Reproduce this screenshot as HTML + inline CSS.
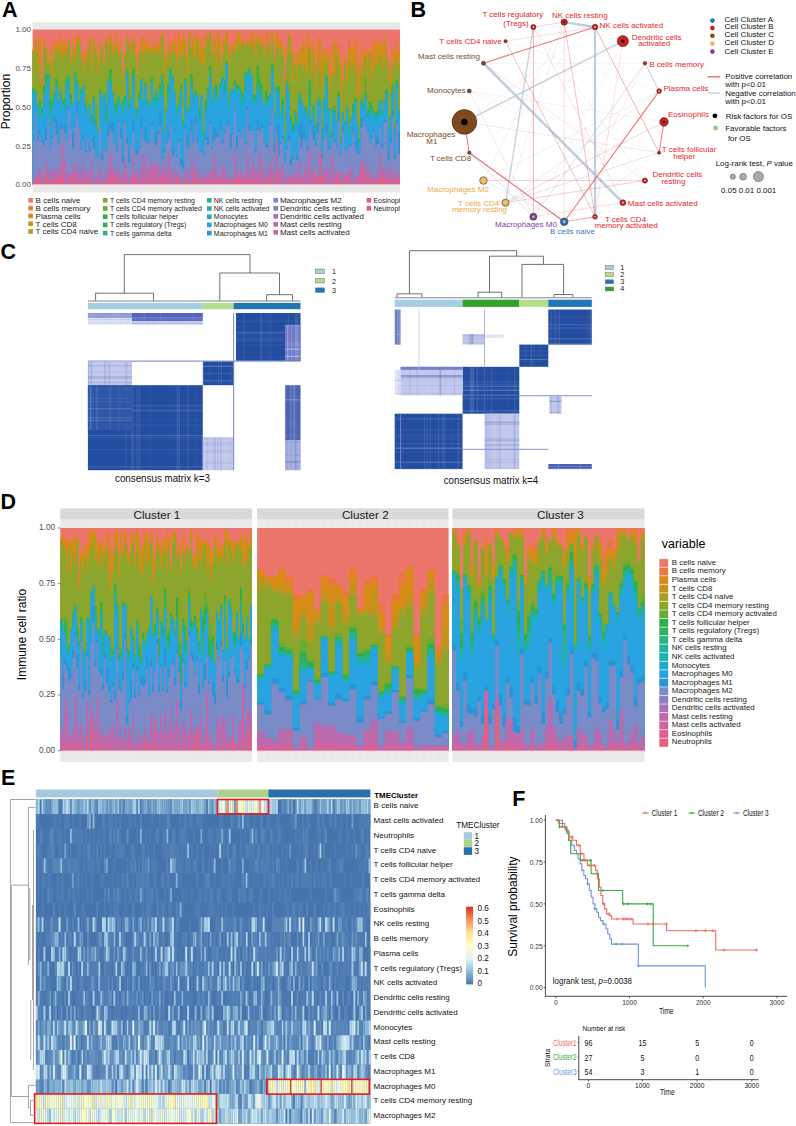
<!DOCTYPE html>
<html><head><meta charset="utf-8"><style>html,body{margin:0;padding:0;background:#fff;width:796px;height:1126px;overflow:hidden}svg{display:block}</style></head>
<body><svg width="796" height="1126" viewBox="0 0 796 1126" font-family='"Liberation Sans", sans-serif'>
<defs><clipPath id="clipA"><rect x="0" y="0" width="400" height="240"/></clipPath></defs>
<g clip-path="url(#clipA)"><rect x="32.6" y="22.3" width="367.4" height="7.2" fill="#EBEBEB"/>
<path d="M33.64 22.3v7.2M35.71 22.3v7.2M37.79 22.3v7.2M39.86 22.3v7.2M41.94 22.3v7.2M44.02 22.3v7.2M46.09 22.3v7.2M48.17 22.3v7.2M50.24 22.3v7.2M52.32 22.3v7.2M54.39 22.3v7.2M56.47 22.3v7.2M58.55 22.3v7.2M60.62 22.3v7.2M62.7 22.3v7.2M64.77 22.3v7.2M66.85 22.3v7.2M68.92 22.3v7.2M71 22.3v7.2M73.08 22.3v7.2M75.15 22.3v7.2M77.23 22.3v7.2M79.3 22.3v7.2M81.38 22.3v7.2M83.45 22.3v7.2M85.53 22.3v7.2M87.61 22.3v7.2M89.68 22.3v7.2M91.76 22.3v7.2M93.83 22.3v7.2M95.91 22.3v7.2M97.98 22.3v7.2M100.06 22.3v7.2M102.14 22.3v7.2M104.21 22.3v7.2M106.29 22.3v7.2M108.36 22.3v7.2M110.44 22.3v7.2M112.51 22.3v7.2M114.59 22.3v7.2M116.67 22.3v7.2M118.74 22.3v7.2M120.82 22.3v7.2M122.89 22.3v7.2M124.97 22.3v7.2M127.04 22.3v7.2M129.12 22.3v7.2M131.2 22.3v7.2M133.27 22.3v7.2M135.35 22.3v7.2M137.42 22.3v7.2M139.5 22.3v7.2M141.57 22.3v7.2M143.65 22.3v7.2M145.73 22.3v7.2M147.8 22.3v7.2M149.88 22.3v7.2M151.95 22.3v7.2M154.03 22.3v7.2M156.1 22.3v7.2M158.18 22.3v7.2M160.26 22.3v7.2M162.33 22.3v7.2M164.41 22.3v7.2M166.48 22.3v7.2M168.56 22.3v7.2M170.63 22.3v7.2M172.71 22.3v7.2M174.79 22.3v7.2M176.86 22.3v7.2M178.94 22.3v7.2M181.01 22.3v7.2M183.09 22.3v7.2M185.16 22.3v7.2M187.24 22.3v7.2M189.32 22.3v7.2M191.39 22.3v7.2M193.47 22.3v7.2M195.54 22.3v7.2M197.62 22.3v7.2M199.69 22.3v7.2M201.77 22.3v7.2M203.85 22.3v7.2M205.92 22.3v7.2M208 22.3v7.2M210.07 22.3v7.2M212.15 22.3v7.2M214.22 22.3v7.2M216.3 22.3v7.2M218.38 22.3v7.2M220.45 22.3v7.2M222.53 22.3v7.2M224.6 22.3v7.2M226.68 22.3v7.2M228.75 22.3v7.2M230.83 22.3v7.2M232.91 22.3v7.2M234.98 22.3v7.2M237.06 22.3v7.2M239.13 22.3v7.2M241.21 22.3v7.2M243.28 22.3v7.2M245.36 22.3v7.2M247.44 22.3v7.2M249.51 22.3v7.2M251.59 22.3v7.2M253.66 22.3v7.2M255.74 22.3v7.2M257.81 22.3v7.2M259.89 22.3v7.2M261.97 22.3v7.2M264.04 22.3v7.2M266.12 22.3v7.2M268.19 22.3v7.2M270.27 22.3v7.2M272.34 22.3v7.2M274.42 22.3v7.2M276.5 22.3v7.2M278.57 22.3v7.2M280.65 22.3v7.2M282.72 22.3v7.2M284.8 22.3v7.2M286.87 22.3v7.2M288.95 22.3v7.2M291.03 22.3v7.2M293.1 22.3v7.2M295.18 22.3v7.2M297.25 22.3v7.2M299.33 22.3v7.2M301.4 22.3v7.2M303.48 22.3v7.2M305.56 22.3v7.2M307.63 22.3v7.2M309.71 22.3v7.2M311.78 22.3v7.2M313.86 22.3v7.2M315.93 22.3v7.2M318.01 22.3v7.2M320.09 22.3v7.2M322.16 22.3v7.2M324.24 22.3v7.2M326.31 22.3v7.2M328.39 22.3v7.2M330.46 22.3v7.2M332.54 22.3v7.2M334.62 22.3v7.2M336.69 22.3v7.2M338.77 22.3v7.2M340.84 22.3v7.2M342.92 22.3v7.2M344.99 22.3v7.2M347.07 22.3v7.2M349.15 22.3v7.2M351.22 22.3v7.2M353.3 22.3v7.2M355.37 22.3v7.2M357.45 22.3v7.2M359.52 22.3v7.2M361.6 22.3v7.2M363.68 22.3v7.2M365.75 22.3v7.2M367.83 22.3v7.2M369.9 22.3v7.2M371.98 22.3v7.2M374.05 22.3v7.2M376.13 22.3v7.2M378.21 22.3v7.2M380.28 22.3v7.2M382.36 22.3v7.2M384.43 22.3v7.2M386.51 22.3v7.2M388.58 22.3v7.2M390.66 22.3v7.2M392.74 22.3v7.2M394.81 22.3v7.2M396.89 22.3v7.2M398.96 22.3v7.2" stroke="#E2E2E2" stroke-width="0.5"/>
<path d="M32.6 184.4L32.6 29.5H34.68L34.68 29.5H36.75L36.75 29.5H38.83L38.83 29.5H40.9L40.9 29.5H42.98L42.98 29.5H45.05L45.05 29.5H47.13L47.13 29.5H49.21L49.21 29.5H51.28L51.28 29.5H53.36L53.36 29.5H55.43L55.43 29.5H57.51L57.51 29.5H59.58L59.58 29.5H61.66L61.66 29.5H63.74L63.74 29.5H65.81L65.81 29.5H67.89L67.89 29.5H69.96L69.96 29.5H72.04L72.04 29.5H74.11L74.11 29.5H76.19L76.19 29.5H78.27L78.27 29.5H80.34L80.34 29.5H82.42L82.42 29.5H84.49L84.49 29.5H86.57L86.57 29.5H88.64L88.64 29.5H90.72L90.72 29.5H92.8L92.8 29.5H94.87L94.87 29.5H96.95L96.95 29.5H99.02L99.02 29.5H101.1L101.1 29.5H103.17L103.17 29.5H105.25L105.25 29.5H107.33L107.33 29.5H109.4L109.4 29.5H111.48L111.48 29.5H113.55L113.55 29.5H115.63L115.63 29.5H117.7L117.7 29.5H119.78L119.78 29.5H121.86L121.86 29.5H123.93L123.93 29.5H126.01L126.01 29.5H128.08L128.08 29.5H130.16L130.16 29.5H132.23L132.23 29.5H134.31L134.31 29.5H136.39L136.39 29.5H138.46L138.46 29.5H140.54L140.54 29.5H142.61L142.61 29.5H144.69L144.69 29.5H146.76L146.76 29.5H148.84L148.84 29.5H150.92L150.92 29.5H152.99L152.99 29.5H155.07L155.07 29.5H157.14L157.14 29.5H159.22L159.22 29.5H161.29L161.29 29.5H163.37L163.37 29.5H165.45L165.45 29.5H167.52L167.52 29.5H169.6L169.6 29.5H171.67L171.67 29.5H173.75L173.75 29.5H175.82L175.82 29.5H177.9L177.9 29.5H179.98L179.98 29.5H182.05L182.05 29.5H184.13L184.13 29.5H186.2L186.2 29.5H188.28L188.28 29.5H190.35L190.35 29.5H192.43L192.43 29.5H194.51L194.51 29.5H196.58L196.58 29.5H198.66L198.66 29.5H200.73L200.73 29.5H202.81L202.81 29.5H204.88L204.88 29.5H206.96L206.96 29.5H209.04L209.04 29.5H211.11L211.11 29.5H213.19L213.19 29.5H215.26L215.26 29.5H217.34L217.34 29.5H219.41L219.41 29.5H221.49L221.49 29.5H223.56L223.56 29.5H225.64L225.64 29.5H227.72L227.72 29.5H229.79L229.79 29.5H231.87L231.87 29.5H233.94L233.94 29.5H236.02L236.02 29.5H238.09L238.09 29.5H240.17L240.17 29.5H242.25L242.25 29.5H244.32L244.32 29.5H246.4L246.4 29.5H248.47L248.47 29.5H250.55L250.55 29.5H252.62L252.62 29.5H254.7L254.7 29.5H256.78L256.78 29.5H258.85L258.85 29.5H260.93L260.93 29.5H263L263 29.5H265.08L265.08 29.5H267.15L267.15 29.5H269.23L269.23 29.5H271.31L271.31 29.5H273.38L273.38 29.5H275.46L275.46 29.5H277.53L277.53 29.5H279.61L279.61 29.5H281.68L281.68 29.5H283.76L283.76 29.5H285.84L285.84 29.5H287.91L287.91 29.5H289.99L289.99 29.5H292.06L292.06 29.5H294.14L294.14 29.5H296.21L296.21 29.5H298.29L298.29 29.5H300.37L300.37 29.5H302.44L302.44 29.5H304.52L304.52 29.5H306.59L306.59 29.5H308.67L308.67 29.5H310.74L310.74 29.5H312.82L312.82 29.5H314.9L314.9 29.5H316.97L316.97 29.5H319.05L319.05 29.5H321.12L321.12 29.5H323.2L323.2 29.5H325.27L325.27 29.5H327.35L327.35 29.5H329.43L329.43 29.5H331.5L331.5 29.5H333.58L333.58 29.5H335.65L335.65 29.5H337.73L337.73 29.5H339.8L339.8 29.5H341.88L341.88 29.5H343.96L343.96 29.5H346.03L346.03 29.5H348.11L348.11 29.5H350.18L350.18 29.5H352.26L352.26 29.5H354.33L354.33 29.5H356.41L356.41 29.5H358.49L358.49 29.5H360.56L360.56 29.5H362.64L362.64 29.5H364.71L364.71 29.5H366.79L366.79 29.5H368.86L368.86 29.5H370.94L370.94 29.5H373.02L373.02 29.5H375.09L375.09 29.5H377.17L377.17 29.5H379.24L379.24 29.5H381.32L381.32 29.5H383.39L383.39 29.5H385.47L385.47 29.5H387.55L387.55 29.5H389.62L389.62 29.5H391.7L391.7 29.5H393.77L393.77 29.5H395.85L395.85 29.5H397.92L397.92 29.5H400L400 184.4Z" fill="#EC756C"/>
<path d="M32.6 184.4L32.6 48.82H34.68L34.68 37.45H36.75L36.75 47.53H38.83L38.83 38.97H40.9L40.9 78.05H42.98L42.98 39.46H45.05L45.05 47.01H47.13L47.13 59.13H49.21L49.21 49.52H51.28L51.28 61.29H53.36L53.36 43.36H55.43L55.43 40.9H57.51L57.51 42.12H59.58L59.58 36.18H61.66L61.66 45.21H63.74L63.74 41.47H65.81L65.81 46.73H67.89L67.89 37.35H69.96L69.96 56.26H72.04L72.04 38.82H74.11L74.11 44.63H76.19L76.19 34.64H78.27L78.27 37.24H80.34L80.34 51.66H82.42L82.42 64.44H84.49L84.49 50.69H86.57L86.57 49.6H88.64L88.64 37.19H90.72L90.72 49.83H92.8L92.8 38.18H94.87L94.87 46.71H96.95L96.95 55.44H99.02L99.02 42.13H101.1L101.1 44.94H103.17L103.17 60.07H105.25L105.25 37.21H107.33L107.33 44.15H109.4L109.4 35.33H111.48L111.48 44.68H113.55L113.55 43.28H115.63L115.63 34.96H117.7L117.7 52.54H119.78L119.78 43.09H121.86L121.86 71.72H123.93L123.93 51.89H126.01L126.01 34.97H128.08L128.08 39.91H130.16L130.16 43.63H132.23L132.23 35.65H134.31L134.31 42.93H136.39L136.39 70.25H138.46L138.46 50.52H140.54L140.54 37.44H142.61L142.61 37.37H144.69L144.69 44.22H146.76L146.76 35.83H148.84L148.84 46.55H150.92L150.92 46.52H152.99L152.99 41H155.07L155.07 40.62H157.14L157.14 42.93H159.22L159.22 37.03H161.29L161.29 32.82H163.37L163.37 53.41H165.45L165.45 50.52H167.52L167.52 41.25H169.6L169.6 51.94H171.67L171.67 42.25H173.75L173.75 34.87H175.82L175.82 44.64H177.9L177.9 32.1H179.98L179.98 39.83H182.05L182.05 34.59H184.13L184.13 40.58H186.2L186.2 54.26H188.28L188.28 32.74H190.35L190.35 47.72H192.43L192.43 39.57H194.51L194.51 33.23H196.58L196.58 35.5H198.66L198.66 42.88H200.73L200.73 39.54H202.81L202.81 47.89H204.88L204.88 33.92H206.96L206.96 36.06H209.04L209.04 31.26H211.11L211.11 52.59H213.19L213.19 32.96H215.26L215.26 39.74H217.34L217.34 32.66H219.41L219.41 59.42H221.49L221.49 41.23H223.56L223.56 37.61H225.64L225.64 31.44H227.72L227.72 44.75H229.79L229.79 51.59H231.87L231.87 42.61H233.94L233.94 38.69H236.02L236.02 33.68H238.09L238.09 32.36H240.17L240.17 39.4H242.25L242.25 39.45H244.32L244.32 44.91H246.4L246.4 40.15H248.47L248.47 41.45H250.55L250.55 32.44H252.62L252.62 33.61H254.7L254.7 41.66H256.78L256.78 34.43H258.85L258.85 38.38H260.93L260.93 35.16H263L263 44.67H265.08L265.08 33.54H267.15L267.15 32.54H269.23L269.23 47.77H271.31L271.31 32.07H273.38L273.38 56.59H275.46L275.46 31.92H277.53L277.53 36.54H279.61L279.61 38.43H281.68L281.68 46.09H283.76L283.76 75.44H285.84L285.84 48.16H287.91L287.91 33.57H289.99L289.99 36.85H292.06L292.06 51.99H294.14L294.14 63.92H296.21L296.21 51.66H298.29L298.29 49.72H300.37L300.37 47.59H302.44L302.44 42.47H304.52L304.52 47.01H306.59L306.59 36.11H308.67L308.67 41.97H310.74L310.74 51.14H312.82L312.82 43.61H314.9L314.9 65.79H316.97L316.97 37.39H319.05L319.05 38.07H321.12L321.12 55.4H323.2L323.2 50.11H325.27L325.27 48.21H327.35L327.35 51.43H329.43L329.43 68.87H331.5L331.5 44.16H333.58L333.58 40.73H335.65L335.65 46.77H337.73L337.73 42.83H339.8L339.8 60.26H341.88L341.88 79.14H343.96L343.96 53.9H346.03L346.03 63.43H348.11L348.11 41.75H350.18L350.18 49.63H352.26L352.26 47.24H354.33L354.33 38.13H356.41L356.41 55.68H358.49L358.49 71.7H360.56L360.56 46.51H362.64L362.64 49.58H364.71L364.71 49.62H366.79L366.79 52.38H368.86L368.86 49.23H370.94L370.94 49.58H373.02L373.02 38.6H375.09L375.09 43.83H377.17L377.17 40.14H379.24L379.24 43.88H381.32L381.32 43.15H383.39L383.39 38.71H385.47L385.47 46.07H387.55L387.55 60.17H389.62L389.62 74.78H391.7L391.7 48.25H393.77L393.77 52.23H395.85L395.85 40.19H397.92L397.92 51.69H400L400 184.4Z" fill="#E9773F"/>
<path d="M32.6 184.4L32.6 49.27H34.68L34.68 37.55H36.75L36.75 56.04H38.83L38.83 38.97H40.9L40.9 78.43H42.98L42.98 39.46H45.05L45.05 47.01H47.13L47.13 59.13H49.21L49.21 50.2H51.28L51.28 61.31H53.36L53.36 46.13H55.43L55.43 44.04H57.51L57.51 43.35H59.58L59.58 40.85H61.66L61.66 45.56H63.74L63.74 41.59H65.81L65.81 46.73H67.89L67.89 37.63H69.96L69.96 56.32H72.04L72.04 42.67H74.11L74.11 46.68H76.19L76.19 35.17H78.27L78.27 37.64H80.34L80.34 52.82H82.42L82.42 64.53H84.49L84.49 55.41H86.57L86.57 49.63H88.64L88.64 37.2H90.72L90.72 53.81H92.8L92.8 38.22H94.87L94.87 47.04H96.95L96.95 55.63H99.02L99.02 42.14H101.1L101.1 45.32H103.17L103.17 62.58H105.25L105.25 37.63H107.33L107.33 44.19H109.4L109.4 35.33H111.48L111.48 47.54H113.55L113.55 43.32H115.63L115.63 35.55H117.7L117.7 54.19H119.78L119.78 44.11H121.86L121.86 71.72H123.93L123.93 52.13H126.01L126.01 34.97H128.08L128.08 42.81H130.16L130.16 48.51H132.23L132.23 35.67H134.31L134.31 42.93H136.39L136.39 70.47H138.46L138.46 51.65H140.54L140.54 37.61H142.61L142.61 43.19H144.69L144.69 44.22H146.76L146.76 37.36H148.84L148.84 46.55H150.92L150.92 46.52H152.99L152.99 48.07H155.07L155.07 40.63H157.14L157.14 47.9H159.22L159.22 42.07H161.29L161.29 33.14H163.37L163.37 55.01H165.45L165.45 51.49H167.52L167.52 42.26H169.6L169.6 54.52H171.67L171.67 42.3H173.75L173.75 40.33H175.82L175.82 53.01H177.9L177.9 33.44H179.98L179.98 39.9H182.05L182.05 36.97H184.13L184.13 40.59H186.2L186.2 57.3H188.28L188.28 32.76H190.35L190.35 47.74H192.43L192.43 40.29H194.51L194.51 35.49H196.58L196.58 35.52H198.66L198.66 44.82H200.73L200.73 40.51H202.81L202.81 48.08H204.88L204.88 34.7H206.96L206.96 38.09H209.04L209.04 31.85H211.11L211.11 53.36H213.19L213.19 38.47H215.26L215.26 39.82H217.34L217.34 32.7H219.41L219.41 59.54H221.49L221.49 41.27H223.56L223.56 37.99H225.64L225.64 31.51H227.72L227.72 45.39H229.79L229.79 53.42H231.87L231.87 42.87H233.94L233.94 44.45H236.02L236.02 33.68H238.09L238.09 32.36H240.17L240.17 40.37H242.25L242.25 39.6H244.32L244.32 45.58H246.4L246.4 41.14H248.47L248.47 41.45H250.55L250.55 34.47H252.62L252.62 33.61H254.7L254.7 42.55H256.78L256.78 34.43H258.85L258.85 38.62H260.93L260.93 35.16H263L263 44.7H265.08L265.08 52.47H267.15L267.15 36.21H269.23L269.23 47.77H271.31L271.31 32.21H273.38L273.38 56.92H275.46L275.46 34.75H277.53L277.53 36.94H279.61L279.61 43.8H281.68L281.68 46.09H283.76L283.76 84.3H285.84L285.84 48.23H287.91L287.91 34.1H289.99L289.99 37.06H292.06L292.06 51.99H294.14L294.14 64.09H296.21L296.21 53.95H298.29L298.29 50.9H300.37L300.37 49.7H302.44L302.44 42.49H304.52L304.52 47.88H306.59L306.59 36.48H308.67L308.67 42H310.74L310.74 51.14H312.82L312.82 49.31H314.9L314.9 75.14H316.97L316.97 46.97H319.05L319.05 41.42H321.12L321.12 55.46H323.2L323.2 52.84H325.27L325.27 48.92H327.35L327.35 51.43H329.43L329.43 74.98H331.5L331.5 53.7H333.58L333.58 40.78H335.65L335.65 47.68H337.73L337.73 53.06H339.8L339.8 61.45H341.88L341.88 80.68H343.96L343.96 55.19H346.03L346.03 63.51H348.11L348.11 47.14H350.18L350.18 50.64H352.26L352.26 48.08H354.33L354.33 40.69H356.41L356.41 63.15H358.49L358.49 74.1H360.56L360.56 51.87H362.64L362.64 52.64H364.71L364.71 50.71H366.79L366.79 57.08H368.86L368.86 49.44H370.94L370.94 59.25H373.02L373.02 38.61H375.09L375.09 45.06H377.17L377.17 42.56H379.24L379.24 43.91H381.32L381.32 43.27H383.39L383.39 39.44H385.47L385.47 53.48H387.55L387.55 61.6H389.62L389.62 74.85H391.7L391.7 49.43H393.77L393.77 59.4H395.85L395.85 44.37H397.92L397.92 51.7H400L400 184.4Z" fill="#D98B17"/>
<path d="M32.6 184.4L32.6 49.86H34.68L34.68 40.14H36.75L36.75 60.97H38.83L38.83 41.72H40.9L40.9 83.74H42.98L42.98 42.66H45.05L45.05 48.56H47.13L47.13 61.17H49.21L49.21 50.76H51.28L51.28 71.5H53.36L53.36 46.14H55.43L55.43 48.45H57.51L57.51 54.52H59.58L59.58 44.88H61.66L61.66 54.15H63.74L63.74 49.41H65.81L65.81 47.5H67.89L67.89 39.38H69.96L69.96 57.24H72.04L72.04 44.18H74.11L74.11 52.89H76.19L76.19 37.71H78.27L78.27 38.68H80.34L80.34 53.43H82.42L82.42 65.97H84.49L84.49 59.07H86.57L86.57 51.49H88.64L88.64 38.5H90.72L90.72 69.68H92.8L92.8 38.46H94.87L94.87 47.91H96.95L96.95 56.18H99.02L99.02 43.37H101.1L101.1 47.58H103.17L103.17 62.88H105.25L105.25 38.35H107.33L107.33 46.72H109.4L109.4 35.69H111.48L111.48 56.62H113.55L113.55 49.82H115.63L115.63 38.48H117.7L117.7 55.92H119.78L119.78 46.08H121.86L121.86 73.45H123.93L123.93 53.26H126.01L126.01 35.14H128.08L128.08 45.18H130.16L130.16 51.36H132.23L132.23 38.95H134.31L134.31 55.89H136.39L136.39 70.59H138.46L138.46 53.36H140.54L140.54 38.7H142.61L142.61 53.14H144.69L144.69 48.1H146.76L146.76 49.47H148.84L148.84 46.66H150.92L150.92 47.72H152.99L152.99 52.44H155.07L155.07 44.98H157.14L157.14 49.62H159.22L159.22 42.51H161.29L161.29 33.45H163.37L163.37 55.16H165.45L165.45 59.34H167.52L167.52 44.58H169.6L169.6 55.5H171.67L171.67 42.61H173.75L173.75 50.44H175.82L175.82 54.16H177.9L177.9 47.51H179.98L179.98 49.12H182.05L182.05 38.85H184.13L184.13 41.11H186.2L186.2 64.05H188.28L188.28 34.79H190.35L190.35 47.82H192.43L192.43 40.98H194.51L194.51 59.61H196.58L196.58 38.25H198.66L198.66 49.51H200.73L200.73 61.89H202.81L202.81 58.38H204.88L204.88 43.37H206.96L206.96 38.2H209.04L209.04 32.07H211.11L211.11 53.57H213.19L213.19 41.49H215.26L215.26 50.26H217.34L217.34 36.68H219.41L219.41 60.51H221.49L221.49 51.91H223.56L223.56 41.01H225.64L225.64 33.41H227.72L227.72 50.15H229.79L229.79 54.32H231.87L231.87 45.08H233.94L233.94 50.13H236.02L236.02 40.71H238.09L238.09 35.03H240.17L240.17 44.65H242.25L242.25 39.88H244.32L244.32 47.49H246.4L246.4 42.89H248.47L248.47 42.82H250.55L250.55 35.24H252.62L252.62 37.79H254.7L254.7 54.09H256.78L256.78 36.61H258.85L258.85 44.48H260.93L260.93 38.68H263L263 45.62H265.08L265.08 52.58H267.15L267.15 36.38H269.23L269.23 50.84H271.31L271.31 32.26H273.38L273.38 59.44H275.46L275.46 41.74H277.53L277.53 43.48H279.61L279.61 46.75H281.68L281.68 47.63H283.76L283.76 97.51H285.84L285.84 52.74H287.91L287.91 35.41H289.99L289.99 53.58H292.06L292.06 52.32H294.14L294.14 65.12H296.21L296.21 55.56H298.29L298.29 54.54H300.37L300.37 62.73H302.44L302.44 45.32H304.52L304.52 64.33H306.59L306.59 52.07H308.67L308.67 44.69H310.74L310.74 68.04H312.82L312.82 52.43H314.9L314.9 77.52H316.97L316.97 55.5H319.05L319.05 43.16H321.12L321.12 83.03H323.2L323.2 58.61H325.27L325.27 57.02H327.35L327.35 53.97H329.43L329.43 85.18H331.5L331.5 71.91H333.58L333.58 43.64H335.65L335.65 53.58H337.73L337.73 61.05H339.8L339.8 67.93H341.88L341.88 81.21H343.96L343.96 59.69H346.03L346.03 76.67H348.11L348.11 50.11H350.18L350.18 63.83H352.26L352.26 55.69H354.33L354.33 46.89H356.41L356.41 64.68H358.49L358.49 87.64H360.56L360.56 65.63H362.64L362.64 56.68H364.71L364.71 55.15H366.79L366.79 67.83H368.86L368.86 53.36H370.94L370.94 67.57H373.02L373.02 56.12H375.09L375.09 55.77H377.17L377.17 47.05H379.24L379.24 54.55H381.32L381.32 54.48H383.39L383.39 41.77H385.47L385.47 53.79H387.55L387.55 62.78H389.62L389.62 78.06H391.7L391.7 61.34H393.77L393.77 60.03H395.85L395.85 51.67H397.92L397.92 60.05H400L400 184.4Z" fill="#C4921A"/>
<path d="M32.6 184.4L32.6 51.68H34.68L34.68 50.45H36.75L36.75 63.58H38.83L38.83 76.05H40.9L40.9 89.78H42.98L42.98 47.36H45.05L45.05 49.46H47.13L47.13 63.31H49.21L49.21 52.17H51.28L51.28 72.73H53.36L53.36 48.28H55.43L55.43 48.5H57.51L57.51 56.05H59.58L59.58 51.58H61.66L61.66 59.88H63.74L63.74 53.92H65.81L65.81 52.37H67.89L67.89 42.56H69.96L69.96 63.24H72.04L72.04 46.23H74.11L74.11 59.31H76.19L76.19 43.29H78.27L78.27 45.05H80.34L80.34 58.04H82.42L82.42 72.35H84.49L84.49 60.73H86.57L86.57 62.99H88.64L88.64 43.57H90.72L90.72 70.51H92.8L92.8 49.18H94.87L94.87 49.44H96.95L96.95 72.03H99.02L99.02 60.24H101.1L101.1 49.2H103.17L103.17 64.47H105.25L105.25 40.45H107.33L107.33 57.53H109.4L109.4 44.48H111.48L111.48 56.85H113.55L113.55 53.85H115.63L115.63 48.23H117.7L117.7 56.92H119.78L119.78 46.54H121.86L121.86 74.31H123.93L123.93 57.28H126.01L126.01 40.49H128.08L128.08 46.75H130.16L130.16 51.96H132.23L132.23 40.13H134.31L134.31 56.75H136.39L136.39 74.5H138.46L138.46 54.51H140.54L140.54 51.62H142.61L142.61 62.8H144.69L144.69 51.17H146.76L146.76 52.34H148.84L148.84 53.44H150.92L150.92 48.67H152.99L152.99 54.06H155.07L155.07 55.72H157.14L157.14 52.46H159.22L159.22 48.77H161.29L161.29 36.11H163.37L163.37 79H165.45L165.45 65.27H167.52L167.52 46.52H169.6L169.6 55.83H171.67L171.67 51.98H173.75L173.75 52.2H175.82L175.82 66.58H177.9L177.9 57.89H179.98L179.98 57.81H182.05L182.05 55.57H184.13L184.13 54.21H186.2L186.2 75.18H188.28L188.28 38.94H190.35L190.35 48.44H192.43L192.43 54.31H194.51L194.51 60.9H196.58L196.58 40.37H198.66L198.66 59.17H200.73L200.73 63.58H202.81L202.81 67.63H204.88L204.88 47.99H206.96L206.96 39H209.04L209.04 33.26H211.11L211.11 57.44H213.19L213.19 51.09H215.26L215.26 69.85H217.34L217.34 48.16H219.41L219.41 65.74H221.49L221.49 57.55H223.56L223.56 50.41H225.64L225.64 43.54H227.72L227.72 65.73H229.79L229.79 55.66H231.87L231.87 48.65H233.94L233.94 53.66H236.02L236.02 45.96H238.09L238.09 42.99H240.17L240.17 47.24H242.25L242.25 43.91H244.32L244.32 47.66H246.4L246.4 42.98H248.47L248.47 47.42H250.55L250.55 45.12H252.62L252.62 48H254.7L254.7 57.29H256.78L256.78 41.68H258.85L258.85 46.22H260.93L260.93 46.87H263L263 48.61H265.08L265.08 55.6H267.15L267.15 40.64H269.23L269.23 55.65H271.31L271.31 42.53H273.38L273.38 60.94H275.46L275.46 45.31H277.53L277.53 51.12H279.61L279.61 47.42H281.68L281.68 54.85H283.76L283.76 101.31H285.84L285.84 58.37H287.91L287.91 37.03H289.99L289.99 54.35H292.06L292.06 80.82H294.14L294.14 65.94H296.21L296.21 62.85H298.29L298.29 62.96H300.37L300.37 65.25H302.44L302.44 65.27H304.52L304.52 70.06H306.59L306.59 77.57H308.67L308.67 48.04H310.74L310.74 73.61H312.82L312.82 58.26H314.9L314.9 88.33H316.97L316.97 66.68H319.05L319.05 70.7H321.12L321.12 86.05H323.2L323.2 62.31H325.27L325.27 59.68H327.35L327.35 72.42H329.43L329.43 91.53H331.5L331.5 74.64H333.58L333.58 76.56H335.65L335.65 54.94H337.73L337.73 66.58H339.8L339.8 97.85H341.88L341.88 84.53H343.96L343.96 62.67H346.03L346.03 81.89H348.11L348.11 62.83H350.18L350.18 69.43H352.26L352.26 66.56H354.33L354.33 72.14H356.41L356.41 96.74H358.49L358.49 95.85H360.56L360.56 73.56H362.64L362.64 68.52H364.71L364.71 57.3H366.79L366.79 93.63H368.86L368.86 53.6H370.94L370.94 78.7H373.02L373.02 69.98H375.09L375.09 64.18H377.17L377.17 60.09H379.24L379.24 56.23H381.32L381.32 69.64H383.39L383.39 66.35H385.47L385.47 58.18H387.55L387.55 79.6H389.62L389.62 93.84H391.7L391.7 64.37H393.77L393.77 68.83H395.85L395.85 60.92H397.92L397.92 69.75H400L400 184.4Z" fill="#AA9E25"/>
<path d="M32.6 184.4L32.6 51.68H34.68L34.68 50.45H36.75L36.75 63.6H38.83L38.83 76.05H40.9L40.9 89.78H42.98L42.98 47.36H45.05L45.05 56.57H47.13L47.13 63.31H49.21L49.21 64.24H51.28L51.28 72.88H53.36L53.36 58.22H55.43L55.43 50.82H57.51L57.51 56.05H59.58L59.58 51.58H61.66L61.66 61.47H63.74L63.74 53.92H65.81L65.81 52.4H67.89L67.89 42.56H69.96L69.96 64.07H72.04L72.04 57.78H74.11L74.11 59.33H76.19L76.19 43.46H78.27L78.27 45.97H80.34L80.34 58.04H82.42L82.42 72.43H84.49L84.49 61.07H86.57L86.57 62.99H88.64L88.64 43.59H90.72L90.72 70.51H92.8L92.8 58.66H94.87L94.87 49.89H96.95L96.95 74.9H99.02L99.02 60.24H101.1L101.1 49.49H103.17L103.17 64.5H105.25L105.25 40.45H107.33L107.33 57.88H109.4L109.4 44.48H111.48L111.48 56.85H113.55L113.55 53.92H115.63L115.63 48.24H117.7L117.7 56.92H119.78L119.78 53.26H121.86L121.86 74.74H123.93L123.93 57.28H126.01L126.01 40.49H128.08L128.08 47.35H130.16L130.16 52.61H132.23L132.23 40.13H134.31L134.31 56.76H136.39L136.39 74.5H138.46L138.46 54.51H140.54L140.54 51.95H142.61L142.61 62.8H144.69L144.69 51.17H146.76L146.76 52.38H148.84L148.84 53.44H150.92L150.92 48.67H152.99L152.99 54.07H155.07L155.07 55.72H157.14L157.14 52.46H159.22L159.22 53.99H161.29L161.29 36.11H163.37L163.37 79.03H165.45L165.45 65.27H167.52L167.52 54.21H169.6L169.6 55.83H171.67L171.67 51.98H173.75L173.75 52.2H175.82L175.82 67.12H177.9L177.9 57.93H179.98L179.98 58.53H182.05L182.05 55.62H184.13L184.13 54.29H186.2L186.2 75.18H188.28L188.28 40.23H190.35L190.35 49.68H192.43L192.43 54.36H194.51L194.51 61.05H196.58L196.58 40.45H198.66L198.66 59.17H200.73L200.73 63.6H202.81L202.81 68.41H204.88L204.88 48.04H206.96L206.96 39H209.04L209.04 33.26H211.11L211.11 57.45H213.19L213.19 51.09H215.26L215.26 73.4H217.34L217.34 50.32H219.41L219.41 65.74H221.49L221.49 57.63H223.56L223.56 51.29H225.64L225.64 43.54H227.72L227.72 65.73H229.79L229.79 55.66H231.87L231.87 48.65H233.94L233.94 53.67H236.02L236.02 49.99H238.09L238.09 42.99H240.17L240.17 47.24H242.25L242.25 43.98H244.32L244.32 47.67H246.4L246.4 43.08H248.47L248.47 47.47H250.55L250.55 45.32H252.62L252.62 48H254.7L254.7 57.3H256.78L256.78 41.68H258.85L258.85 46.22H260.93L260.93 46.87H263L263 55.52H265.08L265.08 56.6H267.15L267.15 42.53H269.23L269.23 55.65H271.31L271.31 43.09H273.38L273.38 60.94H275.46L275.46 47.57H277.53L277.53 52.8H279.61L279.61 49.34H281.68L281.68 54.88H283.76L283.76 104.96H285.84L285.84 58.37H287.91L287.91 37.1H289.99L289.99 54.5H292.06L292.06 82.94H294.14L294.14 65.95H296.21L296.21 80.57H298.29L298.29 62.96H300.37L300.37 65.25H302.44L302.44 67.33H304.52L304.52 70.37H306.59L306.59 77.57H308.67L308.67 48.04H310.74L310.74 75.65H312.82L312.82 58.26H314.9L314.9 88.79H316.97L316.97 66.68H319.05L319.05 71.23H321.12L321.12 89H323.2L323.2 62.33H325.27L325.27 61.42H327.35L327.35 87.83H329.43L329.43 91.53H331.5L331.5 74.94H333.58L333.58 76.58H335.65L335.65 55.37H337.73L337.73 66.62H339.8L339.8 97.85H341.88L341.88 85.32H343.96L343.96 62.67H346.03L346.03 81.92H348.11L348.11 62.83H350.18L350.18 69.95H352.26L352.26 66.8H354.33L354.33 72.14H356.41L356.41 96.74H358.49L358.49 95.85H360.56L360.56 73.56H362.64L362.64 68.61H364.71L364.71 57.31H366.79L366.79 93.64H368.86L368.86 53.6H370.94L370.94 78.78H373.02L373.02 69.98H375.09L375.09 64.18H377.17L377.17 64.34H379.24L379.24 56.25H381.32L381.32 69.78H383.39L383.39 66.35H385.47L385.47 59.47H387.55L387.55 79.86H389.62L389.62 94.07H391.7L391.7 64.37H393.77L393.77 68.83H395.85L395.85 61.96H397.92L397.92 69.75H400L400 184.4Z" fill="#8CA52C"/>
<path d="M32.6 184.4L32.6 86.27H34.68L34.68 90.07H36.75L36.75 104.74H38.83L38.83 101.38H40.9L40.9 106.73H42.98L42.98 85.74H45.05L45.05 69.94H47.13L47.13 74.02H49.21L49.21 98.19H51.28L51.28 100.75H53.36L53.36 92.67H55.43L55.43 76.44H57.51L57.51 101.01H59.58L59.58 84.94H61.66L61.66 101.25H63.74L63.74 98.52H65.81L65.81 77.75H67.89L67.89 74.86H69.96L69.96 93.38H72.04L72.04 103.23H74.11L74.11 72.63H76.19L76.19 81.26H78.27L78.27 100.56H80.34L80.34 89.37H82.42L82.42 85.63H84.49L84.49 101.12H86.57L86.57 109.71H88.64L88.64 104.84H90.72L90.72 114.52H92.8L92.8 95.17H94.87L94.87 100.69H96.95L96.95 129.44H99.02L99.02 89.61H101.1L101.1 96.8H103.17L103.17 93.58H105.25L105.25 102.9H107.33L107.33 76.79H109.4L109.4 69.06H111.48L111.48 91.63H113.55L113.55 104.35H115.63L115.63 99.28H117.7L117.7 96.46H119.78L119.78 103.85H121.86L121.86 100.52H123.93L123.93 95.81H126.01L126.01 68.74H128.08L128.08 86.4H130.16L130.16 97.49H132.23L132.23 65.58H134.31L134.31 108.19H136.39L136.39 108.73H138.46L138.46 93.1H140.54L140.54 79.11H142.61L142.61 98.42H144.69L144.69 82.8H146.76L146.76 100.37H148.84L148.84 102.18H150.92L150.92 75.66H152.99L152.99 97.23H155.07L155.07 89.36H157.14L157.14 96.16H159.22L159.22 83.41H161.29L161.29 74.73H163.37L163.37 130.11H165.45L165.45 109.32H167.52L167.52 83.04H169.6L169.6 67.67H171.67L171.67 75.95H173.75L173.75 88.49H175.82L175.82 103.78H177.9L177.9 92.82H179.98L179.98 84.53H182.05L182.05 120.38H184.13L184.13 78.07H186.2L186.2 108.69H188.28L188.28 97.65H190.35L190.35 74.04H192.43L192.43 93.6H194.51L194.51 90.36H196.58L196.58 93.67H198.66L198.66 106.46H200.73L200.73 94.91H202.81L202.81 131.69H204.88L204.88 100.42H206.96L206.96 87.56H209.04L209.04 65.78H211.11L211.11 99.07H213.19L213.19 86.37H215.26L215.26 84.82H217.34L217.34 96.53H219.41L219.41 83.35H221.49L221.49 76.89H223.56L223.56 79.8H225.64L225.64 61.31H227.72L227.72 97.16H229.79L229.79 88.44H231.87L231.87 90.07H233.94L233.94 80.61H236.02L236.02 83.47H238.09L238.09 85.57H240.17L240.17 90.17H242.25L242.25 93.94H244.32L244.32 72.14H246.4L246.4 71.08H248.47L248.47 68.81H250.55L250.55 73.94H252.62L252.62 95.04H254.7L254.7 94.66H256.78L256.78 65.88H258.85L258.85 76.72H260.93L260.93 83.32H263L263 100.08H265.08L265.08 90.82H267.15L267.15 96.48H269.23L269.23 92.71H271.31L271.31 63.72H273.38L273.38 112.83H275.46L275.46 86.33H277.53L277.53 85.69H279.61L279.61 109.17H281.68L281.68 95.85H283.76L283.76 136.49H285.84L285.84 80.46H287.91L287.91 84.64H289.99L289.99 115.48H292.06L292.06 123.8H294.14L294.14 110.85H296.21L296.21 121.4H298.29L298.29 93.57H300.37L300.37 99.56H302.44L302.44 106.26H304.52L304.52 106.79H306.59L306.59 113.57H308.67L308.67 80.61H310.74L310.74 115.53H312.82L312.82 105.38H314.9L314.9 124.61H316.97L316.97 95.45H319.05L319.05 100.04H321.12L321.12 127.26H323.2L323.2 97.83H325.27L325.27 76.33H327.35L327.35 107.85H329.43L329.43 131.51H331.5L331.5 108.67H333.58L333.58 106.17H335.65L335.65 118.86H337.73L337.73 91.58H339.8L339.8 134.13H341.88L341.88 110.64H343.96L343.96 121.2H346.03L346.03 105.58H348.11L348.11 125.64H350.18L350.18 116.36H352.26L352.26 103.92H354.33L354.33 97.81H356.41L356.41 122.24H358.49L358.49 138.82H360.56L360.56 98.56H362.64L362.64 102.32H364.71L364.71 75.96H366.79L366.79 106.63H368.86L368.86 102.42H370.94L370.94 104.97H373.02L373.02 109.9H375.09L375.09 111.93H377.17L377.17 101.03H379.24L379.24 100.34H381.32L381.32 110.48H383.39L383.39 99.24H385.47L385.47 88.97H387.55L387.55 126.45H389.62L389.62 115.48H391.7L391.7 85.29H393.77L393.77 118.01H395.85L395.85 79.62H397.92L397.92 109.52H400L400 184.4Z" fill="#66AC35"/>
<path d="M32.6 184.4L32.6 89.02H34.68L34.68 91.38H36.75L36.75 104.75H38.83L38.83 101.55H40.9L40.9 108.39H42.98L42.98 85.84H45.05L45.05 74.48H47.13L47.13 74.02H49.21L49.21 98.23H51.28L51.28 101.37H53.36L53.36 93.94H55.43L55.43 79.85H57.51L57.51 101.17H59.58L59.58 91.37H61.66L61.66 101.3H63.74L63.74 98.52H65.81L65.81 78.66H67.89L67.89 77.15H69.96L69.96 93.41H72.04L72.04 103.47H74.11L74.11 72.77H76.19L76.19 82H78.27L78.27 101.14H80.34L80.34 89.37H82.42L82.42 85.73H84.49L84.49 101.13H86.57L86.57 110.47H88.64L88.64 104.99H90.72L90.72 114.55H92.8L92.8 96.83H94.87L94.87 119.35H96.95L96.95 129.47H99.02L99.02 89.71H101.1L101.1 99.47H103.17L103.17 93.58H105.25L105.25 104.14H107.33L107.33 80.14H109.4L109.4 69.06H111.48L111.48 91.71H113.55L113.55 104.37H115.63L115.63 101.99H117.7L117.7 96.46H119.78L119.78 103.85H121.86L121.86 100.55H123.93L123.93 96.15H126.01L126.01 71.39H128.08L128.08 105.74H130.16L130.16 97.58H132.23L132.23 70.86H134.31L134.31 108.19H136.39L136.39 108.85H138.46L138.46 93.1H140.54L140.54 79.11H142.61L142.61 99.22H144.69L144.69 83.39H146.76L146.76 100.38H148.84L148.84 102.61H150.92L150.92 77.56H152.99L152.99 97.24H155.07L155.07 91.68H157.14L157.14 98.6H159.22L159.22 83.59H161.29L161.29 74.76H163.37L163.37 131.17H165.45L165.45 109.77H167.52L167.52 83.04H169.6L169.6 68.84H171.67L171.67 76.45H173.75L173.75 93.68H175.82L175.82 108.33H177.9L177.9 102.9H179.98L179.98 85.13H182.05L182.05 121.11H184.13L184.13 78.2H186.2L186.2 109.47H188.28L188.28 107.71H190.35L190.35 74.08H192.43L192.43 96.17H194.51L194.51 90.76H196.58L196.58 94.87H198.66L198.66 109.21H200.73L200.73 94.91H202.81L202.81 132.46H204.88L204.88 101H206.96L206.96 87.56H209.04L209.04 65.93H211.11L211.11 99.52H213.19L213.19 86.37H215.26L215.26 84.82H217.34L217.34 97.45H219.41L219.41 83.35H221.49L221.49 76.96H223.56L223.56 80.22H225.64L225.64 62.4H227.72L227.72 105.26H229.79L229.79 89.62H231.87L231.87 90.09H233.94L233.94 80.81H236.02L236.02 85.33H238.09L238.09 87.02H240.17L240.17 90.42H242.25L242.25 93.94H244.32L244.32 72.58H246.4L246.4 71.16H248.47L248.47 69.1H250.55L250.55 76.17H252.62L252.62 95.17H254.7L254.7 94.67H256.78L256.78 65.89H258.85L258.85 80.8H260.93L260.93 85.84H263L263 103.99H265.08L265.08 91.76H267.15L267.15 96.53H269.23L269.23 93.67H271.31L271.31 63.72H273.38L273.38 114.11H275.46L275.46 86.33H277.53L277.53 86.51H279.61L279.61 114.97H281.68L281.68 98.68H283.76L283.76 136.8H285.84L285.84 82.05H287.91L287.91 92.93H289.99L289.99 117.8H292.06L292.06 124.05H294.14L294.14 111.05H296.21L296.21 121.41H298.29L298.29 93.57H300.37L300.37 99.56H302.44L302.44 106.8H304.52L304.52 107.75H306.59L306.59 114.7H308.67L308.67 81.03H310.74L310.74 120.28H312.82L312.82 105.43H314.9L314.9 124.85H316.97L316.97 98.41H319.05L319.05 100.4H321.12L321.12 127.74H323.2L323.2 98.07H325.27L325.27 76.38H327.35L327.35 107.97H329.43L329.43 137.13H331.5L331.5 109.19H333.58L333.58 110.07H335.65L335.65 121.86H337.73L337.73 92.64H339.8L339.8 138.12H341.88L341.88 112.2H343.96L343.96 121.21H346.03L346.03 106.74H348.11L348.11 126.86H350.18L350.18 118.39H352.26L352.26 104.12H354.33L354.33 98.16H356.41L356.41 123.95H358.49L358.49 139.5H360.56L360.56 100.89H362.64L362.64 103.23H364.71L364.71 92.97H366.79L366.79 111.31H368.86L368.86 102.46H370.94L370.94 105.66H373.02L373.02 113.05H375.09L375.09 112.01H377.17L377.17 110.86H379.24L379.24 100.64H381.32L381.32 111.24H383.39L383.39 100.09H385.47L385.47 89.49H387.55L387.55 128.26H389.62L389.62 115.68H391.7L391.7 85.58H393.77L393.77 128.07H395.85L395.85 79.84H397.92L397.92 110.64H400L400 184.4Z" fill="#2BB04A"/>
<path d="M32.6 184.4L32.6 89.99H34.68L34.68 91.94H36.75L36.75 106.96H38.83L38.83 103.28H40.9L40.9 113.13H42.98L42.98 92.3H45.05L45.05 82.38H47.13L47.13 74.06H49.21L49.21 109.37H51.28L51.28 101.51H53.36L53.36 93.96H55.43L55.43 81.91H57.51L57.51 101.59H59.58L59.58 92.58H61.66L61.66 103.96H63.74L63.74 107.69H65.81L65.81 78.66H67.89L67.89 77.51H69.96L69.96 98.35H72.04L72.04 103.51H74.11L74.11 72.9H76.19L76.19 82.99H78.27L78.27 101.4H80.34L80.34 91.45H82.42L82.42 86.06H84.49L84.49 101.16H86.57L86.57 112.99H88.64L88.64 105.08H90.72L90.72 118.84H92.8L92.8 97.99H94.87L94.87 124.71H96.95L96.95 129.48H99.02L99.02 92.11H101.1L101.1 99.51H103.17L103.17 93.59H105.25L105.25 104.17H107.33L107.33 80.14H109.4L109.4 79.01H111.48L111.48 92.46H113.55L113.55 107.96H115.63L115.63 102.25H117.7L117.7 96.49H119.78L119.78 104.2H121.86L121.86 100.7H123.93L123.93 96.27H126.01L126.01 72.02H128.08L128.08 106.7H130.16L130.16 98.07H132.23L132.23 70.86H134.31L134.31 108.53H136.39L136.39 112.38H138.46L138.46 93.91H140.54L140.54 79.13H142.61L142.61 100.1H144.69L144.69 83.97H146.76L146.76 100.39H148.84L148.84 102.99H150.92L150.92 79.38H152.99L152.99 100.65H155.07L155.07 91.68H157.14L157.14 98.61H159.22L159.22 88.13H161.29L161.29 74.84H163.37L163.37 131.22H165.45L165.45 109.83H167.52L167.52 84.64H169.6L169.6 68.9H171.67L171.67 77.06H173.75L173.75 93.71H175.82L175.82 108.96H177.9L177.9 103.72H179.98L179.98 87.61H182.05L182.05 123.11H184.13L184.13 79.97H186.2L186.2 109.7H188.28L188.28 108.87H190.35L190.35 76.17H192.43L192.43 96.52H194.51L194.51 93.02H196.58L196.58 94.94H198.66L198.66 117.64H200.73L200.73 94.95H202.81L202.81 134.69H204.88L204.88 103H206.96L206.96 90.34H209.04L209.04 66.57H211.11L211.11 99.57H213.19L213.19 86.53H215.26L215.26 96.26H217.34L217.34 98.1H219.41L219.41 84.88H221.49L221.49 78.43H223.56L223.56 91.23H225.64L225.64 62.68H227.72L227.72 105.51H229.79L229.79 89.62H231.87L231.87 90.46H233.94L233.94 81.12H236.02L236.02 88.17H238.09L238.09 88.34H240.17L240.17 90.99H242.25L242.25 94.29H244.32L244.32 75.13H246.4L246.4 72.05H248.47L248.47 69.23H250.55L250.55 76.34H252.62L252.62 95.23H254.7L254.7 96.29H256.78L256.78 80.94H258.85L258.85 89.49H260.93L260.93 86.52H263L263 104H265.08L265.08 99.58H267.15L267.15 97.79H269.23L269.23 94.69H271.31L271.31 68.17H273.38L273.38 114.41H275.46L275.46 86.33H277.53L277.53 91.54H279.61L279.61 115.41H281.68L281.68 104.23H283.76L283.76 136.97H285.84L285.84 82.24H287.91L287.91 93.09H289.99L289.99 119.97H292.06L292.06 131.26H294.14L294.14 111.85H296.21L296.21 121.89H298.29L298.29 93.68H300.37L300.37 100.22H302.44L302.44 106.8H304.52L304.52 108.38H306.59L306.59 114.7H308.67L308.67 81.26H310.74L310.74 121.09H312.82L312.82 105.68H314.9L314.9 125.7H316.97L316.97 98.77H319.05L319.05 100.54H321.12L321.12 128.17H323.2L323.2 98.08H325.27L325.27 76.39H327.35L327.35 108.07H329.43L329.43 137.44H331.5L331.5 109.5H333.58L333.58 112.04H335.65L335.65 121.92H337.73L337.73 96.95H339.8L339.8 139.31H341.88L341.88 112.63H343.96L343.96 123.26H346.03L346.03 106.74H348.11L348.11 126.92H350.18L350.18 119.04H352.26L352.26 113.33H354.33L354.33 99.68H356.41L356.41 123.96H358.49L358.49 141.69H360.56L360.56 101.27H362.64L362.64 103.31H364.71L364.71 93.23H366.79L366.79 117.1H368.86L368.86 108.97H370.94L370.94 106.47H373.02L373.02 113.05H375.09L375.09 116.1H377.17L377.17 111.84H379.24L379.24 100.65H381.32L381.32 113.81H383.39L383.39 100.09H385.47L385.47 89.69H387.55L387.55 128.94H389.62L389.62 115.71H391.7L391.7 85.58H393.77L393.77 128.74H395.85L395.85 81.31H397.92L397.92 110.94H400L400 184.4Z" fill="#2EB163"/>
<path d="M32.6 184.4L32.6 89.99H34.68L34.68 92.38H36.75L36.75 106.97H38.83L38.83 104.08H40.9L40.9 113.14H42.98L42.98 92.48H45.05L45.05 82.44H47.13L47.13 74.13H49.21L49.21 111.12H51.28L51.28 105.27H53.36L53.36 95.8H55.43L55.43 81.92H57.51L57.51 101.59H59.58L59.58 92.72H61.66L61.66 103.97H63.74L63.74 107.69H65.81L65.81 79.01H67.89L67.89 79.11H69.96L69.96 104.17H72.04L72.04 103.77H74.11L74.11 74.6H76.19L76.19 83.03H78.27L78.27 104.26H80.34L80.34 91.89H82.42L82.42 86.35H84.49L84.49 101.7H86.57L86.57 112.99H88.64L88.64 105.25H90.72L90.72 122.04H92.8L92.8 98.2H94.87L94.87 124.71H96.95L96.95 130.65H99.02L99.02 92.59H101.1L101.1 99.51H103.17L103.17 93.73H105.25L105.25 120.96H107.33L107.33 80.59H109.4L109.4 79.02H111.48L111.48 92.5H113.55L113.55 108.16H115.63L115.63 112.45H117.7L117.7 96.53H119.78L119.78 104.2H121.86L121.86 100.7H123.93L123.93 106.34H126.01L126.01 72.36H128.08L128.08 107.15H130.16L130.16 98.11H132.23L132.23 75.88H134.31L134.31 109.41H136.39L136.39 117.04H138.46L138.46 99.68H140.54L140.54 80.33H142.61L142.61 100.11H144.69L144.69 84.88H146.76L146.76 102.17H148.84L148.84 105.35H150.92L150.92 79.39H152.99L152.99 100.74H155.07L155.07 91.69H157.14L157.14 98.61H159.22L159.22 88.16H161.29L161.29 74.85H163.37L163.37 132.05H165.45L165.45 111.03H167.52L167.52 87.12H169.6L169.6 68.9H171.67L171.67 77.06H173.75L173.75 93.75H175.82L175.82 110.44H177.9L177.9 103.72H179.98L179.98 87.77H182.05L182.05 124.32H184.13L184.13 79.97H186.2L186.2 110.05H188.28L188.28 109.79H190.35L190.35 86.16H192.43L192.43 99.43H194.51L194.51 93.07H196.58L196.58 95.41H198.66L198.66 119.59H200.73L200.73 94.97H202.81L202.81 135.22H204.88L204.88 110.27H206.96L206.96 90.37H209.04L209.04 74.03H211.11L211.11 101.66H213.19L213.19 86.54H215.26L215.26 96.27H217.34L217.34 102.33H219.41L219.41 85.49H221.49L221.49 78.62H223.56L223.56 91.39H225.64L225.64 63.4H227.72L227.72 106.7H229.79L229.79 89.64H231.87L231.87 92.38H233.94L233.94 85.11H236.02L236.02 91.62H238.09L238.09 88.34H240.17L240.17 95.38H242.25L242.25 101.64H244.32L244.32 75.22H246.4L246.4 72.18H248.47L248.47 70.03H250.55L250.55 76.85H252.62L252.62 102.04H254.7L254.7 100.01H256.78L256.78 85.76H258.85L258.85 89.53H260.93L260.93 89.84H263L263 104H265.08L265.08 99.64H267.15L267.15 100.01H269.23L269.23 94.69H271.31L271.31 68.17H273.38L273.38 114.51H275.46L275.46 86.33H277.53L277.53 92.19H279.61L279.61 115.43H281.68L281.68 106.9H283.76L283.76 136.97H285.84L285.84 82.56H287.91L287.91 93.4H289.99L289.99 120.39H292.06L292.06 132.17H294.14L294.14 111.85H296.21L296.21 121.89H298.29L298.29 94.18H300.37L300.37 100.3H302.44L302.44 107.76H304.52L304.52 112.61H306.59L306.59 114.83H308.67L308.67 97.92H310.74L310.74 121.33H312.82L312.82 106.76H314.9L314.9 125.71H316.97L316.97 98.8H319.05L319.05 103.4H321.12L321.12 134.16H323.2L323.2 99.02H325.27L325.27 76.99H327.35L327.35 108.45H329.43L329.43 137.44H331.5L331.5 109.5H333.58L333.58 112.16H335.65L335.65 121.94H337.73L337.73 96.97H339.8L339.8 143.61H341.88L341.88 112.63H343.96L343.96 123.26H346.03L346.03 107.02H348.11L348.11 128.44H350.18L350.18 119.35H352.26L352.26 113.37H354.33L354.33 99.68H356.41L356.41 124.3H358.49L358.49 141.69H360.56L360.56 103.12H362.64L362.64 107.44H364.71L364.71 96.73H366.79L366.79 117.23H368.86L368.86 111.29H370.94L370.94 107.47H373.02L373.02 113.09H375.09L375.09 116.1H377.17L377.17 115.39H379.24L379.24 100.7H381.32L381.32 113.81H383.39L383.39 102.57H385.47L385.47 92.81H387.55L387.55 128.96H389.62L389.62 117.5H391.7L391.7 85.92H393.77L393.77 128.74H395.85L395.85 82.51H397.92L397.92 111.08H400L400 184.4Z" fill="#2DB286"/>
<path d="M32.6 184.4L32.6 89.99H34.68L34.68 92.38H36.75L36.75 106.97H38.83L38.83 104.08H40.9L40.9 117.32H42.98L42.98 95.2H45.05L45.05 82.44H47.13L47.13 74.13H49.21L49.21 119.88H51.28L51.28 105.27H53.36L53.36 95.8H55.43L55.43 85.95H57.51L57.51 101.59H59.58L59.58 92.74H61.66L61.66 103.98H63.74L63.74 107.7H65.81L65.81 79.01H67.89L67.89 79.11H69.96L69.96 104.2H72.04L72.04 103.77H74.11L74.11 74.6H76.19L76.19 83.03H78.27L78.27 104.92H80.34L80.34 92.54H82.42L82.42 86.35H84.49L84.49 107.93H86.57L86.57 112.99H88.64L88.64 105.3H90.72L90.72 122.96H92.8L92.8 98.2H94.87L94.87 124.71H96.95L96.95 130.65H99.02L99.02 92.59H101.1L101.1 101.73H103.17L103.17 93.73H105.25L105.25 121.63H107.33L107.33 80.59H109.4L109.4 79.02H111.48L111.48 92.66H113.55L113.55 108.16H115.63L115.63 113.92H117.7L117.7 96.79H119.78L119.78 105.02H121.86L121.86 100.7H123.93L123.93 106.34H126.01L126.01 72.36H128.08L128.08 107.41H130.16L130.16 98.11H132.23L132.23 75.88H134.31L134.31 109.42H136.39L136.39 117.04H138.46L138.46 99.72H140.54L140.54 80.33H142.61L142.61 100.11H144.69L144.69 84.88H146.76L146.76 103.91H148.84L148.84 105.35H150.92L150.92 79.39H152.99L152.99 100.76H155.07L155.07 91.69H157.14L157.14 99.58H159.22L159.22 88.17H161.29L161.29 95.31H163.37L163.37 132.05H165.45L165.45 111.15H167.52L167.52 95.51H169.6L169.6 68.9H171.67L171.67 77.06H173.75L173.75 93.75H175.82L175.82 112.94H177.9L177.9 105H179.98L179.98 88.24H182.05L182.05 124.32H184.13L184.13 79.99H186.2L186.2 110.05H188.28L188.28 109.79H190.35L190.35 86.16H192.43L192.43 99.46H194.51L194.51 93.07H196.58L196.58 95.41H198.66L198.66 119.59H200.73L200.73 94.97H202.81L202.81 135.24H204.88L204.88 110.27H206.96L206.96 90.37H209.04L209.04 75H211.11L211.11 101.66H213.19L213.19 86.54H215.26L215.26 96.27H217.34L217.34 102.33H219.41L219.41 85.49H221.49L221.49 78.62H223.56L223.56 91.41H225.64L225.64 63.4H227.72L227.72 106.71H229.79L229.79 90.76H231.87L231.87 92.39H233.94L233.94 85.11H236.02L236.02 91.62H238.09L238.09 88.35H240.17L240.17 95.38H242.25L242.25 101.64H244.32L244.32 75.22H246.4L246.4 72.18H248.47L248.47 70.2H250.55L250.55 76.85H252.62L252.62 102.86H254.7L254.7 100.03H256.78L256.78 87.16H258.85L258.85 94.4H260.93L260.93 91.24H263L263 104H265.08L265.08 99.64H267.15L267.15 100.11H269.23L269.23 94.69H271.31L271.31 68.92H273.38L273.38 114.73H275.46L275.46 89.54H277.53L277.53 92.89H279.61L279.61 115.43H281.68L281.68 106.95H283.76L283.76 141.5H285.84L285.84 82.56H287.91L287.91 93.4H289.99L289.99 120.4H292.06L292.06 132.73H294.14L294.14 111.97H296.21L296.21 121.89H298.29L298.29 94.18H300.37L300.37 100.92H302.44L302.44 107.76H304.52L304.52 112.7H306.59L306.59 114.83H308.67L308.67 102.92H310.74L310.74 121.37H312.82L312.82 106.76H314.9L314.9 129.9H316.97L316.97 98.8H319.05L319.05 103.4H321.12L321.12 134.28H323.2L323.2 99.02H325.27L325.27 77H327.35L327.35 108.45H329.43L329.43 140.28H331.5L331.5 109.63H333.58L333.58 112.16H335.65L335.65 121.95H337.73L337.73 96.97H339.8L339.8 143.61H341.88L341.88 112.63H343.96L343.96 123.26H346.03L346.03 107.02H348.11L348.11 135.8H350.18L350.18 119.44H352.26L352.26 113.37H354.33L354.33 99.69H356.41L356.41 124.3H358.49L358.49 141.95H360.56L360.56 103.16H362.64L362.64 107.44H364.71L364.71 96.73H366.79L366.79 117.23H368.86L368.86 111.29H370.94L370.94 110.62H373.02L373.02 113.09H375.09L375.09 116.1H377.17L377.17 115.39H379.24L379.24 100.7H381.32L381.32 113.81H383.39L383.39 102.57H385.47L385.47 92.81H387.55L387.55 128.96H389.62L389.62 117.5H391.7L391.7 93.14H393.77L393.77 128.74H395.85L395.85 82.92H397.92L397.92 111.08H400L400 184.4Z" fill="#22B2A0"/>
<path d="M32.6 184.4L32.6 90.47H34.68L34.68 94.61H36.75L36.75 107.46H38.83L38.83 116.38H40.9L40.9 117.97H42.98L42.98 95.2H45.05L45.05 91.35H47.13L47.13 75.06H49.21L49.21 119.88H51.28L51.28 109.93H53.36L53.36 95.84H55.43L55.43 85.95H57.51L57.51 101.69H59.58L59.58 94.65H61.66L61.66 104.1H63.74L63.74 107.86H65.81L65.81 81.03H67.89L67.89 84.54H69.96L69.96 104.2H72.04L72.04 103.81H74.11L74.11 84.14H76.19L76.19 83.06H78.27L78.27 104.95H80.34L80.34 93.14H82.42L82.42 87.53H84.49L84.49 107.95H86.57L86.57 113.99H88.64L88.64 106.74H90.72L90.72 123.4H92.8L92.8 100.12H94.87L94.87 124.91H96.95L96.95 130.89H99.02L99.02 94.4H101.1L101.1 101.73H103.17L103.17 93.75H105.25L105.25 123.68H107.33L107.33 80.62H109.4L109.4 85.18H111.48L111.48 93.54H113.55L113.55 108.81H115.63L115.63 114.29H117.7L117.7 104.65H119.78L119.78 105.02H121.86L121.86 115.14H123.93L123.93 107.15H126.01L126.01 72.76H128.08L128.08 110.19H130.16L130.16 101.26H132.23L132.23 76.5H134.31L134.31 109.67H136.39L136.39 121.06H138.46L138.46 100.91H140.54L140.54 80.37H142.61L142.61 101.03H144.69L144.69 84.92H146.76L146.76 104.99H148.84L148.84 105.43H150.92L150.92 81.89H152.99L152.99 103.38H155.07L155.07 91.76H157.14L157.14 101.75H159.22L159.22 88.17H161.29L161.29 95.37H163.37L163.37 132.07H165.45L165.45 111.54H167.52L167.52 100.28H169.6L169.6 73.57H171.67L171.67 79.21H173.75L173.75 93.83H175.82L175.82 114.98H177.9L177.9 105.9H179.98L179.98 91.64H182.05L182.05 124.58H184.13L184.13 80.67H186.2L186.2 110.08H188.28L188.28 110.12H190.35L190.35 86.17H192.43L192.43 99.57H194.51L194.51 93.73H196.58L196.58 95.88H198.66L198.66 119.59H200.73L200.73 94.97H202.81L202.81 136.24H204.88L204.88 111.23H206.96L206.96 90.46H209.04L209.04 75.04H211.11L211.11 102.37H213.19L213.19 87.04H215.26L215.26 96.27H217.34L217.34 102.33H219.41L219.41 85.5H221.49L221.49 78.63H223.56L223.56 92.33H225.64L225.64 63.61H227.72L227.72 106.71H229.79L229.79 92.3H231.87L231.87 92.62H233.94L233.94 85.61H236.02L236.02 91.63H238.09L238.09 88.51H240.17L240.17 95.54H242.25L242.25 101.72H244.32L244.32 91.84H246.4L246.4 72.19H248.47L248.47 70.91H250.55L250.55 76.86H252.62L252.62 106.06H254.7L254.7 100.03H256.78L256.78 87.16H258.85L258.85 97.61H260.93L260.93 96.87H263L263 105.25H265.08L265.08 105.31H267.15L267.15 100.11H269.23L269.23 94.76H271.31L271.31 69.14H273.38L273.38 114.78H275.46L275.46 89.54H277.53L277.53 92.9H279.61L279.61 120H281.68L281.68 107.04H283.76L283.76 142.05H285.84L285.84 87.48H287.91L287.91 99.78H289.99L289.99 121.3H292.06L292.06 132.73H294.14L294.14 125.1H296.21L296.21 122.01H298.29L298.29 98.9H300.37L300.37 100.93H302.44L302.44 107.81H304.52L304.52 112.7H306.59L306.59 118.5H308.67L308.67 103.31H310.74L310.74 122.39H312.82L312.82 114.14H314.9L314.9 132.4H316.97L316.97 99.17H319.05L319.05 104.57H321.12L321.12 134.38H323.2L323.2 99.03H325.27L325.27 82.07H327.35L327.35 108.69H329.43L329.43 140.28H331.5L331.5 111.27H333.58L333.58 113.69H335.65L335.65 123.33H337.73L337.73 97.31H339.8L339.8 144H341.88L341.88 112.65H343.96L343.96 123.26H346.03L346.03 107.02H348.11L348.11 136.82H350.18L350.18 119.45H352.26L352.26 113.96H354.33L354.33 101.92H356.41L356.41 127.76H358.49L358.49 141.97H360.56L360.56 103.94H362.64L362.64 107.54H364.71L364.71 97.57H366.79L366.79 117.55H368.86L368.86 111.64H370.94L370.94 116.84H373.02L373.02 114.06H375.09L375.09 117.33H377.17L377.17 115.39H379.24L379.24 100.7H381.32L381.32 113.82H383.39L383.39 103.45H385.47L385.47 92.81H387.55L387.55 131.14H389.62L389.62 117.51H391.7L391.7 93.49H393.77L393.77 132.18H395.85L395.85 82.96H397.92L397.92 111.61H400L400 184.4Z" fill="#1DB1B2"/>
<path d="M32.6 184.4L32.6 92.88H34.68L34.68 94.96H36.75L36.75 107.47H38.83L38.83 116.46H40.9L40.9 117.97H42.98L42.98 96.06H45.05L45.05 91.58H47.13L47.13 75.07H49.21L49.21 125.45H51.28L51.28 109.93H53.36L53.36 103.56H55.43L55.43 86.43H57.51L57.51 101.8H59.58L59.58 94.72H61.66L61.66 104.1H63.74L63.74 107.86H65.81L65.81 81.57H67.89L67.89 92.1H69.96L69.96 104.53H72.04L72.04 103.87H74.11L74.11 84.14H76.19L76.19 85.61H78.27L78.27 105H80.34L80.34 96.12H82.42L82.42 87.61H84.49L84.49 107.95H86.57L86.57 114H88.64L88.64 106.74H90.72L90.72 123.4H92.8L92.8 100.45H94.87L94.87 125.16H96.95L96.95 130.89H99.02L99.02 94.66H101.1L101.1 101.77H103.17L103.17 93.76H105.25L105.25 123.69H107.33L107.33 83.04H109.4L109.4 85.18H111.48L111.48 93.58H113.55L113.55 108.82H115.63L115.63 114.29H117.7L117.7 104.65H119.78L119.78 105.02H121.86L121.86 115.24H123.93L123.93 107.23H126.01L126.01 72.8H128.08L128.08 111.63H130.16L130.16 101.26H132.23L132.23 76.5H134.31L134.31 109.68H136.39L136.39 121.1H138.46L138.46 102.49H140.54L140.54 80.42H142.61L142.61 103.1H144.69L144.69 85.51H146.76L146.76 105.06H148.84L148.84 105.43H150.92L150.92 81.89H152.99L152.99 103.78H155.07L155.07 91.76H157.14L157.14 102.09H159.22L159.22 93.08H161.29L161.29 96.78H163.37L163.37 132.07H165.45L165.45 111.6H167.52L167.52 100.68H169.6L169.6 73.6H171.67L171.67 80.89H173.75L173.75 93.83H175.82L175.82 114.98H177.9L177.9 105.95H179.98L179.98 92.37H182.05L182.05 124.69H184.13L184.13 80.67H186.2L186.2 110.65H188.28L188.28 110.16H190.35L190.35 87.03H192.43L192.43 99.57H194.51L194.51 93.73H196.58L196.58 95.93H198.66L198.66 119.59H200.73L200.73 95.45H202.81L202.81 136.24H204.88L204.88 111.23H206.96L206.96 93.68H209.04L209.04 75.04H211.11L211.11 103.36H213.19L213.19 88.44H215.26L215.26 96.27H217.34L217.34 102.33H219.41L219.41 89.32H221.49L221.49 78.73H223.56L223.56 92.33H225.64L225.64 65.15H227.72L227.72 106.71H229.79L229.79 92.71H231.87L231.87 92.62H233.94L233.94 85.77H236.02L236.02 91.85H238.09L238.09 88.82H240.17L240.17 100.6H242.25L242.25 105.17H244.32L244.32 91.85H246.4L246.4 72.19H248.47L248.47 78.93H250.55L250.55 76.86H252.62L252.62 106.11H254.7L254.7 100.03H256.78L256.78 87.16H258.85L258.85 97.62H260.93L260.93 96.87H263L263 105.26H265.08L265.08 105.51H267.15L267.15 104.09H269.23L269.23 94.85H271.31L271.31 72.36H273.38L273.38 115.45H275.46L275.46 91.46H277.53L277.53 93.08H279.61L279.61 120H281.68L281.68 107.69H283.76L283.76 142.05H285.84L285.84 87.48H287.91L287.91 99.78H289.99L289.99 121.73H292.06L292.06 132.73H294.14L294.14 125.16H296.21L296.21 122.03H298.29L298.29 101.65H300.37L300.37 101.21H302.44L302.44 107.81H304.52L304.52 113.12H306.59L306.59 118.96H308.67L308.67 104.21H310.74L310.74 122.39H312.82L312.82 114.96H314.9L314.9 132.61H316.97L316.97 99.18H319.05L319.05 104.57H321.12L321.12 136.05H323.2L323.2 109.06H325.27L325.27 83.9H327.35L327.35 109.06H329.43L329.43 141.25H331.5L331.5 111.27H333.58L333.58 114.82H335.65L335.65 123.45H337.73L337.73 97.31H339.8L339.8 144.71H341.88L341.88 112.65H343.96L343.96 123.34H346.03L346.03 110.87H348.11L348.11 136.82H350.18L350.18 120.23H352.26L352.26 113.96H354.33L354.33 101.95H356.41L356.41 127.76H358.49L358.49 146.68H360.56L360.56 103.94H362.64L362.64 107.56H364.71L364.71 98.49H366.79L366.79 117.55H368.86L368.86 111.64H370.94L370.94 116.84H373.02L373.02 114.06H375.09L375.09 117.33H377.17L377.17 115.39H379.24L379.24 100.98H381.32L381.32 118.28H383.39L383.39 104.02H385.47L385.47 92.83H387.55L387.55 131.17H389.62L389.62 117.53H391.7L391.7 93.49H393.77L393.77 137.94H395.85L395.85 84.5H397.92L397.92 111.63H400L400 184.4Z" fill="#1EABCB"/>
<path d="M32.6 184.4L32.6 93.01H34.68L34.68 95.82H36.75L36.75 107.61H38.83L38.83 116.47H40.9L40.9 117.97H42.98L42.98 105.2H45.05L45.05 93.19H47.13L47.13 77.73H49.21L49.21 126.09H51.28L51.28 109.95H53.36L53.36 103.56H55.43L55.43 86.43H57.51L57.51 101.81H59.58L59.58 94.83H61.66L61.66 105.98H63.74L63.74 108.59H65.81L65.81 85.01H67.89L67.89 92.11H69.96L69.96 104.98H72.04L72.04 103.88H74.11L74.11 94.96H76.19L76.19 85.61H78.27L78.27 105.01H80.34L80.34 96.12H82.42L82.42 88.34H84.49L84.49 108.17H86.57L86.57 114.43H88.64L88.64 106.76H90.72L90.72 123.78H92.8L92.8 102.77H94.87L94.87 125.27H96.95L96.95 136.34H99.02L99.02 94.67H101.1L101.1 101.77H103.17L103.17 93.93H105.25L105.25 124.91H107.33L107.33 83.28H109.4L109.4 88.47H111.48L111.48 94.67H113.55L113.55 114.16H115.63L115.63 116.94H117.7L117.7 104.78H119.78L119.78 105.64H121.86L121.86 115.24H123.93L123.93 107.23H126.01L126.01 72.91H128.08L128.08 111.63H130.16L130.16 103.74H132.23L132.23 76.82H134.31L134.31 109.68H136.39L136.39 121.83H138.46L138.46 102.52H140.54L140.54 80.42H142.61L142.61 104.11H144.69L144.69 86.28H146.76L146.76 109.09H148.84L148.84 105.53H150.92L150.92 82.45H152.99L152.99 111.93H155.07L155.07 107.28H157.14L157.14 104.21H159.22L159.22 96.34H161.29L161.29 96.85H163.37L163.37 132.13H165.45L165.45 113.44H167.52L167.52 100.81H169.6L169.6 80.96H171.67L171.67 81.52H173.75L173.75 95.44H175.82L175.82 114.99H177.9L177.9 108.88H179.98L179.98 92.38H182.05L182.05 128.23H184.13L184.13 80.77H186.2L186.2 113.54H188.28L188.28 110.54H190.35L190.35 87.03H192.43L192.43 100.48H194.51L194.51 93.92H196.58L196.58 97.78H198.66L198.66 120.07H200.73L200.73 96.54H202.81L202.81 143.97H204.88L204.88 111.32H206.96L206.96 100.12H209.04L209.04 75.94H211.11L211.11 103.36H213.19L213.19 88.47H215.26L215.26 96.29H217.34L217.34 102.6H219.41L219.41 89.35H221.49L221.49 79.07H223.56L223.56 93.54H225.64L225.64 65.29H227.72L227.72 107.24H229.79L229.79 92.8H231.87L231.87 93.05H233.94L233.94 87.45H236.02L236.02 93.04H238.09L238.09 88.82H240.17L240.17 115.94H242.25L242.25 105.22H244.32L244.32 91.85H246.4L246.4 72.91H248.47L248.47 78.93H250.55L250.55 77.97H252.62L252.62 106.13H254.7L254.7 100.56H256.78L256.78 87.76H258.85L258.85 97.96H260.93L260.93 97.23H263L263 105.33H265.08L265.08 107.22H267.15L267.15 104.13H269.23L269.23 94.93H271.31L271.31 72.37H273.38L273.38 119.62H275.46L275.46 91.63H277.53L277.53 99.7H279.61L279.61 120H281.68L281.68 109.38H283.76L283.76 142.65H285.84L285.84 87.53H287.91L287.91 99.85H289.99L289.99 129.39H292.06L292.06 132.76H294.14L294.14 127.73H296.21L296.21 124.78H298.29L298.29 101.75H300.37L300.37 101.35H302.44L302.44 118.25H304.52L304.52 113.12H306.59L306.59 119.17H308.67L308.67 105.47H310.74L310.74 122.39H312.82L312.82 115.12H314.9L314.9 132.7H316.97L316.97 99.18H319.05L319.05 106.1H321.12L321.12 144.17H323.2L323.2 109.07H325.27L325.27 86.47H327.35L327.35 118.51H329.43L329.43 141.25H331.5L331.5 111.27H333.58L333.58 115.78H335.65L335.65 123.45H337.73L337.73 97.51H339.8L339.8 145.07H341.88L341.88 118.51H343.96L343.96 123.34H346.03L346.03 110.88H348.11L348.11 136.82H350.18L350.18 120.23H352.26L352.26 114.11H354.33L354.33 102.65H356.41L356.41 129.05H358.49L358.49 149.37H360.56L360.56 106.38H362.64L362.64 107.72H364.71L364.71 98.49H366.79L366.79 118.47H368.86L368.86 111.64H370.94L370.94 116.91H373.02L373.02 114.08H375.09L375.09 117.33H377.17L377.17 120.41H379.24L379.24 101.15H381.32L381.32 118.42H383.39L383.39 104.02H385.47L385.47 93.61H387.55L387.55 132.21H389.62L389.62 117.53H391.7L391.7 93.81H393.77L393.77 137.94H395.85L395.85 85.52H397.92L397.92 119.19H400L400 184.4Z" fill="#2AA4E0"/>
<path d="M32.6 184.4L32.6 140.21H34.68L34.68 114.54H36.75L36.75 135.67H38.83L38.83 129.13H40.9L40.9 139.86H42.98L42.98 141.15H45.05L45.05 126.97H47.13L47.13 117.68H49.21L49.21 147.89H51.28L51.28 135.79H53.36L53.36 116.86H55.43L55.43 118.93H57.51L57.51 144.73H59.58L59.58 123.25H61.66L61.66 125.91H63.74L63.74 125.69H65.81L65.81 139.04H67.89L67.89 107.28H69.96L69.96 130.08H72.04L72.04 133.99H74.11L74.11 124.53H76.19L76.19 101.25H78.27L78.27 127.22H80.34L80.34 147.75H82.42L82.42 134.76H84.49L84.49 149.89H86.57L86.57 134.67H88.64L88.64 144.89H90.72L90.72 139.4H92.8L92.8 136.1H94.87L94.87 156.26H96.95L96.95 157.42H99.02L99.02 126.48H101.1L101.1 152.89H103.17L103.17 146.47H105.25L105.25 152.24H107.33L107.33 123.8H109.4L109.4 122.74H111.48L111.48 121.68H113.55L113.55 142.59H115.63L115.63 148.98H117.7L117.7 120.47H119.78L119.78 128.86H121.86L121.86 155.13H123.93L123.93 120.68H126.01L126.01 137.42H128.08L128.08 150.61H130.16L130.16 144.7H132.23L132.23 120.6H134.31L134.31 153.28H136.39L136.39 149.68H138.46L138.46 145.87H140.54L140.54 115.66H142.61L142.61 139.66H144.69L144.69 129.11H146.76L146.76 142.08H148.84L148.84 141.11H150.92L150.92 121.7H152.99L152.99 140.87H155.07L155.07 132.65H157.14L157.14 131.06H159.22L159.22 112.85H161.29L161.29 157.9H163.37L163.37 147.36H165.45L165.45 142.71H167.52L167.52 130.67H169.6L169.6 122.12H171.67L171.67 147.28H173.75L173.75 150.79H175.82L175.82 155.02H177.9L177.9 138.81H179.98L179.98 158.18H182.05L182.05 160.52H184.13L184.13 125.64H186.2L186.2 135.38H188.28L188.28 146.97H190.35L190.35 117.8H192.43L192.43 138.87H194.51L194.51 116.01H196.58L196.58 137.41H198.66L198.66 149.51H200.73L200.73 149.77H202.81L202.81 156.3H204.88L204.88 137.02H206.96L206.96 136.74H209.04L209.04 120.67H211.11L211.11 146.37H213.19L213.19 126.71H215.26L215.26 132.99H217.34L217.34 132.56H219.41L219.41 121.39H221.49L221.49 140.78H223.56L223.56 130.18H225.64L225.64 123.4H227.72L227.72 118.39H229.79L229.79 132.69H231.87L231.87 132.86H233.94L233.94 107.69H236.02L236.02 136.77H238.09L238.09 127.83H240.17L240.17 135.49H242.25L242.25 125.96H244.32L244.32 142.05H246.4L246.4 105.92H248.47L248.47 124.57H250.55L250.55 130.75H252.62L252.62 129.63H254.7L254.7 149.5H256.78L256.78 120.04H258.85L258.85 127.26H260.93L260.93 125.28H263L263 138.18H265.08L265.08 143.84H267.15L267.15 145.09H269.23L269.23 123.45H271.31L271.31 109.09H273.38L273.38 144.14H275.46L275.46 126.73H277.53L277.53 124.79H279.61L279.61 143.35H281.68L281.68 135.88H283.76L283.76 158.72H285.84L285.84 147.86H287.91L287.91 135.14H289.99L289.99 158.23H292.06L292.06 156.07H294.14L294.14 153.28H296.21L296.21 157.27H298.29L298.29 124.96H300.37L300.37 121.88H302.44L302.44 130.52H304.52L304.52 141.2H306.59L306.59 146.48H308.67L308.67 120.38H310.74L310.74 134.02H312.82L312.82 125H314.9L314.9 142.75H316.97L316.97 121.73H319.05L319.05 115.84H321.12L321.12 154.61H323.2L323.2 136.6H325.27L325.27 124.3H327.35L327.35 145.64H329.43L329.43 146.24H331.5L331.5 132.29H333.58L333.58 139.58H335.65L335.65 143.31H337.73L337.73 111.5H339.8L339.8 155H341.88L341.88 126.82H343.96L343.96 148.42H346.03L346.03 151.5H348.11L348.11 145.85H350.18L350.18 145.25H352.26L352.26 126.9H354.33L354.33 142.12H356.41L356.41 139.48H358.49L358.49 153.78H360.56L360.56 118.16H362.64L362.64 118.81H364.71L364.71 124.99H366.79L366.79 130.59H368.86L368.86 143.52H370.94L370.94 135.13H373.02L373.02 129.78H375.09L375.09 135.88H377.17L377.17 139.14H379.24L379.24 125.66H381.32L381.32 143.38H383.39L383.39 119.98H385.47L385.47 120.59H387.55L387.55 150.07H389.62L389.62 135.01H391.7L391.7 109.64H393.77L393.77 153.61H395.85L395.85 120.06H397.92L397.92 132.48H400L400 184.4Z" fill="#2D93D6"/>
<path d="M32.6 184.4L32.6 141.34H34.68L34.68 114.56H36.75L36.75 141.32H38.83L38.83 134.54H40.9L40.9 142.21H42.98L42.98 146.4H45.05L45.05 140.68H47.13L47.13 119.02H49.21L49.21 149.28H51.28L51.28 138.37H53.36L53.36 122.16H55.43L55.43 135.04H57.51L57.51 145.32H59.58L59.58 129.61H61.66L61.66 127.65H63.74L63.74 132.84H65.81L65.81 139.22H67.89L67.89 109.63H69.96L69.96 130.28H72.04L72.04 148.69H74.11L74.11 126.91H76.19L76.19 113.17H78.27L78.27 127.85H80.34L80.34 150.28H82.42L82.42 139.59H84.49L84.49 152.61H86.57L86.57 137.05H88.64L88.64 150.95H90.72L90.72 140.72H92.8L92.8 149.17H94.87L94.87 156.78H96.95L96.95 158.41H99.02L99.02 126.95H101.1L101.1 159.83H103.17L103.17 147.96H105.25L105.25 152.31H107.33L107.33 136.47H109.4L109.4 129.14H111.48L111.48 132.94H113.55L113.55 144.01H115.63L115.63 150.64H117.7L117.7 121.8H119.78L119.78 138.6H121.86L121.86 162.24H123.93L123.93 122.01H126.01L126.01 143.75H128.08L128.08 162.55H130.16L130.16 144.98H132.23L132.23 132.02H134.31L134.31 154.09H136.39L136.39 154.71H138.46L138.46 148.16H140.54L140.54 129.07H142.61L142.61 140.18H144.69L144.69 141.4H146.76L146.76 143.8H148.84L148.84 141.88H150.92L150.92 125.8H152.99L152.99 142.23H155.07L155.07 145.3H157.14L157.14 134.27H159.22L159.22 126.28H161.29L161.29 159.02H163.37L163.37 152.75H165.45L165.45 143.91H167.52L167.52 138.66H169.6L169.6 123.67H171.67L171.67 156.38H173.75L173.75 151.24H175.82L175.82 157.22H177.9L177.9 141.21H179.98L179.98 166.23H182.05L182.05 168.44H184.13L184.13 129.31H186.2L186.2 147.09H188.28L188.28 148.56H190.35L190.35 131.24H192.43L192.43 142.53H194.51L194.51 124.34H196.58L196.58 141.83H198.66L198.66 149.64H200.73L200.73 152.4H202.81L202.81 156.6H204.88L204.88 139.99H206.96L206.96 145.84H209.04L209.04 123.48H211.11L211.11 147.83H213.19L213.19 140.85H215.26L215.26 137.33H217.34L217.34 136.56H219.41L219.41 130.02H221.49L221.49 143.87H223.56L223.56 133.2H225.64L225.64 125.78H227.72L227.72 124.12H229.79L229.79 147.66H231.87L231.87 133.65H233.94L233.94 108.91H236.02L236.02 147.88H238.09L238.09 132.28H240.17L240.17 136.68H242.25L242.25 127.23H244.32L244.32 144.44H246.4L246.4 109.64H248.47L248.47 131.06H250.55L250.55 131.11H252.62L252.62 130.25H254.7L254.7 152.68H256.78L256.78 129.65H258.85L258.85 131.53H260.93L260.93 127.95H263L263 140.12H265.08L265.08 147.35H267.15L267.15 147H269.23L269.23 124.95H271.31L271.31 109.75H273.38L273.38 153.32H275.46L275.46 130.96H277.53L277.53 156.03H279.61L279.61 144.12H281.68L281.68 137.75H283.76L283.76 161.45H285.84L285.84 149.34H287.91L287.91 140.55H289.99L289.99 165.83H292.06L292.06 159.87H294.14L294.14 153.3H296.21L296.21 160.09H298.29L298.29 136.76H300.37L300.37 147.1H302.44L302.44 138.35H304.52L304.52 141.61H306.59L306.59 150.83H308.67L308.67 125.08H310.74L310.74 134.34H312.82L312.82 140.36H314.9L314.9 146.47H316.97L316.97 133.62H319.05L319.05 116.29H321.12L321.12 158.27H323.2L323.2 137.74H325.27L325.27 133.3H327.35L327.35 149.94H329.43L329.43 148.32H331.5L331.5 137.69H333.58L333.58 142.26H335.65L335.65 147.35H337.73L337.73 121.31H339.8L339.8 155.04H341.88L341.88 132.62H343.96L343.96 149.62H346.03L346.03 152.85H348.11L348.11 146.19H350.18L350.18 145.74H352.26L352.26 131.2H354.33L354.33 147.27H356.41L356.41 153.78H358.49L358.49 154.13H360.56L360.56 128.07H362.64L362.64 121.18H364.71L364.71 126.64H366.79L366.79 131.02H368.86L368.86 143.57H370.94L370.94 138.09H373.02L373.02 131.7H375.09L375.09 145.95H377.17L377.17 143.9H379.24L379.24 127.63H381.32L381.32 147.7H383.39L383.39 122.72H385.47L385.47 121.48H387.55L387.55 160.06H389.62L389.62 142.98H391.7L391.7 117.52H393.77L393.77 158.9H395.85L395.85 122.83H397.92L397.92 153.7H400L400 184.4Z" fill="#7A8BC8"/>
<path d="M32.6 184.4L32.6 182.1H34.68L34.68 174.61H36.75L36.75 174.98H38.83L38.83 168.73H40.9L40.9 177.9H42.98L42.98 173.87H45.05L45.05 160.38H47.13L47.13 169.53H49.21L49.21 171.59H51.28L51.28 171.27H53.36L53.36 169.38H55.43L55.43 173.53H57.51L57.51 171.21H59.58L59.58 162.71H61.66L61.66 142.14H63.74L63.74 159.96H65.81L65.81 172.91H67.89L67.89 172.74H69.96L69.96 174.56H72.04L72.04 162.87H74.11L74.11 164.68H76.19L76.19 172.3H78.27L78.27 160.8H80.34L80.34 167.56H82.42L82.42 156.84H84.49L84.49 174.87H86.57L86.57 171.51H88.64L88.64 172.47H90.72L90.72 163.79H92.8L92.8 183.58H94.87L94.87 175.2H96.95L96.95 171.61H99.02L99.02 165.66H101.1L101.1 180.91H103.17L103.17 179.86H105.25L105.25 173.39H107.33L107.33 169.83H109.4L109.4 151.95H111.48L111.48 167.15H113.55L113.55 171.49H115.63L115.63 169.27H117.7L117.7 163.49H119.78L119.78 177.35H121.86L121.86 172.02H123.93L123.93 159.71H126.01L126.01 172.48H128.08L128.08 179.93H130.16L130.16 174.54H132.23L132.23 154.32H134.31L134.31 174.25H136.39L136.39 172.63H138.46L138.46 178.25H140.54L140.54 154.74H142.61L142.61 168.91H144.69L144.69 156.69H146.76L146.76 169.56H148.84L148.84 170.29H150.92L150.92 161.36H152.99L152.99 163.18H155.07L155.07 164.96H157.14L157.14 164.31H159.22L159.22 169.38H161.29L161.29 168.52H163.37L163.37 167.65H165.45L165.45 176.04H167.52L167.52 149.75H169.6L169.6 169.47H171.67L171.67 177.33H173.75L173.75 171.12H175.82L175.82 172.5H177.9L177.9 175.96H179.98L179.98 181.41H182.05L182.05 180.05H184.13L184.13 173.35H186.2L186.2 168.49H188.28L188.28 181.1H190.35L190.35 164.48H192.43L192.43 157.9H194.51L194.51 169.53H196.58L196.58 178.99H198.66L198.66 171.51H200.73L200.73 176.57H202.81L202.81 177.03H204.88L204.88 173.95H206.96L206.96 175.07H209.04L209.04 172.08H211.11L211.11 167.86H213.19L213.19 153.58H215.26L215.26 171.07H217.34L217.34 178.31H219.41L219.41 175.76H221.49L221.49 165.36H223.56L223.56 167.46H225.64L225.64 179.47H227.72L227.72 174.5H229.79L229.79 180.58H231.87L231.87 176.8H233.94L233.94 154.3H236.02L236.02 171.09H238.09L238.09 172.69H240.17L240.17 170.41H242.25L242.25 175.01H244.32L244.32 179.74H246.4L246.4 156.8H248.47L248.47 177.61H250.55L250.55 168.42H252.62L252.62 163.39H254.7L254.7 170.72H256.78L256.78 171.84H258.85L258.85 152.75H260.93L260.93 160.05H263L263 172.91H265.08L265.08 180.69H267.15L267.15 168.34H269.23L269.23 164.13H271.31L271.31 158.77H273.38L273.38 181.52H275.46L275.46 141H277.53L277.53 171.28H279.61L279.61 168.92H281.68L281.68 163.53H283.76L283.76 180.41H285.84L285.84 175.87H287.91L287.91 174.19H289.99L289.99 176.12H292.06L292.06 176.24H294.14L294.14 172.25H296.21L296.21 173.23H298.29L298.29 162.4H300.37L300.37 176.16H302.44L302.44 175.32H304.52L304.52 162.39H306.59L306.59 170.69H308.67L308.67 148.77H310.74L310.74 177.78H312.82L312.82 170.17H314.9L314.9 177.05H316.97L316.97 176.25H319.05L319.05 148.7H321.12L321.12 177.28H323.2L323.2 171.11H325.27L325.27 169.02H327.35L327.35 167.76H329.43L329.43 176.68H331.5L331.5 156.47H333.58L333.58 176.77H335.65L335.65 168.91H337.73L337.73 172.03H339.8L339.8 181.51H341.88L341.88 170.89H343.96L343.96 171.91H346.03L346.03 175.47H348.11L348.11 171.32H350.18L350.18 165.8H352.26L352.26 179.69H354.33L354.33 175.63H356.41L356.41 176.89H358.49L358.49 170H360.56L360.56 160.54H362.64L362.64 170.68H364.71L364.71 159.15H366.79L366.79 164.74H368.86L368.86 175.89H370.94L370.94 171.92H373.02L373.02 178.35H375.09L375.09 175.51H377.17L377.17 170.91H379.24L379.24 154.61H381.32L381.32 166.32H383.39L383.39 171.78H385.47L385.47 168.66H387.55L387.55 178.57H389.62L389.62 167.08H391.7L391.7 169.55H393.77L393.77 172.93H395.85L395.85 170.07H397.92L397.92 175.92H400L400 184.4Z" fill="#8E7DC0"/>
<path d="M32.6 184.4L32.6 182.28H34.68L34.68 174.68H36.75L36.75 174.98H38.83L38.83 168.73H40.9L40.9 177.91H42.98L42.98 174.25H45.05L45.05 161.58H47.13L47.13 169.53H49.21L49.21 179.17H51.28L51.28 171.27H53.36L53.36 169.38H55.43L55.43 173.54H57.51L57.51 171.21H59.58L59.58 162.71H61.66L61.66 143.68H63.74L63.74 160.55H65.81L65.81 173.01H67.89L67.89 172.95H69.96L69.96 174.57H72.04L72.04 163.16H74.11L74.11 164.73H76.19L76.19 172.31H78.27L78.27 171.99H80.34L80.34 178.58H82.42L82.42 167.93H84.49L84.49 174.87H86.57L86.57 171.7H88.64L88.64 172.47H90.72L90.72 163.96H92.8L92.8 183.58H94.87L94.87 175.21H96.95L96.95 173.02H99.02L99.02 165.74H101.1L101.1 180.95H103.17L103.17 179.99H105.25L105.25 173.39H107.33L107.33 170.08H109.4L109.4 153.07H111.48L111.48 167.15H113.55L113.55 172.35H115.63L115.63 169.3H117.7L117.7 172.75H119.78L119.78 177.46H121.86L121.86 172.02H123.93L123.93 159.71H126.01L126.01 172.5H128.08L128.08 179.93H130.16L130.16 174.96H132.23L132.23 154.33H134.31L134.31 174.94H136.39L136.39 173.38H138.46L138.46 178.37H140.54L140.54 154.74H142.61L142.61 168.91H144.69L144.69 156.69H146.76L146.76 169.56H148.84L148.84 170.51H150.92L150.92 161.36H152.99L152.99 163.55H155.07L155.07 164.97H157.14L157.14 164.35H159.22L159.22 170.43H161.29L161.29 171.79H163.37L163.37 167.65H165.45L165.45 178.19H167.52L167.52 154.22H169.6L169.6 169.47H171.67L171.67 177.33H173.75L173.75 171.35H175.82L175.82 172.5H177.9L177.9 175.99H179.98L179.98 181.49H182.05L182.05 180.05H184.13L184.13 173.35H186.2L186.2 172.28H188.28L188.28 181.1H190.35L190.35 164.49H192.43L192.43 159.98H194.51L194.51 169.53H196.58L196.58 179.13H198.66L198.66 171.53H200.73L200.73 177.23H202.81L202.81 177.2H204.88L204.88 173.95H206.96L206.96 175.07H209.04L209.04 172.13H211.11L211.11 168.62H213.19L213.19 153.6H215.26L215.26 172.08H217.34L217.34 179.91H219.41L219.41 175.77H221.49L221.49 165.36H223.56L223.56 167.46H225.64L225.64 179.78H227.72L227.72 174.52H229.79L229.79 180.6H231.87L231.87 176.8H233.94L233.94 154.3H236.02L236.02 171.09H238.09L238.09 172.82H240.17L240.17 171.59H242.25L242.25 175.01H244.32L244.32 179.74H246.4L246.4 156.83H248.47L248.47 177.61H250.55L250.55 168.42H252.62L252.62 163.39H254.7L254.7 170.72H256.78L256.78 171.91H258.85L258.85 152.75H260.93L260.93 160.86H263L263 173.1H265.08L265.08 180.74H267.15L267.15 174.5H269.23L269.23 164.13H271.31L271.31 168.6H273.38L273.38 181.52H275.46L275.46 141H277.53L277.53 171.91H279.61L279.61 168.92H281.68L281.68 164.89H283.76L283.76 180.41H285.84L285.84 175.87H287.91L287.91 174.43H289.99L289.99 176.59H292.06L292.06 176.24H294.14L294.14 172.25H296.21L296.21 173.23H298.29L298.29 162.78H300.37L300.37 176.59H302.44L302.44 175.32H304.52L304.52 162.44H306.59L306.59 170.75H308.67L308.67 148.77H310.74L310.74 177.78H312.82L312.82 170.17H314.9L314.9 177.06H316.97L316.97 176.25H319.05L319.05 150.45H321.12L321.12 177.29H323.2L323.2 172.92H325.27L325.27 169.02H327.35L327.35 167.79H329.43L329.43 176.99H331.5L331.5 156.47H333.58L333.58 176.77H335.65L335.65 168.91H337.73L337.73 172.03H339.8L339.8 181.51H341.88L341.88 170.89H343.96L343.96 173.15H346.03L346.03 176.45H348.11L348.11 171.32H350.18L350.18 165.8H352.26L352.26 180.11H354.33L354.33 175.63H356.41L356.41 176.89H358.49L358.49 173.74H360.56L360.56 160.76H362.64L362.64 170.7H364.71L364.71 170.31H366.79L366.79 166.55H368.86L368.86 175.99H370.94L370.94 171.92H373.02L373.02 178.35H375.09L375.09 176.72H377.17L377.17 170.91H379.24L379.24 154.64H381.32L381.32 166.33H383.39L383.39 172.15H385.47L385.47 168.66H387.55L387.55 178.88H389.62L389.62 167.12H391.7L391.7 169.55H393.77L393.77 172.93H395.85L395.85 170.08H397.92L397.92 175.92H400L400 184.4Z" fill="#A673B8"/>
<path d="M32.6 184.4L32.6 182.28H34.68L34.68 174.68H36.75L36.75 175H38.83L38.83 168.73H40.9L40.9 177.91H42.98L42.98 181.22H45.05L45.05 161.58H47.13L47.13 169.53H49.21L49.21 179.17H51.28L51.28 171.27H53.36L53.36 169.38H55.43L55.43 173.54H57.51L57.51 174.04H59.58L59.58 162.75H61.66L61.66 143.74H63.74L63.74 160.56H65.81L65.81 173.01H67.89L67.89 173.12H69.96L69.96 174.57H72.04L72.04 163.18H74.11L74.11 164.73H76.19L76.19 172.52H78.27L78.27 174.21H80.34L80.34 178.58H82.42L82.42 167.93H84.49L84.49 174.91H86.57L86.57 171.7H88.64L88.64 172.51H90.72L90.72 163.96H92.8L92.8 183.58H94.87L94.87 175.24H96.95L96.95 176.28H99.02L99.02 168.28H101.1L101.1 180.95H103.17L103.17 179.99H105.25L105.25 173.39H107.33L107.33 170.08H109.4L109.4 153.07H111.48L111.48 167.31H113.55L113.55 172.38H115.63L115.63 169.3H117.7L117.7 172.81H119.78L119.78 178.32H121.86L121.86 179.18H123.93L123.93 161.86H126.01L126.01 172.59H128.08L128.08 179.96H130.16L130.16 174.96H132.23L132.23 169.44H134.31L134.31 174.99H136.39L136.39 173.75H138.46L138.46 178.62H140.54L140.54 163.94H142.61L142.61 168.91H144.69L144.69 156.69H146.76L146.76 169.56H148.84L148.84 172.15H150.92L150.92 161.36H152.99L152.99 163.73H155.07L155.07 164.97H157.14L157.14 164.35H159.22L159.22 170.47H161.29L161.29 171.79H163.37L163.37 167.67H165.45L165.45 178.19H167.52L167.52 154.22H169.6L169.6 169.47H171.67L171.67 179.23H173.75L173.75 171.38H175.82L175.82 173.24H177.9L177.9 175.99H179.98L179.98 181.61H182.05L182.05 180.08H184.13L184.13 173.53H186.2L186.2 172.28H188.28L188.28 181.1H190.35L190.35 169.87H192.43L192.43 165.22H194.51L194.51 169.57H196.58L196.58 179.13H198.66L198.66 171.53H200.73L200.73 177.57H202.81L202.81 177.34H204.88L204.88 173.95H206.96L206.96 175.07H209.04L209.04 172.23H211.11L211.11 168.66H213.19L213.19 153.6H215.26L215.26 172.08H217.34L217.34 179.98H219.41L219.41 177.03H221.49L221.49 165.36H223.56L223.56 171.22H225.64L225.64 179.91H227.72L227.72 174.54H229.79L229.79 180.6H231.87L231.87 176.85H233.94L233.94 154.69H236.02L236.02 172.69H238.09L238.09 173.01H240.17L240.17 172.79H242.25L242.25 175.04H244.32L244.32 179.74H246.4L246.4 156.85H248.47L248.47 177.61H250.55L250.55 168.43H252.62L252.62 163.39H254.7L254.7 170.72H256.78L256.78 171.99H258.85L258.85 152.75H260.93L260.93 162.81H263L263 175.4H265.08L265.08 180.77H267.15L267.15 174.53H269.23L269.23 164.13H271.31L271.31 168.61H273.38L273.38 181.52H275.46L275.46 141H277.53L277.53 171.94H279.61L279.61 169.04H281.68L281.68 170.69H283.76L283.76 182.22H285.84L285.84 175.89H287.91L287.91 174.43H289.99L289.99 176.61H292.06L292.06 177.09H294.14L294.14 172.46H296.21L296.21 174.62H298.29L298.29 163.25H300.37L300.37 178.22H302.44L302.44 175.4H304.52L304.52 168.58H306.59L306.59 170.75H308.67L308.67 148.77H310.74L310.74 177.78H312.82L312.82 170.17H314.9L314.9 177.06H316.97L316.97 176.25H319.05L319.05 150.45H321.12L321.12 177.29H323.2L323.2 173.02H325.27L325.27 169.05H327.35L327.35 168.32H329.43L329.43 177.39H331.5L331.5 157.09H333.58L333.58 176.78H335.65L335.65 169.88H337.73L337.73 172.03H339.8L339.8 181.51H341.88L341.88 172.68H343.96L343.96 173.15H346.03L346.03 176.45H348.11L348.11 171.32H350.18L350.18 165.8H352.26L352.26 180.11H354.33L354.33 175.64H356.41L356.41 176.89H358.49L358.49 175.03H360.56L360.56 160.76H362.64L362.64 170.8H364.71L364.71 170.32H366.79L366.79 166.55H368.86L368.86 175.99H370.94L370.94 174.97H373.02L373.02 178.45H375.09L375.09 180.54H377.17L377.17 170.91H379.24L379.24 154.64H381.32L381.32 167.78H383.39L383.39 172.17H385.47L385.47 168.66H387.55L387.55 178.88H389.62L389.62 167.12H391.7L391.7 175.37H393.77L393.77 172.93H395.85L395.85 170.08H397.92L397.92 175.92H400L400 184.4Z" fill="#BB6AAC"/>
<path d="M32.6 184.4L32.6 183.75H34.68L34.68 179.04H36.75L36.75 176.45H38.83L38.83 173.95H40.9L40.9 184.28H42.98L42.98 184.36H45.05L45.05 173.46H47.13L47.13 184.1H49.21L49.21 180.92H51.28L51.28 180.01H53.36L53.36 176.99H55.43L55.43 184.23H57.51L57.51 177.11H59.58L59.58 181.09H61.66L61.66 173.69H63.74L63.74 184.02H65.81L65.81 184.18H67.89L67.89 184.04H69.96L69.96 183.9H72.04L72.04 174.3H74.11L74.11 178.88H76.19L76.19 184.18H78.27L78.27 182.16H80.34L80.34 181.46H82.42L82.42 183.12H84.49L84.49 179.2H86.57L86.57 180.48H88.64L88.64 180.9H90.72L90.72 183.45H92.8L92.8 184.15H94.87L94.87 184.36H96.95L96.95 184.4H99.02L99.02 183.01H101.1L101.1 183.35H103.17L103.17 181.3H105.25L105.25 183.83H107.33L107.33 178.51H109.4L109.4 179.86H111.48L111.48 177.94H113.55L113.55 181.13H115.63L115.63 175.78H117.7L117.7 183.3H119.78L119.78 183.73H121.86L121.86 179.4H123.93L123.93 173.76H126.01L126.01 184.03H128.08L128.08 184.12H130.16L130.16 184.17H132.23L132.23 175.2H134.31L134.31 183.27H136.39L136.39 184.11H138.46L138.46 180.86H140.54L140.54 178.07H142.61L142.61 184.18H144.69L144.69 181.48H146.76L146.76 180.14H148.84L148.84 182.83H150.92L150.92 167.79H152.99L152.99 182.58H155.07L155.07 184.11H157.14L157.14 184.29H159.22L159.22 174.89H161.29L161.29 174.73H163.37L163.37 177.6H165.45L165.45 179H167.52L167.52 170.15H169.6L169.6 184.25H171.67L171.67 184.07H173.75L173.75 184.3H175.82L175.82 175.75H177.9L177.9 183.36H179.98L179.98 184.06H182.05L182.05 182.26H184.13L184.13 178.99H186.2L186.2 183.9H188.28L188.28 184.4H190.35L190.35 183.93H192.43L192.43 179.5H194.51L194.51 172.27H196.58L196.58 183.86H198.66L198.66 183.27H200.73L200.73 184.18H202.81L202.81 181.51H204.88L204.88 181.18H206.96L206.96 177.44H209.04L209.04 181.66H211.11L211.11 179.9H213.19L213.19 180.54H215.26L215.26 181.46H217.34L217.34 180H219.41L219.41 177.9H221.49L221.49 176.53H223.56L223.56 183.53H225.64L225.64 180.83H227.72L227.72 178.4H229.79L229.79 184.17H231.87L231.87 182.38H233.94L233.94 178.76H236.02L236.02 180.28H238.09L238.09 177.37H240.17L240.17 178.22H242.25L242.25 181.89H244.32L244.32 181.16H246.4L246.4 170.11H248.47L248.47 179.75H250.55L250.55 172.89H252.62L252.62 182.81H254.7L254.7 178H256.78L256.78 182.83H258.85L258.85 176.88H260.93L260.93 183.68H263L263 177.29H265.08L265.08 184.17H267.15L267.15 177.48H269.23L269.23 170.92H271.31L271.31 183.83H273.38L273.38 184.09H275.46L275.46 172.33H277.53L277.53 178.85H279.61L279.61 183.59H281.68L281.68 183.78H283.76L283.76 184.15H285.84L285.84 184.3H287.91L287.91 180.32H289.99L289.99 181.5H292.06L292.06 181.42H294.14L294.14 183.45H296.21L296.21 183.02H298.29L298.29 174.87H300.37L300.37 183.31H302.44L302.44 179.12H304.52L304.52 184.35H306.59L306.59 182.14H308.67L308.67 183.05H310.74L310.74 182.62H312.82L312.82 171.67H314.9L314.9 183.69H316.97L316.97 178.06H319.05L319.05 154.87H321.12L321.12 177.63H323.2L323.2 184.21H325.27L325.27 183.18H327.35L327.35 183.14H329.43L329.43 182.49H331.5L331.5 182.39H333.58L333.58 184.36H335.65L335.65 171.66H337.73L337.73 177.57H339.8L339.8 182.84H341.88L341.88 184.21H343.96L343.96 176.9H346.03L346.03 183.72H348.11L348.11 183.35H350.18L350.18 182.99H352.26L352.26 184.09H354.33L354.33 183.17H356.41L356.41 183.81H358.49L358.49 182.63H360.56L360.56 161.71H362.64L362.64 183.28H364.71L364.71 183.95H366.79L366.79 173.34H368.86L368.86 184.18H370.94L370.94 180.93H373.02L373.02 183.99H375.09L375.09 181.28H377.17L377.17 179.53H379.24L379.24 179.17H381.32L381.32 175.87H383.39L383.39 177.04H385.47L385.47 178.56H387.55L387.55 180.82H389.62L389.62 181.72H391.7L391.7 178.36H393.77L393.77 184.35H395.85L395.85 182.06H397.92L397.92 178.34H400L400 184.4Z" fill="#CF62A0"/>
<path d="M32.6 184.4L32.6 183.97H34.68L34.68 179.21H36.75L36.75 183.28H38.83L38.83 182.61H40.9L40.9 184.37H42.98L42.98 184.4H45.05L45.05 173.71H47.13L47.13 184.4H49.21L49.21 180.92H51.28L51.28 182.15H53.36L53.36 180.15H55.43L55.43 184.26H57.51L57.51 179.2H59.58L59.58 181.64H61.66L61.66 174.93H63.74L63.74 184.4H65.81L65.81 184.18H67.89L67.89 184.36H69.96L69.96 184.39H72.04L72.04 176.28H74.11L74.11 180.73H76.19L76.19 184.19H78.27L78.27 182.61H80.34L80.34 182.75H82.42L82.42 184.25H84.49L84.49 183.04H86.57L86.57 184.4H88.64L88.64 182.46H90.72L90.72 183.94H92.8L92.8 184.38H94.87L94.87 184.4H96.95L96.95 184.4H99.02L99.02 183.25H101.1L101.1 183.42H103.17L103.17 182.71H105.25L105.25 183.85H107.33L107.33 178.57H109.4L109.4 184.39H111.48L111.48 178.76H113.55L113.55 181.83H115.63L115.63 176.13H117.7L117.7 183.41H119.78L119.78 184.37H121.86L121.86 184.26H123.93L123.93 184.4H126.01L126.01 184.4H128.08L128.08 184.31H130.16L130.16 184.17H132.23L132.23 175.2H134.31L134.31 183.75H136.39L136.39 184.2H138.46L138.46 181.57H140.54L140.54 184.26H142.61L142.61 184.37H144.69L144.69 184.32H146.76L146.76 180.53H148.84L148.84 184.14H150.92L150.92 167.93H152.99L152.99 182.91H155.07L155.07 184.36H157.14L157.14 184.3H159.22L159.22 183.97H161.29L161.29 182.97H163.37L163.37 184.35H165.45L165.45 179.11H167.52L167.52 184.04H169.6L169.6 184.37H171.67L171.67 184.4H173.75L173.75 184.4H175.82L175.82 176.58H177.9L177.9 184.4H179.98L179.98 184.08H182.05L182.05 184.19H184.13L184.13 179.38H186.2L186.2 184.33H188.28L188.28 184.4H190.35L190.35 183.99H192.43L192.43 182.89H194.51L194.51 176.13H196.58L196.58 183.86H198.66L198.66 183.3H200.73L200.73 184.37H202.81L202.81 182.63H204.88L204.88 181.23H206.96L206.96 184.01H209.04L209.04 183.69H211.11L211.11 183.75H213.19L213.19 181.2H215.26L215.26 184.37H217.34L217.34 180H219.41L219.41 184.1H221.49L221.49 184.4H223.56L223.56 184.39H225.64L225.64 184.19H227.72L227.72 179.22H229.79L229.79 184.2H231.87L231.87 182.51H233.94L233.94 178.85H236.02L236.02 182.84H238.09L238.09 178.74H240.17L240.17 178.28H242.25L242.25 184.33H244.32L244.32 181.88H246.4L246.4 178.96H248.47L248.47 179.78H250.55L250.55 184.4H252.62L252.62 182.81H254.7L254.7 183.53H256.78L256.78 183.35H258.85L258.85 184.4H260.93L260.93 183.77H263L263 179.18H265.08L265.08 184.19H267.15L267.15 182.27H269.23L269.23 178.6H271.31L271.31 183.83H273.38L273.38 184.27H275.46L275.46 172.77H277.53L277.53 183.64H279.61L279.61 184.33H281.68L281.68 184.4H283.76L283.76 184.15H285.84L285.84 184.35H287.91L287.91 184.4H289.99L289.99 184.32H292.06L292.06 181.84H294.14L294.14 183.96H296.21L296.21 184.33H298.29L298.29 179.56H300.37L300.37 183.49H302.44L302.44 184.4H304.52L304.52 184.37H306.59L306.59 184.29H308.67L308.67 183.05H310.74L310.74 182.93H312.82L312.82 172.02H314.9L314.9 184.28H316.97L316.97 184.4H319.05L319.05 155.59H321.12L321.12 177.69H323.2L323.2 184.28H325.27L325.27 183.83H327.35L327.35 184.1H329.43L329.43 184.4H331.5L331.5 183.36H333.58L333.58 184.36H335.65L335.65 179.67H337.73L337.73 178.83H339.8L339.8 182.84H341.88L341.88 184.4H343.96L343.96 177.96H346.03L346.03 183.91H348.11L348.11 183.35H350.18L350.18 184.4H352.26L352.26 184.09H354.33L354.33 184.17H356.41L356.41 183.88H358.49L358.49 183.7H360.56L360.56 165.34H362.64L362.64 184.31H364.71L364.71 184.3H366.79L366.79 176.11H368.86L368.86 184.4H370.94L370.94 182.16H373.02L373.02 184.04H375.09L375.09 181.54H377.17L377.17 179.53H379.24L379.24 179.37H381.32L381.32 176.84H383.39L383.39 179.17H385.47L385.47 184.2H387.55L387.55 182.46H389.62L389.62 184.4H391.7L391.7 178.86H393.77L393.77 184.35H395.85L395.85 184.35H397.92L397.92 178.42H400L400 184.4Z" fill="#DE5D93"/>
<path d="M32.6 184.4L32.6 183.97H34.68L34.68 179.21H36.75L36.75 183.68H38.83L38.83 182.61H40.9L40.9 184.37H42.98L42.98 184.4H45.05L45.05 173.71H47.13L47.13 184.4H49.21L49.21 180.92H51.28L51.28 182.16H53.36L53.36 182.39H55.43L55.43 184.26H57.51L57.51 179.2H59.58L59.58 182.46H61.66L61.66 175.11H63.74L63.74 184.4H65.81L65.81 184.18H67.89L67.89 184.37H69.96L69.96 184.39H72.04L72.04 176.28H74.11L74.11 180.73H76.19L76.19 184.19H78.27L78.27 182.7H80.34L80.34 183.42H82.42L82.42 184.26H84.49L84.49 183.07H86.57L86.57 184.4H88.64L88.64 182.46H90.72L90.72 183.94H92.8L92.8 184.38H94.87L94.87 184.4H96.95L96.95 184.4H99.02L99.02 183.25H101.1L101.1 183.57H103.17L103.17 182.83H105.25L105.25 183.85H107.33L107.33 178.6H109.4L109.4 184.39H111.48L111.48 178.76H113.55L113.55 182.74H115.63L115.63 184.31H117.7L117.7 183.43H119.78L119.78 184.37H121.86L121.86 184.26H123.93L123.93 184.4H126.01L126.01 184.4H128.08L128.08 184.32H130.16L130.16 184.17H132.23L132.23 175.3H134.31L134.31 184.14H136.39L136.39 184.2H138.46L138.46 181.57H140.54L140.54 184.26H142.61L142.61 184.37H144.69L144.69 184.32H146.76L146.76 180.53H148.84L148.84 184.15H150.92L150.92 184.34H152.99L152.99 182.91H155.07L155.07 184.36H157.14L157.14 184.3H159.22L159.22 183.97H161.29L161.29 182.97H163.37L163.37 184.35H165.45L165.45 179.11H167.52L167.52 184.04H169.6L169.6 184.37H171.67L171.67 184.4H173.75L173.75 184.4H175.82L175.82 176.81H177.9L177.9 184.4H179.98L179.98 184.15H182.05L182.05 184.21H184.13L184.13 179.38H186.2L186.2 184.33H188.28L188.28 184.4H190.35L190.35 183.99H192.43L192.43 182.91H194.51L194.51 176.13H196.58L196.58 183.86H198.66L198.66 183.3H200.73L200.73 184.37H202.81L202.81 182.74H204.88L204.88 182.44H206.96L206.96 184.01H209.04L209.04 183.69H211.11L211.11 183.75H213.19L213.19 181.2H215.26L215.26 184.37H217.34L217.34 180.01H219.41L219.41 184.1H221.49L221.49 184.4H223.56L223.56 184.39H225.64L225.64 184.19H227.72L227.72 179.22H229.79L229.79 184.21H231.87L231.87 184.33H233.94L233.94 179.02H236.02L236.02 182.84H238.09L238.09 178.74H240.17L240.17 178.28H242.25L242.25 184.33H244.32L244.32 184.12H246.4L246.4 178.96H248.47L248.47 182.02H250.55L250.55 184.4H252.62L252.62 182.81H254.7L254.7 183.53H256.78L256.78 183.35H258.85L258.85 184.4H260.93L260.93 183.77H263L263 179.61H265.08L265.08 184.19H267.15L267.15 182.27H269.23L269.23 178.6H271.31L271.31 184.14H273.38L273.38 184.39H275.46L275.46 172.77H277.53L277.53 183.67H279.61L279.61 184.33H281.68L281.68 184.4H283.76L283.76 184.16H285.84L285.84 184.35H287.91L287.91 184.4H289.99L289.99 184.32H292.06L292.06 181.88H294.14L294.14 183.98H296.21L296.21 184.33H298.29L298.29 179.56H300.37L300.37 183.5H302.44L302.44 184.4H304.52L304.52 184.37H306.59L306.59 184.29H308.67L308.67 183.05H310.74L310.74 183.1H312.82L312.82 172.05H314.9L314.9 184.4H316.97L316.97 184.4H319.05L319.05 155.59H321.12L321.12 177.69H323.2L323.2 184.31H325.27L325.27 183.83H327.35L327.35 184.1H329.43L329.43 184.4H331.5L331.5 183.36H333.58L333.58 184.36H335.65L335.65 179.67H337.73L337.73 178.85H339.8L339.8 182.84H341.88L341.88 184.4H343.96L343.96 179.15H346.03L346.03 183.91H348.11L348.11 184.06H350.18L350.18 184.4H352.26L352.26 184.4H354.33L354.33 184.17H356.41L356.41 183.88H358.49L358.49 184.31H360.56L360.56 168.39H362.64L362.64 184.31H364.71L364.71 184.3H366.79L366.79 176.11H368.86L368.86 184.4H370.94L370.94 182.17H373.02L373.02 184.04H375.09L375.09 181.9H377.17L377.17 179.55H379.24L379.24 179.37H381.32L381.32 184.39H383.39L383.39 179.17H385.47L385.47 184.2H387.55L387.55 182.46H389.62L389.62 184.4H391.7L391.7 178.86H393.77L393.77 184.35H395.85L395.85 184.35H397.92L397.92 178.42H400L400 184.4Z" fill="#E75F7F"/>
<rect x="32.6" y="184.4" width="367.4" height="8" fill="#EBEBEB"/>
<path d="M33.64 184.4v8M35.71 184.4v8M37.79 184.4v8M39.86 184.4v8M41.94 184.4v8M44.02 184.4v8M46.09 184.4v8M48.17 184.4v8M50.24 184.4v8M52.32 184.4v8M54.39 184.4v8M56.47 184.4v8M58.55 184.4v8M60.62 184.4v8M62.7 184.4v8M64.77 184.4v8M66.85 184.4v8M68.92 184.4v8M71 184.4v8M73.08 184.4v8M75.15 184.4v8M77.23 184.4v8M79.3 184.4v8M81.38 184.4v8M83.45 184.4v8M85.53 184.4v8M87.61 184.4v8M89.68 184.4v8M91.76 184.4v8M93.83 184.4v8M95.91 184.4v8M97.98 184.4v8M100.06 184.4v8M102.14 184.4v8M104.21 184.4v8M106.29 184.4v8M108.36 184.4v8M110.44 184.4v8M112.51 184.4v8M114.59 184.4v8M116.67 184.4v8M118.74 184.4v8M120.82 184.4v8M122.89 184.4v8M124.97 184.4v8M127.04 184.4v8M129.12 184.4v8M131.2 184.4v8M133.27 184.4v8M135.35 184.4v8M137.42 184.4v8M139.5 184.4v8M141.57 184.4v8M143.65 184.4v8M145.73 184.4v8M147.8 184.4v8M149.88 184.4v8M151.95 184.4v8M154.03 184.4v8M156.1 184.4v8M158.18 184.4v8M160.26 184.4v8M162.33 184.4v8M164.41 184.4v8M166.48 184.4v8M168.56 184.4v8M170.63 184.4v8M172.71 184.4v8M174.79 184.4v8M176.86 184.4v8M178.94 184.4v8M181.01 184.4v8M183.09 184.4v8M185.16 184.4v8M187.24 184.4v8M189.32 184.4v8M191.39 184.4v8M193.47 184.4v8M195.54 184.4v8M197.62 184.4v8M199.69 184.4v8M201.77 184.4v8M203.85 184.4v8M205.92 184.4v8M208 184.4v8M210.07 184.4v8M212.15 184.4v8M214.22 184.4v8M216.3 184.4v8M218.38 184.4v8M220.45 184.4v8M222.53 184.4v8M224.6 184.4v8M226.68 184.4v8M228.75 184.4v8M230.83 184.4v8M232.91 184.4v8M234.98 184.4v8M237.06 184.4v8M239.13 184.4v8M241.21 184.4v8M243.28 184.4v8M245.36 184.4v8M247.44 184.4v8M249.51 184.4v8M251.59 184.4v8M253.66 184.4v8M255.74 184.4v8M257.81 184.4v8M259.89 184.4v8M261.97 184.4v8M264.04 184.4v8M266.12 184.4v8M268.19 184.4v8M270.27 184.4v8M272.34 184.4v8M274.42 184.4v8M276.5 184.4v8M278.57 184.4v8M280.65 184.4v8M282.72 184.4v8M284.8 184.4v8M286.87 184.4v8M288.95 184.4v8M291.03 184.4v8M293.1 184.4v8M295.18 184.4v8M297.25 184.4v8M299.33 184.4v8M301.4 184.4v8M303.48 184.4v8M305.56 184.4v8M307.63 184.4v8M309.71 184.4v8M311.78 184.4v8M313.86 184.4v8M315.93 184.4v8M318.01 184.4v8M320.09 184.4v8M322.16 184.4v8M324.24 184.4v8M326.31 184.4v8M328.39 184.4v8M330.46 184.4v8M332.54 184.4v8M334.62 184.4v8M336.69 184.4v8M338.77 184.4v8M340.84 184.4v8M342.92 184.4v8M344.99 184.4v8M347.07 184.4v8M349.15 184.4v8M351.22 184.4v8M353.3 184.4v8M355.37 184.4v8M357.45 184.4v8M359.52 184.4v8M361.6 184.4v8M363.68 184.4v8M365.75 184.4v8M367.83 184.4v8M369.9 184.4v8M371.98 184.4v8M374.05 184.4v8M376.13 184.4v8M378.21 184.4v8M380.28 184.4v8M382.36 184.4v8M384.43 184.4v8M386.51 184.4v8M388.58 184.4v8M390.66 184.4v8M392.74 184.4v8M394.81 184.4v8M396.89 184.4v8M398.96 184.4v8" stroke="#E2E2E2" stroke-width="0.5"/>
<text x="2" y="17.3" font-size="21.5" font-weight="bold">A</text>
<text x="31" y="32.4" font-size="8" text-anchor="end" fill="#4D4D4D">1.00</text>
<text x="31" y="71.12" font-size="8" text-anchor="end" fill="#4D4D4D">0.75</text>
<text x="31" y="109.85" font-size="8" text-anchor="end" fill="#4D4D4D">0.50</text>
<text x="31" y="148.58" font-size="8" text-anchor="end" fill="#4D4D4D">0.25</text>
<text x="31" y="187.3" font-size="8" text-anchor="end" fill="#4D4D4D">0.00</text>
<text transform="translate(9.9 101.6) rotate(-90)" font-size="12" text-anchor="middle">Proportion</text>
<rect x="28.3" y="198" width="4.6" height="4.6" fill="#EC756C"/>
<text x="35.6" y="203.18" font-size="8" fill="#222">B cells naive</text>
<rect x="28.3" y="205.8" width="4.6" height="4.6" fill="#E9773F"/>
<text x="35.6" y="210.98" font-size="8" fill="#222">B cells memory</text>
<rect x="28.3" y="213.6" width="4.6" height="4.6" fill="#D98B17"/>
<text x="35.6" y="218.78" font-size="8" fill="#222">Plasma cells</text>
<rect x="28.3" y="221.4" width="4.6" height="4.6" fill="#C4921A"/>
<text x="35.6" y="226.58" font-size="8" fill="#222">T cells CD8</text>
<rect x="28.3" y="229.2" width="4.6" height="4.6" fill="#AA9E25"/>
<text x="35.6" y="234.38" font-size="8" fill="#222">T cells CD4 naive</text>
<rect x="102.9" y="198" width="4.6" height="4.6" fill="#8CA52C"/>
<text x="110" y="202.78" font-size="6.9" fill="#222">T cells CD4 memory resting</text>
<rect x="102.9" y="206.2" width="4.6" height="4.6" fill="#66AC35"/>
<text x="110" y="210.98" font-size="6.9" fill="#222">T cells CD4 memory activated</text>
<rect x="102.9" y="214.4" width="4.6" height="4.6" fill="#2BB04A"/>
<text x="110" y="219.18" font-size="6.9" fill="#222">T cells follicular helper</text>
<rect x="102.9" y="222.6" width="4.6" height="4.6" fill="#2EB163"/>
<text x="110" y="227.38" font-size="6.9" fill="#222">T cells regulatory (Tregs)</text>
<rect x="102.9" y="230.8" width="4.6" height="4.6" fill="#2DB286"/>
<text x="110" y="235.58" font-size="6.9" fill="#222">T cells gamma delta</text>
<rect x="207" y="198" width="4.6" height="4.6" fill="#22B2A0"/>
<text x="213.8" y="202.82" font-size="7" fill="#222">NK cells resting</text>
<rect x="207" y="206.2" width="4.6" height="4.6" fill="#1DB1B2"/>
<text x="213.8" y="211.02" font-size="7" fill="#222">NK cells activated</text>
<rect x="207" y="214.4" width="4.6" height="4.6" fill="#1EABCB"/>
<text x="213.8" y="219.22" font-size="7" fill="#222">Monocytes</text>
<rect x="207" y="222.6" width="4.6" height="4.6" fill="#2AA4E0"/>
<text x="213.8" y="227.42" font-size="7" fill="#222">Macrophages M0</text>
<rect x="207" y="230.8" width="4.6" height="4.6" fill="#2D93D6"/>
<text x="213.8" y="235.62" font-size="7" fill="#222">Macrophages M1</text>
<rect x="273.4" y="198" width="4.6" height="4.6" fill="#7A8BC8"/>
<text x="279.9" y="203.18" font-size="8" fill="#222">Macrophages M2</text>
<rect x="273.4" y="206" width="4.6" height="4.6" fill="#8E7DC0"/>
<text x="279.9" y="211.18" font-size="8" fill="#222">Dendritic cells resting</text>
<rect x="273.4" y="214" width="4.6" height="4.6" fill="#A673B8"/>
<text x="279.9" y="219.18" font-size="8" fill="#222">Dendritic cells activated</text>
<rect x="273.4" y="222" width="4.6" height="4.6" fill="#BB6AAC"/>
<text x="279.9" y="227.18" font-size="8" fill="#222">Mast cells resting</text>
<rect x="273.4" y="230" width="4.6" height="4.6" fill="#CF62A0"/>
<text x="279.9" y="235.18" font-size="8" fill="#222">Mast cells activated</text>
<rect x="366.6" y="198" width="4.6" height="4.6" fill="#DE5D93"/>
<text x="373.4" y="202.82" font-size="7" fill="#222">Eosinophils</text>
<rect x="366.6" y="206" width="4.6" height="4.6" fill="#E75F7F"/>
<text x="373.4" y="210.82" font-size="7" fill="#222">Neutrophils</text></g><text x="410.6" y="17.2" font-size="21.5" font-weight="bold">B</text>
<line x1="483.46" y1="63.24" x2="622.86" y2="202.64" stroke="#B4C4DA" stroke-width="2.6" stroke-opacity="0.85"/>
<line x1="564.2" y1="22.1" x2="595.04" y2="26.98" stroke="#B4C4DA" stroke-width="2.4" stroke-opacity="0.85"/>
<line x1="595.04" y1="26.98" x2="595.04" y2="216.82" stroke="#B4C4DA" stroke-width="2.2" stroke-opacity="0.85"/>
<line x1="464.4" y1="121.9" x2="622.86" y2="41.16" stroke="#B4C4DA" stroke-width="1.6" stroke-opacity="0.75"/>
<line x1="533.36" y1="26.98" x2="505.54" y2="202.64" stroke="#B4C4DA" stroke-width="1.4" stroke-opacity="0.75"/>
<line x1="644.94" y1="63.24" x2="659.12" y2="91.06" stroke="#B4C4DA" stroke-width="1.2" stroke-opacity="0.7"/>
<line x1="644.94" y1="63.24" x2="533.36" y2="216.82" stroke="#B4C4DA" stroke-width="0.9" stroke-opacity="0.55"/>
<line x1="469.28" y1="152.74" x2="533.36" y2="216.82" stroke="#B4C4DA" stroke-width="0.9" stroke-opacity="0.55"/>
<line x1="469.28" y1="152.74" x2="564.2" y2="221.7" stroke="#B4C4DA" stroke-width="0.8" stroke-opacity="0.5"/>
<line x1="483.46" y1="180.56" x2="564.2" y2="221.7" stroke="#B4C4DA" stroke-width="0.6" stroke-opacity="0.4"/>
<line x1="505.54" y1="202.64" x2="659.12" y2="91.06" stroke="#B4C4DA" stroke-width="0.7" stroke-opacity="0.45"/>
<line x1="505.54" y1="202.64" x2="659.12" y2="152.74" stroke="#B4C4DA" stroke-width="0.8" stroke-opacity="0.5"/>
<line x1="469.28" y1="91.06" x2="533.36" y2="216.82" stroke="#B4C4DA" stroke-width="0.7" stroke-opacity="0.4"/>
<line x1="505.54" y1="41.16" x2="595.04" y2="216.82" stroke="#B4C4DA" stroke-width="0.6" stroke-opacity="0.35"/>
<line x1="533.36" y1="26.98" x2="644.94" y2="180.56" stroke="#B4C4DA" stroke-width="0.6" stroke-opacity="0.35"/>
<line x1="564.2" y1="22.1" x2="483.46" y2="180.56" stroke="#B4C4DA" stroke-width="0.6" stroke-opacity="0.35"/>
<line x1="595.04" y1="26.98" x2="464.4" y2="121.9" stroke="#B4C4DA" stroke-width="0.6" stroke-opacity="0.3"/>
<line x1="659.12" y1="91.06" x2="483.46" y2="180.56" stroke="#B4C4DA" stroke-width="0.6" stroke-opacity="0.35"/>
<line x1="664" y1="121.9" x2="505.54" y2="202.64" stroke="#B4C4DA" stroke-width="0.6" stroke-opacity="0.35"/>
<line x1="659.12" y1="152.74" x2="564.2" y2="221.7" stroke="#B4C4DA" stroke-width="0.6" stroke-opacity="0.3"/>
<line x1="505.54" y1="41.16" x2="659.12" y2="91.06" stroke="#B4C4DA" stroke-width="0.5" stroke-opacity="0.3"/>
<line x1="483.46" y1="63.24" x2="644.94" y2="63.24" stroke="#B4C4DA" stroke-width="0.5" stroke-opacity="0.3"/>
<line x1="622.86" y1="41.16" x2="469.28" y2="152.74" stroke="#B4C4DA" stroke-width="0.5" stroke-opacity="0.25"/>
<line x1="644.94" y1="180.56" x2="469.28" y2="91.06" stroke="#B4C4DA" stroke-width="0.5" stroke-opacity="0.25"/>
<line x1="564.2" y1="22.1" x2="505.54" y2="202.64" stroke="#B4C4DA" stroke-width="0.6" stroke-opacity="0.35"/>
<line x1="469.28" y1="91.06" x2="659.12" y2="152.74" stroke="#B4C4DA" stroke-width="0.5" stroke-opacity="0.25"/>
<line x1="533.36" y1="216.82" x2="622.86" y2="41.16" stroke="#B4C4DA" stroke-width="0.5" stroke-opacity="0.3"/>
<line x1="533.36" y1="26.98" x2="595.04" y2="26.98" stroke="#B4C4DA" stroke-width="0.6" stroke-opacity="0.35"/>
<line x1="483.46" y1="63.24" x2="595.04" y2="26.98" stroke="#EA5A5E" stroke-width="1.1" stroke-opacity="0.85"/>
<line x1="469.28" y1="152.74" x2="564.2" y2="221.7" stroke="#EA5A5E" stroke-width="1.2" stroke-opacity="0.85"/>
<line x1="564.2" y1="221.7" x2="659.12" y2="91.06" stroke="#EA5A5E" stroke-width="1.1" stroke-opacity="0.85"/>
<line x1="464.4" y1="121.9" x2="469.28" y2="152.74" stroke="#EA5A5E" stroke-width="1" stroke-opacity="0.85"/>
<line x1="664" y1="121.9" x2="659.12" y2="152.74" stroke="#EA5A5E" stroke-width="1" stroke-opacity="0.85"/>
<line x1="533.36" y1="26.98" x2="533.36" y2="216.82" stroke="#EA5A5E" stroke-width="0.8" stroke-opacity="0.6"/>
<line x1="564.2" y1="22.1" x2="595.04" y2="216.82" stroke="#EA5A5E" stroke-width="0.7" stroke-opacity="0.55"/>
<line x1="595.04" y1="26.98" x2="659.12" y2="152.74" stroke="#EA5A5E" stroke-width="0.8" stroke-opacity="0.6"/>
<line x1="564.2" y1="221.7" x2="595.04" y2="216.82" stroke="#EA5A5E" stroke-width="0.8" stroke-opacity="0.7"/>
<line x1="505.54" y1="202.64" x2="644.94" y2="180.56" stroke="#EA5A5E" stroke-width="0.6" stroke-opacity="0.5"/>
<line x1="483.46" y1="180.56" x2="644.94" y2="180.56" stroke="#EA5A5E" stroke-width="0.6" stroke-opacity="0.45"/>
<line x1="505.54" y1="41.16" x2="595.04" y2="216.82" stroke="#EA5A5E" stroke-width="0.6" stroke-opacity="0.5"/>
<line x1="564.2" y1="22.1" x2="564.2" y2="221.7" stroke="#EA5A5E" stroke-width="0.5" stroke-opacity="0.4"/>
<line x1="533.36" y1="26.98" x2="564.2" y2="22.1" stroke="#EA5A5E" stroke-width="0.6" stroke-opacity="0.45"/>
<line x1="505.54" y1="41.16" x2="595.04" y2="26.98" stroke="#EA5A5E" stroke-width="0.5" stroke-opacity="0.4"/>
<line x1="622.86" y1="41.16" x2="595.04" y2="216.82" stroke="#EA5A5E" stroke-width="0.5" stroke-opacity="0.35"/>
<line x1="533.36" y1="216.82" x2="622.86" y2="202.64" stroke="#EA5A5E" stroke-width="0.5" stroke-opacity="0.4"/>
<line x1="505.54" y1="202.64" x2="664" y2="121.9" stroke="#EA5A5E" stroke-width="0.5" stroke-opacity="0.35"/>
<line x1="464.4" y1="121.9" x2="659.12" y2="152.74" stroke="#EA5A5E" stroke-width="0.5" stroke-opacity="0.3"/>
<line x1="483.46" y1="63.24" x2="644.94" y2="180.56" stroke="#EA5A5E" stroke-width="0.5" stroke-opacity="0.3"/>
<line x1="533.36" y1="26.98" x2="622.86" y2="202.64" stroke="#EA5A5E" stroke-width="0.5" stroke-opacity="0.35"/>
<line x1="644.94" y1="63.24" x2="564.2" y2="221.7" stroke="#EA5A5E" stroke-width="0.4" stroke-opacity="0.3"/>
<line x1="469.28" y1="91.06" x2="664" y2="121.9" stroke="#EA5A5E" stroke-width="0.4" stroke-opacity="0.25"/>
<circle cx="564.2" cy="22.1" r="3.2" fill="#D7191C" stroke="#222" stroke-width="0.5"/>
<circle cx="564.2" cy="22.1" r="0.9" fill="#000"/>
<circle cx="595.04" cy="26.98" r="2.8" fill="#D7191C" stroke="#222" stroke-width="0.5"/>
<circle cx="595.04" cy="26.98" r="1.06" fill="#C8D890" fill-opacity="0.85"/>
<circle cx="622.86" cy="41.16" r="5.6" fill="#D7191C" stroke="#222" stroke-width="0.5"/>
<circle cx="622.86" cy="41.16" r="1.57" fill="#000"/>
<circle cx="622.86" cy="41.16" r="2.8" fill="none" stroke="#A0522D" stroke-opacity="0.6" stroke-width="0.6"/>
<circle cx="644.94" cy="63.24" r="1.8" fill="#D7191C" stroke="#222" stroke-width="0.5"/>
<circle cx="659.12" cy="91.06" r="2.4" fill="#D7191C" stroke="#222" stroke-width="0.5"/>
<circle cx="659.12" cy="91.06" r="0.91" fill="#C8D890" fill-opacity="0.85"/>
<circle cx="664" cy="121.9" r="4.3" fill="#D7191C" stroke="#222" stroke-width="0.5"/>
<circle cx="664" cy="121.9" r="1.2" fill="#000"/>
<circle cx="664" cy="121.9" r="2.15" fill="none" stroke="#A0522D" stroke-opacity="0.6" stroke-width="0.6"/>
<circle cx="659.12" cy="152.74" r="1.6" fill="#D7191C" stroke="#222" stroke-width="0.5"/>
<circle cx="644.94" cy="180.56" r="2.6" fill="#D7191C" stroke="#222" stroke-width="0.5"/>
<circle cx="644.94" cy="180.56" r="0.99" fill="#C8D890" fill-opacity="0.85"/>
<circle cx="622.86" cy="202.64" r="2.9" fill="#D7191C" stroke="#222" stroke-width="0.5"/>
<circle cx="622.86" cy="202.64" r="1.1" fill="#C8D890" fill-opacity="0.85"/>
<circle cx="595.04" cy="216.82" r="2.4" fill="#D7191C" stroke="#222" stroke-width="0.5"/>
<circle cx="595.04" cy="216.82" r="0.91" fill="#C8D890" fill-opacity="0.85"/>
<circle cx="564.2" cy="221.7" r="3.8" fill="#2C6DB5" stroke="#222" stroke-width="0.5"/>
<circle cx="564.2" cy="221.7" r="1.44" fill="#C8D890" fill-opacity="0.85"/>
<circle cx="533.36" cy="216.82" r="3.5" fill="#7B3F9E" stroke="#222" stroke-width="0.5"/>
<circle cx="533.36" cy="216.82" r="1.33" fill="#C8D890" fill-opacity="0.85"/>
<circle cx="505.54" cy="202.64" r="3.6" fill="#F0B35A" stroke="#222" stroke-width="0.5"/>
<circle cx="505.54" cy="202.64" r="1.37" fill="#C8D890" fill-opacity="0.85"/>
<circle cx="483.46" cy="180.56" r="3.8" fill="#F0B35A" stroke="#222" stroke-width="0.5"/>
<circle cx="483.46" cy="180.56" r="1.44" fill="#C8D890" fill-opacity="0.85"/>
<circle cx="469.28" cy="152.74" r="1.7" fill="#7F4A1B" stroke="#222" stroke-width="0.5"/>
<circle cx="464.4" cy="121.9" r="12.4" fill="#7F4A1B" stroke="#222" stroke-width="0.5"/>
<circle cx="464.4" cy="121.9" r="3.2" fill="#000"/>
<circle cx="469.28" cy="91.06" r="2" fill="#7F4A1B" stroke="#222" stroke-width="0.5"/>
<circle cx="483.46" cy="63.24" r="2" fill="#7F4A1B" stroke="#222" stroke-width="0.5"/>
<circle cx="505.54" cy="41.16" r="1.6" fill="#D7191C" stroke="#222" stroke-width="0.5"/>
<circle cx="533.36" cy="26.98" r="2.6" fill="#D7191C" stroke="#222" stroke-width="0.5"/>
<circle cx="533.36" cy="26.98" r="0.99" fill="#C8D890" fill-opacity="0.85"/>
<text x="579.8" y="17.6" font-size="8" text-anchor="middle" fill="#E8262B">NK cells resting</text>
<text x="599.6" y="27.9" font-size="8" fill="#E8262B">NK cells activated</text>
<text x="656.6" y="40.3" font-size="8" text-anchor="middle" fill="#E8262B">Dendritic cells</text>
<text x="654.2" y="46.3" font-size="8" text-anchor="middle" fill="#E8262B">activated</text>
<text x="649.3" y="67.3" font-size="8" fill="#E8262B">B cells memory</text>
<text x="663.4" y="91.1" font-size="8" fill="#E8262B">Plasma cells</text>
<text x="668" y="116.9" font-size="8" fill="#E8262B">Eosinophils</text>
<text x="661.8" y="152.3" font-size="8" fill="#E8262B">T cells follicular</text>
<text x="673.2" y="158.5" font-size="8" fill="#E8262B">helper</text>
<text x="677.4" y="176.7" font-size="8" text-anchor="middle" fill="#E8262B">Dendritic cells</text>
<text x="673.4" y="183.5" font-size="8" text-anchor="middle" fill="#E8262B">resting</text>
<text x="627.8" y="205.5" font-size="8" fill="#E8262B">Mast cells activated</text>
<text x="625.5" y="221.5" font-size="8" text-anchor="middle" fill="#E8262B">T cells CD4</text>
<text x="626.1" y="227.7" font-size="8" text-anchor="middle" fill="#E8262B">memory activated</text>
<text x="572.5" y="233.6" font-size="8" text-anchor="middle" fill="#3A77C0">B cells naive</text>
<text x="526" y="226.5" font-size="8" text-anchor="middle" fill="#8440A8">Macrophages M0</text>
<text x="478.7" y="206" font-size="8" text-anchor="middle" fill="#EDA94A">T cells CD4</text>
<text x="479.5" y="212" font-size="8" text-anchor="middle" fill="#EDA94A">memory resting</text>
<text x="458" y="192.1" font-size="8" text-anchor="middle" fill="#EDA94A">Macrophages M2</text>
<text x="450.5" y="161.2" font-size="8" text-anchor="middle" fill="#7B4A22">T cells CD8</text>
<text x="430.9" y="137.3" font-size="8" text-anchor="middle" fill="#7B4A22">Macrophages</text>
<text x="431.9" y="144.4" font-size="8" text-anchor="middle" fill="#7B4A22">M1</text>
<text x="465.8" y="93.4" font-size="8" text-anchor="end" fill="#7B4A22">Monocytes</text>
<text x="479.9" y="59.2" font-size="8" text-anchor="end" fill="#7B4A22">Mast cells resting</text>
<text x="501.8" y="43.6" font-size="8" text-anchor="end" fill="#E8262B">T cells CD4 naive</text>
<text x="512.8" y="17" font-size="8" text-anchor="middle" fill="#E8262B">T cells regulatory</text>
<text x="516" y="26.1" font-size="8" text-anchor="middle" fill="#E8262B">(Tregs)</text>
<circle cx="712.4" cy="20.6" r="2.3" fill="#2C6DB5"/>
<text x="724.6" y="21.9" font-size="8" fill="#111">Cell Cluster A</text>
<circle cx="712.4" cy="28.1" r="2.3" fill="#D7191C"/>
<text x="724.6" y="29.2" font-size="8" fill="#111">Cell Cluster B</text>
<circle cx="712.4" cy="35.8" r="2.3" fill="#7F4A1B"/>
<text x="724.6" y="37" font-size="8" fill="#111">Cell Cluster C</text>
<circle cx="712.4" cy="43.5" r="2.3" fill="#F0B35A"/>
<text x="724.6" y="44.9" font-size="8" fill="#111">Cell Cluster D</text>
<circle cx="712.4" cy="51.6" r="2.3" fill="#7B3F9E"/>
<text x="724.6" y="53.9" font-size="8" fill="#111">Cell Cluster E</text>
<line x1="707.5" y1="76.8" x2="720" y2="76.8" stroke="#EE6F72" stroke-width="1.4"/>
<text x="725.2" y="78.8" font-size="7.95" fill="#111">Positive correlation</text>
<text x="725.2" y="86.9" font-size="7.95" fill="#111">with p&lt;0.01</text>
<line x1="707.5" y1="93" x2="720" y2="93" stroke="#C5D2E4" stroke-width="1.4"/>
<text x="725.2" y="95.9" font-size="7.95" fill="#111">Negative correlation</text>
<text x="725.2" y="104" font-size="7.95" fill="#111">with p&lt;0.01</text>
<circle cx="714.9" cy="115.8" r="2.4" fill="#000"/>
<text x="725.7" y="118.5" font-size="7.95" fill="#111">Risk factors for OS</text>
<circle cx="715.5" cy="128.0" r="2.4" fill="#8FCB7E"/>
<text x="725.2" y="131.3" font-size="7.95" fill="#111">Favorable factors</text>
<text x="727.9" y="140.8" font-size="7.95" fill="#111">for OS</text>
<text x="715.7" y="166" font-size="7.95" fill="#111">Log-rank test, <tspan font-style="italic">P</tspan> value</text>
<circle cx="732.8" cy="176.7" r="2.6" fill="#A9A9A9" stroke="#555" stroke-width="0.5"/>
<circle cx="743.1" cy="176.7" r="3.4" fill="#A9A9A9" stroke="#555" stroke-width="0.5"/>
<circle cx="758.4" cy="176.7" r="5.1" fill="#A9A9A9" stroke="#555" stroke-width="0.5"/>
<text x="721.1" y="193.2" font-size="7.95" fill="#111">0.05 0.01 0.001</text><text x="0.4" y="259" font-size="21.5" font-weight="bold">C</text>
<path d="M124.3 293.2L124.3 254.6M124.3 254.6L250 254.6M250 254.6L250 273M95.6 300.8L95.6 293.2M95.6 293.2L153.5 293.2M153.5 293.2L153.5 300.8M219.8 300.8L219.8 273M219.8 273L279.5 273M279.5 273L279.5 294.7M266.6 300.8L266.6 294.7M266.6 294.7L292.5 294.7M292.5 294.7L292.5 300.8" stroke="#333" stroke-width="0.7" fill="none"/>
<path d="M87.9 301H300.5" stroke="#777" stroke-width="0.9"/>
<rect x="87.9" y="302.9" width="114.9" height="6.3" fill="#A6CEE3"/>
<rect x="202.8" y="302.9" width="30.8" height="6.3" fill="#B2DF8A"/>
<rect x="233.6" y="302.9" width="66.9" height="6.3" fill="#1F78B4"/>
<rect x="87.9" y="313" width="44.1" height="5" fill="#8E97D8"/>
<path d="M91.68 313V318" stroke="#fff" stroke-opacity="0.09" stroke-width="1.04"/>
<path d="M113.57 313V318" stroke="#fff" stroke-opacity="0.06" stroke-width="0.75"/>
<path d="M109.03 313V318" stroke="#fff" stroke-opacity="0.07" stroke-width="0.99"/>
<path d="M92.91 313V318" stroke="#fff" stroke-opacity="0.11" stroke-width="0.81"/>
<path d="M87.9 315.15H132" stroke="#fff" stroke-opacity="0.14" stroke-width="0.99"/>
<path d="M87.9 317.78H132" stroke="#fff" stroke-opacity="0.09" stroke-width="0.92"/>
<path d="M87.9 316.48H132" stroke="#fff" stroke-opacity="0.09" stroke-width="0.4"/>
<path d="M87.9 317.87H132" stroke="#fff" stroke-opacity="0.09" stroke-width="0.65"/>
<rect x="87.9" y="318" width="44.1" height="6.6" fill="#E2E5F6"/>
<path d="M127.22 318V324.6" stroke="#234DA0" stroke-opacity="0.08" stroke-width="0.78"/>
<path d="M122 318V324.6" stroke="#234DA0" stroke-opacity="0.03" stroke-width="0.97"/>
<path d="M104.4 318V324.6" stroke="#234DA0" stroke-opacity="0.04" stroke-width="0.93"/>
<path d="M128.98 318V324.6" stroke="#234DA0" stroke-opacity="0.05" stroke-width="0.9"/>
<path d="M87.9 319.97H132" stroke="#234DA0" stroke-opacity="0.1" stroke-width="0.98"/>
<path d="M87.9 319.44H132" stroke="#234DA0" stroke-opacity="0.1" stroke-width="0.93"/>
<path d="M87.9 322.51H132" stroke="#234DA0" stroke-opacity="0.1" stroke-width="0.74"/>
<path d="M87.9 323.01H132" stroke="#234DA0" stroke-opacity="0.11" stroke-width="0.48"/>
<rect x="132" y="313" width="70.8" height="8" fill="#5562C2"/>
<path d="M192.16 313V321" stroke="#fff" stroke-opacity="0.11" stroke-width="0.78"/>
<path d="M142.36 313V321" stroke="#fff" stroke-opacity="0.15" stroke-width="0.63"/>
<path d="M193.68 313V321" stroke="#fff" stroke-opacity="0.09" stroke-width="0.85"/>
<path d="M160.3 313V321" stroke="#fff" stroke-opacity="0.14" stroke-width="0.56"/>
<path d="M144.76 313V321" stroke="#fff" stroke-opacity="0.16" stroke-width="1"/>
<path d="M132 317.54H202.8" stroke="#fff" stroke-opacity="0.19" stroke-width="0.56"/>
<path d="M132 319.81H202.8" stroke="#fff" stroke-opacity="0.08" stroke-width="1.17"/>
<path d="M132 317.99H202.8" stroke="#fff" stroke-opacity="0.14" stroke-width="1.18"/>
<path d="M132 319.3H202.8" stroke="#fff" stroke-opacity="0.17" stroke-width="0.44"/>
<path d="M132 315.95H202.8" stroke="#fff" stroke-opacity="0.06" stroke-width="0.55"/>
<rect x="132" y="321" width="70.8" height="3.6" fill="#C9CDEE"/>
<path d="M147.14 321V324.6" stroke="#234DA0" stroke-opacity="0.11" stroke-width="0.5"/>
<path d="M153.01 321V324.6" stroke="#234DA0" stroke-opacity="0.07" stroke-width="1.08"/>
<path d="M200.34 321V324.6" stroke="#234DA0" stroke-opacity="0.09" stroke-width="0.57"/>
<path d="M132 322.96H202.8" stroke="#234DA0" stroke-opacity="0.09" stroke-width="0.44"/>
<path d="M132 323.45H202.8" stroke="#234DA0" stroke-opacity="0.06" stroke-width="0.87"/>
<path d="M132 323.41H202.8" stroke="#234DA0" stroke-opacity="0.09" stroke-width="0.82"/>
<rect x="236" y="313" width="64.5" height="47.8" fill="#234DA0"/>
<path d="M271.78 313V360.8" stroke="#fff" stroke-opacity="0.07" stroke-width="0.8"/>
<path d="M244.09 313V360.8" stroke="#fff" stroke-opacity="0.12" stroke-width="0.83"/>
<path d="M285.93 313V360.8" stroke="#fff" stroke-opacity="0.1" stroke-width="0.42"/>
<path d="M270.04 313V360.8" stroke="#fff" stroke-opacity="0.07" stroke-width="0.99"/>
<path d="M261.07 313V360.8" stroke="#fff" stroke-opacity="0.1" stroke-width="1.13"/>
<path d="M261.35 313V360.8" stroke="#fff" stroke-opacity="0.1" stroke-width="0.68"/>
<path d="M267.01 313V360.8" stroke="#fff" stroke-opacity="0.05" stroke-width="0.84"/>
<path d="M295.43 313V360.8" stroke="#fff" stroke-opacity="0.13" stroke-width="1"/>
<path d="M297.09 313V360.8" stroke="#fff" stroke-opacity="0.17" stroke-width="1"/>
<path d="M288.45 313V360.8" stroke="#fff" stroke-opacity="0.17" stroke-width="0.6"/>
<path d="M236 336.04H300.5" stroke="#fff" stroke-opacity="0.09" stroke-width="0.61"/>
<path d="M236 340.32H300.5" stroke="#fff" stroke-opacity="0.09" stroke-width="0.89"/>
<path d="M236 340.84H300.5" stroke="#fff" stroke-opacity="0.06" stroke-width="0.75"/>
<path d="M236 331.64H300.5" stroke="#fff" stroke-opacity="0.15" stroke-width="0.47"/>
<path d="M236 321.08H300.5" stroke="#fff" stroke-opacity="0.12" stroke-width="0.72"/>
<path d="M236 344.8H300.5" stroke="#fff" stroke-opacity="0.09" stroke-width="0.56"/>
<path d="M236 357.54H300.5" stroke="#fff" stroke-opacity="0.08" stroke-width="0.52"/>
<path d="M236 326.38H300.5" stroke="#fff" stroke-opacity="0.09" stroke-width="0.58"/>
<path d="M236 338.64H300.5" stroke="#fff" stroke-opacity="0.19" stroke-width="0.5"/>
<path d="M236 332.84H300.5" stroke="#fff" stroke-opacity="0.15" stroke-width="1.11"/>
<rect x="285" y="325" width="15.5" height="35.8" fill="#6E79CA"/>
<path d="M300.5 325V360.8" stroke="#fff" stroke-opacity="0.14" stroke-width="0.83"/>
<path d="M298.66 325V360.8" stroke="#fff" stroke-opacity="0.11" stroke-width="0.87"/>
<path d="M287.7 325V360.8" stroke="#fff" stroke-opacity="0.29" stroke-width="1.15"/>
<path d="M293.34 325V360.8" stroke="#fff" stroke-opacity="0.1" stroke-width="0.45"/>
<path d="M291.44 325V360.8" stroke="#fff" stroke-opacity="0.31" stroke-width="0.59"/>
<path d="M295.37 325V360.8" stroke="#fff" stroke-opacity="0.2" stroke-width="0.61"/>
<path d="M295.91 325V360.8" stroke="#fff" stroke-opacity="0.18" stroke-width="0.7"/>
<path d="M296.86 325V360.8" stroke="#fff" stroke-opacity="0.22" stroke-width="1.03"/>
<path d="M285 343.48H300.5" stroke="#fff" stroke-opacity="0.14" stroke-width="0.75"/>
<path d="M285 356.24H300.5" stroke="#fff" stroke-opacity="0.24" stroke-width="1.17"/>
<path d="M285 325.04H300.5" stroke="#fff" stroke-opacity="0.19" stroke-width="1.02"/>
<path d="M285 349.56H300.5" stroke="#fff" stroke-opacity="0.24" stroke-width="0.93"/>
<path d="M285 356.38H300.5" stroke="#fff" stroke-opacity="0.27" stroke-width="0.84"/>
<path d="M285 345.14H300.5" stroke="#fff" stroke-opacity="0.27" stroke-width="0.66"/>
<path d="M285 348.97H300.5" stroke="#fff" stroke-opacity="0.25" stroke-width="1.03"/>
<path d="M285 342.19H300.5" stroke="#fff" stroke-opacity="0.11" stroke-width="0.83"/>
<rect x="87.9" y="360.6" width="212.6" height="1" fill="#7280C6"/>
<rect x="87.9" y="361.6" width="44.1" height="23.6" fill="#C3C8EC"/>
<path d="M125.72 361.6V385.2" stroke="#234DA0" stroke-opacity="0.18" stroke-width="0.91"/>
<path d="M105.14 361.6V385.2" stroke="#234DA0" stroke-opacity="0.12" stroke-width="0.98"/>
<path d="M91.33 361.6V385.2" stroke="#234DA0" stroke-opacity="0.22" stroke-width="1.1"/>
<path d="M130.34 361.6V385.2" stroke="#234DA0" stroke-opacity="0.08" stroke-width="0.49"/>
<path d="M127.33 361.6V385.2" stroke="#234DA0" stroke-opacity="0.13" stroke-width="0.62"/>
<path d="M104.76 361.6V385.2" stroke="#234DA0" stroke-opacity="0.18" stroke-width="0.53"/>
<path d="M109.38 361.6V385.2" stroke="#234DA0" stroke-opacity="0.18" stroke-width="0.98"/>
<path d="M88.44 361.6V385.2" stroke="#234DA0" stroke-opacity="0.21" stroke-width="0.75"/>
<path d="M87.9 371.88H132" stroke="#234DA0" stroke-opacity="0.16" stroke-width="0.62"/>
<path d="M87.9 382.53H132" stroke="#234DA0" stroke-opacity="0.09" stroke-width="0.83"/>
<path d="M87.9 365.57H132" stroke="#234DA0" stroke-opacity="0.17" stroke-width="1.12"/>
<path d="M87.9 382.43H132" stroke="#234DA0" stroke-opacity="0.08" stroke-width="0.9"/>
<path d="M87.9 382.66H132" stroke="#234DA0" stroke-opacity="0.09" stroke-width="0.73"/>
<path d="M87.9 378.43H132" stroke="#234DA0" stroke-opacity="0.2" stroke-width="0.76"/>
<path d="M87.9 376.67H132" stroke="#234DA0" stroke-opacity="0.18" stroke-width="0.68"/>
<path d="M87.9 376.99H132" stroke="#234DA0" stroke-opacity="0.17" stroke-width="0.96"/>
<rect x="202.8" y="361.6" width="30.8" height="23.6" fill="#234DA0"/>
<path d="M218.56 361.6V385.2" stroke="#fff" stroke-opacity="0.11" stroke-width="0.75"/>
<path d="M231.21 361.6V385.2" stroke="#fff" stroke-opacity="0.08" stroke-width="0.52"/>
<path d="M203.17 361.6V385.2" stroke="#fff" stroke-opacity="0.19" stroke-width="1.19"/>
<path d="M210.08 361.6V385.2" stroke="#fff" stroke-opacity="0.1" stroke-width="0.56"/>
<path d="M221.29 361.6V385.2" stroke="#fff" stroke-opacity="0.13" stroke-width="1.06"/>
<path d="M202.8 366.55H233.6" stroke="#fff" stroke-opacity="0.2" stroke-width="0.77"/>
<path d="M202.8 380.67H233.6" stroke="#fff" stroke-opacity="0.19" stroke-width="1.13"/>
<path d="M202.8 373.37H233.6" stroke="#fff" stroke-opacity="0.15" stroke-width="0.85"/>
<path d="M202.8 366.09H233.6" stroke="#fff" stroke-opacity="0.14" stroke-width="1.14"/>
<path d="M202.8 383.05H233.6" stroke="#fff" stroke-opacity="0.05" stroke-width="0.93"/>
<rect x="87.9" y="385.2" width="114.9" height="85" fill="#234DA0"/>
<path d="M125.45 385.2V470.2" stroke="#fff" stroke-opacity="0.07" stroke-width="0.51"/>
<path d="M179.24 385.2V470.2" stroke="#fff" stroke-opacity="0.21" stroke-width="0.82"/>
<path d="M131.97 385.2V470.2" stroke="#fff" stroke-opacity="0.14" stroke-width="1.06"/>
<path d="M173.7 385.2V470.2" stroke="#fff" stroke-opacity="0.06" stroke-width="0.57"/>
<path d="M187.6 385.2V470.2" stroke="#fff" stroke-opacity="0.13" stroke-width="0.93"/>
<path d="M177.24 385.2V470.2" stroke="#fff" stroke-opacity="0.16" stroke-width="0.99"/>
<path d="M150.59 385.2V470.2" stroke="#fff" stroke-opacity="0.09" stroke-width="0.55"/>
<path d="M202.06 385.2V470.2" stroke="#fff" stroke-opacity="0.05" stroke-width="0.95"/>
<path d="M189.09 385.2V470.2" stroke="#fff" stroke-opacity="0.09" stroke-width="0.44"/>
<path d="M133.77 385.2V470.2" stroke="#fff" stroke-opacity="0.11" stroke-width="0.77"/>
<path d="M137.01 385.2V470.2" stroke="#fff" stroke-opacity="0.21" stroke-width="0.5"/>
<path d="M196.37 385.2V470.2" stroke="#fff" stroke-opacity="0.06" stroke-width="1.15"/>
<path d="M126.16 385.2V470.2" stroke="#fff" stroke-opacity="0.17" stroke-width="0.4"/>
<path d="M139.29 385.2V470.2" stroke="#fff" stroke-opacity="0.17" stroke-width="0.9"/>
<path d="M87.9 453.74H202.8" stroke="#fff" stroke-opacity="0.08" stroke-width="0.72"/>
<path d="M87.9 437.36H202.8" stroke="#fff" stroke-opacity="0.05" stroke-width="1.07"/>
<path d="M87.9 420.58H202.8" stroke="#fff" stroke-opacity="0.09" stroke-width="0.58"/>
<path d="M87.9 440.53H202.8" stroke="#fff" stroke-opacity="0.06" stroke-width="0.6"/>
<path d="M87.9 411.03H202.8" stroke="#fff" stroke-opacity="0.09" stroke-width="0.98"/>
<path d="M87.9 435.56H202.8" stroke="#fff" stroke-opacity="0.2" stroke-width="0.96"/>
<path d="M87.9 410.23H202.8" stroke="#fff" stroke-opacity="0.11" stroke-width="0.5"/>
<path d="M87.9 405.82H202.8" stroke="#fff" stroke-opacity="0.15" stroke-width="0.98"/>
<path d="M87.9 410.35H202.8" stroke="#fff" stroke-opacity="0.11" stroke-width="1.04"/>
<path d="M87.9 466.67H202.8" stroke="#fff" stroke-opacity="0.06" stroke-width="0.46"/>
<path d="M87.9 449.73H202.8" stroke="#fff" stroke-opacity="0.13" stroke-width="0.74"/>
<path d="M87.9 439.05H202.8" stroke="#fff" stroke-opacity="0.18" stroke-width="0.46"/>
<path d="M87.9 466.95H202.8" stroke="#fff" stroke-opacity="0.21" stroke-width="0.73"/>
<path d="M87.9 425.11H202.8" stroke="#fff" stroke-opacity="0.1" stroke-width="0.87"/>
<rect x="87.9" y="385.2" width="44.1" height="44.8" fill="#2F57A8"/>
<path d="M96.95 385.2V430" stroke="#fff" stroke-opacity="0.14" stroke-width="1.12"/>
<path d="M110.22 385.2V430" stroke="#fff" stroke-opacity="0.19" stroke-width="0.54"/>
<path d="M126.86 385.2V430" stroke="#fff" stroke-opacity="0.07" stroke-width="0.57"/>
<path d="M119.66 385.2V430" stroke="#fff" stroke-opacity="0.1" stroke-width="0.5"/>
<path d="M91.73 385.2V430" stroke="#fff" stroke-opacity="0.18" stroke-width="0.42"/>
<path d="M90.38 385.2V430" stroke="#fff" stroke-opacity="0.21" stroke-width="1.03"/>
<path d="M87.9 401.8H132" stroke="#fff" stroke-opacity="0.08" stroke-width="1.09"/>
<path d="M87.9 420.49H132" stroke="#fff" stroke-opacity="0.16" stroke-width="0.82"/>
<path d="M87.9 408.73H132" stroke="#fff" stroke-opacity="0.22" stroke-width="0.82"/>
<path d="M87.9 388.96H132" stroke="#fff" stroke-opacity="0.06" stroke-width="0.88"/>
<path d="M87.9 418.02H132" stroke="#fff" stroke-opacity="0.16" stroke-width="0.99"/>
<path d="M87.9 398.38H132" stroke="#fff" stroke-opacity="0.11" stroke-width="0.61"/>
<rect x="202.8" y="437.2" width="30.8" height="33" fill="#C3C8EC"/>
<path d="M214.28 437.2V470.2" stroke="#234DA0" stroke-opacity="0.1" stroke-width="1.07"/>
<path d="M207.35 437.2V470.2" stroke="#234DA0" stroke-opacity="0.09" stroke-width="0.97"/>
<path d="M215.06 437.2V470.2" stroke="#234DA0" stroke-opacity="0.12" stroke-width="1.18"/>
<path d="M230.33 437.2V470.2" stroke="#234DA0" stroke-opacity="0.09" stroke-width="0.52"/>
<path d="M217.96 437.2V470.2" stroke="#234DA0" stroke-opacity="0.16" stroke-width="0.68"/>
<path d="M221.02 437.2V470.2" stroke="#234DA0" stroke-opacity="0.19" stroke-width="1.05"/>
<path d="M202.8 445.19H233.6" stroke="#234DA0" stroke-opacity="0.18" stroke-width="0.45"/>
<path d="M202.8 439.34H233.6" stroke="#234DA0" stroke-opacity="0.06" stroke-width="0.49"/>
<path d="M202.8 463H233.6" stroke="#234DA0" stroke-opacity="0.12" stroke-width="0.79"/>
<path d="M202.8 452.08H233.6" stroke="#234DA0" stroke-opacity="0.09" stroke-width="0.44"/>
<path d="M202.8 443.2H233.6" stroke="#234DA0" stroke-opacity="0.22" stroke-width="0.67"/>
<path d="M202.8 451.08H233.6" stroke="#234DA0" stroke-opacity="0.1" stroke-width="0.99"/>
<rect x="285.1" y="385.2" width="15.4" height="54.8" fill="#4C62B4"/>
<path d="M295.92 385.2V440" stroke="#fff" stroke-opacity="0.12" stroke-width="0.81"/>
<path d="M291.2 385.2V440" stroke="#fff" stroke-opacity="0.15" stroke-width="0.87"/>
<path d="M293.99 385.2V440" stroke="#fff" stroke-opacity="0.2" stroke-width="1.16"/>
<path d="M285.89 385.2V440" stroke="#fff" stroke-opacity="0.11" stroke-width="0.43"/>
<path d="M290.87 385.2V440" stroke="#fff" stroke-opacity="0.19" stroke-width="0.94"/>
<path d="M293.84 385.2V440" stroke="#fff" stroke-opacity="0.06" stroke-width="1.05"/>
<path d="M294.53 385.2V440" stroke="#fff" stroke-opacity="0.1" stroke-width="1.03"/>
<path d="M285.7 385.2V440" stroke="#fff" stroke-opacity="0.08" stroke-width="1.03"/>
<path d="M285.1 387.72H300.5" stroke="#fff" stroke-opacity="0.07" stroke-width="0.8"/>
<path d="M285.1 424.11H300.5" stroke="#fff" stroke-opacity="0.15" stroke-width="0.43"/>
<path d="M285.1 400.26H300.5" stroke="#fff" stroke-opacity="0.17" stroke-width="0.68"/>
<path d="M285.1 395.84H300.5" stroke="#fff" stroke-opacity="0.05" stroke-width="0.61"/>
<path d="M285.1 436.21H300.5" stroke="#fff" stroke-opacity="0.06" stroke-width="0.84"/>
<path d="M285.1 435.05H300.5" stroke="#fff" stroke-opacity="0.17" stroke-width="0.62"/>
<path d="M285.1 420.74H300.5" stroke="#fff" stroke-opacity="0.07" stroke-width="0.8"/>
<path d="M285.1 399.62H300.5" stroke="#fff" stroke-opacity="0.2" stroke-width="1.09"/>
<rect x="285.1" y="440" width="15.4" height="30.2" fill="#A9B0E2"/>
<path d="M296.83 440V470.2" stroke="#234DA0" stroke-opacity="0.14" stroke-width="1.04"/>
<path d="M300.19 440V470.2" stroke="#234DA0" stroke-opacity="0.14" stroke-width="0.82"/>
<path d="M287.6 440V470.2" stroke="#234DA0" stroke-opacity="0.08" stroke-width="0.98"/>
<path d="M286.03 440V470.2" stroke="#234DA0" stroke-opacity="0.2" stroke-width="0.49"/>
<path d="M295.4 440V470.2" stroke="#234DA0" stroke-opacity="0.24" stroke-width="1.15"/>
<path d="M291.1 440V470.2" stroke="#234DA0" stroke-opacity="0.15" stroke-width="0.72"/>
<path d="M285.1 461.32H300.5" stroke="#234DA0" stroke-opacity="0.25" stroke-width="0.49"/>
<path d="M285.1 449.81H300.5" stroke="#234DA0" stroke-opacity="0.06" stroke-width="0.59"/>
<path d="M285.1 462.16H300.5" stroke="#234DA0" stroke-opacity="0.28" stroke-width="1.18"/>
<path d="M285.1 442.06H300.5" stroke="#234DA0" stroke-opacity="0.15" stroke-width="1.1"/>
<path d="M285.1 455.24H300.5" stroke="#234DA0" stroke-opacity="0.14" stroke-width="1.03"/>
<path d="M285.1 466.1H300.5" stroke="#234DA0" stroke-opacity="0.09" stroke-width="0.81"/>
<rect x="233.2" y="313" width="1" height="157.2" fill="#7280C6"/>
<rect x="315.5" y="269" width="9.0" height="4.5" fill="#A6CEE3" stroke="#6E6E6E" stroke-width="0.5"/>
<text x="331.9" y="274.2" font-size="7.2" fill="#222">1</text>
<rect x="315.5" y="278.45" width="9.0" height="4.5" fill="#B2DF8A" stroke="#6E6E6E" stroke-width="0.5"/>
<text x="331.9" y="283.65" font-size="7.2" fill="#222">2</text>
<rect x="315.5" y="287.9" width="9.0" height="4.5" fill="#1F78B4" stroke="#6E6E6E" stroke-width="0.5"/>
<text x="331.9" y="293.1" font-size="7.2" fill="#222">3</text>
<text x="115" y="482.4" font-size="10.8" fill="#111" textLength="94.9" lengthAdjust="spacingAndGlyphs">consensus matrix k=3</text>
<path d="M409.4 293.8L409.4 250.7M409.4 250.7L516.6 250.7M516.6 250.7L516.6 256.2M397 297.5L397 293.8M397 293.8L421.8 293.8M421.8 293.8L421.8 297.5M489.5 292.2L489.5 256.2M489.5 256.2L543.4 256.2M543.4 256.2L543.4 264.4M478 297.5L478 292.2M478 292.2L501.6 292.2M501.6 292.2L501.6 297.5M522 297.5L522 264.4M522 264.4L563.6 264.4M563.6 264.4L563.6 294.5M554 297.5L554 294.5M554 294.5L572.8 294.5M572.8 294.5L572.8 297.5" stroke="#333" stroke-width="0.7" fill="none"/>
<path d="M394.7 297.8H591.8" stroke="#777" stroke-width="0.9"/>
<rect x="394.7" y="299.7" width="67.9" height="7.2" fill="#A6CEE3"/>
<rect x="462.6" y="299.7" width="56.7" height="7.2" fill="#33A02C"/>
<rect x="519.3" y="299.7" width="29" height="7.2" fill="#B2DF8A"/>
<rect x="548.3" y="299.7" width="43.5" height="7.2" fill="#1F78B4"/>
<rect x="548.3" y="309.5" width="43.5" height="35.1" fill="#234DA0"/>
<path d="M554.7 309.5V344.6" stroke="#fff" stroke-opacity="0.08" stroke-width="0.82"/>
<path d="M559.3 309.5V344.6" stroke="#fff" stroke-opacity="0.19" stroke-width="0.69"/>
<path d="M556.19 309.5V344.6" stroke="#fff" stroke-opacity="0.16" stroke-width="0.61"/>
<path d="M551.19 309.5V344.6" stroke="#fff" stroke-opacity="0.22" stroke-width="0.55"/>
<path d="M554.01 309.5V344.6" stroke="#fff" stroke-opacity="0.13" stroke-width="0.4"/>
<path d="M582.64 309.5V344.6" stroke="#fff" stroke-opacity="0.06" stroke-width="0.43"/>
<path d="M590.32 309.5V344.6" stroke="#fff" stroke-opacity="0.14" stroke-width="1.14"/>
<path d="M587.32 309.5V344.6" stroke="#fff" stroke-opacity="0.17" stroke-width="0.42"/>
<path d="M548.3 332.1H591.8" stroke="#fff" stroke-opacity="0.06" stroke-width="0.41"/>
<path d="M548.3 339.14H591.8" stroke="#fff" stroke-opacity="0.1" stroke-width="1"/>
<path d="M548.3 328.1H591.8" stroke="#fff" stroke-opacity="0.18" stroke-width="0.91"/>
<path d="M548.3 343.64H591.8" stroke="#fff" stroke-opacity="0.13" stroke-width="1.08"/>
<path d="M548.3 338.35H591.8" stroke="#fff" stroke-opacity="0.15" stroke-width="0.81"/>
<path d="M548.3 324.6H591.8" stroke="#fff" stroke-opacity="0.16" stroke-width="0.56"/>
<path d="M548.3 324.92H591.8" stroke="#fff" stroke-opacity="0.16" stroke-width="0.65"/>
<path d="M548.3 317.11H591.8" stroke="#fff" stroke-opacity="0.07" stroke-width="1.04"/>
<rect x="394.7" y="309.5" width="5.9" height="35.1" fill="#7280C6"/>
<path d="M399.87 309.5V344.6" stroke="#fff" stroke-opacity="0.19" stroke-width="0.97"/>
<path d="M398.27 309.5V344.6" stroke="#fff" stroke-opacity="0.06" stroke-width="1.1"/>
<path d="M397.49 309.5V344.6" stroke="#fff" stroke-opacity="0.17" stroke-width="0.5"/>
<path d="M399.1 309.5V344.6" stroke="#fff" stroke-opacity="0.07" stroke-width="1.17"/>
<path d="M394.7 334.44H400.6" stroke="#fff" stroke-opacity="0.14" stroke-width="0.92"/>
<path d="M394.7 317.57H400.6" stroke="#fff" stroke-opacity="0.13" stroke-width="0.47"/>
<path d="M394.7 319.31H400.6" stroke="#fff" stroke-opacity="0.1" stroke-width="0.53"/>
<path d="M394.7 324.11H400.6" stroke="#fff" stroke-opacity="0.06" stroke-width="0.42"/>
<rect x="462.6" y="334" width="21.9" height="10.6" fill="#C3C8EC"/>
<path d="M469.89 334V344.6" stroke="#234DA0" stroke-opacity="0.3" stroke-width="0.98"/>
<path d="M471.97 334V344.6" stroke="#234DA0" stroke-opacity="0.14" stroke-width="0.5"/>
<path d="M471.72 334V344.6" stroke="#234DA0" stroke-opacity="0.23" stroke-width="1.06"/>
<path d="M472.73 334V344.6" stroke="#234DA0" stroke-opacity="0.27" stroke-width="1.05"/>
<path d="M462.6 343.01H484.5" stroke="#234DA0" stroke-opacity="0.17" stroke-width="0.77"/>
<path d="M462.6 335.7H484.5" stroke="#234DA0" stroke-opacity="0.22" stroke-width="0.43"/>
<path d="M462.6 338.98H484.5" stroke="#234DA0" stroke-opacity="0.13" stroke-width="0.78"/>
<path d="M462.6 335.92H484.5" stroke="#234DA0" stroke-opacity="0.1" stroke-width="0.74"/>
<rect x="484.5" y="334.5" width="19" height="3.5" fill="#E2E5F6"/>
<rect x="519.3" y="344.6" width="29" height="22.2" fill="#234DA0"/>
<path d="M531.72 344.6V366.8" stroke="#fff" stroke-opacity="0.14" stroke-width="0.5"/>
<path d="M533.75 344.6V366.8" stroke="#fff" stroke-opacity="0.1" stroke-width="0.47"/>
<path d="M531.2 344.6V366.8" stroke="#fff" stroke-opacity="0.16" stroke-width="0.64"/>
<path d="M539.99 344.6V366.8" stroke="#fff" stroke-opacity="0.18" stroke-width="0.41"/>
<path d="M525.55 344.6V366.8" stroke="#fff" stroke-opacity="0.1" stroke-width="0.87"/>
<path d="M519.3 355.41H548.3" stroke="#fff" stroke-opacity="0.15" stroke-width="0.46"/>
<path d="M519.3 350.97H548.3" stroke="#fff" stroke-opacity="0.08" stroke-width="1"/>
<path d="M519.3 359.77H548.3" stroke="#fff" stroke-opacity="0.1" stroke-width="1.1"/>
<path d="M519.3 347.61H548.3" stroke="#fff" stroke-opacity="0.05" stroke-width="0.7"/>
<path d="M519.3 359.44H548.3" stroke="#fff" stroke-opacity="0.21" stroke-width="0.81"/>
<rect x="462.6" y="366.8" width="56.7" height="46.9" fill="#234DA0"/>
<path d="M470.34 366.8V413.7" stroke="#fff" stroke-opacity="0.15" stroke-width="0.41"/>
<path d="M508.98 366.8V413.7" stroke="#fff" stroke-opacity="0.1" stroke-width="0.48"/>
<path d="M471.06 366.8V413.7" stroke="#fff" stroke-opacity="0.19" stroke-width="1.13"/>
<path d="M473.06 366.8V413.7" stroke="#fff" stroke-opacity="0.22" stroke-width="1.09"/>
<path d="M481.28 366.8V413.7" stroke="#fff" stroke-opacity="0.06" stroke-width="0.52"/>
<path d="M487.35 366.8V413.7" stroke="#fff" stroke-opacity="0.08" stroke-width="0.55"/>
<path d="M478.06 366.8V413.7" stroke="#fff" stroke-opacity="0.2" stroke-width="0.43"/>
<path d="M514.9 366.8V413.7" stroke="#fff" stroke-opacity="0.13" stroke-width="0.99"/>
<path d="M491.63 366.8V413.7" stroke="#fff" stroke-opacity="0.21" stroke-width="0.55"/>
<path d="M477.08 366.8V413.7" stroke="#fff" stroke-opacity="0.14" stroke-width="0.81"/>
<path d="M462.6 382.33H519.3" stroke="#fff" stroke-opacity="0.1" stroke-width="0.47"/>
<path d="M462.6 390.35H519.3" stroke="#fff" stroke-opacity="0.19" stroke-width="1.09"/>
<path d="M462.6 386.25H519.3" stroke="#fff" stroke-opacity="0.22" stroke-width="1.17"/>
<path d="M462.6 381.78H519.3" stroke="#fff" stroke-opacity="0.07" stroke-width="1.07"/>
<path d="M462.6 410.92H519.3" stroke="#fff" stroke-opacity="0.16" stroke-width="1.17"/>
<path d="M462.6 389.2H519.3" stroke="#fff" stroke-opacity="0.14" stroke-width="0.46"/>
<path d="M462.6 384.15H519.3" stroke="#fff" stroke-opacity="0.21" stroke-width="0.48"/>
<path d="M462.6 373.25H519.3" stroke="#fff" stroke-opacity="0.06" stroke-width="0.8"/>
<path d="M462.6 395.1H519.3" stroke="#fff" stroke-opacity="0.14" stroke-width="1.1"/>
<path d="M462.6 398.72H519.3" stroke="#fff" stroke-opacity="0.16" stroke-width="0.88"/>
<rect x="483.8" y="366.8" width="1.2" height="46.9" fill="#4D5BBB"/>
<rect x="462.6" y="395" width="56.7" height="1" fill="#5563BE"/>
<rect x="400.6" y="366.8" width="62" height="28.5" fill="#C3C8EC"/>
<path d="M431.97 366.8V395.3" stroke="#234DA0" stroke-opacity="0.07" stroke-width="0.48"/>
<path d="M440.53 366.8V395.3" stroke="#234DA0" stroke-opacity="0.1" stroke-width="0.73"/>
<path d="M440.74 366.8V395.3" stroke="#234DA0" stroke-opacity="0.2" stroke-width="0.6"/>
<path d="M417.17 366.8V395.3" stroke="#234DA0" stroke-opacity="0.09" stroke-width="0.93"/>
<path d="M445.22 366.8V395.3" stroke="#234DA0" stroke-opacity="0.08" stroke-width="0.62"/>
<path d="M409.82 366.8V395.3" stroke="#234DA0" stroke-opacity="0.2" stroke-width="0.64"/>
<path d="M454.53 366.8V395.3" stroke="#234DA0" stroke-opacity="0.12" stroke-width="0.92"/>
<path d="M440.03 366.8V395.3" stroke="#234DA0" stroke-opacity="0.29" stroke-width="0.98"/>
<path d="M400.6 393.39H462.6" stroke="#234DA0" stroke-opacity="0.2" stroke-width="0.4"/>
<path d="M400.6 376.1H462.6" stroke="#234DA0" stroke-opacity="0.24" stroke-width="0.67"/>
<path d="M400.6 385.55H462.6" stroke="#234DA0" stroke-opacity="0.08" stroke-width="0.92"/>
<path d="M400.6 377.78H462.6" stroke="#234DA0" stroke-opacity="0.29" stroke-width="0.46"/>
<path d="M400.6 377.08H462.6" stroke="#234DA0" stroke-opacity="0.24" stroke-width="0.71"/>
<path d="M400.6 379.98H462.6" stroke="#234DA0" stroke-opacity="0.13" stroke-width="0.48"/>
<path d="M400.6 375.92H462.6" stroke="#234DA0" stroke-opacity="0.27" stroke-width="1.01"/>
<path d="M400.6 375.63H462.6" stroke="#234DA0" stroke-opacity="0.22" stroke-width="1.04"/>
<rect x="400.6" y="366.8" width="62" height="3" fill="#7280C6"/>
<rect x="394.7" y="370" width="5.9" height="25.3" fill="#E2E5F6"/>
<path d="M399.4 370V395.3" stroke="#234DA0" stroke-opacity="0.06" stroke-width="0.53"/>
<path d="M400.34 370V395.3" stroke="#234DA0" stroke-opacity="0.09" stroke-width="1.02"/>
<path d="M398.42 370V395.3" stroke="#234DA0" stroke-opacity="0.18" stroke-width="0.46"/>
<path d="M394.7 393.63H400.6" stroke="#234DA0" stroke-opacity="0.18" stroke-width="0.59"/>
<path d="M394.7 387.99H400.6" stroke="#234DA0" stroke-opacity="0.05" stroke-width="1.09"/>
<path d="M394.7 380.49H400.6" stroke="#234DA0" stroke-opacity="0.16" stroke-width="1.04"/>
<rect x="519.3" y="395.3" width="72.5" height="0.9" fill="#7280C6"/>
<rect x="549.6" y="396.2" width="11.9" height="17.5" fill="#C3C8EC"/>
<path d="M549.92 396.2V413.7" stroke="#234DA0" stroke-opacity="0.28" stroke-width="0.48"/>
<path d="M551.44 396.2V413.7" stroke="#234DA0" stroke-opacity="0.19" stroke-width="0.6"/>
<path d="M557.31 396.2V413.7" stroke="#234DA0" stroke-opacity="0.14" stroke-width="0.9"/>
<path d="M558.66 396.2V413.7" stroke="#234DA0" stroke-opacity="0.29" stroke-width="0.72"/>
<path d="M549.6 401.21H561.5" stroke="#234DA0" stroke-opacity="0.22" stroke-width="0.92"/>
<path d="M549.6 412.35H561.5" stroke="#234DA0" stroke-opacity="0.22" stroke-width="0.75"/>
<path d="M549.6 401.41H561.5" stroke="#234DA0" stroke-opacity="0.25" stroke-width="0.91"/>
<path d="M549.6 397.45H561.5" stroke="#234DA0" stroke-opacity="0.16" stroke-width="0.53"/>
<rect x="394.7" y="413.7" width="67.9" height="55.4" fill="#234DA0"/>
<path d="M428.34 413.7V469.1" stroke="#fff" stroke-opacity="0.11" stroke-width="0.53"/>
<path d="M430.68 413.7V469.1" stroke="#fff" stroke-opacity="0.16" stroke-width="0.67"/>
<path d="M451.37 413.7V469.1" stroke="#fff" stroke-opacity="0.07" stroke-width="0.45"/>
<path d="M442.73 413.7V469.1" stroke="#fff" stroke-opacity="0.15" stroke-width="1"/>
<path d="M458.17 413.7V469.1" stroke="#fff" stroke-opacity="0.14" stroke-width="1.05"/>
<path d="M438.69 413.7V469.1" stroke="#fff" stroke-opacity="0.14" stroke-width="0.8"/>
<path d="M462.05 413.7V469.1" stroke="#fff" stroke-opacity="0.11" stroke-width="0.74"/>
<path d="M426.92 413.7V469.1" stroke="#fff" stroke-opacity="0.16" stroke-width="0.45"/>
<path d="M438.95 413.7V469.1" stroke="#fff" stroke-opacity="0.06" stroke-width="0.7"/>
<path d="M424.74 413.7V469.1" stroke="#fff" stroke-opacity="0.15" stroke-width="0.86"/>
<path d="M435.68 413.7V469.1" stroke="#fff" stroke-opacity="0.05" stroke-width="0.66"/>
<path d="M444.82 413.7V469.1" stroke="#fff" stroke-opacity="0.12" stroke-width="1.06"/>
<path d="M394.7 443.81H462.6" stroke="#fff" stroke-opacity="0.15" stroke-width="0.94"/>
<path d="M394.7 468.15H462.6" stroke="#fff" stroke-opacity="0.05" stroke-width="0.49"/>
<path d="M394.7 418.62H462.6" stroke="#fff" stroke-opacity="0.09" stroke-width="0.42"/>
<path d="M394.7 468.42H462.6" stroke="#fff" stroke-opacity="0.08" stroke-width="0.78"/>
<path d="M394.7 462.56H462.6" stroke="#fff" stroke-opacity="0.13" stroke-width="0.6"/>
<path d="M394.7 429.88H462.6" stroke="#fff" stroke-opacity="0.12" stroke-width="0.65"/>
<path d="M394.7 439.78H462.6" stroke="#fff" stroke-opacity="0.12" stroke-width="0.47"/>
<path d="M394.7 462.13H462.6" stroke="#fff" stroke-opacity="0.21" stroke-width="0.85"/>
<path d="M394.7 418.93H462.6" stroke="#fff" stroke-opacity="0.2" stroke-width="0.69"/>
<path d="M394.7 434.84H462.6" stroke="#fff" stroke-opacity="0.09" stroke-width="1.14"/>
<path d="M394.7 452.04H462.6" stroke="#fff" stroke-opacity="0.1" stroke-width="0.7"/>
<path d="M394.7 437.12H462.6" stroke="#fff" stroke-opacity="0.11" stroke-width="0.94"/>
<rect x="394.7" y="447.6" width="67.9" height="1.2" fill="#6C78C8"/>
<rect x="400" y="413.7" width="1.2" height="55.4" fill="#6C78C8"/>
<rect x="484.5" y="413.7" width="34.8" height="55.4" fill="#C3C8EC"/>
<path d="M517.54 413.7V469.1" stroke="#234DA0" stroke-opacity="0.06" stroke-width="1.08"/>
<path d="M514.05 413.7V469.1" stroke="#234DA0" stroke-opacity="0.12" stroke-width="1.18"/>
<path d="M514.99 413.7V469.1" stroke="#234DA0" stroke-opacity="0.27" stroke-width="0.49"/>
<path d="M500.07 413.7V469.1" stroke="#234DA0" stroke-opacity="0.28" stroke-width="0.84"/>
<path d="M486.55 413.7V469.1" stroke="#234DA0" stroke-opacity="0.28" stroke-width="0.73"/>
<path d="M492.17 413.7V469.1" stroke="#234DA0" stroke-opacity="0.15" stroke-width="0.48"/>
<path d="M497.07 413.7V469.1" stroke="#234DA0" stroke-opacity="0.05" stroke-width="1.2"/>
<path d="M489.26 413.7V469.1" stroke="#234DA0" stroke-opacity="0.15" stroke-width="0.64"/>
<path d="M484.5 439.16H519.3" stroke="#234DA0" stroke-opacity="0.15" stroke-width="1.11"/>
<path d="M484.5 424.07H519.3" stroke="#234DA0" stroke-opacity="0.35" stroke-width="0.71"/>
<path d="M484.5 468.15H519.3" stroke="#234DA0" stroke-opacity="0.15" stroke-width="0.46"/>
<path d="M484.5 459.87H519.3" stroke="#234DA0" stroke-opacity="0.1" stroke-width="0.99"/>
<path d="M484.5 462.48H519.3" stroke="#234DA0" stroke-opacity="0.12" stroke-width="0.65"/>
<path d="M484.5 444.95H519.3" stroke="#234DA0" stroke-opacity="0.31" stroke-width="1.08"/>
<path d="M484.5 440.65H519.3" stroke="#234DA0" stroke-opacity="0.22" stroke-width="1.04"/>
<path d="M484.5 422.29H519.3" stroke="#234DA0" stroke-opacity="0.33" stroke-width="1.09"/>
<rect x="462.6" y="448.8" width="85.7" height="1" fill="#8892D4"/>
<rect x="548.3" y="464" width="43.5" height="5.1" fill="#4F63B6"/>
<path d="M558.47 464V469.1" stroke="#fff" stroke-opacity="0.16" stroke-width="0.99"/>
<path d="M576.47 464V469.1" stroke="#fff" stroke-opacity="0.06" stroke-width="0.45"/>
<path d="M558 464V469.1" stroke="#fff" stroke-opacity="0.07" stroke-width="0.79"/>
<path d="M580.38 464V469.1" stroke="#fff" stroke-opacity="0.15" stroke-width="1.12"/>
<path d="M548.3 466.5H591.8" stroke="#fff" stroke-opacity="0.13" stroke-width="0.5"/>
<path d="M548.3 468.86H591.8" stroke="#fff" stroke-opacity="0.16" stroke-width="1.18"/>
<path d="M548.3 468.77H591.8" stroke="#fff" stroke-opacity="0.06" stroke-width="0.88"/>
<path d="M548.3 466.49H591.8" stroke="#fff" stroke-opacity="0.18" stroke-width="0.44"/>
<rect x="418.6" y="309.5" width="0.8" height="60" fill="#C6CBEE"/>
<rect x="484.2" y="309.5" width="0.8" height="57" fill="#9BA3DC"/>
<rect x="605.2" y="265.5" width="8.4" height="3.9" fill="#A6CEE3" stroke="#6E6E6E" stroke-width="0.5"/>
<text x="620.2" y="269.9" font-size="7.4" fill="#222">1</text>
<rect x="605.2" y="272.67" width="8.4" height="3.9" fill="#B2DF8A" stroke="#6E6E6E" stroke-width="0.5"/>
<text x="620.2" y="277.07" font-size="7.4" fill="#222">2</text>
<rect x="605.2" y="279.84" width="8.4" height="3.9" fill="#1F78B4" stroke="#6E6E6E" stroke-width="0.5"/>
<text x="620.2" y="284.24" font-size="7.4" fill="#222">3</text>
<rect x="605.2" y="287.01" width="8.4" height="3.9" fill="#33A02C" stroke="#6E6E6E" stroke-width="0.5"/>
<text x="620.2" y="291.41" font-size="7.4" fill="#222">4</text>
<text x="443.7" y="484.3" font-size="10.8" fill="#111" textLength="94.5" lengthAdjust="spacingAndGlyphs">consensus matrix k=4</text><text x="0.5" y="509.2" font-size="21.5" font-weight="bold">D</text>
<rect x="60.3" y="508.4" width="191.7" height="11.2" fill="#D9D9D9"/>
<rect x="60.3" y="519.6" width="191.7" height="8.4" fill="#EBEBEB"/>
<path d="M61.3 519.6v8.4M63.3 519.6v8.4M65.29 519.6v8.4M67.29 519.6v8.4M69.29 519.6v8.4M71.28 519.6v8.4M73.28 519.6v8.4M75.28 519.6v8.4M77.27 519.6v8.4M79.27 519.6v8.4M81.27 519.6v8.4M83.26 519.6v8.4M85.26 519.6v8.4M87.26 519.6v8.4M89.25 519.6v8.4M91.25 519.6v8.4M93.25 519.6v8.4M95.25 519.6v8.4M97.24 519.6v8.4M99.24 519.6v8.4M101.24 519.6v8.4M103.23 519.6v8.4M105.23 519.6v8.4M107.23 519.6v8.4M109.22 519.6v8.4M111.22 519.6v8.4M113.22 519.6v8.4M115.21 519.6v8.4M117.21 519.6v8.4M119.21 519.6v8.4M121.2 519.6v8.4M123.2 519.6v8.4M125.2 519.6v8.4M127.2 519.6v8.4M129.19 519.6v8.4M131.19 519.6v8.4M133.19 519.6v8.4M135.18 519.6v8.4M137.18 519.6v8.4M139.18 519.6v8.4M141.17 519.6v8.4M143.17 519.6v8.4M145.17 519.6v8.4M147.16 519.6v8.4M149.16 519.6v8.4M151.16 519.6v8.4M153.15 519.6v8.4M155.15 519.6v8.4M157.15 519.6v8.4M159.15 519.6v8.4M161.14 519.6v8.4M163.14 519.6v8.4M165.14 519.6v8.4M167.13 519.6v8.4M169.13 519.6v8.4M171.13 519.6v8.4M173.12 519.6v8.4M175.12 519.6v8.4M177.12 519.6v8.4M179.11 519.6v8.4M181.11 519.6v8.4M183.11 519.6v8.4M185.1 519.6v8.4M187.1 519.6v8.4M189.1 519.6v8.4M191.1 519.6v8.4M193.09 519.6v8.4M195.09 519.6v8.4M197.09 519.6v8.4M199.08 519.6v8.4M201.08 519.6v8.4M203.08 519.6v8.4M205.07 519.6v8.4M207.07 519.6v8.4M209.07 519.6v8.4M211.06 519.6v8.4M213.06 519.6v8.4M215.06 519.6v8.4M217.05 519.6v8.4M219.05 519.6v8.4M221.05 519.6v8.4M223.05 519.6v8.4M225.04 519.6v8.4M227.04 519.6v8.4M229.04 519.6v8.4M231.03 519.6v8.4M233.03 519.6v8.4M235.03 519.6v8.4M237.02 519.6v8.4M239.02 519.6v8.4M241.02 519.6v8.4M243.01 519.6v8.4M245.01 519.6v8.4M247.01 519.6v8.4M249 519.6v8.4M251 519.6v8.4" stroke="#E2E2E2" stroke-width="0.5"/>
<path d="M60.3 750.7L60.3 528H62.3L62.3 528H64.29L64.29 528H66.29L66.29 528H68.29L68.29 528H70.28L70.28 528H72.28L72.28 528H74.28L74.28 528H76.27L76.27 528H78.27L78.27 528H80.27L80.27 528H82.27L82.27 528H84.26L84.26 528H86.26L86.26 528H88.26L88.26 528H90.25L90.25 528H92.25L92.25 528H94.25L94.25 528H96.24L96.24 528H98.24L98.24 528H100.24L100.24 528H102.23L102.23 528H104.23L104.23 528H106.23L106.23 528H108.22L108.22 528H110.22L110.22 528H112.22L112.22 528H114.22L114.22 528H116.21L116.21 528H118.21L118.21 528H120.21L120.21 528H122.2L122.2 528H124.2L124.2 528H126.2L126.2 528H128.19L128.19 528H130.19L130.19 528H132.19L132.19 528H134.18L134.18 528H136.18L136.18 528H138.18L138.18 528H140.18L140.18 528H142.17L142.17 528H144.17L144.17 528H146.17L146.17 528H148.16L148.16 528H150.16L150.16 528H152.16L152.16 528H154.15L154.15 528H156.15L156.15 528H158.15L158.15 528H160.14L160.14 528H162.14L162.14 528H164.14L164.14 528H166.13L166.13 528H168.13L168.13 528H170.13L170.13 528H172.12L172.12 528H174.12L174.12 528H176.12L176.12 528H178.12L178.12 528H180.11L180.11 528H182.11L182.11 528H184.11L184.11 528H186.1L186.1 528H188.1L188.1 528H190.1L190.1 528H192.09L192.09 528H194.09L194.09 528H196.09L196.09 528H198.08L198.08 528H200.08L200.08 528H202.08L202.08 528H204.07L204.07 528H206.07L206.07 528H208.07L208.07 528H210.07L210.07 528H212.06L212.06 528H214.06L214.06 528H216.06L216.06 528H218.05L218.05 528H220.05L220.05 528H222.05L222.05 528H224.04L224.04 528H226.04L226.04 528H228.04L228.04 528H230.03L230.03 528H232.03L232.03 528H234.03L234.03 528H236.02L236.02 528H238.02L238.02 528H240.02L240.02 528H242.02L242.02 528H244.01L244.01 528H246.01L246.01 528H248.01L248.01 528H250L250 528H252L252 750.7Z" fill="#EC756C"/>
<path d="M60.3 750.7L60.3 538.22H62.3L62.3 533.27H64.29L64.29 540.07H66.29L66.29 538.77H68.29L68.29 539.46H70.28L70.28 542.48H72.28L72.28 538.4H74.28L74.28 534.67H76.27L76.27 537.77H78.27L78.27 570.31H80.27L80.27 549.63H82.27L82.27 553.31H84.26L84.26 543.9H86.26L86.26 548.87H88.26L88.26 530.29H90.25L90.25 532.75H92.25L92.25 529.17H94.25L94.25 534.5H96.24L96.24 541.03H98.24L98.24 543.05H100.24L100.24 541.31H102.23L102.23 546.8H104.23L104.23 546.48H106.23L106.23 530.8H108.22L108.22 533.23H110.22L110.22 545.92H112.22L112.22 552.68H114.22L114.22 531.68H116.21L116.21 530.1H118.21L118.21 550.71H120.21L120.21 532.3H122.2L122.2 549.48H124.2L124.2 530.81H126.2L126.2 545.22H128.19L128.19 553.01H130.19L130.19 535.27H132.19L132.19 531.7H134.18L134.18 556.09H136.18L136.18 530.42H138.18L138.18 536.61H140.18L140.18 549.99H142.17L142.17 544.8H144.17L144.17 531.44H146.17L146.17 534.32H148.16L148.16 542.99H150.16L150.16 530.57H152.16L152.16 544.81H154.15L154.15 558.7H156.15L156.15 535.56H158.15L158.15 543.54H160.14L160.14 547.62H162.14L162.14 538.97H164.14L164.14 535.66H166.13L166.13 530.91H168.13L168.13 535.91H170.13L170.13 562.78H172.12L172.12 530.93H174.12L174.12 531.78H176.12L176.12 549.49H178.12L178.12 542.57H180.11L180.11 564.31H182.11L182.11 535.81H184.11L184.11 548.88H186.1L186.1 544.73H188.1L188.1 550.71H190.1L190.1 530.1H192.09L192.09 557.83H194.09L194.09 556.31H196.09L196.09 531.84H198.08L198.08 537.35H200.08L200.08 543.35H202.08L202.08 539.18H204.07L204.07 540.6H206.07L206.07 540.37H208.07L208.07 544.37H210.07L210.07 547.49H212.06L212.06 552.32H214.06L214.06 536.29H216.06L216.06 537.66H218.05L218.05 547.4H220.05L220.05 542.79H222.05L222.05 545H224.04L224.04 528.9H226.04L226.04 532.61H228.04L228.04 540.01H230.03L230.03 538.17H232.03L232.03 539.22H234.03L234.03 542.33H236.02L236.02 540.81H238.02L238.02 542.42H240.02L240.02 533.61H242.02L242.02 541.32H244.01L244.01 534.95H246.01L246.01 538.82H248.01L248.01 544.81H250L250 530.44H252L252 750.7Z" fill="#E9773F"/>
<path d="M60.3 750.7L60.3 540.64H62.3L62.3 534.02H64.29L64.29 540.25H66.29L66.29 547.54H68.29L68.29 539.49H70.28L70.28 542.49H72.28L72.28 538.41H74.28L74.28 537.05H76.27L76.27 537.84H78.27L78.27 582.02H80.27L80.27 549.8H82.27L82.27 555.21H84.26L84.26 543.91H86.26L86.26 548.9H88.26L88.26 530.32H90.25L90.25 532.82H92.25L92.25 529.22H94.25L94.25 534.5H96.24L96.24 541.03H98.24L98.24 543.92H100.24L100.24 541.31H102.23L102.23 548.58H104.23L104.23 546.84H106.23L106.23 536.35H108.22L108.22 560.95H110.22L110.22 550.58H112.22L112.22 552.8H114.22L114.22 532.95H116.21L116.21 530.38H118.21L118.21 554.58H120.21L120.21 532.35H122.2L122.2 549.48H124.2L124.2 530.81H126.2L126.2 550.17H128.19L128.19 555.68H130.19L130.19 536.62H132.19L132.19 531.74H134.18L134.18 557.11H136.18L136.18 530.7H138.18L138.18 536.63H140.18L140.18 552.31H142.17L142.17 545.18H144.17L144.17 532.94H146.17L146.17 535.08H148.16L148.16 543.9H150.16L150.16 534.38H152.16L152.16 546.61H154.15L154.15 558.7H156.15L156.15 535.6H158.15L158.15 545.33H160.14L160.14 550.9H162.14L162.14 540.76H164.14L164.14 539.36H166.13L166.13 540.07H168.13L168.13 537.42H170.13L170.13 563.3H172.12L172.12 530.95H174.12L174.12 531.78H176.12L176.12 553.62H178.12L178.12 542.62H180.11L180.11 564.32H182.11L182.11 535.82H184.11L184.11 548.9H186.1L186.1 544.73H188.1L188.1 552.3H190.1L190.1 530.11H192.09L192.09 558.12H194.09L194.09 556.32H196.09L196.09 532.03H198.08L198.08 537.97H200.08L200.08 543.89H202.08L202.08 539.44H204.07L204.07 540.6H206.07L206.07 540.48H208.07L208.07 545.32H210.07L210.07 547.5H212.06L212.06 552.8H214.06L214.06 536.97H216.06L216.06 537.66H218.05L218.05 548.07H220.05L220.05 548.89H222.05L222.05 545.01H224.04L224.04 528.93H226.04L226.04 534.08H228.04L228.04 540.01H230.03L230.03 538.21H232.03L232.03 541.19H234.03L234.03 542.76H236.02L236.02 540.88H238.02L238.02 542.42H240.02L240.02 533.66H242.02L242.02 541.36H244.01L244.01 534.95H246.01L246.01 538.92H248.01L248.01 544.85H250L250 530.6H252L252 750.7Z" fill="#D98B17"/>
<path d="M60.3 750.7L60.3 542.64H62.3L62.3 536.64H64.29L64.29 541.32H66.29L66.29 551.16H68.29L68.29 546.02H70.28L70.28 564.4H72.28L72.28 543.4H74.28L74.28 556.3H76.27L76.27 538.29H78.27L78.27 584.59H80.27L80.27 556.65H82.27L82.27 563.87H84.26L84.26 557.23H86.26L86.26 555.68H88.26L88.26 545.39H90.25L90.25 542.66H92.25L92.25 529.27H94.25L94.25 541.42H96.24L96.24 551.78H98.24L98.24 544.49H100.24L100.24 546.85H102.23L102.23 554.31H104.23L104.23 548.89H106.23L106.23 540.65H108.22L108.22 570.13H110.22L110.22 567.78H112.22L112.22 571.86H114.22L114.22 539.99H116.21L116.21 532.99H118.21L118.21 562.37H120.21L120.21 538.02H122.2L122.2 552.17H124.2L124.2 539.04H126.2L126.2 552.74H128.19L128.19 556.79H130.19L130.19 545.01H132.19L132.19 532.13H134.18L134.18 560.8H136.18L136.18 530.73H138.18L138.18 547.33H140.18L140.18 557.52H142.17L142.17 547.05H144.17L144.17 537.98H146.17L146.17 543.33H148.16L148.16 551.94H150.16L150.16 540.04H152.16L152.16 577.91H154.15L154.15 565.6H156.15L156.15 536.13H158.15L158.15 548.32H160.14L160.14 562.55H162.14L162.14 550.35H164.14L164.14 546.96H166.13L166.13 546.79H168.13L168.13 542.97H170.13L170.13 566.91H172.12L172.12 534.84H174.12L174.12 534.28H176.12L176.12 556.36H178.12L178.12 547.66H180.11L180.11 567.53H182.11L182.11 551.02H184.11L184.11 551.15H186.1L186.1 546.52H188.1L188.1 553.25H190.1L190.1 533.15H192.09L192.09 558.24H194.09L194.09 560.8H196.09L196.09 546.84H198.08L198.08 547.61H200.08L200.08 544.33H202.08L202.08 549.14H204.07L204.07 542.55H206.07L206.07 559.57H208.07L208.07 546.34H210.07L210.07 569.94H212.06L212.06 563.31H214.06L214.06 543.69H216.06L216.06 555.77H218.05L218.05 557.4H220.05L220.05 553.9H222.05L222.05 551.61H224.04L224.04 529H226.04L226.04 546.93H228.04L228.04 542.25H230.03L230.03 542.96H232.03L232.03 559.55H234.03L234.03 543.02H236.02L236.02 542.51H238.02L238.02 545.41H240.02L240.02 536.7H242.02L242.02 558.63H244.01L244.01 555.69H246.01L246.01 540.72H248.01L248.01 545.47H250L250 537.57H252L252 750.7Z" fill="#C4921A"/>
<path d="M60.3 750.7L60.3 551.21H62.3L62.3 542.92H64.29L64.29 550.9H66.29L66.29 570.8H68.29L68.29 547.95H70.28L70.28 572.97H72.28L72.28 555.11H74.28L74.28 563.43H76.27L76.27 541.06H78.27L78.27 589.25H80.27L80.27 561.4H82.27L82.27 573.93H84.26L84.26 558.41H86.26L86.26 568.2H88.26L88.26 559.53H90.25L90.25 548.89H92.25L92.25 539.32H94.25L94.25 559.36H96.24L96.24 562.13H98.24L98.24 563.26H100.24L100.24 556.55H102.23L102.23 568.62H104.23L104.23 554.3H106.23L106.23 546.96H108.22L108.22 585.09H110.22L110.22 580.33H112.22L112.22 572.57H114.22L114.22 549.6H116.21L116.21 546.5H118.21L118.21 579.04H120.21L120.21 555.92H122.2L122.2 553.11H124.2L124.2 542.48H126.2L126.2 561.48H128.19L128.19 566.61H130.19L130.19 547.91H132.19L132.19 542.74H134.18L134.18 564.57H136.18L136.18 547.44H138.18L138.18 569.01H140.18L140.18 577.71H142.17L142.17 573.2H144.17L144.17 543.34H146.17L146.17 559.93H148.16L148.16 563.6H150.16L150.16 542.33H152.16L152.16 587.32H154.15L154.15 570.37H156.15L156.15 546.37H158.15L158.15 554.45H160.14L160.14 565.73H162.14L162.14 551.39H164.14L164.14 547.94H166.13L166.13 571.01H168.13L168.13 552.91H170.13L170.13 571.28H172.12L172.12 542.32H174.12L174.12 538.33H176.12L176.12 559.1H178.12L178.12 554.46H180.11L180.11 573.97H182.11L182.11 552.33H184.11L184.11 559.95H186.1L186.1 550.44H188.1L188.1 555.13H190.1L190.1 537.62H192.09L192.09 567.11H194.09L194.09 567.03H196.09L196.09 569.56H198.08L198.08 559.64H200.08L200.08 563.05H202.08L202.08 551.88H204.07L204.07 545.36H206.07L206.07 570.23H208.07L208.07 561.97H210.07L210.07 582.43H212.06L212.06 565.05H214.06L214.06 546.47H216.06L216.06 557.72H218.05L218.05 563.23H220.05L220.05 556.87H222.05L222.05 559.09H224.04L224.04 543H226.04L226.04 565.8H228.04L228.04 545.96H230.03L230.03 551.04H232.03L232.03 562.75H234.03L234.03 555.01H236.02L236.02 543.69H238.02L238.02 547.44H240.02L240.02 548.93H242.02L242.02 565.12H244.01L244.01 566.05H246.01L246.01 562.7H248.01L248.01 547.2H250L250 548.08H252L252 750.7Z" fill="#AA9E25"/>
<path d="M60.3 750.7L60.3 552.26H62.3L62.3 542.93H64.29L64.29 550.95H66.29L66.29 572.06H68.29L68.29 547.95H70.28L70.28 572.97H72.28L72.28 555.11H74.28L74.28 563.45H76.27L76.27 541.99H78.27L78.27 589.25H80.27L80.27 561.5H82.27L82.27 573.95H84.26L84.26 558.41H86.26L86.26 569.08H88.26L88.26 559.53H90.25L90.25 548.89H92.25L92.25 539.52H94.25L94.25 559.43H96.24L96.24 562.13H98.24L98.24 565.78H100.24L100.24 556.56H102.23L102.23 568.66H104.23L104.23 554.3H106.23L106.23 547.34H108.22L108.22 585.99H110.22L110.22 592.33H112.22L112.22 572.57H114.22L114.22 549.62H116.21L116.21 550.38H118.21L118.21 579.92H120.21L120.21 555.94H122.2L122.2 553.12H124.2L124.2 542.49H126.2L126.2 561.72H128.19L128.19 566.61H130.19L130.19 554.41H132.19L132.19 543.59H134.18L134.18 566.4H136.18L136.18 551.92H138.18L138.18 569.02H140.18L140.18 577.72H142.17L142.17 573.25H144.17L144.17 564.89H146.17L146.17 559.94H148.16L148.16 563.6H150.16L150.16 542.36H152.16L152.16 587.38H154.15L154.15 570.37H156.15L156.15 547.06H158.15L158.15 554.45H160.14L160.14 565.73H162.14L162.14 555.15H164.14L164.14 549.06H166.13L166.13 571.01H168.13L168.13 554.71H170.13L170.13 571.28H172.12L172.12 542.32H174.12L174.12 538.33H176.12L176.12 559.1H178.12L178.12 554.6H180.11L180.11 574.02H182.11L182.11 552.33H184.11L184.11 563.72H186.1L186.1 550.49H188.1L188.1 555.15H190.1L190.1 549.33H192.09L192.09 567.11H194.09L194.09 567.03H196.09L196.09 569.62H198.08L198.08 559.64H200.08L200.08 563.5H202.08L202.08 552.05H204.07L204.07 545.41H206.07L206.07 570.36H208.07L208.07 564.65H210.07L210.07 582.43H212.06L212.06 565.14H214.06L214.06 546.48H216.06L216.06 557.86H218.05L218.05 563.23H220.05L220.05 556.87H222.05L222.05 559.14H224.04L224.04 543H226.04L226.04 565.8H228.04L228.04 546H230.03L230.03 551.04H232.03L232.03 562.75H234.03L234.03 555.06H236.02L236.02 543.69H238.02L238.02 547.45H240.02L240.02 548.93H242.02L242.02 565.12H244.01L244.01 567.68H246.01L246.01 562.7H248.01L248.01 547.2H250L250 548.08H252L252 750.7Z" fill="#8CA52C"/>
<path d="M60.3 750.7L60.3 618.84H62.3L62.3 626.46H64.29L64.29 616.61H66.29L66.29 622.53H68.29L68.29 643.03H70.28L70.28 627.17H72.28L72.28 607.51H74.28L74.28 602.86H76.27L76.27 619.64H78.27L78.27 642.36H80.27L80.27 616.98H82.27L82.27 648.38H84.26L84.26 641.18H86.26L86.26 615.33H88.26L88.26 618.15H90.25L90.25 590.24H92.25L92.25 585.45H94.25L94.25 606.42H96.24L96.24 627.16H98.24L98.24 628.11H100.24L100.24 601.8H102.23L102.23 634.77H104.23L104.23 630.37H106.23L106.23 635.44H108.22L108.22 635.97H110.22L110.22 646.03H112.22L112.22 643.9H114.22L114.22 583.64H116.21L116.21 603.17H118.21L118.21 643.18H120.21L120.21 648.51H122.2L122.2 598.4H124.2L124.2 603.35H126.2L126.2 647.18H128.19L128.19 651.25H130.19L130.19 625.85H132.19L132.19 635.88H134.18L134.18 656.06H136.18L136.18 619.71H138.18L138.18 642.35H140.18L140.18 650.41H142.17L142.17 632.85H144.17L144.17 643.53H146.17L146.17 633.47H148.16L148.16 626.17H150.16L150.16 596.68H152.16L152.16 632.84H154.15L154.15 622.68H156.15L156.15 602.88H158.15L158.15 638.43H160.14L160.14 621.06H162.14L162.14 614.11H164.14L164.14 587.03H166.13L166.13 633.91H168.13L168.13 630.21H170.13L170.13 613.55H172.12L172.12 619.28H174.12L174.12 627.69H176.12L176.12 597.18H178.12L178.12 641.59H180.11L180.11 643.2H182.11L182.11 618.65H184.11L184.11 624.94H186.1L186.1 638.97H188.1L188.1 587.67H190.1L190.1 617.65H192.09L192.09 622.48H194.09L194.09 615.2H196.09L196.09 628.31H198.08L198.08 641.73H200.08L200.08 609.42H202.08L202.08 611.18H204.07L204.07 592.36H206.07L206.07 601.6H208.07L208.07 636.01H210.07L210.07 625.06H212.06L212.06 635.23H214.06L214.06 661.05H216.06L216.06 611.26H218.05L218.05 620.59H220.05L220.05 603.78H222.05L222.05 649.46H224.04L224.04 594.7H226.04L226.04 647.78H228.04L228.04 598.29H230.03L230.03 599.36H232.03L232.03 630.33H234.03L234.03 630.52H236.02L236.02 611.08H238.02L238.02 637.57H240.02L240.02 587.46H242.02L242.02 617.87H244.01L244.01 636.95H246.01L246.01 616.34H248.01L248.01 636.71H250L250 605.74H252L252 750.7Z" fill="#66AC35"/>
<path d="M60.3 750.7L60.3 618.99H62.3L62.3 628.31H64.29L64.29 620.5H66.29L66.29 648.81H68.29L68.29 645.82H70.28L70.28 627.66H72.28L72.28 613.78H74.28L74.28 606.15H76.27L76.27 627.76H78.27L78.27 642.36H80.27L80.27 617.27H82.27L82.27 648.72H84.26L84.26 652.28H86.26L86.26 617.65H88.26L88.26 618.15H90.25L90.25 592.24H92.25L92.25 585.64H94.25L94.25 606.47H96.24L96.24 629.22H98.24L98.24 631.72H100.24L100.24 601.84H102.23L102.23 634.93H104.23L104.23 630.39H106.23L106.23 635.44H108.22L108.22 636.04H110.22L110.22 657H112.22L112.22 651.51H114.22L114.22 584.25H116.21L116.21 603.34H118.21L118.21 653.71H120.21L120.21 651.65H122.2L122.2 603H124.2L124.2 603.4H126.2L126.2 648.29H128.19L128.19 651.63H130.19L130.19 627.12H132.19L132.19 638.52H134.18L134.18 656.06H136.18L136.18 621.14H138.18L138.18 645.96H140.18L140.18 659.44H142.17L142.17 633H144.17L144.17 643.92H146.17L146.17 633.7H148.16L148.16 626.63H150.16L150.16 596.68H152.16L152.16 633.18H154.15L154.15 623.78H156.15L156.15 608.67H158.15L158.15 638.71H160.14L160.14 621.11H162.14L162.14 628.28H164.14L164.14 588.56H166.13L166.13 636.2H168.13L168.13 631.53H170.13L170.13 613.55H172.12L172.12 619.45H174.12L174.12 631.32H176.12L176.12 597.19H178.12L178.12 643.98H180.11L180.11 654.58H182.11L182.11 618.65H184.11L184.11 624.94H186.1L186.1 639.94H188.1L188.1 591.66H190.1L190.1 620.82H192.09L192.09 622.48H194.09L194.09 615.67H196.09L196.09 628.36H198.08L198.08 642.27H200.08L200.08 609.46H202.08L202.08 618.65H204.07L204.07 607.35H206.07L206.07 606.4H208.07L208.07 641.22H210.07L210.07 639.49H212.06L212.06 636.07H214.06L214.06 661.73H216.06L216.06 611.45H218.05L218.05 621.53H220.05L220.05 603.8H222.05L222.05 649.46H224.04L224.04 596.39H226.04L226.04 648.73H228.04L228.04 600.37H230.03L230.03 606.75H232.03L232.03 632.31H234.03L234.03 632.65H236.02L236.02 611.08H238.02L238.02 637.59H240.02L240.02 587.99H242.02L242.02 624.71H244.01L244.01 637.66H246.01L246.01 617.38H248.01L248.01 640.83H250L250 605.87H252L252 750.7Z" fill="#2BB04A"/>
<path d="M60.3 750.7L60.3 620.51H62.3L62.3 628.4H64.29L64.29 623.08H66.29L66.29 649.8H68.29L68.29 646.04H70.28L70.28 629.55H72.28L72.28 614.72H74.28L74.28 606.16H76.27L76.27 633.21H78.27L78.27 644.52H80.27L80.27 618.76H82.27L82.27 648.75H84.26L84.26 652.29H86.26L86.26 617.99H88.26L88.26 618.4H90.25L90.25 592.32H92.25L92.25 585.85H94.25L94.25 607.6H96.24L96.24 629.34H98.24L98.24 633.22H100.24L100.24 609.1H102.23L102.23 634.97H104.23L104.23 631.02H106.23L106.23 635.47H108.22L108.22 636.58H110.22L110.22 657.09H112.22L112.22 654.31H114.22L114.22 590.46H116.21L116.21 604.15H118.21L118.21 659.87H120.21L120.21 652.77H122.2L122.2 605H124.2L124.2 603.46H126.2L126.2 649.75H128.19L128.19 654.57H130.19L130.19 627.47H132.19L132.19 640.78H134.18L134.18 656.06H136.18L136.18 621.67H138.18L138.18 655.58H140.18L140.18 661.08H142.17L142.17 635.84H144.17L144.17 643.92H146.17L146.17 633.78H148.16L148.16 626.85H150.16L150.16 596.84H152.16L152.16 633.86H154.15L154.15 634.95H156.15L156.15 609.24H158.15L158.15 652.94H160.14L160.14 621.12H162.14L162.14 636.79H164.14L164.14 596.78H166.13L166.13 639H168.13L168.13 642.43H170.13L170.13 616.3H172.12L172.12 619.45H174.12L174.12 633.63H176.12L176.12 614.56H178.12L178.12 645.42H180.11L180.11 683.44H182.11L182.11 620.75H184.11L184.11 625.33H186.1L186.1 640.85H188.1L188.1 598.72H190.1L190.1 626.87H192.09L192.09 622.5H194.09L194.09 618.88H196.09L196.09 631.48H198.08L198.08 643.39H200.08L200.08 609.5H202.08L202.08 632.38H204.07L204.07 624.8H206.07L206.07 606.5H208.07L208.07 656H210.07L210.07 641.79H212.06L212.06 636.78H214.06L214.06 662.91H216.06L216.06 611.89H218.05L218.05 622.58H220.05L220.05 606.06H222.05L222.05 649.54H224.04L224.04 599.12H226.04L226.04 649.24H228.04L228.04 600.52H230.03L230.03 607.85H232.03L232.03 632.37H234.03L234.03 644.95H236.02L236.02 611.27H238.02L238.02 637.59H240.02L240.02 600.81H242.02L242.02 632.01H244.01L244.01 637.69H246.01L246.01 617.41H248.01L248.01 640.97H250L250 605.89H252L252 750.7Z" fill="#2EB163"/>
<path d="M60.3 750.7L60.3 621.94H62.3L62.3 628.45H64.29L64.29 636.5H66.29L66.29 649.8H68.29L68.29 646.04H70.28L70.28 629.62H72.28L72.28 614.75H74.28L74.28 606.23H76.27L76.27 633.23H78.27L78.27 644.52H80.27L80.27 620.22H82.27L82.27 652.86H84.26L84.26 653.92H86.26L86.26 618.07H88.26L88.26 629.51H90.25L90.25 595.05H92.25L92.25 586.33H94.25L94.25 615.99H96.24L96.24 629.35H98.24L98.24 633.22H100.24L100.24 611.66H102.23L102.23 652.8H104.23L104.23 631.02H106.23L106.23 635.47H108.22L108.22 637.99H110.22L110.22 657.18H112.22L112.22 654.31H114.22L114.22 590.62H116.21L116.21 604.78H118.21L118.21 659.94H120.21L120.21 652.77H122.2L122.2 607.17H124.2L124.2 604.57H126.2L126.2 650.45H128.19L128.19 654.61H130.19L130.19 627.74H132.19L132.19 641.67H134.18L134.18 656.11H136.18L136.18 621.73H138.18L138.18 658.02H140.18L140.18 661.08H142.17L142.17 639.25H144.17L144.17 643.95H146.17L146.17 634.77H148.16L148.16 628.03H150.16L150.16 597.33H152.16L152.16 633.86H154.15L154.15 634.96H156.15L156.15 611.11H158.15L158.15 654.48H160.14L160.14 623.78H162.14L162.14 636.85H164.14L164.14 606.79H166.13L166.13 639.3H168.13L168.13 642.99H170.13L170.13 616.75H172.12L172.12 620.01H174.12L174.12 633.64H176.12L176.12 616.82H178.12L178.12 657.46H180.11L180.11 683.44H182.11L182.11 627.07H184.11L184.11 651.86H186.1L186.1 640.87H188.1L188.1 598.72H190.1L190.1 626.91H192.09L192.09 627.14H194.09L194.09 622.63H196.09L196.09 631.99H198.08L198.08 651.49H200.08L200.08 609.66H202.08L202.08 636.58H204.07L204.07 625.12H206.07L206.07 611.98H208.07L208.07 656.06H210.07L210.07 658.69H212.06L212.06 643.17H214.06L214.06 663.25H216.06L216.06 612.01H218.05L218.05 622.63H220.05L220.05 606.27H222.05L222.05 649.85H224.04L224.04 599.27H226.04L226.04 650.68H228.04L228.04 600.57H230.03L230.03 608.39H232.03L232.03 632.37H234.03L234.03 645.05H236.02L236.02 611.32H238.02L238.02 638.63H240.02L240.02 605.42H242.02L242.02 632.12H244.01L244.01 637.96H246.01L246.01 617.41H248.01L248.01 640.97H250L250 605.95H252L252 750.7Z" fill="#2DB286"/>
<path d="M60.3 750.7L60.3 621.94H62.3L62.3 628.45H64.29L64.29 636.96H66.29L66.29 652.68H68.29L68.29 653.41H70.28L70.28 629.62H72.28L72.28 615.08H74.28L74.28 606.23H76.27L76.27 633.23H78.27L78.27 644.52H80.27L80.27 622.65H82.27L82.27 652.86H84.26L84.26 653.92H86.26L86.26 618.07H88.26L88.26 629.52H90.25L90.25 595.05H92.25L92.25 586.35H94.25L94.25 615.99H96.24L96.24 629.35H98.24L98.24 633.24H100.24L100.24 611.66H102.23L102.23 654.7H104.23L104.23 631.02H106.23L106.23 635.47H108.22L108.22 637.99H110.22L110.22 657.24H112.22L112.22 654.31H114.22L114.22 590.63H116.21L116.21 604.9H118.21L118.21 659.99H120.21L120.21 654.57H122.2L122.2 607.82H124.2L124.2 604.57H126.2L126.2 650.88H128.19L128.19 654.62H130.19L130.19 627.74H132.19L132.19 641.67H134.18L134.18 656.11H136.18L136.18 621.73H138.18L138.18 658.02H140.18L140.18 661.08H142.17L142.17 639.25H144.17L144.17 643.95H146.17L146.17 634.77H148.16L148.16 628.03H150.16L150.16 597.33H152.16L152.16 634.23H154.15L154.15 634.96H156.15L156.15 611.18H158.15L158.15 655.2H160.14L160.14 623.78H162.14L162.14 637.23H164.14L164.14 607.47H166.13L166.13 644.24H168.13L168.13 649.12H170.13L170.13 616.79H172.12L172.12 620.01H174.12L174.12 633.94H176.12L176.12 616.82H178.12L178.12 657.46H180.11L180.11 683.86H182.11L182.11 627.07H184.11L184.11 651.86H186.1L186.1 641.01H188.1L188.1 599.07H190.1L190.1 626.91H192.09L192.09 628.45H194.09L194.09 622.63H196.09L196.09 632.32H198.08L198.08 651.49H200.08L200.08 610.01H202.08L202.08 657.05H204.07L204.07 628.06H206.07L206.07 611.98H208.07L208.07 656.06H210.07L210.07 658.82H212.06L212.06 643.19H214.06L214.06 663.25H216.06L216.06 612.01H218.05L218.05 622.63H220.05L220.05 606.27H222.05L222.05 649.85H224.04L224.04 618.26H226.04L226.04 650.68H228.04L228.04 600.57H230.03L230.03 608.41H232.03L232.03 632.37H234.03L234.03 645.05H236.02L236.02 611.32H238.02L238.02 638.64H240.02L240.02 605.42H242.02L242.02 632.4H244.01L244.01 637.96H246.01L246.01 617.41H248.01L248.01 640.97H250L250 605.95H252L252 750.7Z" fill="#22B2A0"/>
<path d="M60.3 750.7L60.3 621.94H62.3L62.3 628.49H64.29L64.29 636.98H66.29L66.29 652.68H68.29L68.29 653.41H70.28L70.28 632.58H72.28L72.28 615.58H74.28L74.28 606.23H76.27L76.27 634.87H78.27L78.27 649.84H80.27L80.27 622.76H82.27L82.27 653.07H84.26L84.26 662.63H86.26L86.26 618.08H88.26L88.26 629.52H90.25L90.25 596.02H92.25L92.25 586.35H94.25L94.25 631H96.24L96.24 629.38H98.24L98.24 639.07H100.24L100.24 611.66H102.23L102.23 654.72H104.23L104.23 631.77H106.23L106.23 635.62H108.22L108.22 638.21H110.22L110.22 662.2H112.22L112.22 654.95H114.22L114.22 605.43H116.21L116.21 606.82H118.21L118.21 660.17H120.21L120.21 659.18H122.2L122.2 608.58H124.2L124.2 604.82H126.2L126.2 650.89H128.19L128.19 657.33H130.19L130.19 628.29H132.19L132.19 642.24H134.18L134.18 665.93H136.18L136.18 628.98H138.18L138.18 659.2H140.18L140.18 664H142.17L142.17 639.25H144.17L144.17 647.09H146.17L146.17 640.99H148.16L148.16 630.57H150.16L150.16 598.11H152.16L152.16 634.45H154.15L154.15 637.47H156.15L156.15 613.72H158.15L158.15 655.2H160.14L160.14 624.22H162.14L162.14 637.46H164.14L164.14 608.34H166.13L166.13 644.24H168.13L168.13 650.8H170.13L170.13 619.39H172.12L172.12 620.75H174.12L174.12 634.98H176.12L176.12 623.45H178.12L178.12 658.43H180.11L180.11 683.89H182.11L182.11 627.53H184.11L184.11 652.58H186.1L186.1 649.08H188.1L188.1 600.93H190.1L190.1 626.91H192.09L192.09 629.51H194.09L194.09 622.76H196.09L196.09 638.19H198.08L198.08 651.52H200.08L200.08 612.59H202.08L202.08 657.88H204.07L204.07 628.8H206.07L206.07 613.56H208.07L208.07 656.06H210.07L210.07 658.83H212.06L212.06 646.2H214.06L214.06 663.97H216.06L216.06 612.01H218.05L218.05 623.31H220.05L220.05 606.3H222.05L222.05 649.89H224.04L224.04 618.9H226.04L226.04 650.87H228.04L228.04 600.64H230.03L230.03 609.7H232.03L232.03 640.12H234.03L234.03 645.05H236.02L236.02 617.04H238.02L238.02 639H240.02L240.02 614.05H242.02L242.02 634.4H244.01L244.01 638.15H246.01L246.01 621.66H248.01L248.01 640.99H250L250 606H252L252 750.7Z" fill="#1DB1B2"/>
<path d="M60.3 750.7L60.3 621.96H62.3L62.3 628.49H64.29L64.29 637.2H66.29L66.29 652.7H68.29L68.29 653.41H70.28L70.28 632.58H72.28L72.28 615.58H74.28L74.28 606.23H76.27L76.27 641.26H78.27L78.27 649.85H80.27L80.27 622.78H82.27L82.27 653.09H84.26L84.26 662.63H86.26L86.26 618.08H88.26L88.26 632.38H90.25L90.25 596.08H92.25L92.25 586.96H94.25L94.25 631.01H96.24L96.24 629.38H98.24L98.24 639.07H100.24L100.24 611.66H102.23L102.23 654.72H104.23L104.23 631.77H106.23L106.23 637.2H108.22L108.22 638.26H110.22L110.22 662.22H112.22L112.22 655.14H114.22L114.22 613.19H116.21L116.21 607.09H118.21L118.21 660.17H120.21L120.21 659.18H122.2L122.2 608.58H124.2L124.2 605.05H126.2L126.2 650.89H128.19L128.19 659.47H130.19L130.19 628.29H132.19L132.19 642.24H134.18L134.18 665.93H136.18L136.18 629.32H138.18L138.18 659.2H140.18L140.18 664.15H142.17L142.17 640.05H144.17L144.17 647.09H146.17L146.17 640.99H148.16L148.16 630.77H150.16L150.16 598.12H152.16L152.16 634.45H154.15L154.15 637.47H156.15L156.15 613.72H158.15L158.15 655.2H160.14L160.14 624.22H162.14L162.14 637.46H164.14L164.14 609.08H166.13L166.13 646.54H168.13L168.13 652.31H170.13L170.13 619.39H172.12L172.12 620.75H174.12L174.12 634.99H176.12L176.12 623.45H178.12L178.12 658.43H180.11L180.11 683.89H182.11L182.11 628.58H184.11L184.11 653.05H186.1L186.1 652.18H188.1L188.1 601.19H190.1L190.1 629.35H192.09L192.09 629.69H194.09L194.09 623.95H196.09L196.09 638.19H198.08L198.08 652.21H200.08L200.08 612.65H202.08L202.08 658.51H204.07L204.07 629.15H206.07L206.07 613.56H208.07L208.07 656.13H210.07L210.07 658.83H212.06L212.06 646.32H214.06L214.06 664.35H216.06L216.06 612.01H218.05L218.05 626.43H220.05L220.05 606.74H222.05L222.05 649.89H224.04L224.04 618.9H226.04L226.04 650.96H228.04L228.04 600.75H230.03L230.03 609.82H232.03L232.03 640.34H234.03L234.03 645.4H236.02L236.02 617.08H238.02L238.02 639H240.02L240.02 614.47H242.02L242.02 635.01H244.01L244.01 639.84H246.01L246.01 622.02H248.01L248.01 641.08H250L250 606.28H252L252 750.7Z" fill="#1EABCB"/>
<path d="M60.3 750.7L60.3 629.4H62.3L62.3 629.65H64.29L64.29 637.88H66.29L66.29 654.04H68.29L68.29 654.67H70.28L70.28 632.58H72.28L72.28 619.65H74.28L74.28 611.08H76.27L76.27 641.83H78.27L78.27 651.23H80.27L80.27 622.78H82.27L82.27 654.7H84.26L84.26 667.07H86.26L86.26 621.69H88.26L88.26 635.66H90.25L90.25 599.5H92.25L92.25 587.1H94.25L94.25 631.19H96.24L96.24 629.38H98.24L98.24 641.57H100.24L100.24 633.77H102.23L102.23 659.71H104.23L104.23 635.76H106.23L106.23 637.27H108.22L108.22 638.3H110.22L110.22 662.78H112.22L112.22 655.14H114.22L114.22 615.59H116.21L116.21 607.96H118.21L118.21 660.51H120.21L120.21 659.19H122.2L122.2 608.6H124.2L124.2 605.06H126.2L126.2 666.62H128.19L128.19 661.03H130.19L130.19 628.34H132.19L132.19 642.27H134.18L134.18 669.44H136.18L136.18 629.35H138.18L138.18 668.9H140.18L140.18 664.15H142.17L142.17 640.85H144.17L144.17 652.96H146.17L146.17 641H148.16L148.16 631.78H150.16L150.16 599.18H152.16L152.16 641.58H154.15L154.15 637.53H156.15L156.15 615.96H158.15L158.15 662.32H160.14L160.14 625.73H162.14L162.14 643.42H164.14L164.14 609.08H166.13L166.13 650.18H168.13L168.13 652.53H170.13L170.13 629.95H172.12L172.12 620.75H174.12L174.12 636.52H176.12L176.12 624.84H178.12L178.12 658.47H180.11L180.11 683.9H182.11L182.11 632.88H184.11L184.11 653.06H186.1L186.1 653.29H188.1L188.1 605.03H190.1L190.1 630.7H192.09L192.09 629.71H194.09L194.09 628.6H196.09L196.09 638.94H198.08L198.08 652.33H200.08L200.08 612.7H202.08L202.08 658.51H204.07L204.07 631.84H206.07L206.07 614.2H208.07L208.07 656.13H210.07L210.07 658.83H212.06L212.06 655.25H214.06L214.06 665.45H216.06L216.06 612.01H218.05L218.05 629.47H220.05L220.05 608.37H222.05L222.05 650.64H224.04L224.04 621.76H226.04L226.04 650.99H228.04L228.04 613.24H230.03L230.03 609.83H232.03L232.03 640.57H234.03L234.03 645.72H236.02L236.02 617.08H238.02L238.02 648.3H240.02L240.02 614.77H242.02L242.02 635.08H244.01L244.01 644.6H246.01L246.01 622.35H248.01L248.01 641.51H250L250 610.86H252L252 750.7Z" fill="#2AA4E0"/>
<path d="M60.3 750.7L60.3 657.94H62.3L62.3 674.41H64.29L64.29 660.43H66.29L66.29 664.22H68.29L68.29 667.5H70.28L70.28 674.99H72.28L72.28 649.57H74.28L74.28 634.33H76.27L76.27 654.32H78.27L78.27 685.25H80.27L80.27 639.53H82.27L82.27 695.36H84.26L84.26 681.47H86.26L86.26 651.24H88.26L88.26 689.41H90.25L90.25 640.31H92.25L92.25 606.66H94.25L94.25 662.14H96.24L96.24 640.11H98.24L98.24 672.33H100.24L100.24 668.17H102.23L102.23 684.7H104.23L104.23 651.87H106.23L106.23 666.89H108.22L108.22 686.21H110.22L110.22 700.09H112.22L112.22 682.63H114.22L114.22 692.31H116.21L116.21 644.73H118.21L118.21 678.89H120.21L120.21 688.39H122.2L122.2 672.11H124.2L124.2 635.36H126.2L126.2 715.12H128.19L128.19 700.87H130.19L130.19 680.65H132.19L132.19 661.94H134.18L134.18 690H136.18L136.18 665.1H138.18L138.18 693.27H140.18L140.18 677.23H142.17L142.17 677.29H144.17L144.17 678.54H146.17L146.17 654.82H148.16L148.16 696.52H150.16L150.16 658.6H152.16L152.16 685.06H154.15L154.15 671.16H156.15L156.15 639.31H158.15L158.15 683.7H160.14L160.14 664.95H162.14L162.14 687.07H164.14L164.14 647.06H166.13L166.13 688.83H168.13L168.13 670.08H170.13L170.13 664.03H172.12L172.12 658.79H174.12L174.12 676.99H176.12L176.12 649.17H178.12L178.12 667.23H180.11L180.11 700.33H182.11L182.11 658.77H184.11L184.11 680.54H186.1L186.1 686.07H188.1L188.1 630.35H190.1L190.1 653.36H192.09L192.09 655.18H194.09L194.09 672.5H196.09L196.09 655.74H198.08L198.08 684.53H200.08L200.08 660.11H202.08L202.08 683.96H204.07L204.07 664.85H206.07L206.07 653.86H208.07L208.07 681.57H210.07L210.07 676.25H212.06L212.06 682.34H214.06L214.06 693.45H216.06L216.06 643.36H218.05L218.05 656.57H220.05L220.05 641.62H222.05L222.05 675.46H224.04L224.04 660.25H226.04L226.04 680.73H228.04L228.04 672.12H230.03L230.03 656.21H232.03L232.03 655.13H234.03L234.03 670.11H236.02L236.02 675.43H238.02L238.02 680.24H240.02L240.02 632.44H242.02L242.02 650.93H244.01L244.01 685.67H246.01L246.01 662.3H248.01L248.01 658.05H250L250 638.65H252L252 750.7Z" fill="#2D93D6"/>
<path d="M60.3 750.7L60.3 659.08H62.3L62.3 689.39H64.29L64.29 664.53H66.29L66.29 671.01H68.29L68.29 680.92H70.28L70.28 676.84H72.28L72.28 658.37H74.28L74.28 636.25H76.27L76.27 668.56H78.27L78.27 690.3H80.27L80.27 641.05H82.27L82.27 698.56H84.26L84.26 690.38H86.26L86.26 656.68H88.26L88.26 694.46H90.25L90.25 641.4H92.25L92.25 622.55H94.25L94.25 666.27H96.24L96.24 642.82H98.24L98.24 672.47H100.24L100.24 675.27H102.23L102.23 689.13H104.23L104.23 658.17H106.23L106.23 682.96H108.22L108.22 691.6H110.22L110.22 703.04H112.22L112.22 686.83H114.22L114.22 699.2H116.21L116.21 648.9H118.21L118.21 689.22H120.21L120.21 691.37H122.2L122.2 680.93H124.2L124.2 638.92H126.2L126.2 723.53H128.19L128.19 702.8H130.19L130.19 698.79H132.19L132.19 669.5H134.18L134.18 697.68H136.18L136.18 670.72H138.18L138.18 696.26H140.18L140.18 683.73H142.17L142.17 686.76H144.17L144.17 684.44H146.17L146.17 668.47H148.16L148.16 696.62H150.16L150.16 666.75H152.16L152.16 692.32H154.15L154.15 671.19H156.15L156.15 643.65H158.15L158.15 692.36H160.14L160.14 666.76H162.14L162.14 691.05H164.14L164.14 665.36H166.13L166.13 692.85H168.13L168.13 677.41H170.13L170.13 664.3H172.12L172.12 664.17H174.12L174.12 685.37H176.12L176.12 653.49H178.12L178.12 671.68H180.11L180.11 710.38H182.11L182.11 662.81H184.11L184.11 687.4H186.1L186.1 686.37H188.1L188.1 635.92H190.1L190.1 656.66H192.09L192.09 661.78H194.09L194.09 674.11H196.09L196.09 661.88H198.08L198.08 694.49H200.08L200.08 661.24H202.08L202.08 687.22H204.07L204.07 679.49H206.07L206.07 655.32H208.07L208.07 683.9H210.07L210.07 677.49H212.06L212.06 695.47H214.06L214.06 703.92H216.06L216.06 649.74H218.05L218.05 657.53H220.05L220.05 646.41H222.05L222.05 681.96H224.04L224.04 660.29H226.04L226.04 697.17H228.04L228.04 677.86H230.03L230.03 657.78H232.03L232.03 655.46H234.03L234.03 672.58H236.02L236.02 682.73H238.02L238.02 682.26H240.02L240.02 646.95H242.02L242.02 652.56H244.01L244.01 687.68H246.01L246.01 669.84H248.01L248.01 659.22H250L250 644.88H252L252 750.7Z" fill="#7A8BC8"/>
<path d="M60.3 750.7L60.3 729.21H62.3L62.3 729.69H64.29L64.29 700.23H66.29L66.29 709.94H68.29L68.29 736.46H70.28L70.28 738.78H72.28L72.28 728.94H74.28L74.28 696.72H76.27L76.27 723.26H78.27L78.27 736.77H80.27L80.27 724.23H82.27L82.27 735.06H84.26L84.26 743.71H86.26L86.26 700.91H88.26L88.26 746.28H90.25L90.25 708.32H92.25L92.25 716.88H94.25L94.25 730.82H96.24L96.24 697.25H98.24L98.24 731.93H100.24L100.24 724.65H102.23L102.23 737.57H104.23L104.23 736.71H106.23L106.23 733.92H108.22L108.22 726.59H110.22L110.22 732.52H112.22L112.22 724.67H114.22L114.22 739.12H116.21L116.21 701.37H118.21L118.21 735.96H120.21L120.21 726.93H122.2L122.2 738.33H124.2L124.2 728.51H126.2L126.2 739.73H128.19L128.19 726.26H130.19L130.19 737.68H132.19L132.19 714.48H134.18L134.18 743.72H136.18L136.18 741.8H138.18L138.18 732.49H140.18L140.18 736.18H142.17L142.17 736.92H144.17L144.17 727.13H146.17L146.17 739.21H148.16L148.16 740.69H150.16L150.16 712.61H152.16L152.16 729.79H154.15L154.15 715.15H156.15L156.15 729.77H158.15L158.15 730.32H160.14L160.14 715.26H162.14L162.14 730.92H164.14L164.14 710.41H166.13L166.13 732.79H168.13L168.13 725.29H170.13L170.13 702.18H172.12L172.12 732.64H174.12L174.12 722.07H176.12L176.12 699.59H178.12L178.12 726.86H180.11L180.11 743.66H182.11L182.11 720.76H184.11L184.11 724.14H186.1L186.1 736.71H188.1L188.1 731.28H190.1L190.1 708.82H192.09L192.09 730.57H194.09L194.09 727.34H196.09L196.09 724.39H198.08L198.08 726.04H200.08L200.08 716.34H202.08L202.08 741.44H204.07L204.07 727.37H206.07L206.07 692.47H208.07L208.07 739.41H210.07L210.07 734.51H212.06L212.06 744.39H214.06L214.06 745.35H216.06L216.06 717.2H218.05L218.05 726.61H220.05L220.05 723.58H222.05L222.05 714.05H224.04L224.04 716.67H226.04L226.04 738.87H228.04L228.04 734.98H230.03L230.03 740.15H232.03L232.03 713.56H234.03L234.03 742.1H236.02L236.02 742.47H238.02L238.02 724.81H240.02L240.02 719.46H242.02L242.02 684.58H244.01L244.01 736.24H246.01L246.01 709.76H248.01L248.01 701.02H250L250 713.75H252L252 750.7Z" fill="#8E7DC0"/>
<path d="M60.3 750.7L60.3 729.21H62.3L62.3 735.63H64.29L64.29 700.72H66.29L66.29 709.99H68.29L68.29 736.46H70.28L70.28 738.78H72.28L72.28 728.97H74.28L74.28 697.3H76.27L76.27 724.05H78.27L78.27 736.81H80.27L80.27 724.37H82.27L82.27 735.06H84.26L84.26 744.26H86.26L86.26 703.89H88.26L88.26 746.28H90.25L90.25 708.44H92.25L92.25 716.88H94.25L94.25 730.82H96.24L96.24 697.54H98.24L98.24 734.65H100.24L100.24 724.88H102.23L102.23 739.61H104.23L104.23 736.76H106.23L106.23 733.93H108.22L108.22 726.92H110.22L110.22 732.52H112.22L112.22 724.72H114.22L114.22 739.12H116.21L116.21 702.04H118.21L118.21 737.94H120.21L120.21 743.8H122.2L122.2 738.34H124.2L124.2 728.51H126.2L126.2 742.7H128.19L128.19 726.26H130.19L130.19 737.71H132.19L132.19 714.73H134.18L134.18 743.74H136.18L136.18 741.8H138.18L138.18 732.49H140.18L140.18 736.45H142.17L142.17 742.57H144.17L144.17 727.4H146.17L146.17 740.9H148.16L148.16 742.12H150.16L150.16 714.16H152.16L152.16 729.82H154.15L154.15 715.62H156.15L156.15 731.77H158.15L158.15 738.99H160.14L160.14 716.53H162.14L162.14 730.92H164.14L164.14 712.29H166.13L166.13 732.8H168.13L168.13 727.13H170.13L170.13 708.66H172.12L172.12 732.68H174.12L174.12 727.73H176.12L176.12 700.27H178.12L178.12 726.88H180.11L180.11 744.08H182.11L182.11 720.76H184.11L184.11 726.92H186.1L186.1 736.73H188.1L188.1 731.28H190.1L190.1 709.16H192.09L192.09 730.57H194.09L194.09 732.16H196.09L196.09 724.39H198.08L198.08 726.42H200.08L200.08 716.36H202.08L202.08 741.44H204.07L204.07 734.29H206.07L206.07 692.52H208.07L208.07 740.84H210.07L210.07 734.51H212.06L212.06 744.39H214.06L214.06 745.98H216.06L216.06 717.27H218.05L218.05 727.48H220.05L220.05 723.58H222.05L222.05 714.05H224.04L224.04 717.44H226.04L226.04 738.87H228.04L228.04 736.79H230.03L230.03 740.15H232.03L232.03 715.01H234.03L234.03 742.23H236.02L236.02 742.59H238.02L238.02 724.86H240.02L240.02 719.46H242.02L242.02 684.96H244.01L244.01 736.24H246.01L246.01 709.78H248.01L248.01 712.44H250L250 713.75H252L252 750.7Z" fill="#A673B8"/>
<path d="M60.3 750.7L60.3 729.21H62.3L62.3 735.63H64.29L64.29 700.73H66.29L66.29 711.95H68.29L68.29 736.9H70.28L70.28 742.17H72.28L72.28 730.17H74.28L74.28 697.32H76.27L76.27 724.09H78.27L78.27 736.82H80.27L80.27 724.41H82.27L82.27 735.53H84.26L84.26 744.36H86.26L86.26 704.91H88.26L88.26 746.33H90.25L90.25 708.44H92.25L92.25 717.09H94.25L94.25 731H96.24L96.24 697.54H98.24L98.24 734.65H100.24L100.24 724.96H102.23L102.23 739.61H104.23L104.23 736.76H106.23L106.23 733.93H108.22L108.22 734.49H110.22L110.22 732.52H112.22L112.22 725.41H114.22L114.22 740.39H116.21L116.21 702.05H118.21L118.21 737.94H120.21L120.21 744.29H122.2L122.2 738.34H124.2L124.2 728.53H126.2L126.2 742.7H128.19L128.19 727.46H130.19L130.19 738.21H132.19L132.19 737.21H134.18L134.18 747.23H136.18L136.18 743.56H138.18L138.18 733.03H140.18L140.18 738.43H142.17L142.17 742.65H144.17L144.17 727.84H146.17L146.17 740.9H148.16L148.16 742.12H150.16L150.16 714.21H152.16L152.16 733.37H154.15L154.15 716.18H156.15L156.15 731.83H158.15L158.15 740.8H160.14L160.14 716.54H162.14L162.14 730.92H164.14L164.14 712.37H166.13L166.13 734.69H168.13L168.13 727.13H170.13L170.13 719.25H172.12L172.12 732.68H174.12L174.12 728.6H176.12L176.12 700.34H178.12L178.12 726.89H180.11L180.11 744.08H182.11L182.11 723.42H184.11L184.11 726.92H186.1L186.1 737.39H188.1L188.1 731.29H190.1L190.1 709.17H192.09L192.09 733H194.09L194.09 733.9H196.09L196.09 724.41H198.08L198.08 726.44H200.08L200.08 717.7H202.08L202.08 741.53H204.07L204.07 734.29H206.07L206.07 695.84H208.07L208.07 740.84H210.07L210.07 734.51H212.06L212.06 744.84H214.06L214.06 746.05H216.06L216.06 717.27H218.05L218.05 727.92H220.05L220.05 725.28H222.05L222.05 714.05H224.04L224.04 720.48H226.04L226.04 742.24H228.04L228.04 736.79H230.03L230.03 740.15H232.03L232.03 715.11H234.03L234.03 742.23H236.02L236.02 742.59H238.02L238.02 724.86H240.02L240.02 719.51H242.02L242.02 684.98H244.01L244.01 738.33H246.01L246.01 716.34H248.01L248.01 713.48H250L250 713.76H252L252 750.7Z" fill="#BB6AAC"/>
<path d="M60.3 750.7L60.3 742.57H62.3L62.3 745.42H64.29L64.29 745.24H66.29L66.29 744.33H68.29L68.29 740.05H70.28L70.28 746.05H72.28L72.28 736.54H74.28L74.28 741.63H76.27L76.27 746.8H78.27L78.27 746.79H80.27L80.27 747.45H82.27L82.27 750.14H84.26L84.26 749.39H86.26L86.26 732.61H88.26L88.26 749.95H90.25L90.25 716.58H92.25L92.25 726.66H94.25L94.25 750.25H96.24L96.24 734.24H98.24L98.24 745.63H100.24L100.24 734.09H102.23L102.23 750.52H104.23L104.23 750.25H106.23L106.23 748.23H108.22L108.22 740.89H110.22L110.22 744.97H112.22L112.22 750.35H114.22L114.22 747.35H116.21L116.21 740.32H118.21L118.21 740.93H120.21L120.21 749.98H122.2L122.2 746.15H124.2L124.2 750.38H126.2L126.2 748.21H128.19L128.19 741.79H130.19L130.19 750.55H132.19L132.19 747.78H134.18L134.18 750.06H136.18L136.18 747.1H138.18L138.18 742.64H140.18L140.18 745.42H142.17L142.17 748.91H144.17L144.17 733.85H146.17L146.17 747.52H148.16L148.16 749.1H150.16L150.16 743.69H152.16L152.16 750.53H154.15L154.15 720.26H156.15L156.15 746.56H158.15L158.15 749.01H160.14L160.14 745.78H162.14L162.14 748.15H164.14L164.14 744.38H166.13L166.13 748.28H168.13L168.13 746.95H170.13L170.13 748.5H172.12L172.12 745.58H174.12L174.12 750.52H176.12L176.12 749.23H178.12L178.12 749.4H180.11L180.11 748.86H182.11L182.11 740.49H184.11L184.11 749.67H186.1L186.1 750.3H188.1L188.1 737.64H190.1L190.1 747.58H192.09L192.09 747.79H194.09L194.09 747.33H196.09L196.09 731.19H198.08L198.08 749.68H200.08L200.08 744.48H202.08L202.08 748.89H204.07L204.07 746.34H206.07L206.07 715.48H208.07L208.07 750.19H210.07L210.07 737.6H212.06L212.06 750.65H214.06L214.06 750.45H216.06L216.06 747.5H218.05L218.05 748.07H220.05L220.05 745.24H222.05L222.05 748.34H224.04L224.04 749.97H226.04L226.04 750.39H228.04L228.04 745.29H230.03L230.03 746.71H232.03L232.03 735.2H234.03L234.03 749H236.02L236.02 748.66H238.02L238.02 738.29H240.02L240.02 748.26H242.02L242.02 692.94H244.01L244.01 750.06H246.01L246.01 747.6H248.01L248.01 729.94H250L250 736.65H252L252 750.7Z" fill="#CF62A0"/>
<path d="M60.3 750.7L60.3 750.12H62.3L62.3 746.15H64.29L64.29 747.78H66.29L66.29 750.7H68.29L68.29 743.35H70.28L70.28 750.28H72.28L72.28 750.7H74.28L74.28 741.72H76.27L76.27 747.6H78.27L78.27 750.6H80.27L80.27 748.13H82.27L82.27 750.7H84.26L84.26 750.69H86.26L86.26 736.28H88.26L88.26 749.96H90.25L90.25 721.27H92.25L92.25 750.7H94.25L94.25 750.57H96.24L96.24 750.7H98.24L98.24 745.79H100.24L100.24 746.25H102.23L102.23 750.69H104.23L104.23 750.69H106.23L106.23 748.34H108.22L108.22 750.38H110.22L110.22 749.77H112.22L112.22 750.37H114.22L114.22 749.88H116.21L116.21 750.7H118.21L118.21 750.15H120.21L120.21 750.04H122.2L122.2 750.66H124.2L124.2 750.38H126.2L126.2 748.21H128.19L128.19 750.37H130.19L130.19 750.55H132.19L132.19 749.42H134.18L134.18 750.7H136.18L136.18 748.83H138.18L138.18 750.7H140.18L140.18 750.35H142.17L142.17 749.04H144.17L144.17 741.44H146.17L146.17 747.6H148.16L148.16 750.7H150.16L150.16 744.36H152.16L152.16 750.68H154.15L154.15 750.66H156.15L156.15 746.81H158.15L158.15 749.1H160.14L160.14 750.43H162.14L162.14 750.26H164.14L164.14 750.67H166.13L166.13 748.34H168.13L168.13 748.4H170.13L170.13 749.94H172.12L172.12 745.89H174.12L174.12 750.53H176.12L176.12 749.41H178.12L178.12 749.47H180.11L180.11 750.65H182.11L182.11 749.69H184.11L184.11 749.7H186.1L186.1 750.35H188.1L188.1 749.69H190.1L190.1 749.9H192.09L192.09 748.21H194.09L194.09 747.34H196.09L196.09 732.5H198.08L198.08 750.7H200.08L200.08 749.59H202.08L202.08 749.34H204.07L204.07 750.48H206.07L206.07 745.9H208.07L208.07 750.63H210.07L210.07 746.72H212.06L212.06 750.7H214.06L214.06 750.5H216.06L216.06 750.41H218.05L218.05 750.02H220.05L220.05 748.65H222.05L222.05 748.48H224.04L224.04 750.67H226.04L226.04 750.6H228.04L228.04 745.63H230.03L230.03 748.48H232.03L232.03 735.28H234.03L234.03 749.01H236.02L236.02 750.44H238.02L238.02 750.12H240.02L240.02 748.99H242.02L242.02 736.63H244.01L244.01 750.07H246.01L246.01 750.7H248.01L248.01 729.94H250L250 749.39H252L252 750.7Z" fill="#DE5D93"/>
<path d="M60.3 750.7L60.3 750.17H62.3L62.3 746.15H64.29L64.29 749.56H66.29L66.29 750.7H68.29L68.29 743.39H70.28L70.28 750.58H72.28L72.28 750.7H74.28L74.28 750.25H76.27L76.27 747.6H78.27L78.27 750.6H80.27L80.27 748.25H82.27L82.27 750.7H84.26L84.26 750.69H86.26L86.26 736.28H88.26L88.26 749.96H90.25L90.25 721.27H92.25L92.25 750.7H94.25L94.25 750.57H96.24L96.24 750.7H98.24L98.24 745.79H100.24L100.24 746.25H102.23L102.23 750.69H104.23L104.23 750.69H106.23L106.23 748.34H108.22L108.22 750.38H110.22L110.22 750.57H112.22L112.22 750.46H114.22L114.22 749.89H116.21L116.21 750.7H118.21L118.21 750.69H120.21L120.21 750.04H122.2L122.2 750.66H124.2L124.2 750.53H126.2L126.2 749.52H128.19L128.19 750.37H130.19L130.19 750.55H132.19L132.19 749.42H134.18L134.18 750.7H136.18L136.18 748.83H138.18L138.18 750.7H140.18L140.18 750.41H142.17L142.17 749.04H144.17L144.17 741.67H146.17L146.17 747.6H148.16L148.16 750.7H150.16L150.16 744.36H152.16L152.16 750.68H154.15L154.15 750.66H156.15L156.15 746.82H158.15L158.15 749.1H160.14L160.14 750.44H162.14L162.14 750.26H164.14L164.14 750.7H166.13L166.13 749.53H168.13L168.13 750.49H170.13L170.13 749.94H172.12L172.12 745.89H174.12L174.12 750.56H176.12L176.12 749.87H178.12L178.12 749.47H180.11L180.11 750.65H182.11L182.11 749.71H184.11L184.11 749.7H186.1L186.1 750.35H188.1L188.1 749.69H190.1L190.1 749.9H192.09L192.09 748.21H194.09L194.09 748.21H196.09L196.09 733.54H198.08L198.08 750.7H200.08L200.08 749.63H202.08L202.08 749.37H204.07L204.07 750.7H206.07L206.07 745.9H208.07L208.07 750.63H210.07L210.07 746.72H212.06L212.06 750.7H214.06L214.06 750.5H216.06L216.06 750.43H218.05L218.05 750.02H220.05L220.05 748.65H222.05L222.05 748.48H224.04L224.04 750.67H226.04L226.04 750.6H228.04L228.04 745.63H230.03L230.03 750.66H232.03L232.03 735.36H234.03L234.03 749.01H236.02L236.02 750.48H238.02L238.02 750.12H240.02L240.02 749H242.02L242.02 750.7H244.01L244.01 750.08H246.01L246.01 750.7H248.01L248.01 729.94H250L250 749.39H252L252 750.7Z" fill="#E75F7F"/>
<rect x="60.3" y="750.7" width="191.7" height="11.3" fill="#EBEBEB"/>
<path d="M61.3 750.7v11.3M63.3 750.7v11.3M65.29 750.7v11.3M67.29 750.7v11.3M69.29 750.7v11.3M71.28 750.7v11.3M73.28 750.7v11.3M75.28 750.7v11.3M77.27 750.7v11.3M79.27 750.7v11.3M81.27 750.7v11.3M83.26 750.7v11.3M85.26 750.7v11.3M87.26 750.7v11.3M89.25 750.7v11.3M91.25 750.7v11.3M93.25 750.7v11.3M95.25 750.7v11.3M97.24 750.7v11.3M99.24 750.7v11.3M101.24 750.7v11.3M103.23 750.7v11.3M105.23 750.7v11.3M107.23 750.7v11.3M109.22 750.7v11.3M111.22 750.7v11.3M113.22 750.7v11.3M115.21 750.7v11.3M117.21 750.7v11.3M119.21 750.7v11.3M121.2 750.7v11.3M123.2 750.7v11.3M125.2 750.7v11.3M127.2 750.7v11.3M129.19 750.7v11.3M131.19 750.7v11.3M133.19 750.7v11.3M135.18 750.7v11.3M137.18 750.7v11.3M139.18 750.7v11.3M141.17 750.7v11.3M143.17 750.7v11.3M145.17 750.7v11.3M147.16 750.7v11.3M149.16 750.7v11.3M151.16 750.7v11.3M153.15 750.7v11.3M155.15 750.7v11.3M157.15 750.7v11.3M159.15 750.7v11.3M161.14 750.7v11.3M163.14 750.7v11.3M165.14 750.7v11.3M167.13 750.7v11.3M169.13 750.7v11.3M171.13 750.7v11.3M173.12 750.7v11.3M175.12 750.7v11.3M177.12 750.7v11.3M179.11 750.7v11.3M181.11 750.7v11.3M183.11 750.7v11.3M185.1 750.7v11.3M187.1 750.7v11.3M189.1 750.7v11.3M191.1 750.7v11.3M193.09 750.7v11.3M195.09 750.7v11.3M197.09 750.7v11.3M199.08 750.7v11.3M201.08 750.7v11.3M203.08 750.7v11.3M205.07 750.7v11.3M207.07 750.7v11.3M209.07 750.7v11.3M211.06 750.7v11.3M213.06 750.7v11.3M215.06 750.7v11.3M217.05 750.7v11.3M219.05 750.7v11.3M221.05 750.7v11.3M223.05 750.7v11.3M225.04 750.7v11.3M227.04 750.7v11.3M229.04 750.7v11.3M231.03 750.7v11.3M233.03 750.7v11.3M235.03 750.7v11.3M237.02 750.7v11.3M239.02 750.7v11.3M241.02 750.7v11.3M243.01 750.7v11.3M245.01 750.7v11.3M247.01 750.7v11.3M249 750.7v11.3M251 750.7v11.3" stroke="#E2E2E2" stroke-width="0.5"/>
<text x="156.9" y="518.9" font-size="11.7" text-anchor="middle" fill="#1A1A1A">Cluster 1</text>
<rect x="257.1" y="508.4" width="191.5" height="11.2" fill="#D9D9D9"/>
<rect x="257.1" y="519.6" width="191.5" height="8.4" fill="#EBEBEB"/>
<path d="M260.65 519.6v8.4M267.74 519.6v8.4M274.83 519.6v8.4M281.92 519.6v8.4M289.02 519.6v8.4M296.11 519.6v8.4M303.2 519.6v8.4M310.29 519.6v8.4M317.39 519.6v8.4M324.48 519.6v8.4M331.57 519.6v8.4M338.66 519.6v8.4M345.76 519.6v8.4M352.85 519.6v8.4M359.94 519.6v8.4M367.04 519.6v8.4M374.13 519.6v8.4M381.22 519.6v8.4M388.31 519.6v8.4M395.41 519.6v8.4M402.5 519.6v8.4M409.59 519.6v8.4M416.68 519.6v8.4M423.78 519.6v8.4M430.87 519.6v8.4M437.96 519.6v8.4M445.05 519.6v8.4" stroke="#E2E2E2" stroke-width="0.5"/>
<path d="M257.1 750.7L257.1 528H264.19L264.19 528H271.29L271.29 528H278.38L278.38 528H285.47L285.47 528H292.56L292.56 528H299.66L299.66 528H306.75L306.75 528H313.84L313.84 528H320.93L320.93 528H328.03L328.03 528H335.12L335.12 528H342.21L342.21 528H349.3L349.3 528H356.4L356.4 528H363.49L363.49 528H370.58L370.58 528H377.67L377.67 528H384.77L384.77 528H391.86L391.86 528H398.95L398.95 528H406.04L406.04 528H413.14L413.14 528H420.23L420.23 528H427.32L427.32 528H434.41L434.41 528H441.51L441.51 528H448.6L448.6 750.7Z" fill="#EC756C"/>
<path d="M257.1 750.7L257.1 569.42H264.19L264.19 576.1H271.29L271.29 575.66H278.38L278.38 568.98H285.47L285.47 575.66H292.56L292.56 593.47H299.66L299.66 595.48H306.75L306.75 589.24H313.84L313.84 609.73H320.93L320.93 574.99H328.03L328.03 577.66H335.12L335.12 584.12H342.21L342.21 591.25H349.3L349.3 566.75H356.4L356.4 607.73H363.49L363.49 578.55H370.58L370.58 574.99H377.67L377.67 603.5H384.77L384.77 633.11H391.86L391.86 594.36H398.95L398.95 571.87H406.04L406.04 565.86H413.14L413.14 635.12H420.23L420.23 588.13H427.32L427.32 568.98H434.41L434.41 647.37H441.51L441.51 594.36H448.6L448.6 750.7Z" fill="#E9773F"/>
<path d="M257.1 750.7L257.1 570.13H264.19L264.19 577.15H271.29L271.29 576.22H278.38L278.38 569.95H285.47L285.47 582.72H292.56L292.56 598.93H299.66L299.66 596.27H306.75L306.75 592.57H313.84L313.84 610.47H320.93L320.93 576.45H328.03L328.03 584.71H335.12L335.12 586.14H342.21L342.21 597.61H349.3L349.3 571.77H356.4L356.4 610.1H363.49L363.49 585.72H370.58L370.58 581.61H377.67L377.67 611.72H384.77L384.77 636.16H391.86L391.86 600.28H398.95L398.95 585.68H406.04L406.04 568.13H413.14L413.14 637.41H420.23L420.23 590.76H427.32L427.32 570.85H434.41L434.41 650.4H441.51L441.51 603.68H448.6L448.6 750.7Z" fill="#D98B17"/>
<path d="M257.1 750.7L257.1 576.08H264.19L264.19 580.5H271.29L271.29 586.37H278.38L278.38 583.7H285.47L285.47 590.33H292.56L292.56 628.23H299.66L299.66 608.8H306.75L306.75 623.04H313.84L313.84 616.24H320.93L320.93 590.17H328.03L328.03 601.32H335.12L335.12 594.76H342.21L342.21 615.49H349.3L349.3 582.51H356.4L356.4 611.06H363.49L363.49 605.77H370.58L370.58 587.69H377.67L377.67 627.31H384.77L384.77 650.49H391.86L391.86 612.89H398.95L398.95 606.98H406.04L406.04 594.13H413.14L413.14 663.01H420.23L420.23 604.6H427.32L427.32 579.82H434.41L434.41 657.58H441.51L441.51 628.73H448.6L448.6 750.7Z" fill="#C4921A"/>
<path d="M257.1 750.7L257.1 583.23H264.19L264.19 582.12H271.29L271.29 589.24H278.38L278.38 590.36H285.47L285.47 592.36H292.56L292.56 633.11H299.66L299.66 615.74H306.75L306.75 640.24H313.84L313.84 618.86H320.93L320.93 599.49H328.03L328.03 627.1H335.12L335.12 601.49H342.21L342.21 620.87H349.3L349.3 593.25H356.4L356.4 612.85H363.49L363.49 612.63H370.58L370.58 612.63H377.67L377.67 630H384.77L384.77 661.62H391.86L391.86 625.99H398.95L398.95 608.62H406.04L406.04 603.5H413.14L413.14 665.85H420.23L420.23 608.62H427.32L427.32 589.24H434.41L434.41 661.62H441.51L441.51 646.48H448.6L448.6 750.7Z" fill="#AA9E25"/>
<path d="M257.1 750.7L257.1 590.41H264.19L264.19 588.62H271.29L271.29 591.58H278.38L278.38 594.56H285.47L285.47 596.74H292.56L292.56 637.6H299.66L299.66 617.79H306.75L306.75 641.79H313.84L313.84 623.44H320.93L320.93 602.43H328.03L328.03 630.61H335.12L335.12 604.02H342.21L342.21 625.11H349.3L349.3 595.87H356.4L356.4 616.02H363.49L363.49 615.57H370.58L370.58 615.17H377.67L377.67 634.74H384.77L384.77 663.26H391.86L391.86 629.18H398.95L398.95 615.64H406.04L406.04 606.84H413.14L413.14 667.65H420.23L420.23 615H427.32L427.32 593.16H434.41L434.41 665.13H441.51L441.51 651.13H448.6L448.6 750.7Z" fill="#8CA52C"/>
<path d="M257.1 750.7L257.1 672.98H264.19L264.19 663.4H271.29L271.29 618.42H278.38L278.38 642.91H285.47L285.47 647.14H292.56L292.56 689.23H299.66L299.66 641.35H306.75L306.75 659.62H313.84L313.84 676.1H320.93L320.93 636.23H328.03L328.03 670.97H335.12L335.12 633.11H342.21L342.21 673.87H349.3L349.3 625.99H356.4L356.4 652.49H363.49L363.49 649.37H370.58L370.58 644.47H377.67L377.67 689.23H384.77L384.77 682.11H391.86L391.86 665.85H398.95L398.95 696.36H406.04L406.04 645.36H413.14L413.14 688.34H420.23L420.23 688.34H427.32L427.32 638.24H434.41L434.41 705.49H441.51L441.51 704.6H448.6L448.6 750.7Z" fill="#66AC35"/>
<path d="M257.1 750.7L257.1 674.15H264.19L264.19 664.31H271.29L271.29 619.51H278.38L278.38 647.03H285.47L285.47 650.19H292.56L292.56 691.74H299.66L299.66 652.5H306.75L306.75 662.23H313.84L313.84 680.27H320.93L320.93 636.48H328.03L328.03 671.58H335.12L335.12 636.93H342.21L342.21 675.04H349.3L349.3 628.37H356.4L356.4 653.27H363.49L363.49 651.41H370.58L370.58 644.97H377.67L377.67 692.08H384.77L384.77 684.07H391.86L391.86 666.36H398.95L398.95 697.67H406.04L406.04 647.7H413.14L413.14 689.82H420.23L420.23 690.6H427.32L427.32 644.3H434.41L434.41 707.33H441.51L441.51 708.59H448.6L448.6 750.7Z" fill="#2BB04A"/>
<path d="M257.1 750.7L257.1 676.13H264.19L264.19 665.52H271.29L271.29 622.18H278.38L278.38 650.69H285.47L285.47 651.83H292.56L292.56 692.49H299.66L299.66 656.31H306.75L306.75 667.12H313.84L313.84 682.12H320.93L320.93 636.76H328.03L328.03 672.85H335.12L335.12 638.12H342.21L342.21 676.26H349.3L349.3 630.9H356.4L356.4 655.74H363.49L363.49 653.3H370.58L370.58 645.71H377.67L377.67 693.14H384.77L384.77 687.31H391.86L391.86 666.96H398.95L398.95 699.34H406.04L406.04 650.2H413.14L413.14 692.3H420.23L420.23 692.07H427.32L427.32 647.67H434.41L434.41 709.13H441.51L441.51 711.26H448.6L448.6 750.7Z" fill="#2EB163"/>
<path d="M257.1 750.7L257.1 676.58H264.19L264.19 665.64H271.29L271.29 625.39H278.38L278.38 651.83H285.47L285.47 653.25H292.56L292.56 693.73H299.66L299.66 663.62H306.75L306.75 667.65H313.84L313.84 682.5H320.93L320.93 636.95H328.03L328.03 673.41H335.12L335.12 639.03H342.21L342.21 679.24H349.3L349.3 634.77H356.4L356.4 656.59H363.49L363.49 656.53H370.58L370.58 646.64H377.67L377.67 694.47H384.77L384.77 689.56H391.86L391.86 667.59H398.95L398.95 699.72H406.04L406.04 650.64H413.14L413.14 695.98H420.23L420.23 693.5H427.32L427.32 648.21H434.41L434.41 711.31H441.51L441.51 714.31H448.6L448.6 750.7Z" fill="#2DB286"/>
<path d="M257.1 750.7L257.1 676.72H264.19L264.19 666.06H271.29L271.29 625.72H278.38L278.38 652.13H285.47L285.47 653.74H292.56L292.56 694.12H299.66L299.66 667.29H306.75L306.75 667.66H313.84L313.84 683.19H320.93L320.93 637.07H328.03L328.03 673.85H335.12L335.12 640.54H342.21L342.21 680.04H349.3L349.3 635.12H356.4L356.4 657.76H363.49L363.49 659.03H370.58L370.58 646.95H377.67L377.67 694.54H384.77L384.77 689.61H391.86L391.86 668.23H398.95L398.95 699.85H406.04L406.04 651.43H413.14L413.14 698.13H420.23L420.23 694.05H427.32L427.32 649.74H434.41L434.41 711.59H441.51L441.51 714.44H448.6L448.6 750.7Z" fill="#22B2A0"/>
<path d="M257.1 750.7L257.1 678.1H264.19L264.19 666.07H271.29L271.29 625.99H278.38L278.38 652.49H285.47L285.47 654.94H292.56L292.56 695.03H299.66L299.66 667.86H306.75L306.75 667.86H313.84L313.84 683.89H320.93L320.93 637.12H328.03L328.03 673.87H335.12L335.12 641.35H342.21L342.21 680.1H349.3L349.3 636.23H356.4L356.4 659.62H363.49L363.49 660.73H370.58L370.58 647.14H377.67L377.67 695.47H384.77L384.77 690.13H391.86L391.86 668.3H398.95L398.95 702.6H406.04L406.04 651.6H413.14L413.14 698.37H420.23L420.23 694.36H427.32L427.32 653.38H434.41L434.41 711.73H441.51L441.51 714.62H448.6L448.6 750.7Z" fill="#1DB1B2"/>
<path d="M257.1 750.7L257.1 679.16H264.19L264.19 668.02H271.29L271.29 628.31H278.38L278.38 654.08H285.47L285.47 656.77H292.56L292.56 696.47H299.66L299.66 669.33H306.75L306.75 668.39H313.84L313.84 684.51H320.93L320.93 638.72H328.03L328.03 675.13H335.12L335.12 643.68H342.21L342.21 680.96H349.3L349.3 638.35H356.4L356.4 662.15H363.49L363.49 662.28H370.58L370.58 648.67H377.67L377.67 696.41H384.77L384.77 691.07H391.86L391.86 669.26H398.95L398.95 703.41H406.04L406.04 652.66H413.14L413.14 699.27H420.23L420.23 695.05H427.32L427.32 655.43H434.41L434.41 712.75H441.51L441.51 715.36H448.6L448.6 750.7Z" fill="#1EABCB"/>
<path d="M257.1 750.7L257.1 680.75H264.19L264.19 670.95H271.29L271.29 631.8H278.38L278.38 656.48H285.47L285.47 659.5H292.56L292.56 698.63H299.66L299.66 671.53H306.75L306.75 669.19H313.84L313.84 685.45H320.93L320.93 641.11H328.03L328.03 677.03H335.12L335.12 647.17H342.21L342.21 682.24H349.3L349.3 641.53H356.4L356.4 665.94H363.49L363.49 664.6H370.58L370.58 650.95H377.67L377.67 697.81H384.77L384.77 692.49H391.86L391.86 670.71H398.95L398.95 704.62H406.04L406.04 654.25H413.14L413.14 700.61H420.23L420.23 696.09H427.32L427.32 658.5H434.41L434.41 714.29H441.51L441.51 716.47H448.6L448.6 750.7Z" fill="#2AA4E0"/>
<path d="M257.1 750.7L257.1 701.95H264.19L264.19 709.97H271.29L271.29 678.3H278.38L278.38 688.37H285.47L285.47 696.03H292.56L292.56 727.49H299.66L299.66 700.93H306.75L306.75 679.88H313.84L313.84 697.92H320.93L320.93 673H328.03L328.03 702.33H335.12L335.12 693.67H342.21L342.21 699.35H349.3L349.3 683.93H356.4L356.4 716.54H363.49L363.49 695.6H370.58L370.58 681.42H377.67L377.67 716.52H384.77L384.77 711.37H391.86L391.86 689.95H398.95L398.95 720.84H406.04L406.04 675.45H413.14L413.14 718.61H420.23L420.23 709.99H427.32L427.32 699.48H434.41L434.41 734.78H441.51L441.51 731.26H448.6L448.6 750.7Z" fill="#2D93D6"/>
<path d="M257.1 750.7L257.1 704.6H264.19L264.19 714.85H271.29L271.29 684.11H278.38L278.38 692.35H285.47L285.47 700.59H292.56L292.56 731.1H299.66L299.66 704.6H306.75L306.75 681.22H313.84L313.84 699.48H320.93L320.93 676.99H328.03L328.03 705.49H335.12L335.12 699.48H342.21L342.21 701.48H349.3L349.3 689.23H356.4L356.4 722.86H363.49L363.49 699.48H370.58L370.58 685.23H377.67L377.67 718.85H384.77L384.77 713.73H391.86L391.86 692.35H398.95L398.95 722.86H406.04L406.04 678.1H413.14L413.14 720.86H420.23L420.23 711.73H427.32L427.32 704.6H434.41L434.41 737.34H441.51L441.51 733.11H448.6L448.6 750.7Z" fill="#7A8BC8"/>
<path d="M257.1 750.7L257.1 729.99H264.19L264.19 737.12H271.29L271.29 739.34H278.38L278.38 729.1H285.47L285.47 727.98H292.56L292.56 747.36H299.66L299.66 736.22H306.75L306.75 748.47H313.84L313.84 721.97H320.93L320.93 725.09H328.03L328.03 723.98H335.12L335.12 731.1H342.21L342.21 733.11H349.3L349.3 735.11H356.4L356.4 745.36H363.49L363.49 729.1H370.58L370.58 718.85H377.67L377.67 746.47H384.77L384.77 729.99H391.86L391.86 731.1H398.95L398.95 741.35H406.04L406.04 727.09H413.14L413.14 747.36H420.23L420.23 744.46H427.32L427.32 745.36H434.41L434.41 745.36H441.51L441.51 745.36H448.6L448.6 750.7Z" fill="#8E7DC0"/>
<path d="M257.1 750.7L257.1 731.02H264.19L264.19 737.79H271.29L271.29 739.91H278.38L278.38 730.18H285.47L285.47 729.12H292.56L292.56 747.53H299.66L299.66 736.95H306.75L306.75 748.58H313.84L313.84 723.41H320.93L320.93 726.37H328.03L328.03 725.31H335.12L335.12 732.08H342.21L342.21 733.99H349.3L349.3 735.89H356.4L356.4 745.62H363.49L363.49 730.18H370.58L370.58 720.45H377.67L377.67 746.68H384.77L384.77 731.02H391.86L391.86 732.08H398.95L398.95 741.81H406.04L406.04 728.27H413.14L413.14 747.53H420.23L420.23 744.78H427.32L427.32 745.62H434.41L434.41 745.62H441.51L441.51 745.62H448.6L448.6 750.7Z" fill="#A673B8"/>
<path d="M257.1 750.7L257.1 732.06H264.19L264.19 738.47H271.29L271.29 740.48H278.38L278.38 731.26H285.47L285.47 730.26H292.56L292.56 747.69H299.66L299.66 737.67H306.75L306.75 748.7H313.84L313.84 724.84H320.93L320.93 727.65H328.03L328.03 726.65H335.12L335.12 733.06H342.21L342.21 734.87H349.3L349.3 736.67H356.4L356.4 745.89H363.49L363.49 731.26H370.58L370.58 722.04H377.67L377.67 746.89H384.77L384.77 732.06H391.86L391.86 733.06H398.95L398.95 742.28H406.04L406.04 729.45H413.14L413.14 747.69H420.23L420.23 745.09H427.32L427.32 745.89H434.41L434.41 745.89H441.51L441.51 745.89H448.6L448.6 750.7Z" fill="#BB6AAC"/>
<path d="M257.1 750.7L257.1 744.49H264.19L264.19 746.62H271.29L271.29 747.29H278.38L278.38 744.22H285.47L285.47 743.89H292.56L292.56 749.7H299.66L299.66 746.36H306.75L306.75 750.03H313.84L313.84 742.08H320.93L320.93 743.02H328.03L328.03 742.68H335.12L335.12 744.82H342.21L342.21 745.42H349.3L349.3 746.02H356.4L356.4 749.1H363.49L363.49 744.22H370.58L370.58 741.15H377.67L377.67 749.43H384.77L384.77 744.49H391.86L391.86 744.82H398.95L398.95 747.89H406.04L406.04 743.62H413.14L413.14 749.7H420.23L420.23 748.83H427.32L427.32 749.1H434.41L434.41 749.1H441.51L441.51 749.1H448.6L448.6 750.7Z" fill="#CF62A0"/>
<path d="M257.1 750.7L257.1 748.63H264.19L264.19 749.34H271.29L271.29 749.56H278.38L278.38 748.54H285.47L285.47 748.43H292.56L292.56 750.37H299.66L299.66 749.25H306.75L306.75 750.48H313.84L313.84 747.83H320.93L320.93 748.14H328.03L328.03 748.03H335.12L335.12 748.74H342.21L342.21 748.94H349.3L349.3 749.14H356.4L356.4 750.17H363.49L363.49 748.54H370.58L370.58 747.52H377.67L377.67 750.28H384.77L384.77 748.63H391.86L391.86 748.74H398.95L398.95 749.76H406.04L406.04 748.34H413.14L413.14 750.37H420.23L420.23 750.08H427.32L427.32 750.17H434.41L434.41 750.17H441.51L441.51 750.17H448.6L448.6 750.7Z" fill="#DE5D93"/>
<path d="M257.1 750.7L257.1 749.25H264.19L264.19 749.75H271.29L271.29 749.9H278.38L278.38 749.19H285.47L285.47 749.11H292.56L292.56 750.47H299.66L299.66 749.69H306.75L306.75 750.54H313.84L313.84 748.69H320.93L320.93 748.91H328.03L328.03 748.83H335.12L335.12 749.33H342.21L342.21 749.47H349.3L349.3 749.61H356.4L356.4 750.33H363.49L363.49 749.19H370.58L370.58 748.47H377.67L377.67 750.4H384.77L384.77 749.25H391.86L391.86 749.33H398.95L398.95 750.05H406.04L406.04 749.05H413.14L413.14 750.47H420.23L420.23 750.26H427.32L427.32 750.33H434.41L434.41 750.33H441.51L441.51 750.33H448.6L448.6 750.7Z" fill="#E75F7F"/>
<rect x="257.1" y="750.7" width="191.5" height="11.3" fill="#EBEBEB"/>
<path d="M260.65 750.7v11.3M267.74 750.7v11.3M274.83 750.7v11.3M281.92 750.7v11.3M289.02 750.7v11.3M296.11 750.7v11.3M303.2 750.7v11.3M310.29 750.7v11.3M317.39 750.7v11.3M324.48 750.7v11.3M331.57 750.7v11.3M338.66 750.7v11.3M345.76 750.7v11.3M352.85 750.7v11.3M359.94 750.7v11.3M367.04 750.7v11.3M374.13 750.7v11.3M381.22 750.7v11.3M388.31 750.7v11.3M395.41 750.7v11.3M402.5 750.7v11.3M409.59 750.7v11.3M416.68 750.7v11.3M423.78 750.7v11.3M430.87 750.7v11.3M437.96 750.7v11.3M445.05 750.7v11.3" stroke="#E2E2E2" stroke-width="0.5"/>
<text x="365.3" y="518.9" font-size="11.7" text-anchor="middle" fill="#1A1A1A">Cluster 2</text>
<rect x="452.5" y="508.4" width="192" height="11.2" fill="#D9D9D9"/>
<rect x="452.5" y="519.6" width="192" height="8.4" fill="#EBEBEB"/>
<path d="M454.28 519.6v8.4M457.83 519.6v8.4M461.39 519.6v8.4M464.94 519.6v8.4M468.5 519.6v8.4M472.06 519.6v8.4M475.61 519.6v8.4M479.17 519.6v8.4M482.72 519.6v8.4M486.28 519.6v8.4M489.83 519.6v8.4M493.39 519.6v8.4M496.94 519.6v8.4M500.5 519.6v8.4M504.06 519.6v8.4M507.61 519.6v8.4M511.17 519.6v8.4M514.72 519.6v8.4M518.28 519.6v8.4M521.83 519.6v8.4M525.39 519.6v8.4M528.94 519.6v8.4M532.5 519.6v8.4M536.06 519.6v8.4M539.61 519.6v8.4M543.17 519.6v8.4M546.72 519.6v8.4M550.28 519.6v8.4M553.83 519.6v8.4M557.39 519.6v8.4M560.94 519.6v8.4M564.5 519.6v8.4M568.06 519.6v8.4M571.61 519.6v8.4M575.17 519.6v8.4M578.72 519.6v8.4M582.28 519.6v8.4M585.83 519.6v8.4M589.39 519.6v8.4M592.94 519.6v8.4M596.5 519.6v8.4M600.06 519.6v8.4M603.61 519.6v8.4M607.17 519.6v8.4M610.72 519.6v8.4M614.28 519.6v8.4M617.83 519.6v8.4M621.39 519.6v8.4M624.94 519.6v8.4M628.5 519.6v8.4M632.06 519.6v8.4M635.61 519.6v8.4M639.17 519.6v8.4M642.72 519.6v8.4" stroke="#E2E2E2" stroke-width="0.5"/>
<path d="M452.5 750.7L452.5 528H456.06L456.06 528H459.61L459.61 528H463.17L463.17 528H466.72L466.72 528H470.28L470.28 528H473.83L473.83 528H477.39L477.39 528H480.94L480.94 528H484.5L484.5 528H488.06L488.06 528H491.61L491.61 528H495.17L495.17 528H498.72L498.72 528H502.28L502.28 528H505.83L505.83 528H509.39L509.39 528H512.94L512.94 528H516.5L516.5 528H520.06L520.06 528H523.61L523.61 528H527.17L527.17 528H530.72L530.72 528H534.28L534.28 528H537.83L537.83 528H541.39L541.39 528H544.94L544.94 528H548.5L548.5 528H552.06L552.06 528H555.61L555.61 528H559.17L559.17 528H562.72L562.72 528H566.28L566.28 528H569.83L569.83 528H573.39L573.39 528H576.94L576.94 528H580.5L580.5 528H584.06L584.06 528H587.61L587.61 528H591.17L591.17 528H594.72L594.72 528H598.28L598.28 528H601.83L601.83 528H605.39L605.39 528H608.94L608.94 528H612.5L612.5 528H616.06L616.06 528H619.61L619.61 528H623.17L623.17 528H626.72L626.72 528H630.28L630.28 528H633.83L633.83 528H637.39L637.39 528H640.94L640.94 528H644.5L644.5 750.7Z" fill="#EC756C"/>
<path d="M452.5 750.7L452.5 528H456.06L456.06 539.13H459.61L459.61 588.13H463.17L463.17 531.56H466.72L466.72 528H470.28L470.28 563.63H473.83L473.83 540.25H477.39L477.39 578.11H480.94L480.94 545.37H484.5L484.5 537.13H488.06L488.06 544.48H491.61L491.61 559.62H495.17L495.17 528H498.72L498.72 537.13H502.28L502.28 540.25H505.83L505.83 545.37H509.39L509.39 532.01H512.94L512.94 528H516.5L516.5 528H520.06L520.06 528H523.61L523.61 574.99H527.17L527.17 545.37H530.72L530.72 545.37H534.28L534.28 543.37H537.83L537.83 540.25H541.39L541.39 528H544.94L544.94 537.13H548.5L548.5 540.25H552.06L552.06 528H555.61L555.61 538.24H559.17L559.17 545.37H562.72L562.72 550.49H566.28L566.28 528H569.83L569.83 528H573.39L573.39 528H576.94L576.94 528H580.5L580.5 544.48H584.06L584.06 536.24H587.61L587.61 576.1H591.17L591.17 544.48H594.72L594.72 536.24H598.28L598.28 536.24H601.83L601.83 551.61H605.39L605.39 545.37H608.94L608.94 538.24H612.5L612.5 549.6H616.06L616.06 528H619.61L619.61 528H623.17L623.17 528H626.72L626.72 539.13H630.28L630.28 528H633.83L633.83 528H637.39L637.39 560.74H640.94L640.94 528H644.5L644.5 750.7Z" fill="#E9773F"/>
<path d="M452.5 750.7L452.5 529.6H456.06L456.06 541.02H459.61L459.61 588.13H463.17L463.17 536.14H466.72L466.72 528.76H470.28L470.28 570.04H473.83L473.83 540.25H477.39L477.39 582.09H480.94L480.94 545.84H484.5L484.5 549.44H488.06L488.06 544.48H491.61L491.61 565.54H495.17L495.17 530.1H498.72L498.72 537.13H502.28L502.28 543.85H505.83L505.83 551.67H509.39L509.39 532.01H512.94L512.94 533.39H516.5L516.5 530.35H520.06L520.06 531.8H523.61L523.61 577.42H527.17L527.17 546.96H530.72L530.72 551.13H534.28L534.28 553.37H537.83L537.83 540.25H541.39L541.39 528.94H544.94L544.94 545.07H548.5L548.5 540.25H552.06L552.06 528.86H555.61L555.61 539.16H559.17L559.17 545.37H562.72L562.72 552.32H566.28L566.28 531.84H569.83L569.83 534.29H573.39L573.39 532.36H576.94L576.94 529.58H580.5L580.5 545.92H584.06L584.06 536.24H587.61L587.61 578.49H591.17L591.17 546.53H594.72L594.72 536.24H598.28L598.28 543.27H601.83L601.83 567.6H605.39L605.39 553.01H608.94L608.94 547.82H612.5L612.5 551.15H616.06L616.06 532.23H619.61L619.61 530.49H623.17L623.17 530.31H626.72L626.72 539.13H630.28L630.28 531.85H633.83L633.83 530.85H637.39L637.39 560.74H640.94L640.94 532.4H644.5L644.5 750.7Z" fill="#D98B17"/>
<path d="M452.5 750.7L452.5 530.96H456.06L456.06 544.06H459.61L459.61 588.13H463.17L463.17 542.76H466.72L466.72 530.69H470.28L470.28 575.06H473.83L473.83 540.25H477.39L477.39 587.03H480.94L480.94 546.45H484.5L484.5 572.3H488.06L488.06 544.48H491.61L491.61 577.95H495.17L495.17 533.76H498.72L498.72 537.13H502.28L502.28 545.21H505.83L505.83 557.88H509.39L509.39 532.01H512.94L512.94 536.43H516.5L516.5 531.22H520.06L520.06 535.36H523.61L523.61 582.47H527.17L527.17 553.46H530.72L530.72 558.54H534.28L534.28 560.66H537.83L537.83 540.25H541.39L541.39 531.92H544.94L544.94 549.81H548.5L548.5 540.25H552.06L552.06 534.1H555.61L555.61 543.33H559.17L559.17 545.37H562.72L562.72 559.98H566.28L566.28 545.88H569.83L569.83 538.53H573.39L573.39 565.84H576.94L576.94 531.24H580.5L580.5 547.98H584.06L584.06 536.24H587.61L587.61 588.44H591.17L591.17 548.78H594.72L594.72 536.24H598.28L598.28 550.13H601.83L601.83 579.63H605.39L605.39 559.77H608.94L608.94 555.01H612.5L612.5 558.42H616.06L616.06 545.88H619.61L619.61 532.95H623.17L623.17 532.1H626.72L626.72 539.13H630.28L630.28 533.96H633.83L633.83 541.27H637.39L637.39 560.74H640.94L640.94 534.1H644.5L644.5 750.7Z" fill="#C4921A"/>
<path d="M452.5 750.7L452.5 534.68H456.06L456.06 545.37H459.61L459.61 588.13H463.17L463.17 544.48H466.72L466.72 531.56H470.28L470.28 576.1H473.83L473.83 540.25H477.39L477.39 588.13H480.94L480.94 546.93H484.5L484.5 574.1H488.06L488.06 544.48H491.61L491.61 578.11H495.17L495.17 534.24H498.72L498.72 537.13H502.28L502.28 547.37H505.83L505.83 559.62H509.39L509.39 532.01H512.94L512.94 537.13H516.5L516.5 534.24H520.06L520.06 536.91H523.61L523.61 583.23H527.17L527.17 557.62H530.72L530.72 560.74H534.28L534.28 563.85H537.83L537.83 540.25H541.39L541.39 534.24H544.94L544.94 552.5H548.5L548.5 540.25H552.06L552.06 535.13H555.61L555.61 545.37H559.17L559.17 545.37H562.72L562.72 563.85H566.28L566.28 550.49H569.83L569.83 544.48H573.39L573.39 569.87H576.94L576.94 534.24H580.5L580.5 549.6H584.06L584.06 536.24H587.61L587.61 590.36H591.17L591.17 550.49H594.72L594.72 536.24H598.28L598.28 555.61H601.83L601.83 584.34H605.39L605.39 572.99H608.94L608.94 556.73H612.5L612.5 565.86H616.06L616.06 549.6H619.61L619.61 534.24H623.17L623.17 534.24H626.72L626.72 539.13H630.28L630.28 535.13H633.83L633.83 544.48H637.39L637.39 560.74H640.94L640.94 535.13H644.5L644.5 750.7Z" fill="#AA9E25"/>
<path d="M452.5 750.7L452.5 536.86H456.06L456.06 547.03H459.61L459.61 590.04H463.17L463.17 546.26H466.72L466.72 534.78H470.28L470.28 579.35H473.83L473.83 543.74H477.39L477.39 589.79H480.94L480.94 549.54H484.5L484.5 576.78H488.06L488.06 546.68H491.61L491.61 581.41H495.17L495.17 536.8H498.72L498.72 538.79H502.28L502.28 549.22H505.83L505.83 561.71H509.39L509.39 534.04H512.94L512.94 538.12H516.5L516.5 538.27H520.06L520.06 539.19H523.61L523.61 586.22H527.17L527.17 560.87H530.72L530.72 563.18H534.28L534.28 566.54H537.83L537.83 542.52H541.39L541.39 536.44H544.94L544.94 554.46H548.5L548.5 541.79H552.06L552.06 538.68H555.61L555.61 547.09H559.17L559.17 547.15H562.72L562.72 567.34H566.28L566.28 552.34H569.83L569.83 544.48H573.39L573.39 574.3H576.94L576.94 536.87H580.5L580.5 552.42H584.06L584.06 538.99H587.61L587.61 592.81H591.17L591.17 552.46H594.72L594.72 537.96H598.28L598.28 559.05H601.83L601.83 586.61H605.39L605.39 576.06H608.94L608.94 558.81H612.5L612.5 568.18H616.06L616.06 553.34H619.61L619.61 536.99H623.17L623.17 535.95H626.72L626.72 540.43H630.28L630.28 537.04H633.83L633.83 546.62H637.39L637.39 563.56H640.94L640.94 538.57H644.5L644.5 750.7Z" fill="#8CA52C"/>
<path d="M452.5 750.7L452.5 570.98H456.06L456.06 572.99H459.61L459.61 619.98H463.17L463.17 574.1H466.72L466.72 585.23H470.28L470.28 630.22H473.83L473.83 598.37H477.39L477.39 615.74H480.94L480.94 590.36H484.5L484.5 618.86H488.06L488.06 581.23H491.61L491.61 633.11H495.17L495.17 576.99H498.72L498.72 564.75H502.28L502.28 578.11H505.83L505.83 594.36H509.39L509.39 565.86H512.94L512.94 553.61H516.5L516.5 601.49H520.06L520.06 574.99H523.61L523.61 633.11H527.17L527.17 611.74H530.72L530.72 601.49H534.28L534.28 608.62H537.83L537.83 578.11H541.39L541.39 570.98H544.94L544.94 585.23H548.5L548.5 565.86H552.06L552.06 594.36H555.61L555.61 574.1H559.17L559.17 574.99H562.72L562.72 621.98H566.28L566.28 581.23H569.83L569.83 544.48H573.39L573.39 643.8H576.94L576.94 578.11H580.5L580.5 596.59H584.06L584.06 582.12H587.61L587.61 631.33H591.17L591.17 583.23H594.72L594.72 564.97H598.28L598.28 612.85H601.83L601.83 622.2H605.39L605.39 624.21H608.94L608.94 591.47H612.5L612.5 604.61H616.06L616.06 611.96H619.61L619.61 580.11H623.17L623.17 562.74H626.72L626.72 560.74H630.28L630.28 566.97H633.83L633.83 580.11H637.39L637.39 607.73H640.94L640.94 592.58H644.5L644.5 750.7Z" fill="#66AC35"/>
<path d="M452.5 750.7L452.5 571.5H456.06L456.06 575.26H459.61L459.61 633.26H463.17L463.17 574.81H466.72L466.72 585.59H470.28L470.28 635.39H473.83L473.83 601.29H477.39L477.39 618.7H480.94L480.94 595.39H484.5L484.5 618.9H488.06L488.06 586.49H491.61L491.61 635.21H495.17L495.17 576.99H498.72L498.72 565.46H502.28L502.28 579.58H505.83L505.83 600.01H509.39L509.39 566.9H512.94L512.94 554.97H516.5L516.5 611.08H520.06L520.06 575.13H523.61L523.61 634.02H527.17L527.17 617.26H530.72L530.72 605.76H534.28L534.28 609.9H537.83L537.83 580.75H541.39L541.39 571.32H544.94L544.94 585.28H548.5L548.5 567.9H552.06L552.06 594.85H555.61L555.61 576.86H559.17L559.17 576.26H562.72L562.72 625.26H566.28L566.28 584.49H569.83L569.83 552.52H573.39L573.39 644.35H576.94L576.94 578.47H580.5L580.5 597.54H584.06L584.06 583.9H587.61L587.61 637.66H591.17L591.17 583.97H594.72L594.72 565.4H598.28L598.28 614.03H601.83L601.83 632.21H605.39L605.39 624.21H608.94L608.94 591.76H612.5L612.5 605.01H616.06L616.06 612.87H619.61L619.61 583.4H623.17L623.17 566.28H626.72L626.72 565.18H630.28L630.28 569.53H633.83L633.83 582.17H637.39L637.39 608.97H640.94L640.94 601.85H644.5L644.5 750.7Z" fill="#2BB04A"/>
<path d="M452.5 750.7L452.5 571.82H456.06L456.06 579.07H459.61L459.61 644.92H463.17L463.17 575.2H466.72L466.72 586.18H470.28L470.28 638.95H473.83L473.83 606.81H477.39L477.39 624.51H480.94L480.94 597.2H484.5L484.5 618.97H488.06L488.06 587.19H491.61L491.61 635.82H495.17L495.17 576.99H498.72L498.72 566.64H502.28L502.28 583.25H505.83L505.83 601.68H509.39L509.39 568.61H512.94L512.94 556.63H516.5L516.5 624.96H520.06L520.06 576.39H523.61L523.61 640.48H527.17L527.17 625.33H530.72L530.72 609.1H534.28L534.28 612.69H537.83L537.83 581.23H541.39L541.39 572.3H544.94L544.94 585.37H548.5L548.5 569.68H552.06L552.06 598.34H555.61L555.61 578.45H559.17L559.17 576.87H562.72L562.72 629.62H566.28L566.28 586.42H569.83L569.83 559.17H573.39L573.39 644.94H576.94L576.94 579.18H580.5L580.5 599.07H584.06L584.06 586.01H587.61L587.61 639.3H591.17L591.17 584.77H594.72L594.72 566.15H598.28L598.28 614.65H601.83L601.83 634.84H605.39L605.39 624.21H608.94L608.94 591.94H612.5L612.5 605.37H616.06L616.06 613.75H619.61L619.61 586.35H623.17L623.17 569.69H626.72L626.72 568.2H630.28L630.28 573.5H633.83L633.83 586.44H637.39L637.39 610.97H640.94L640.94 603.75H644.5L644.5 750.7Z" fill="#2EB163"/>
<path d="M452.5 750.7L452.5 571.84H456.06L456.06 581.67H459.61L459.61 648.35H463.17L463.17 575.52H466.72L466.72 587.21H470.28L470.28 645.37H473.83L473.83 608.38H477.39L477.39 624.96H480.94L480.94 600.48H484.5L484.5 619.14H488.06L488.06 589.09H491.61L491.61 636.17H495.17L495.17 576.99H498.72L498.72 566.86H502.28L502.28 583.84H505.83L505.83 602.38H509.39L509.39 569.11H512.94L512.94 560.2H516.5L516.5 634.11H520.06L520.06 577.29H523.61L523.61 641.36H527.17L527.17 632.61H530.72L530.72 610.78H534.28L534.28 614.38H537.83L537.83 581.38H541.39L541.39 573.08H544.94L544.94 585.59H548.5L548.5 572.4H552.06L552.06 599.18H555.61L555.61 579.77H559.17L559.17 577.9H562.72L562.72 631.21H566.28L566.28 586.76H569.83L569.83 561.2H573.39L573.39 645.47H576.94L576.94 579.32H580.5L580.5 599.87H584.06L584.06 587.07H587.61L587.61 643.2H591.17L591.17 587.48H594.72L594.72 567.34H598.28L598.28 615.94H601.83L601.83 638.87H605.39L605.39 624.21H608.94L608.94 592.3H612.5L612.5 605.66H616.06L616.06 614.67H619.61L619.61 587.98H623.17L623.17 571.92H626.72L626.72 568.47H630.28L630.28 575.03H633.83L633.83 591.53H637.39L637.39 612.44H640.94L640.94 607.06H644.5L644.5 750.7Z" fill="#2DB286"/>
<path d="M452.5 750.7L452.5 572.09H456.06L456.06 583.9H459.61L459.61 652.64H463.17L463.17 575.58H466.72L466.72 587.85H470.28L470.28 650.31H473.83L473.83 610.9H477.39L477.39 625.83H480.94L480.94 602.48H484.5L484.5 619.25H488.06L488.06 590.72H491.61L491.61 636.37H495.17L495.17 576.99H498.72L498.72 567.96H502.28L502.28 584.9H505.83L505.83 603.18H509.39L509.39 569.47H512.94L512.94 560.31H516.5L516.5 640.55H520.06L520.06 578.97H523.61L523.61 645.66H527.17L527.17 634.49H530.72L530.72 611.35H534.28L534.28 615.91H537.83L537.83 581.75H541.39L541.39 573.43H544.94L544.94 585.82H548.5L548.5 577.29H552.06L552.06 600.82H555.61L555.61 580.9H559.17L559.17 578.31H562.72L562.72 653.18H566.28L566.28 588.89H569.83L569.83 563.61H573.39L573.39 645.81H576.94L576.94 579.51H580.5L580.5 600.53H584.06L584.06 589.02H587.61L587.61 644.98H591.17L591.17 589.93H594.72L594.72 567.58H598.28L598.28 618.47H601.83L601.83 640.21H605.39L605.39 624.21H608.94L608.94 592.45H612.5L612.5 605.85H616.06L616.06 615.37H619.61L619.61 589.25H623.17L623.17 573.78H626.72L626.72 569.14H630.28L630.28 577.75H633.83L633.83 593.85H637.39L637.39 614.09H640.94L640.94 608.18H644.5L644.5 750.7Z" fill="#22B2A0"/>
<path d="M452.5 750.7L452.5 572.54H456.06L456.06 584.12H459.61L459.61 655.38H463.17L463.17 575.88H466.72L466.72 589.24H470.28L470.28 651.15H473.83L473.83 615.74H477.39L477.39 629.11H480.94L480.94 603.72H484.5L484.5 619.31H488.06L488.06 594.36H491.61L491.61 637.12H495.17L495.17 576.99H498.72L498.72 568.98H502.28L502.28 585.9H505.83L505.83 608.62H509.39L509.39 569.87H512.94L512.94 563.63H516.5L516.5 650.26H520.06L520.06 581.23H523.61L523.61 648.26H527.17L527.17 644.03H530.72L530.72 612.63H534.28L534.28 617.08H537.83L537.83 584.12H541.39L541.39 574.1H544.94L544.94 585.9H548.5L548.5 584.12H552.06L552.06 602.6H555.61L555.61 581.23H559.17L559.17 580.11H562.72L562.72 661.62H566.28L566.28 590.36H569.83L569.83 563.85H573.39L573.39 646.03H576.94L576.94 580.11H580.5L580.5 601.49H584.06L584.06 590.36H587.61L587.61 646.03H591.17L591.17 590.36H594.72L594.72 567.86H598.28L598.28 619.08H601.83L601.83 641.58H605.39L605.39 624.21H608.94L608.94 592.58H612.5L612.5 605.95H616.06L616.06 615.97H619.61L619.61 591.47H623.17L623.17 576.1H626.72L626.72 569.87H630.28L630.28 583.68H633.83L633.83 596.59H637.39L637.39 617.08H640.94L640.94 610.84H644.5L644.5 750.7Z" fill="#1DB1B2"/>
<path d="M452.5 750.7L452.5 574.87H456.06L456.06 587.33H459.61L459.61 657.53H463.17L463.17 579.03H466.72L466.72 592.97H470.28L470.28 653.02H473.83L473.83 618.77H477.39L477.39 631.27H480.94L480.94 607.32H484.5L484.5 621.46H488.06L488.06 598.25H491.61L491.61 639.29H495.17L495.17 579.07H498.72L498.72 573.07H502.28L502.28 590.13H505.83L505.83 610.84H509.39L509.39 573.69H512.94L512.94 568.68H516.5L516.5 652.74H520.06L520.06 583.42H523.61L523.61 649.94H527.17L527.17 645.86H530.72L530.72 614.74H534.28L534.28 619.67H537.83L537.83 586.81H541.39L541.39 578.6H544.94L544.94 588.69H548.5L548.5 585.89H552.06L552.06 605.35H555.61L555.61 585.13H559.17L559.17 584.43H562.72L562.72 663.18H566.28L566.28 593.5H569.83L569.83 566.57H573.39L573.39 649.11H576.94L576.94 583.44H580.5L580.5 604.33H584.06L584.06 592.64H587.61L587.61 648.18H591.17L591.17 592.39H594.72L594.72 570.64H598.28L598.28 621.62H601.83L601.83 643.71H605.39L605.39 626.77H608.94L608.94 594.8H612.5L612.5 607.74H616.06L616.06 619.35H619.61L619.61 594.06H623.17L623.17 578.02H626.72L626.72 572.71H630.28L630.28 586.35H633.83L633.83 599.89H637.39L637.39 619.08H640.94L640.94 612.98H644.5L644.5 750.7Z" fill="#1EABCB"/>
<path d="M452.5 750.7L452.5 577.98H456.06L456.06 591.6H459.61L459.61 660.39H463.17L463.17 583.22H466.72L466.72 597.94H470.28L470.28 655.52H473.83L473.83 622.81H477.39L477.39 634.16H480.94L480.94 612.12H484.5L484.5 624.33H488.06L488.06 603.42H491.61L491.61 642.19H495.17L495.17 581.83H498.72L498.72 578.52H502.28L502.28 595.77H505.83L505.83 613.81H509.39L509.39 578.78H512.94L512.94 575.42H516.5L516.5 656.05H520.06L520.06 586.34H523.61L523.61 652.19H527.17L527.17 648.31H530.72L530.72 617.55H534.28L534.28 623.11H537.83L537.83 590.39H541.39L541.39 584.59H544.94L544.94 592.4H548.5L548.5 588.25H552.06L552.06 609.01H555.61L555.61 590.34H559.17L559.17 590.18H562.72L562.72 665.25H566.28L566.28 597.68H569.83L569.83 570.18H573.39L573.39 653.22H576.94L576.94 587.88H580.5L580.5 608.12H584.06L584.06 595.69H587.61L587.61 651.05H591.17L591.17 595.11H594.72L594.72 574.35H598.28L598.28 624.99H601.83L601.83 646.55H605.39L605.39 630.18H608.94L608.94 597.76H612.5L612.5 610.12H616.06L616.06 623.87H619.61L619.61 597.52H623.17L623.17 580.58H626.72L626.72 576.49H630.28L630.28 589.91H633.83L633.83 604.28H637.39L637.39 621.76H640.94L640.94 615.82H644.5L644.5 750.7Z" fill="#2AA4E0"/>
<path d="M452.5 750.7L452.5 644.04H456.06L456.06 682.46H459.61L459.61 721.15H463.17L463.17 672.38H466.72L466.72 703.57H470.28L470.28 708.52H473.83L473.83 708.56H477.39L477.39 695.49H480.94L480.94 714.15H484.5L484.5 685.28H488.06L488.06 713.4H491.61L491.61 703.71H495.17L495.17 640.51H498.72L498.72 694.37H502.28L502.28 715.59H505.83L505.83 676.84H509.39L509.39 687.06H512.94L512.94 718.52H516.5L516.5 726.27H520.06L520.06 648.43H523.61L523.61 699.89H527.17L527.17 700.37H530.72L530.72 677.37H534.28L534.28 696.37H537.83L537.83 666.48H541.39L541.39 711.99H544.94L544.94 671.34H548.5L548.5 638.41H552.06L552.06 686.81H555.61L555.61 701.08H559.17L559.17 712.47H562.72L562.72 709.36H566.28L566.28 686.65H569.83L569.83 647.04H573.39L573.39 740.48H576.94L576.94 682.14H580.5L580.5 688.57H584.06L584.06 660.43H587.61L587.61 712H591.17L591.17 652.85H594.72L594.72 653.1H598.28L598.28 696.74H601.83L601.83 706.93H605.39L605.39 702.68H608.94L608.94 660.6H612.5L612.5 660.85H616.06L616.06 719.84H619.61L619.61 670.96H623.17L623.17 634.9H626.72L626.72 656.94H630.28L630.28 665.63H633.83L633.83 697.6H637.39L637.39 678.55H640.94L640.94 676.2H644.5L644.5 750.7Z" fill="#2D93D6"/>
<path d="M452.5 750.7L452.5 650.26H456.06L456.06 691.02H459.61L459.61 726.87H463.17L463.17 680.77H466.72L466.72 713.51H470.28L470.28 713.51H473.83L473.83 716.63H477.39L477.39 701.26H480.94L480.94 723.75H484.5L484.5 691.02H488.06L488.06 723.75H491.61L491.61 709.5H495.17L495.17 646.03H498.72L498.72 705.27H502.28L502.28 726.87H505.83L505.83 682.78H509.39L509.39 697.25H512.94L512.94 731.99H516.5L516.5 732.88H520.06L520.06 654.27H523.61L523.61 704.38H527.17L527.17 705.27H530.72L530.72 683H534.28L534.28 703.26H537.83L537.83 673.65H541.39L541.39 723.98H544.94L544.94 678.77H548.5L548.5 643.14H552.06L552.06 694.13H555.61L555.61 711.5H559.17L559.17 723.98H562.72L562.72 713.51H566.28L566.28 695.02H569.83L569.83 654.27H573.39L573.39 748.7H576.94L576.94 691.02H580.5L580.5 696.14H584.06L584.06 666.52H587.61L587.61 717.74H591.17L591.17 658.28H594.72L594.72 660.51H598.28L598.28 703.49H601.83L601.83 712.62H605.39L605.39 709.5H608.94L608.94 666.52H612.5L612.5 665.63H616.06L616.06 728.88H619.61L619.61 677.88H623.17L623.17 640.02H626.72L626.72 664.52H630.28L630.28 672.76H633.83L633.83 706.38H637.39L637.39 683.89H640.94L640.94 681.89H644.5L644.5 750.7Z" fill="#7A8BC8"/>
<path d="M452.5 750.7L452.5 734H456.06L456.06 729.77H459.61L459.61 741.79H463.17L463.17 745.13H466.72L466.72 732.22H470.28L470.28 729.77H473.83L473.83 740.68H477.39L477.39 746.25H480.94L480.94 734H484.5L484.5 691.02H488.06L488.06 748.03H491.61L491.61 746.25H495.17L495.17 698.14H498.72L498.72 739.57H502.28L502.28 739.57H505.83L505.83 717.52H509.39L509.39 717.52H512.94L512.94 731.99H516.5L516.5 732.88H520.06L520.06 726.87H523.61L523.61 744.02H527.17L527.17 746.25H530.72L530.72 727.76H534.28L534.28 747.36H537.83L537.83 744.02H541.39L541.39 741.79H544.94L544.94 724.64H548.5L548.5 697.25H552.06L552.06 725.76H555.61L555.61 737.34H559.17L559.17 741.79H562.72L562.72 736.45H566.28L566.28 735.11H569.83L569.83 734H573.39L573.39 748.7H576.94L576.94 726.87H580.5L580.5 731.99H584.06L584.06 735.11H587.61L587.61 745.13H591.17L591.17 744.02H594.72L594.72 726.87H598.28L598.28 731.99H601.83L601.83 744.02H605.39L605.39 747.36H608.94L608.94 719.74H612.5L612.5 731.1H616.06L616.06 741.79H619.61L619.61 707.5H623.17L623.17 742.24H626.72L626.72 742.24H630.28L630.28 731.99H633.83L633.83 723.75H637.39L637.39 742.91H640.94L640.94 735.11H644.5L644.5 750.7Z" fill="#8E7DC0"/>
<path d="M452.5 750.7L452.5 734.83H456.06L456.06 730.81H459.61L459.61 742.24H463.17L463.17 745.41H466.72L466.72 733.14H470.28L470.28 730.81H473.83L473.83 741.18H477.39L477.39 746.47H480.94L480.94 734.83H484.5L484.5 691.02H488.06L488.06 748.16H491.61L491.61 746.47H495.17L495.17 698.14H498.72L498.72 740.12H502.28L502.28 740.12H505.83L505.83 719.18H509.39L509.39 719.18H512.94L512.94 732.93H516.5L516.5 733.77H520.06L520.06 728.06H523.61L523.61 744.35H527.17L527.17 746.47H530.72L530.72 728.91H534.28L534.28 747.53H537.83L537.83 744.35H541.39L541.39 742.24H544.94L544.94 725.95H548.5L548.5 699.92H552.06L552.06 727H555.61L555.61 738.01H559.17L559.17 742.24H562.72L562.72 737.16H566.28L566.28 735.89H569.83L569.83 734.83H573.39L573.39 748.8H576.94L576.94 728.06H580.5L580.5 732.93H584.06L584.06 735.89H587.61L587.61 745.41H591.17L591.17 744.35H594.72L594.72 728.06H598.28L598.28 732.93H601.83L601.83 744.35H605.39L605.39 747.53H608.94L608.94 721.29H612.5L612.5 732.08H616.06L616.06 742.24H619.61L619.61 709.66H623.17L623.17 742.66H626.72L626.72 742.66H630.28L630.28 732.93H633.83L633.83 725.1H637.39L637.39 743.3H640.94L640.94 735.89H644.5L644.5 750.7Z" fill="#A673B8"/>
<path d="M452.5 750.7L452.5 735.67H456.06L456.06 731.86H459.61L459.61 742.68H463.17L463.17 745.69H466.72L466.72 734.06H470.28L470.28 731.86H473.83L473.83 741.68H477.39L477.39 746.69H480.94L480.94 735.67H484.5L484.5 691.02H488.06L488.06 748.29H491.61L491.61 746.69H495.17L495.17 698.14H498.72L498.72 740.68H502.28L502.28 740.68H505.83L505.83 720.84H509.39L509.39 720.84H512.94L512.94 733.86H516.5L516.5 734.67H520.06L520.06 729.25H523.61L523.61 744.69H527.17L527.17 746.69H530.72L530.72 730.06H534.28L534.28 747.69H537.83L537.83 744.69H541.39L541.39 742.68H544.94L544.94 727.25H548.5L548.5 702.6H552.06L552.06 728.25H555.61L555.61 738.67H559.17L559.17 742.68H562.72L562.72 737.87H566.28L566.28 736.67H569.83L569.83 735.67H573.39L573.39 748.9H576.94L576.94 729.25H580.5L580.5 733.86H584.06L584.06 736.67H587.61L587.61 745.69H591.17L591.17 744.69H594.72L594.72 729.25H598.28L598.28 733.86H601.83L601.83 744.69H605.39L605.39 747.69H608.94L608.94 722.84H612.5L612.5 733.06H616.06L616.06 742.68H619.61L619.61 711.82H623.17L623.17 743.08H626.72L626.72 743.08H630.28L630.28 733.86H633.83L633.83 726.45H637.39L637.39 743.68H640.94L640.94 736.67H644.5L644.5 750.7Z" fill="#BB6AAC"/>
<path d="M452.5 750.7L452.5 745.69H456.06L456.06 744.42H459.61L459.61 748.03H463.17L463.17 749.03H466.72L466.72 745.15H470.28L470.28 744.42H473.83L473.83 747.69H477.39L477.39 749.36H480.94L480.94 745.69H484.5L484.5 691.02H488.06L488.06 749.9H491.61L491.61 749.36H495.17L495.17 698.14H498.72L498.72 747.36H502.28L502.28 747.36H505.83L505.83 740.75H509.39L509.39 740.75H512.94L512.94 745.09H516.5L516.5 745.36H520.06L520.06 743.55H523.61L523.61 748.7H527.17L527.17 749.36H530.72L530.72 743.82H534.28L534.28 749.7H537.83L537.83 748.7H541.39L541.39 748.03H544.94L544.94 742.88H548.5L548.5 734.67H552.06L552.06 743.22H555.61L555.61 746.69H559.17L559.17 748.03H562.72L562.72 746.42H566.28L566.28 746.02H569.83L569.83 745.69H573.39L573.39 750.1H576.94L576.94 743.55H580.5L580.5 745.09H584.06L584.06 746.02H587.61L587.61 749.03H591.17L591.17 748.7H594.72L594.72 743.55H598.28L598.28 745.09H601.83L601.83 748.7H605.39L605.39 749.7H608.94L608.94 741.41H612.5L612.5 744.82H616.06L616.06 748.03H619.61L619.61 737.74H623.17L623.17 748.16H626.72L626.72 748.16H630.28L630.28 745.09H633.83L633.83 742.62H637.39L637.39 748.36H640.94L640.94 746.02H644.5L644.5 750.7Z" fill="#CF62A0"/>
<path d="M452.5 750.7L452.5 749.03H456.06L456.06 748.61H459.61L459.61 749.81H463.17L463.17 750.14H466.72L466.72 748.85H470.28L470.28 748.61H473.83L473.83 749.7H477.39L477.39 750.25H480.94L480.94 749.03H484.5L484.5 708.92H488.06L488.06 750.43H491.61L491.61 750.25H495.17L495.17 713.91H498.72L498.72 749.59H502.28L502.28 749.59H505.83L505.83 747.38H509.39L509.39 747.38H512.94L512.94 748.83H516.5L516.5 748.92H520.06L520.06 748.32H523.61L523.61 750.03H527.17L527.17 750.25H530.72L530.72 748.41H534.28L534.28 750.37H537.83L537.83 750.03H541.39L541.39 749.81H544.94L544.94 748.09H548.5L548.5 745.36H552.06L552.06 748.21H555.61L555.61 749.36H559.17L559.17 749.81H562.72L562.72 749.27H566.28L566.28 749.14H569.83L569.83 749.03H573.39L573.39 750.5H576.94L576.94 748.32H580.5L580.5 748.83H584.06L584.06 749.14H587.61L587.61 750.14H591.17L591.17 750.03H594.72L594.72 748.32H598.28L598.28 748.83H601.83L601.83 750.03H605.39L605.39 750.37H608.94L608.94 747.6H612.5L612.5 748.74H616.06L616.06 749.81H619.61L619.61 746.38H623.17L623.17 749.85H626.72L626.72 749.85H630.28L630.28 748.83H633.83L633.83 748.01H637.39L637.39 749.92H640.94L640.94 749.14H644.5L644.5 750.7Z" fill="#DE5D93"/>
<path d="M452.5 750.7L452.5 749.53H456.06L456.06 749.23H459.61L459.61 750.08H463.17L463.17 750.31H466.72L466.72 749.41H470.28L470.28 749.23H473.83L473.83 750H477.39L477.39 750.39H480.94L480.94 749.53H484.5L484.5 708.92H488.06L488.06 750.51H491.61L491.61 750.39H495.17L495.17 713.91H498.72L498.72 749.92H502.28L502.28 749.92H505.83L505.83 748.38H509.39L509.39 748.38H512.94L512.94 749.39H516.5L516.5 749.45H520.06L520.06 749.03H523.61L523.61 750.23H527.17L527.17 750.39H530.72L530.72 749.09H534.28L534.28 750.47H537.83L537.83 750.23H541.39L541.39 750.08H544.94L544.94 748.88H548.5L548.5 746.96H552.06L552.06 748.95H555.61L555.61 749.76H559.17L559.17 750.08H562.72L562.72 749.7H566.28L566.28 749.61H569.83L569.83 749.53H573.39L573.39 750.56H576.94L576.94 749.03H580.5L580.5 749.39H584.06L584.06 749.61H587.61L587.61 750.31H591.17L591.17 750.23H594.72L594.72 749.03H598.28L598.28 749.39H601.83L601.83 750.23H605.39L605.39 750.47H608.94L608.94 748.53H612.5L612.5 749.33H616.06L616.06 750.08H619.61L619.61 747.68H623.17L623.17 750.11H626.72L626.72 750.11H630.28L630.28 749.39H633.83L633.83 748.81H637.39L637.39 750.15H640.94L640.94 749.61H644.5L644.5 750.7Z" fill="#E75F7F"/>
<rect x="452.5" y="750.7" width="192" height="11.3" fill="#EBEBEB"/>
<path d="M454.28 750.7v11.3M457.83 750.7v11.3M461.39 750.7v11.3M464.94 750.7v11.3M468.5 750.7v11.3M472.06 750.7v11.3M475.61 750.7v11.3M479.17 750.7v11.3M482.72 750.7v11.3M486.28 750.7v11.3M489.83 750.7v11.3M493.39 750.7v11.3M496.94 750.7v11.3M500.5 750.7v11.3M504.06 750.7v11.3M507.61 750.7v11.3M511.17 750.7v11.3M514.72 750.7v11.3M518.28 750.7v11.3M521.83 750.7v11.3M525.39 750.7v11.3M528.94 750.7v11.3M532.5 750.7v11.3M536.06 750.7v11.3M539.61 750.7v11.3M543.17 750.7v11.3M546.72 750.7v11.3M550.28 750.7v11.3M553.83 750.7v11.3M557.39 750.7v11.3M560.94 750.7v11.3M564.5 750.7v11.3M568.06 750.7v11.3M571.61 750.7v11.3M575.17 750.7v11.3M578.72 750.7v11.3M582.28 750.7v11.3M585.83 750.7v11.3M589.39 750.7v11.3M592.94 750.7v11.3M596.5 750.7v11.3M600.06 750.7v11.3M603.61 750.7v11.3M607.17 750.7v11.3M610.72 750.7v11.3M614.28 750.7v11.3M617.83 750.7v11.3M621.39 750.7v11.3M624.94 750.7v11.3M628.5 750.7v11.3M632.06 750.7v11.3M635.61 750.7v11.3M639.17 750.7v11.3M642.72 750.7v11.3" stroke="#E2E2E2" stroke-width="0.5"/>
<text x="560.4" y="518.9" font-size="11.7" text-anchor="middle" fill="#1A1A1A">Cluster 3</text>
<text x="55" y="530.2" font-size="8.2" text-anchor="end" fill="#4D4D4D">1.00</text>
<line x1="57.8" y1="528" x2="60.3" y2="528" stroke="#333" stroke-width="0.6"/>
<text x="55" y="585.88" font-size="8.2" text-anchor="end" fill="#4D4D4D">0.75</text>
<line x1="57.8" y1="583.67" x2="60.3" y2="583.67" stroke="#333" stroke-width="0.6"/>
<text x="55" y="641.55" font-size="8.2" text-anchor="end" fill="#4D4D4D">0.50</text>
<line x1="57.8" y1="639.35" x2="60.3" y2="639.35" stroke="#333" stroke-width="0.6"/>
<text x="55" y="697.23" font-size="8.2" text-anchor="end" fill="#4D4D4D">0.25</text>
<line x1="57.8" y1="695.03" x2="60.3" y2="695.03" stroke="#333" stroke-width="0.6"/>
<text x="55" y="752.9" font-size="8.2" text-anchor="end" fill="#4D4D4D">0.00</text>
<line x1="57.8" y1="750.7" x2="60.3" y2="750.7" stroke="#333" stroke-width="0.6"/>
<text transform="translate(25.6 634.5) rotate(-90)" font-size="12" text-anchor="middle">Immune cell ratio</text>
<text x="661.7" y="548.3" font-size="12.5">variable</text>
<rect x="659.3" y="558.7" width="8.9" height="8.55" fill="#EC756C"/>
<line x1="659.3" y1="558.7" x2="668.2" y2="558.7" stroke="#fff" stroke-width="0.6"/>
<text x="671.8" y="564.9" font-size="7.9" fill="#1A1A1A">B cells naive</text>
<rect x="659.3" y="567.25" width="8.9" height="8.55" fill="#E9773F"/>
<line x1="659.3" y1="567.25" x2="668.2" y2="567.25" stroke="#fff" stroke-width="0.6"/>
<text x="671.8" y="573.45" font-size="7.9" fill="#1A1A1A">B cells memory</text>
<rect x="659.3" y="575.8" width="8.9" height="8.55" fill="#D98B17"/>
<line x1="659.3" y1="575.8" x2="668.2" y2="575.8" stroke="#fff" stroke-width="0.6"/>
<text x="671.8" y="582" font-size="7.9" fill="#1A1A1A">Plasma cells</text>
<rect x="659.3" y="584.35" width="8.9" height="8.55" fill="#C4921A"/>
<line x1="659.3" y1="584.35" x2="668.2" y2="584.35" stroke="#fff" stroke-width="0.6"/>
<text x="671.8" y="590.55" font-size="7.9" fill="#1A1A1A">T cells CD8</text>
<rect x="659.3" y="592.9" width="8.9" height="8.55" fill="#AA9E25"/>
<line x1="659.3" y1="592.9" x2="668.2" y2="592.9" stroke="#fff" stroke-width="0.6"/>
<text x="671.8" y="599.1" font-size="7.9" fill="#1A1A1A">T cells CD4 naive</text>
<rect x="659.3" y="601.45" width="8.9" height="8.55" fill="#8CA52C"/>
<line x1="659.3" y1="601.45" x2="668.2" y2="601.45" stroke="#fff" stroke-width="0.6"/>
<text x="671.8" y="607.65" font-size="7.9" fill="#1A1A1A">T cells CD4 memory resting</text>
<rect x="659.3" y="610" width="8.9" height="8.55" fill="#66AC35"/>
<line x1="659.3" y1="610" x2="668.2" y2="610" stroke="#fff" stroke-width="0.6"/>
<text x="671.8" y="616.2" font-size="7.9" fill="#1A1A1A">T cells CD4 memory activated</text>
<rect x="659.3" y="618.55" width="8.9" height="8.55" fill="#2BB04A"/>
<line x1="659.3" y1="618.55" x2="668.2" y2="618.55" stroke="#fff" stroke-width="0.6"/>
<text x="671.8" y="624.75" font-size="7.9" fill="#1A1A1A">T cells follicular helper</text>
<rect x="659.3" y="627.1" width="8.9" height="8.55" fill="#2EB163"/>
<line x1="659.3" y1="627.1" x2="668.2" y2="627.1" stroke="#fff" stroke-width="0.6"/>
<text x="671.8" y="633.3" font-size="7.9" fill="#1A1A1A">T cells regulatory (Tregs)</text>
<rect x="659.3" y="635.65" width="8.9" height="8.55" fill="#2DB286"/>
<line x1="659.3" y1="635.65" x2="668.2" y2="635.65" stroke="#fff" stroke-width="0.6"/>
<text x="671.8" y="641.85" font-size="7.9" fill="#1A1A1A">T cells gamma delta</text>
<rect x="659.3" y="644.2" width="8.9" height="8.55" fill="#22B2A0"/>
<line x1="659.3" y1="644.2" x2="668.2" y2="644.2" stroke="#fff" stroke-width="0.6"/>
<text x="671.8" y="650.4" font-size="7.9" fill="#1A1A1A">NK cells resting</text>
<rect x="659.3" y="652.75" width="8.9" height="8.55" fill="#1DB1B2"/>
<line x1="659.3" y1="652.75" x2="668.2" y2="652.75" stroke="#fff" stroke-width="0.6"/>
<text x="671.8" y="658.95" font-size="7.9" fill="#1A1A1A">NK cells activated</text>
<rect x="659.3" y="661.3" width="8.9" height="8.55" fill="#1EABCB"/>
<line x1="659.3" y1="661.3" x2="668.2" y2="661.3" stroke="#fff" stroke-width="0.6"/>
<text x="671.8" y="667.5" font-size="7.9" fill="#1A1A1A">Monocytes</text>
<rect x="659.3" y="669.85" width="8.9" height="8.55" fill="#2AA4E0"/>
<line x1="659.3" y1="669.85" x2="668.2" y2="669.85" stroke="#fff" stroke-width="0.6"/>
<text x="671.8" y="676.05" font-size="7.9" fill="#1A1A1A">Macrophages M0</text>
<rect x="659.3" y="678.4" width="8.9" height="8.55" fill="#2D93D6"/>
<line x1="659.3" y1="678.4" x2="668.2" y2="678.4" stroke="#fff" stroke-width="0.6"/>
<text x="671.8" y="684.6" font-size="7.9" fill="#1A1A1A">Macrophages M1</text>
<rect x="659.3" y="686.95" width="8.9" height="8.55" fill="#7A8BC8"/>
<line x1="659.3" y1="686.95" x2="668.2" y2="686.95" stroke="#fff" stroke-width="0.6"/>
<text x="671.8" y="693.15" font-size="7.9" fill="#1A1A1A">Macrophages M2</text>
<rect x="659.3" y="695.5" width="8.9" height="8.55" fill="#8E7DC0"/>
<line x1="659.3" y1="695.5" x2="668.2" y2="695.5" stroke="#fff" stroke-width="0.6"/>
<text x="671.8" y="701.7" font-size="7.9" fill="#1A1A1A">Dendritic cells resting</text>
<rect x="659.3" y="704.05" width="8.9" height="8.55" fill="#A673B8"/>
<line x1="659.3" y1="704.05" x2="668.2" y2="704.05" stroke="#fff" stroke-width="0.6"/>
<text x="671.8" y="710.25" font-size="7.9" fill="#1A1A1A">Dendritic cells activated</text>
<rect x="659.3" y="712.6" width="8.9" height="8.55" fill="#BB6AAC"/>
<line x1="659.3" y1="712.6" x2="668.2" y2="712.6" stroke="#fff" stroke-width="0.6"/>
<text x="671.8" y="718.8" font-size="7.9" fill="#1A1A1A">Mast cells resting</text>
<rect x="659.3" y="721.15" width="8.9" height="8.55" fill="#CF62A0"/>
<line x1="659.3" y1="721.15" x2="668.2" y2="721.15" stroke="#fff" stroke-width="0.6"/>
<text x="671.8" y="727.35" font-size="7.9" fill="#1A1A1A">Mast cells activated</text>
<rect x="659.3" y="729.7" width="8.9" height="8.55" fill="#DE5D93"/>
<line x1="659.3" y1="729.7" x2="668.2" y2="729.7" stroke="#fff" stroke-width="0.6"/>
<text x="671.8" y="735.9" font-size="7.9" fill="#1A1A1A">Eosinophils</text>
<rect x="659.3" y="738.25" width="8.9" height="8.55" fill="#E75F7F"/>
<line x1="659.3" y1="738.25" x2="668.2" y2="738.25" stroke="#fff" stroke-width="0.6"/>
<text x="671.8" y="744.45" font-size="7.9" fill="#1A1A1A">Neutrophils</text><text x="1" y="785" font-size="21.5" font-weight="bold">E</text>
<rect x="35.9" y="789.5" width="181.42" height="7.9" fill="#A6C9E1"/>
<rect x="217.32" y="789.5" width="51.03" height="7.9" fill="#ABD38E"/>
<rect x="268.35" y="789.5" width="102.05" height="7.9" fill="#2770AC"/>
<text x="374.3" y="797.9" font-size="7.9" font-weight="bold">TMECluster</text>
<rect x="35.9" y="799.3" width="334.5" height="324.3" fill="#4874AD"/>
<path d="M35.9 799.3h1.94v14.74H35.9zM90.71 799.3h3.83v14.74H90.71zM103.93 799.3h1.94v14.74H103.93zM202.21 799.3h1.94v14.74H202.21zM215.43 799.3h1.94v14.74H215.43zM308.04 799.3h1.94v14.74H308.04zM92.59 814.04h1.94v14.74H92.59zM166.3 828.78h1.94v14.74H166.3zM326.93 917.23h1.94v14.74H326.93zM54.8 931.97h1.94v14.74H54.8zM113.38 931.97h1.94v14.74H113.38zM153.07 931.97h1.94v14.74H153.07zM234.33 931.97h1.94v14.74H234.33zM107.71 946.71h1.94v14.74H107.71zM166.3 946.71h1.94v14.74H166.3zM338.27 946.71h1.94v14.74H338.27zM39.68 961.45h1.94v14.74H39.68zM86.93 961.45h1.94v14.74H86.93zM145.51 961.45h1.94v14.74H145.51zM234.33 961.45h1.94v14.74H234.33zM294.81 961.45h1.94v14.74H294.81zM39.68 976.19h1.94v14.74H39.68zM98.26 976.19h1.94v14.74H98.26zM262.68 976.19h1.94v14.74H262.68zM54.8 990.93h1.94v14.74H54.8zM181.42 990.93h1.94v14.74H181.42zM255.12 990.93h1.94v14.74H255.12zM260.79 990.93h1.94v14.74H260.79zM270.24 990.93h1.94v14.74H270.24zM277.8 990.93h1.94v14.74H277.8zM362.84 990.93h1.94v14.74H362.84zM105.82 1005.67h1.94v14.74H105.82zM137.95 1005.67h1.94v14.74H137.95zM143.62 1005.67h1.94v14.74H143.62zM194.65 1005.67h1.94v14.74H194.65zM207.87 1005.67h1.94v14.74H207.87zM222.99 1005.67h1.94v14.74H222.99zM228.66 1005.67h1.94v14.74H228.66zM260.79 1005.67h1.94v14.74H260.79zM294.81 1005.67h1.94v14.74H294.81zM92.59 1020.41h1.94v14.74H92.59zM120.94 1020.41h1.94v14.74H120.94zM266.46 1020.41h3.83v14.74H266.46zM364.73 1020.41h3.83v14.74H364.73zM54.8 1035.15h1.94v14.74H54.8zM100.15 1035.15h1.94v14.74H100.15zM257.01 1035.15h1.94v14.74H257.01zM102.04 1049.9h1.94v14.74H102.04zM105.82 1049.9h1.94v14.74H105.82zM160.63 1049.9h1.94v14.74H160.63zM222.99 1049.9h1.94v14.74H222.99zM338.27 1049.9h1.94v14.74H338.27zM49.13 1064.64h1.94v14.74H49.13zM66.14 1064.64h1.94v14.74H66.14zM73.7 1064.64h1.94v14.74H73.7zM209.76 1064.64h1.94v14.74H209.76zM315.59 1064.64h1.94v14.74H315.59zM54.8 1079.38h1.94v14.74H54.8zM66.14 1079.38h3.83v14.74H66.14zM85.04 1079.38h1.94v14.74H85.04zM98.26 1079.38h1.94v14.74H98.26zM119.05 1079.38h1.94v14.74H119.05zM122.83 1079.38h3.83v14.74H122.83zM139.84 1079.38h1.94v14.74H139.84zM205.98 1079.38h1.94v14.74H205.98zM232.44 1079.38h1.94v14.74H232.44zM245.67 1079.38h1.94v14.74H245.67zM257.01 1079.38h1.94v14.74H257.01zM262.68 1079.38h1.94v14.74H262.68zM228.66 1094.12h1.94v14.74H228.66zM302.37 1094.12h1.94v14.74H302.37zM308.04 1094.12h1.94v14.74H308.04zM317.48 1094.12h1.94v14.74H317.48zM342.05 1094.12h1.94v14.74H342.05zM366.62 1094.12h1.94v14.74H366.62zM49.13 1108.86h1.94v14.74H49.13zM266.46 1108.86h1.94v14.74H266.46zM291.03 1108.86h1.94v14.74H291.03zM319.37 1108.86h1.94v14.74H319.37zM326.93 1108.86h1.94v14.74H326.93zM330.71 1108.86h1.94v14.74H330.71zM360.95 1108.86h1.94v14.74H360.95z" fill="#8AB8D6"/>
<path d="M37.79 799.3h1.94v14.74H37.79zM41.57 799.3h1.94v14.74H41.57zM62.36 799.3h1.94v14.74H62.36zM86.93 799.3h1.94v14.74H86.93zM217.32 799.3h1.94v14.74H217.32zM275.91 799.3h1.94v14.74H275.91zM366.62 799.3h1.94v14.74H366.62zM103.93 917.23h1.94v14.74H103.93zM154.96 917.23h1.94v14.74H154.96zM251.34 917.23h3.83v14.74H251.34zM236.22 931.97h1.94v14.74H236.22zM245.67 931.97h1.94v14.74H245.67zM302.37 931.97h1.94v14.74H302.37zM62.36 946.71h1.94v14.74H62.36zM77.48 946.71h1.94v14.74H77.48zM154.96 946.71h1.94v14.74H154.96zM296.7 946.71h1.94v14.74H296.7zM304.26 946.71h1.94v14.74H304.26zM351.5 946.71h1.94v14.74H351.5zM56.69 961.45h3.83v14.74H56.69zM81.26 961.45h1.94v14.74H81.26zM115.27 961.45h1.94v14.74H115.27zM177.64 976.19h1.94v14.74H177.64zM187.09 976.19h1.94v14.74H187.09zM224.88 976.19h1.94v14.74H224.88zM35.9 1005.67h1.94v14.74H35.9zM187.09 1005.67h1.94v14.74H187.09zM113.38 1020.41h1.94v14.74H113.38zM171.97 1020.41h1.94v14.74H171.97zM230.55 1020.41h1.94v14.74H230.55zM243.78 1020.41h1.94v14.74H243.78zM281.58 1020.41h1.94v14.74H281.58zM192.76 1035.15h1.94v14.74H192.76zM268.35 1035.15h1.94v14.74H268.35zM340.16 1035.15h1.94v14.74H340.16zM43.46 1049.9h1.94v14.74H43.46zM81.26 1049.9h1.94v14.74H81.26zM117.16 1049.9h1.94v14.74H117.16zM168.19 1049.9h1.94v14.74H168.19zM205.98 1049.9h1.94v14.74H205.98zM230.55 1049.9h1.94v14.74H230.55zM253.23 1049.9h1.94v14.74H253.23zM317.48 1049.9h1.94v14.74H317.48zM321.26 1049.9h1.94v14.74H321.26zM357.17 1049.9h1.94v14.74H357.17zM364.73 1049.9h1.94v14.74H364.73zM368.51 1049.9h1.94v14.74H368.51zM111.49 1064.64h1.94v14.74H111.49zM119.05 1064.64h1.94v14.74H119.05zM137.95 1064.64h1.94v14.74H137.95zM200.32 1064.64h1.94v14.74H200.32zM222.99 1064.64h1.94v14.74H222.99zM251.34 1064.64h3.83v14.74H251.34zM105.82 1079.38h1.94v14.74H105.82zM190.87 1079.38h1.94v14.74H190.87zM207.87 1079.38h1.94v14.74H207.87zM243.78 1079.38h1.94v14.74H243.78zM234.33 1094.12h3.83v14.74H234.33zM309.93 1094.12h1.94v14.74H309.93zM323.15 1094.12h1.94v14.74H323.15zM328.82 1094.12h1.94v14.74H328.82zM351.5 1094.12h1.94v14.74H351.5zM357.17 1094.12h1.94v14.74H357.17zM98.26 1108.86h1.94v14.74H98.26zM202.21 1108.86h1.94v14.74H202.21zM211.65 1108.86h1.94v14.74H211.65zM325.04 1108.86h1.94v14.74H325.04zM345.83 1108.86h1.94v14.74H345.83zM357.17 1108.86h1.94v14.74H357.17zM366.62 1108.86h1.94v14.74H366.62z" fill="#B1D4E7"/>
<path d="M43.46 799.3h1.94v14.74H43.46zM51.02 799.3h1.94v14.74H51.02zM81.26 799.3h1.94v14.74H81.26zM102.04 799.3h1.94v14.74H102.04zM124.72 799.3h1.94v14.74H124.72zM128.5 799.3h1.94v14.74H128.5zM143.62 799.3h1.94v14.74H143.62zM160.63 799.3h1.94v14.74H160.63zM164.41 799.3h1.94v14.74H164.41zM173.86 799.3h3.83v14.74H173.86zM196.54 799.3h1.94v14.74H196.54zM321.26 799.3h1.94v14.74H321.26zM325.04 799.3h1.94v14.74H325.04zM342.05 799.3h1.94v14.74H342.05zM368.51 799.3h1.94v14.74H368.51zM200.32 828.78h1.94v14.74H200.32zM221.1 828.78h1.94v14.74H221.1zM105.82 858.26h1.94v14.74H105.82zM241.89 858.26h1.94v14.74H241.89zM139.84 887.75h1.94v14.74H139.84zM170.08 887.75h1.94v14.74H170.08zM317.48 917.23h1.94v14.74H317.48zM200.32 931.97h1.94v14.74H200.32zM336.38 931.97h1.94v14.74H336.38zM124.72 946.71h1.94v14.74H124.72zM164.41 946.71h1.94v14.74H164.41zM200.32 946.71h1.94v14.74H200.32zM315.59 946.71h1.94v14.74H315.59zM360.95 946.71h1.94v14.74H360.95zM134.17 961.45h1.94v14.74H134.17zM289.14 961.45h1.94v14.74H289.14zM359.06 961.45h1.94v14.74H359.06zM219.21 976.19h1.94v14.74H219.21zM260.79 976.19h1.94v14.74H260.79zM298.59 976.19h1.94v14.74H298.59zM355.28 976.19h1.94v14.74H355.28zM158.74 990.93h1.94v14.74H158.74zM240 990.93h1.94v14.74H240zM73.7 1005.67h1.94v14.74H73.7zM98.26 1005.67h1.94v14.74H98.26zM205.98 1005.67h1.94v14.74H205.98zM224.88 1005.67h1.94v14.74H224.88zM232.44 1005.67h1.94v14.74H232.44zM274.02 1005.67h1.94v14.74H274.02zM323.15 1005.67h1.94v14.74H323.15zM49.13 1020.41h1.94v14.74H49.13zM77.48 1020.41h1.94v14.74H77.48zM88.82 1020.41h1.94v14.74H88.82zM137.95 1020.41h3.83v14.74H137.95zM156.85 1020.41h1.94v14.74H156.85zM308.04 1020.41h1.94v14.74H308.04zM185.2 1035.15h1.94v14.74H185.2zM188.98 1035.15h1.94v14.74H188.98zM262.68 1035.15h1.94v14.74H262.68zM304.26 1035.15h1.94v14.74H304.26zM137.95 1049.9h1.94v14.74H137.95zM141.73 1049.9h1.94v14.74H141.73zM228.66 1049.9h1.94v14.74H228.66zM122.83 1064.64h1.94v14.74H122.83zM177.64 1064.64h3.83v14.74H177.64zM236.22 1064.64h1.94v14.74H236.22zM260.79 1064.64h1.94v14.74H260.79zM266.46 1064.64h1.94v14.74H266.46zM313.71 1064.64h1.94v14.74H313.71zM321.26 1064.64h1.94v14.74H321.26zM359.06 1064.64h1.94v14.74H359.06zM37.79 1079.38h1.94v14.74H37.79zM164.41 1079.38h1.94v14.74H164.41zM179.53 1079.38h1.94v14.74H179.53zM185.2 1079.38h1.94v14.74H185.2zM200.32 1079.38h1.94v14.74H200.32zM241.89 1079.38h1.94v14.74H241.89zM232.44 1094.12h1.94v14.74H232.44zM291.03 1094.12h1.94v14.74H291.03zM330.71 1094.12h1.94v14.74H330.71zM349.61 1094.12h1.94v14.74H349.61zM247.56 1108.86h1.94v14.74H247.56zM298.59 1108.86h1.94v14.74H298.59zM343.94 1108.86h1.94v14.74H343.94z" fill="#7BA8CD"/>
<path d="M45.35 799.3h3.83v14.74H45.35zM77.48 799.3h1.94v14.74H77.48zM88.82 799.3h1.94v14.74H88.82zM94.48 799.3h1.94v14.74H94.48zM188.98 799.3h1.94v14.74H188.98zM211.65 799.3h1.94v14.74H211.65zM281.58 799.3h1.94v14.74H281.58zM340.16 799.3h1.94v14.74H340.16zM343.94 799.3h1.94v14.74H343.94zM349.61 799.3h1.94v14.74H349.61zM238.11 814.04h1.94v14.74H238.11zM126.61 828.78h1.94v14.74H126.61zM289.14 843.52h1.94v14.74H289.14zM355.28 843.52h1.94v14.74H355.28zM228.66 858.26h1.94v14.74H228.66zM51.02 917.23h1.94v14.74H51.02zM168.19 917.23h1.94v14.74H168.19zM234.33 917.23h1.94v14.74H234.33zM240 917.23h1.94v14.74H240zM328.82 917.23h1.94v14.74H328.82zM340.16 917.23h1.94v14.74H340.16zM81.26 931.97h1.94v14.74H81.26zM98.26 931.97h3.83v14.74H98.26zM154.96 931.97h1.94v14.74H154.96zM283.47 931.97h1.94v14.74H283.47zM342.05 931.97h1.94v14.74H342.05zM355.28 931.97h1.94v14.74H355.28zM113.38 946.71h1.94v14.74H113.38zM132.28 946.71h1.94v14.74H132.28zM245.67 946.71h1.94v14.74H245.67zM309.93 946.71h1.94v14.74H309.93zM334.49 946.71h1.94v14.74H334.49zM37.79 961.45h1.94v14.74H37.79zM71.81 961.45h1.94v14.74H71.81zM179.53 961.45h5.72v14.74H179.53zM90.71 976.19h3.83v14.74H90.71zM149.29 976.19h1.94v14.74H149.29zM204.09 976.19h3.83v14.74H204.09zM241.89 976.19h1.94v14.74H241.89zM287.25 976.19h1.94v14.74H287.25zM302.37 976.19h1.94v14.74H302.37zM308.04 976.19h1.94v14.74H308.04zM311.82 976.19h1.94v14.74H311.82zM122.83 990.93h1.94v14.74H122.83zM136.06 990.93h1.94v14.74H136.06zM141.73 990.93h1.94v14.74H141.73zM279.69 990.93h1.94v14.74H279.69zM54.8 1005.67h1.94v14.74H54.8zM60.47 1005.67h1.94v14.74H60.47zM149.29 1005.67h1.94v14.74H149.29zM158.74 1005.67h1.94v14.74H158.74zM258.9 1005.67h1.94v14.74H258.9zM270.24 1005.67h1.94v14.74H270.24zM308.04 1005.67h1.94v14.74H308.04zM321.26 1005.67h1.94v14.74H321.26zM60.47 1020.41h1.94v14.74H60.47zM71.81 1020.41h1.94v14.74H71.81zM79.37 1020.41h3.83v14.74H79.37zM94.48 1020.41h1.94v14.74H94.48zM105.82 1020.41h1.94v14.74H105.82zM117.16 1020.41h1.94v14.74H117.16zM151.18 1020.41h1.94v14.74H151.18zM162.52 1020.41h1.94v14.74H162.52zM196.54 1020.41h3.83v14.74H196.54zM211.65 1020.41h1.94v14.74H211.65zM219.21 1020.41h3.83v14.74H219.21zM236.22 1020.41h1.94v14.74H236.22zM240 1020.41h1.94v14.74H240zM258.9 1020.41h1.94v14.74H258.9zM262.68 1020.41h1.94v14.74H262.68zM274.02 1020.41h1.94v14.74H274.02zM287.25 1020.41h1.94v14.74H287.25zM292.92 1020.41h5.72v14.74H292.92zM306.15 1020.41h1.94v14.74H306.15zM319.37 1020.41h1.94v14.74H319.37zM334.49 1020.41h1.94v14.74H334.49zM355.28 1020.41h1.94v14.74H355.28zM35.9 1035.15h1.94v14.74H35.9zM39.68 1035.15h1.94v14.74H39.68zM45.35 1035.15h1.94v14.74H45.35zM56.69 1035.15h1.94v14.74H56.69zM60.47 1035.15h1.94v14.74H60.47zM64.25 1035.15h1.94v14.74H64.25zM102.04 1035.15h3.83v14.74H102.04zM132.28 1035.15h1.94v14.74H132.28zM170.08 1035.15h3.83v14.74H170.08zM175.75 1035.15h1.94v14.74H175.75zM183.31 1035.15h1.94v14.74H183.31zM187.09 1035.15h1.94v14.74H187.09zM190.87 1035.15h1.94v14.74H190.87zM196.54 1035.15h1.94v14.74H196.54zM207.87 1035.15h1.94v14.74H207.87zM215.43 1035.15h1.94v14.74H215.43zM221.1 1035.15h3.83v14.74H221.1zM232.44 1035.15h1.94v14.74H232.44zM238.11 1035.15h1.94v14.74H238.11zM270.24 1035.15h3.83v14.74H270.24zM291.03 1035.15h1.94v14.74H291.03zM313.71 1035.15h1.94v14.74H313.71zM332.6 1035.15h1.94v14.74H332.6zM349.61 1035.15h1.94v14.74H349.61zM364.73 1035.15h1.94v14.74H364.73zM51.02 1049.9h1.94v14.74H51.02zM54.8 1049.9h3.83v14.74H54.8zM66.14 1049.9h1.94v14.74H66.14zM69.92 1049.9h1.94v14.74H69.92zM88.82 1049.9h3.83v14.74H88.82zM109.6 1049.9h3.83v14.74H109.6zM119.05 1049.9h3.83v14.74H119.05zM153.07 1049.9h1.94v14.74H153.07zM171.97 1049.9h1.94v14.74H171.97zM188.98 1049.9h1.94v14.74H188.98zM194.65 1049.9h1.94v14.74H194.65zM204.09 1049.9h1.94v14.74H204.09zM211.65 1049.9h1.94v14.74H211.65zM236.22 1049.9h1.94v14.74H236.22zM243.78 1049.9h3.83v14.74H243.78zM255.12 1049.9h1.94v14.74H255.12zM264.57 1049.9h1.94v14.74H264.57zM272.13 1049.9h1.94v14.74H272.13zM313.71 1049.9h1.94v14.74H313.71zM325.04 1049.9h1.94v14.74H325.04zM351.5 1049.9h1.94v14.74H351.5zM107.71 1064.64h1.94v14.74H107.71zM113.38 1064.64h1.94v14.74H113.38zM124.72 1064.64h1.94v14.74H124.72zM134.17 1064.64h1.94v14.74H134.17zM153.07 1064.64h1.94v14.74H153.07zM162.52 1064.64h1.94v14.74H162.52zM213.54 1064.64h1.94v14.74H213.54zM224.88 1064.64h1.94v14.74H224.88zM228.66 1064.64h1.94v14.74H228.66zM255.12 1064.64h1.94v14.74H255.12zM262.68 1064.64h1.94v14.74H262.68zM274.02 1064.64h1.94v14.74H274.02zM300.48 1064.64h1.94v14.74H300.48zM309.93 1064.64h1.94v14.74H309.93zM323.15 1064.64h1.94v14.74H323.15zM334.49 1064.64h1.94v14.74H334.49zM345.83 1064.64h1.94v14.74H345.83zM86.93 1079.38h3.83v14.74H86.93zM188.98 1079.38h1.94v14.74H188.98zM238.11 1079.38h1.94v14.74H238.11z" fill="#6592BF"/>
<path d="M49.13 799.3h1.94v14.74H49.13zM69.92 799.3h1.94v14.74H69.92zM96.37 799.3h1.94v14.74H96.37zM119.05 799.3h1.94v14.74H119.05zM136.06 799.3h1.94v14.74H136.06zM147.4 799.3h1.94v14.74H147.4zM170.08 799.3h1.94v14.74H170.08zM285.36 799.3h1.94v14.74H285.36zM294.81 799.3h1.94v14.74H294.81zM315.59 799.3h1.94v14.74H315.59zM51.02 828.78h1.94v14.74H51.02zM109.6 828.78h1.94v14.74H109.6zM117.16 828.78h1.94v14.74H117.16zM255.12 828.78h1.94v14.74H255.12zM325.04 828.78h1.94v14.74H325.04zM45.35 858.26h1.94v14.74H45.35zM58.58 858.26h1.94v14.74H58.58zM103.93 858.26h1.94v14.74H103.93zM275.91 858.26h1.94v14.74H275.91zM126.61 873h1.94v14.74H126.61zM241.89 873h1.94v14.74H241.89zM47.24 887.75h1.94v14.74H47.24zM107.71 887.75h1.94v14.74H107.71zM117.16 887.75h1.94v14.74H117.16zM366.62 887.75h1.94v14.74H366.62zM73.7 902.49h1.94v14.74H73.7zM35.9 917.23h1.94v14.74H35.9zM117.16 917.23h1.94v14.74H117.16zM137.95 917.23h1.94v14.74H137.95zM143.62 917.23h1.94v14.74H143.62zM202.21 917.23h1.94v14.74H202.21zM294.81 917.23h1.94v14.74H294.81zM351.5 917.23h1.94v14.74H351.5zM355.28 917.23h1.94v14.74H355.28zM51.02 931.97h1.94v14.74H51.02zM86.93 931.97h1.94v14.74H86.93zM107.71 931.97h1.94v14.74H107.71zM132.28 931.97h1.94v14.74H132.28zM136.06 931.97h1.94v14.74H136.06zM145.51 931.97h1.94v14.74H145.51zM198.43 931.97h1.94v14.74H198.43zM240 931.97h1.94v14.74H240zM268.35 931.97h1.94v14.74H268.35zM287.25 931.97h3.83v14.74H287.25zM296.7 931.97h1.94v14.74H296.7zM66.14 946.71h1.94v14.74H66.14zM103.93 946.71h1.94v14.74H103.93zM215.43 946.71h1.94v14.74H215.43zM255.12 946.71h1.94v14.74H255.12zM264.57 946.71h1.94v14.74H264.57zM319.37 946.71h1.94v14.74H319.37zM326.93 946.71h1.94v14.74H326.93zM336.38 946.71h1.94v14.74H336.38zM347.72 946.71h1.94v14.74H347.72zM355.28 946.71h1.94v14.74H355.28zM54.8 961.45h1.94v14.74H54.8zM170.08 961.45h1.94v14.74H170.08zM187.09 961.45h1.94v14.74H187.09zM190.87 961.45h1.94v14.74H190.87zM196.54 961.45h1.94v14.74H196.54zM236.22 961.45h1.94v14.74H236.22zM243.78 961.45h1.94v14.74H243.78zM277.8 961.45h1.94v14.74H277.8zM300.48 961.45h1.94v14.74H300.48zM308.04 961.45h3.83v14.74H308.04zM313.71 961.45h1.94v14.74H313.71zM321.26 961.45h1.94v14.74H321.26zM328.82 961.45h3.83v14.74H328.82zM336.38 961.45h1.94v14.74H336.38zM60.47 976.19h1.94v14.74H60.47zM107.71 976.19h1.94v14.74H107.71zM111.49 976.19h1.94v14.74H111.49zM126.61 976.19h1.94v14.74H126.61zM151.18 976.19h1.94v14.74H151.18zM162.52 976.19h3.83v14.74H162.52zM234.33 976.19h1.94v14.74H234.33zM251.34 976.19h1.94v14.74H251.34zM275.91 976.19h1.94v14.74H275.91zM315.59 976.19h1.94v14.74H315.59zM323.15 976.19h1.94v14.74H323.15zM52.91 990.93h1.94v14.74H52.91zM64.25 990.93h1.94v14.74H64.25zM102.04 990.93h1.94v14.74H102.04zM107.71 990.93h1.94v14.74H107.71zM120.94 990.93h1.94v14.74H120.94zM162.52 990.93h1.94v14.74H162.52zM198.43 990.93h1.94v14.74H198.43zM202.21 990.93h1.94v14.74H202.21zM262.68 990.93h1.94v14.74H262.68zM272.13 990.93h1.94v14.74H272.13zM296.7 990.93h1.94v14.74H296.7zM308.04 990.93h1.94v14.74H308.04zM319.37 990.93h1.94v14.74H319.37zM332.6 990.93h1.94v14.74H332.6zM342.05 990.93h1.94v14.74H342.05zM347.72 990.93h1.94v14.74H347.72zM77.48 1005.67h1.94v14.74H77.48zM285.36 1005.67h1.94v14.74H285.36zM311.82 1005.67h1.94v14.74H311.82zM326.93 1005.67h1.94v14.74H326.93zM45.35 1020.41h1.94v14.74H45.35zM73.7 1020.41h1.94v14.74H73.7zM96.37 1020.41h1.94v14.74H96.37zM109.6 1020.41h1.94v14.74H109.6zM119.05 1020.41h1.94v14.74H119.05zM134.17 1020.41h3.83v14.74H134.17zM147.4 1020.41h1.94v14.74H147.4zM154.96 1020.41h1.94v14.74H154.96zM164.41 1020.41h3.83v14.74H164.41zM192.76 1020.41h1.94v14.74H192.76zM205.98 1020.41h1.94v14.74H205.98zM215.43 1020.41h1.94v14.74H215.43zM228.66 1020.41h1.94v14.74H228.66zM251.34 1020.41h1.94v14.74H251.34zM277.8 1020.41h1.94v14.74H277.8zM283.47 1020.41h1.94v14.74H283.47zM289.14 1020.41h1.94v14.74H289.14zM309.93 1020.41h1.94v14.74H309.93zM326.93 1020.41h1.94v14.74H326.93zM332.6 1020.41h1.94v14.74H332.6zM338.27 1020.41h1.94v14.74H338.27zM342.05 1020.41h1.94v14.74H342.05zM345.83 1020.41h1.94v14.74H345.83zM41.57 1035.15h1.94v14.74H41.57zM49.13 1035.15h1.94v14.74H49.13zM66.14 1035.15h3.83v14.74H66.14zM79.37 1035.15h1.94v14.74H79.37zM85.04 1035.15h1.94v14.74H85.04zM88.82 1035.15h1.94v14.74H88.82zM92.59 1035.15h3.83v14.74H92.59zM119.05 1035.15h1.94v14.74H119.05zM126.61 1035.15h1.94v14.74H126.61zM136.06 1035.15h1.94v14.74H136.06zM204.09 1035.15h1.94v14.74H204.09zM236.22 1035.15h1.94v14.74H236.22zM247.56 1035.15h1.94v14.74H247.56zM255.12 1035.15h1.94v14.74H255.12zM294.81 1035.15h1.94v14.74H294.81zM309.93 1035.15h1.94v14.74H309.93zM323.15 1035.15h1.94v14.74H323.15zM330.71 1035.15h1.94v14.74H330.71zM353.39 1035.15h1.94v14.74H353.39zM366.62 1035.15h1.94v14.74H366.62zM35.9 1049.9h1.94v14.74H35.9zM47.24 1049.9h3.83v14.74H47.24zM94.48 1049.9h3.83v14.74H94.48zM100.15 1049.9h1.94v14.74H100.15zM132.28 1049.9h1.94v14.74H132.28zM151.18 1049.9h1.94v14.74H151.18zM162.52 1049.9h1.94v14.74H162.52zM170.08 1049.9h1.94v14.74H170.08zM175.75 1049.9h5.72v14.74H175.75zM209.76 1049.9h1.94v14.74H209.76zM221.1 1049.9h1.94v14.74H221.1zM226.77 1049.9h1.94v14.74H226.77zM240 1049.9h1.94v14.74H240zM262.68 1049.9h1.94v14.74H262.68zM279.69 1049.9h1.94v14.74H279.69zM283.47 1049.9h1.94v14.74H283.47zM298.59 1049.9h1.94v14.74H298.59zM326.93 1049.9h1.94v14.74H326.93zM330.71 1049.9h1.94v14.74H330.71zM334.49 1049.9h1.94v14.74H334.49zM345.83 1049.9h3.83v14.74H345.83zM353.39 1049.9h1.94v14.74H353.39zM366.62 1049.9h1.94v14.74H366.62zM51.02 1064.64h1.94v14.74H51.02zM56.69 1064.64h1.94v14.74H56.69zM68.03 1064.64h3.83v14.74H68.03zM75.59 1064.64h1.94v14.74H75.59zM83.15 1064.64h3.83v14.74H83.15zM100.15 1064.64h5.72v14.74H100.15zM109.6 1064.64h1.94v14.74H109.6zM194.65 1064.64h1.94v14.74H194.65zM226.77 1064.64h1.94v14.74H226.77zM234.33 1064.64h1.94v14.74H234.33zM311.82 1064.64h1.94v14.74H311.82zM351.5 1064.64h1.94v14.74H351.5zM366.62 1064.64h1.94v14.74H366.62zM111.49 1079.38h1.94v14.74H111.49zM222.99 1079.38h1.94v14.74H222.99zM251.34 1079.38h1.94v14.74H251.34zM266.46 1079.38h1.94v14.74H266.46zM238.11 1094.12h1.94v14.74H238.11zM300.48 1094.12h1.94v14.74H300.48zM275.91 1108.86h1.94v14.74H275.91z" fill="#5E8ABB"/>
<path d="M52.91 799.3h1.94v14.74H52.91zM64.25 799.3h1.94v14.74H64.25zM83.15 799.3h1.94v14.74H83.15zM113.38 799.3h1.94v14.74H113.38zM117.16 799.3h1.94v14.74H117.16zM158.74 799.3h1.94v14.74H158.74zM192.76 799.3h1.94v14.74H192.76zM207.87 799.3h1.94v14.74H207.87zM213.54 799.3h1.94v14.74H213.54zM224.88 799.3h1.94v14.74H224.88zM274.02 799.3h1.94v14.74H274.02zM306.15 799.3h1.94v14.74H306.15zM309.93 799.3h1.94v14.74H309.93zM319.37 799.3h1.94v14.74H319.37zM338.27 799.3h1.94v14.74H338.27zM347.72 799.3h1.94v14.74H347.72zM228.66 828.78h1.94v14.74H228.66zM43.46 858.26h1.94v14.74H43.46zM60.47 858.26h1.94v14.74H60.47zM368.51 858.26h1.94v14.74H368.51zM245.67 873h1.94v14.74H245.67zM226.77 931.97h1.94v14.74H226.77zM258.9 931.97h1.94v14.74H258.9zM364.73 931.97h1.94v14.74H364.73zM52.91 946.71h1.94v14.74H52.91zM120.94 961.45h1.94v14.74H120.94zM175.75 961.45h1.94v14.74H175.75zM207.87 961.45h1.94v14.74H207.87zM240 961.45h1.94v14.74H240zM291.03 961.45h1.94v14.74H291.03zM173.86 990.93h1.94v14.74H173.86zM306.15 990.93h1.94v14.74H306.15zM330.71 990.93h1.94v14.74H330.71zM103.93 1005.67h1.94v14.74H103.93zM247.56 1005.67h1.94v14.74H247.56zM68.03 1020.41h1.94v14.74H68.03zM202.21 1020.41h1.94v14.74H202.21zM285.36 1020.41h1.94v14.74H285.36zM291.03 1020.41h1.94v14.74H291.03zM47.24 1035.15h1.94v14.74H47.24zM205.98 1035.15h1.94v14.74H205.98zM240 1035.15h1.94v14.74H240zM285.36 1035.15h1.94v14.74H285.36zM362.84 1035.15h1.94v14.74H362.84zM58.58 1049.9h1.94v14.74H58.58zM185.2 1049.9h1.94v14.74H185.2zM238.11 1049.9h1.94v14.74H238.11zM306.15 1049.9h1.94v14.74H306.15zM342.05 1049.9h1.94v14.74H342.05zM362.84 1064.64h1.94v14.74H362.84zM69.92 1079.38h3.83v14.74H69.92zM79.37 1079.38h1.94v14.74H79.37zM90.71 1079.38h1.94v14.74H90.71zM109.6 1079.38h1.94v14.74H109.6zM117.16 1079.38h1.94v14.74H117.16zM134.17 1079.38h1.94v14.74H134.17zM147.4 1079.38h1.94v14.74H147.4zM156.85 1079.38h1.94v14.74H156.85zM171.97 1079.38h3.83v14.74H171.97zM194.65 1079.38h1.94v14.74H194.65zM234.33 1079.38h1.94v14.74H234.33zM240 1079.38h1.94v14.74H240zM251.34 1094.12h1.94v14.74H251.34zM294.81 1094.12h1.94v14.74H294.81zM298.59 1094.12h1.94v14.74H298.59zM340.16 1094.12h1.94v14.74H340.16zM360.95 1094.12h1.94v14.74H360.95zM109.6 1108.86h1.94v14.74H109.6zM124.72 1108.86h1.94v14.74H124.72zM222.99 1108.86h1.94v14.74H222.99zM243.78 1108.86h1.94v14.74H243.78zM257.01 1108.86h1.94v14.74H257.01zM272.13 1108.86h1.94v14.74H272.13zM281.58 1108.86h1.94v14.74H281.58zM292.92 1108.86h1.94v14.74H292.92zM304.26 1108.86h1.94v14.74H304.26zM317.48 1108.86h1.94v14.74H317.48zM336.38 1108.86h1.94v14.74H336.38zM340.16 1108.86h1.94v14.74H340.16z" fill="#99C4DE"/>
<path d="M54.8 799.3h3.83v14.74H54.8zM73.7 799.3h1.94v14.74H73.7zM100.15 799.3h1.94v14.74H100.15zM156.85 799.3h1.94v14.74H156.85zM171.97 799.3h1.94v14.74H171.97zM179.53 799.3h1.94v14.74H179.53zM194.65 799.3h1.94v14.74H194.65zM198.43 799.3h1.94v14.74H198.43zM268.35 799.3h1.94v14.74H268.35zM300.48 799.3h1.94v14.74H300.48zM351.5 799.3h1.94v14.74H351.5zM360.95 799.3h5.72v14.74H360.95zM241.89 814.04h1.94v14.74H241.89zM69.92 828.78h1.94v14.74H69.92zM251.34 828.78h1.94v14.74H251.34zM187.09 843.52h1.94v14.74H187.09zM213.54 858.26h1.94v14.74H213.54zM37.79 917.23h1.94v14.74H37.79zM77.48 917.23h1.94v14.74H77.48zM113.38 917.23h1.94v14.74H113.38zM221.1 917.23h1.94v14.74H221.1zM357.17 917.23h5.72v14.74H357.17zM56.69 931.97h1.94v14.74H56.69zM64.25 931.97h1.94v14.74H64.25zM103.93 931.97h1.94v14.74H103.93zM170.08 931.97h1.94v14.74H170.08zM194.65 931.97h1.94v14.74H194.65zM230.55 931.97h1.94v14.74H230.55zM94.48 946.71h1.94v14.74H94.48zM139.84 946.71h1.94v14.74H139.84zM204.09 946.71h1.94v14.74H204.09zM353.39 946.71h1.94v14.74H353.39zM132.28 961.45h1.94v14.74H132.28zM222.99 961.45h1.94v14.74H222.99zM279.69 961.45h1.94v14.74H279.69zM56.69 976.19h1.94v14.74H56.69zM83.15 990.93h1.94v14.74H83.15zM100.15 990.93h1.94v14.74H100.15zM207.87 990.93h1.94v14.74H207.87zM221.1 990.93h1.94v14.74H221.1zM253.23 990.93h1.94v14.74H253.23zM336.38 990.93h1.94v14.74H336.38zM177.64 1005.67h1.94v14.74H177.64zM69.92 1020.41h1.94v14.74H69.92zM83.15 1020.41h1.94v14.74H83.15zM52.91 1035.15h1.94v14.74H52.91zM162.52 1035.15h1.94v14.74H162.52zM219.21 1035.15h1.94v14.74H219.21zM302.37 1035.15h1.94v14.74H302.37zM338.27 1035.15h1.94v14.74H338.27zM52.91 1049.9h1.94v14.74H52.91zM68.03 1049.9h1.94v14.74H68.03zM200.32 1049.9h1.94v14.74H200.32zM274.02 1049.9h1.94v14.74H274.02zM332.6 1049.9h1.94v14.74H332.6zM362.84 1049.9h1.94v14.74H362.84zM90.71 1064.64h1.94v14.74H90.71zM115.27 1064.64h1.94v14.74H115.27zM264.57 1064.64h1.94v14.74H264.57zM268.35 1064.64h1.94v14.74H268.35zM298.59 1064.64h1.94v14.74H298.59zM325.04 1064.64h1.94v14.74H325.04zM347.72 1064.64h1.94v14.74H347.72zM43.46 1079.38h1.94v14.74H43.46zM56.69 1079.38h1.94v14.74H56.69zM77.48 1079.38h1.94v14.74H77.48zM83.15 1079.38h1.94v14.74H83.15zM92.59 1079.38h3.83v14.74H92.59zM102.04 1079.38h3.83v14.74H102.04zM143.62 1079.38h1.94v14.74H143.62zM149.29 1079.38h1.94v14.74H149.29zM166.3 1079.38h1.94v14.74H166.3zM175.75 1079.38h1.94v14.74H175.75zM202.21 1079.38h1.94v14.74H202.21zM270.24 1094.12h1.94v14.74H270.24zM338.27 1094.12h1.94v14.74H338.27zM345.83 1094.12h1.94v14.74H345.83zM368.51 1094.12h1.94v14.74H368.51zM249.45 1108.86h1.94v14.74H249.45zM274.02 1108.86h1.94v14.74H274.02zM277.8 1108.86h1.94v14.74H277.8zM351.5 1108.86h3.83v14.74H351.5z" fill="#91BFDB"/>
<path d="M58.58 799.3h3.83v14.74H58.58zM139.84 799.3h1.94v14.74H139.84zM205.98 799.3h1.94v14.74H205.98zM313.71 799.3h1.94v14.74H313.71zM35.9 814.04h3.83v14.74H35.9zM52.91 814.04h3.83v14.74H52.91zM58.58 814.04h1.94v14.74H58.58zM64.25 814.04h5.72v14.74H64.25zM71.81 814.04h1.94v14.74H71.81zM79.37 814.04h1.94v14.74H79.37zM103.93 814.04h1.94v14.74H103.93zM107.71 814.04h5.72v14.74H107.71zM115.27 814.04h1.94v14.74H115.27zM119.05 814.04h1.94v14.74H119.05zM128.5 814.04h3.83v14.74H128.5zM134.17 814.04h1.94v14.74H134.17zM151.18 814.04h1.94v14.74H151.18zM158.74 814.04h1.94v14.74H158.74zM162.52 814.04h1.94v14.74H162.52zM179.53 814.04h1.94v14.74H179.53zM183.31 814.04h3.83v14.74H183.31zM188.98 814.04h3.83v14.74H188.98zM196.54 814.04h5.72v14.74H196.54zM219.21 814.04h3.83v14.74H219.21zM232.44 814.04h1.94v14.74H232.44zM236.22 814.04h1.94v14.74H236.22zM240 814.04h1.94v14.74H240zM245.67 814.04h3.83v14.74H245.67zM253.23 814.04h1.94v14.74H253.23zM266.46 814.04h3.83v14.74H266.46zM275.91 814.04h3.83v14.74H275.91zM291.03 814.04h3.83v14.74H291.03zM302.37 814.04h1.94v14.74H302.37zM306.15 814.04h3.83v14.74H306.15zM321.26 814.04h3.83v14.74H321.26zM328.82 814.04h3.83v14.74H328.82zM340.16 814.04h1.94v14.74H340.16zM345.83 814.04h1.94v14.74H345.83zM359.06 814.04h11.39v14.74H359.06zM41.57 828.78h1.94v14.74H41.57zM52.91 828.78h1.94v14.74H52.91zM56.69 828.78h5.72v14.74H56.69zM64.25 828.78h1.94v14.74H64.25zM71.81 828.78h11.39v14.74H71.81zM85.04 828.78h1.94v14.74H85.04zM88.82 828.78h1.94v14.74H88.82zM92.59 828.78h1.94v14.74H92.59zM98.26 828.78h1.94v14.74H98.26zM102.04 828.78h3.83v14.74H102.04zM115.27 828.78h1.94v14.74H115.27zM119.05 828.78h1.94v14.74H119.05zM136.06 828.78h1.94v14.74H136.06zM145.51 828.78h1.94v14.74H145.51zM149.29 828.78h1.94v14.74H149.29zM154.96 828.78h1.94v14.74H154.96zM162.52 828.78h3.83v14.74H162.52zM173.86 828.78h1.94v14.74H173.86zM179.53 828.78h7.61v14.74H179.53zM192.76 828.78h1.94v14.74H192.76zM207.87 828.78h5.72v14.74H207.87zM215.43 828.78h5.72v14.74H215.43zM222.99 828.78h1.94v14.74H222.99zM226.77 828.78h1.94v14.74H226.77zM240 828.78h1.94v14.74H240zM243.78 828.78h1.94v14.74H243.78zM264.57 828.78h1.94v14.74H264.57zM272.13 828.78h1.94v14.74H272.13zM279.69 828.78h1.94v14.74H279.69zM294.81 828.78h1.94v14.74H294.81zM298.59 828.78h1.94v14.74H298.59zM304.26 828.78h1.94v14.74H304.26zM317.48 828.78h3.83v14.74H317.48zM323.15 828.78h1.94v14.74H323.15zM338.27 828.78h3.83v14.74H338.27zM345.83 828.78h3.83v14.74H345.83zM353.39 828.78h1.94v14.74H353.39zM362.84 828.78h1.94v14.74H362.84zM366.62 828.78h1.94v14.74H366.62zM35.9 843.52h1.94v14.74H35.9zM39.68 843.52h1.94v14.74H39.68zM47.24 843.52h3.83v14.74H47.24zM52.91 843.52h1.94v14.74H52.91zM58.58 843.52h3.83v14.74H58.58zM66.14 843.52h1.94v14.74H66.14zM69.92 843.52h1.94v14.74H69.92zM77.48 843.52h3.83v14.74H77.48zM83.15 843.52h1.94v14.74H83.15zM92.59 843.52h1.94v14.74H92.59zM100.15 843.52h1.94v14.74H100.15zM103.93 843.52h1.94v14.74H103.93zM109.6 843.52h1.94v14.74H109.6zM115.27 843.52h9.5v14.74H115.27zM130.39 843.52h1.94v14.74H130.39zM143.62 843.52h1.94v14.74H143.62zM147.4 843.52h1.94v14.74H147.4zM153.07 843.52h1.94v14.74H153.07zM162.52 843.52h7.61v14.74H162.52zM173.86 843.52h5.72v14.74H173.86zM181.42 843.52h1.94v14.74H181.42zM185.2 843.52h1.94v14.74H185.2zM190.87 843.52h1.94v14.74H190.87zM196.54 843.52h1.94v14.74H196.54zM202.21 843.52h1.94v14.74H202.21zM209.76 843.52h1.94v14.74H209.76zM213.54 843.52h1.94v14.74H213.54zM222.99 843.52h1.94v14.74H222.99zM240 843.52h1.94v14.74H240zM247.56 843.52h7.61v14.74H247.56zM258.9 843.52h1.94v14.74H258.9zM262.68 843.52h1.94v14.74H262.68zM268.35 843.52h1.94v14.74H268.35zM272.13 843.52h1.94v14.74H272.13zM275.91 843.52h1.94v14.74H275.91zM281.58 843.52h1.94v14.74H281.58zM285.36 843.52h1.94v14.74H285.36zM298.59 843.52h1.94v14.74H298.59zM302.37 843.52h1.94v14.74H302.37zM313.71 843.52h1.94v14.74H313.71zM334.49 843.52h1.94v14.74H334.49zM345.83 843.52h1.94v14.74H345.83zM351.5 843.52h1.94v14.74H351.5zM357.17 843.52h3.83v14.74H357.17zM364.73 843.52h1.94v14.74H364.73zM37.79 858.26h1.94v14.74H37.79zM41.57 858.26h1.94v14.74H41.57zM47.24 858.26h1.94v14.74H47.24zM51.02 858.26h1.94v14.74H51.02zM62.36 858.26h5.72v14.74H62.36zM69.92 858.26h3.83v14.74H69.92zM75.59 858.26h3.83v14.74H75.59zM83.15 858.26h1.94v14.74H83.15zM86.93 858.26h7.61v14.74H86.93zM96.37 858.26h3.83v14.74H96.37zM113.38 858.26h1.94v14.74H113.38zM126.61 858.26h1.94v14.74H126.61zM132.28 858.26h1.94v14.74H132.28zM137.95 858.26h1.94v14.74H137.95zM143.62 858.26h1.94v14.74H143.62zM151.18 858.26h5.72v14.74H151.18zM175.75 858.26h7.61v14.74H175.75zM185.2 858.26h5.72v14.74H185.2zM192.76 858.26h1.94v14.74H192.76zM207.87 858.26h1.94v14.74H207.87zM211.65 858.26h1.94v14.74H211.65zM221.1 858.26h1.94v14.74H221.1zM230.55 858.26h5.72v14.74H230.55zM249.45 858.26h1.94v14.74H249.45zM253.23 858.26h1.94v14.74H253.23zM262.68 858.26h7.61v14.74H262.68zM272.13 858.26h1.94v14.74H272.13zM285.36 858.26h1.94v14.74H285.36zM309.93 858.26h1.94v14.74H309.93zM315.59 858.26h1.94v14.74H315.59zM321.26 858.26h1.94v14.74H321.26zM326.93 858.26h1.94v14.74H326.93zM336.38 858.26h3.83v14.74H336.38zM342.05 858.26h1.94v14.74H342.05zM359.06 858.26h1.94v14.74H359.06zM362.84 858.26h3.83v14.74H362.84zM37.79 873h1.94v14.74H37.79zM41.57 873h3.83v14.74H41.57zM47.24 873h3.83v14.74H47.24zM56.69 873h1.94v14.74H56.69zM60.47 873h3.83v14.74H60.47zM75.59 873h1.94v14.74H75.59zM81.26 873h1.94v14.74H81.26zM85.04 873h1.94v14.74H85.04zM90.71 873h1.94v14.74H90.71zM100.15 873h3.83v14.74H100.15zM111.49 873h1.94v14.74H111.49zM117.16 873h1.94v14.74H117.16zM120.94 873h3.83v14.74H120.94zM132.28 873h1.94v14.74H132.28zM136.06 873h5.72v14.74H136.06zM143.62 873h3.83v14.74H143.62zM153.07 873h3.83v14.74H153.07zM160.63 873h1.94v14.74H160.63zM166.3 873h3.83v14.74H166.3zM179.53 873h1.94v14.74H179.53zM196.54 873h1.94v14.74H196.54zM204.09 873h1.94v14.74H204.09zM213.54 873h1.94v14.74H213.54zM221.1 873h3.83v14.74H221.1zM226.77 873h3.83v14.74H226.77zM232.44 873h1.94v14.74H232.44zM247.56 873h1.94v14.74H247.56zM253.23 873h1.94v14.74H253.23zM257.01 873h1.94v14.74H257.01zM262.68 873h3.83v14.74H262.68zM268.35 873h3.83v14.74H268.35zM274.02 873h1.94v14.74H274.02zM277.8 873h1.94v14.74H277.8zM281.58 873h1.94v14.74H281.58zM287.25 873h1.94v14.74H287.25zM294.81 873h1.94v14.74H294.81zM300.48 873h11.39v14.74H300.48zM317.48 873h1.94v14.74H317.48zM321.26 873h5.72v14.74H321.26zM328.82 873h3.83v14.74H328.82zM343.94 873h1.94v14.74H343.94zM349.61 873h1.94v14.74H349.61zM360.95 873h3.83v14.74H360.95zM37.79 887.75h1.94v14.74H37.79zM41.57 887.75h1.94v14.74H41.57zM49.13 887.75h3.83v14.74H49.13zM56.69 887.75h1.94v14.74H56.69zM60.47 887.75h3.83v14.74H60.47zM68.03 887.75h1.94v14.74H68.03zM71.81 887.75h3.83v14.74H71.81zM77.48 887.75h1.94v14.74H77.48zM86.93 887.75h1.94v14.74H86.93zM90.71 887.75h1.94v14.74H90.71zM115.27 887.75h1.94v14.74H115.27zM119.05 887.75h1.94v14.74H119.05zM124.72 887.75h1.94v14.74H124.72zM128.5 887.75h3.83v14.74H128.5zM134.17 887.75h3.83v14.74H134.17zM145.51 887.75h5.72v14.74H145.51zM154.96 887.75h3.83v14.74H154.96zM164.41 887.75h1.94v14.74H164.41zM168.19 887.75h1.94v14.74H168.19zM181.42 887.75h1.94v14.74H181.42zM185.2 887.75h1.94v14.74H185.2zM190.87 887.75h1.94v14.74H190.87zM198.43 887.75h3.83v14.74H198.43zM204.09 887.75h3.83v14.74H204.09zM211.65 887.75h1.94v14.74H211.65zM219.21 887.75h1.94v14.74H219.21zM226.77 887.75h5.72v14.74H226.77zM240 887.75h3.83v14.74H240zM251.34 887.75h1.94v14.74H251.34zM258.9 887.75h3.83v14.74H258.9zM268.35 887.75h1.94v14.74H268.35zM274.02 887.75h1.94v14.74H274.02zM277.8 887.75h3.83v14.74H277.8zM283.47 887.75h3.83v14.74H283.47zM289.14 887.75h1.94v14.74H289.14zM309.93 887.75h1.94v14.74H309.93zM325.04 887.75h1.94v14.74H325.04zM332.6 887.75h1.94v14.74H332.6zM338.27 887.75h1.94v14.74H338.27zM353.39 887.75h5.72v14.74H353.39zM364.73 887.75h1.94v14.74H364.73zM41.57 902.49h1.94v14.74H41.57zM58.58 902.49h1.94v14.74H58.58zM64.25 902.49h1.94v14.74H64.25zM81.26 902.49h3.83v14.74H81.26zM103.93 902.49h1.94v14.74H103.93zM109.6 902.49h1.94v14.74H109.6zM113.38 902.49h5.72v14.74H113.38zM124.72 902.49h1.94v14.74H124.72zM141.73 902.49h1.94v14.74H141.73zM145.51 902.49h1.94v14.74H145.51zM149.29 902.49h1.94v14.74H149.29zM160.63 902.49h1.94v14.74H160.63zM168.19 902.49h3.83v14.74H168.19zM181.42 902.49h1.94v14.74H181.42zM194.65 902.49h5.72v14.74H194.65zM207.87 902.49h7.61v14.74H207.87zM217.32 902.49h1.94v14.74H217.32zM221.1 902.49h1.94v14.74H221.1zM224.88 902.49h1.94v14.74H224.88zM232.44 902.49h1.94v14.74H232.44zM253.23 902.49h1.94v14.74H253.23zM262.68 902.49h1.94v14.74H262.68zM266.46 902.49h1.94v14.74H266.46zM285.36 902.49h3.83v14.74H285.36zM291.03 902.49h1.94v14.74H291.03zM294.81 902.49h1.94v14.74H294.81zM298.59 902.49h3.83v14.74H298.59zM323.15 902.49h1.94v14.74H323.15zM326.93 902.49h3.83v14.74H326.93zM332.6 902.49h3.83v14.74H332.6zM338.27 902.49h3.83v14.74H338.27zM343.94 902.49h1.94v14.74H343.94zM347.72 902.49h1.94v14.74H347.72zM353.39 902.49h1.94v14.74H353.39zM359.06 902.49h1.94v14.74H359.06zM362.84 902.49h1.94v14.74H362.84zM366.62 902.49h1.94v14.74H366.62zM39.68 917.23h1.94v14.74H39.68zM45.35 917.23h1.94v14.74H45.35zM52.91 917.23h5.72v14.74H52.91zM60.47 917.23h1.94v14.74H60.47zM68.03 917.23h1.94v14.74H68.03zM75.59 917.23h1.94v14.74H75.59zM81.26 917.23h1.94v14.74H81.26zM88.82 917.23h1.94v14.74H88.82zM134.17 917.23h1.94v14.74H134.17zM141.73 917.23h1.94v14.74H141.73zM145.51 917.23h1.94v14.74H145.51zM164.41 917.23h1.94v14.74H164.41zM188.98 917.23h1.94v14.74H188.98zM217.32 917.23h3.83v14.74H217.32zM224.88 917.23h7.61v14.74H224.88zM238.11 917.23h1.94v14.74H238.11zM241.89 917.23h3.83v14.74H241.89zM247.56 917.23h3.83v14.74H247.56zM260.79 917.23h1.94v14.74H260.79zM264.57 917.23h1.94v14.74H264.57zM287.25 917.23h1.94v14.74H287.25zM291.03 917.23h1.94v14.74H291.03zM296.7 917.23h1.94v14.74H296.7zM300.48 917.23h1.94v14.74H300.48zM306.15 917.23h1.94v14.74H306.15zM336.38 917.23h1.94v14.74H336.38zM342.05 917.23h3.83v14.74H342.05zM353.39 917.23h1.94v14.74H353.39zM362.84 917.23h3.83v14.74H362.84zM35.9 931.97h1.94v14.74H35.9zM39.68 931.97h1.94v14.74H39.68zM45.35 931.97h3.83v14.74H45.35zM58.58 931.97h1.94v14.74H58.58zM62.36 931.97h1.94v14.74H62.36zM88.82 931.97h1.94v14.74H88.82zM96.37 931.97h1.94v14.74H96.37zM111.49 931.97h1.94v14.74H111.49zM117.16 931.97h1.94v14.74H117.16zM139.84 931.97h3.83v14.74H139.84zM160.63 931.97h1.94v14.74H160.63zM168.19 931.97h1.94v14.74H168.19zM173.86 931.97h3.83v14.74H173.86zM181.42 931.97h3.83v14.74H181.42zM188.98 931.97h3.83v14.74H188.98zM196.54 931.97h1.94v14.74H196.54zM202.21 931.97h3.83v14.74H202.21zM217.32 931.97h1.94v14.74H217.32zM222.99 931.97h1.94v14.74H222.99zM238.11 931.97h1.94v14.74H238.11zM241.89 931.97h3.83v14.74H241.89zM257.01 931.97h1.94v14.74H257.01zM266.46 931.97h1.94v14.74H266.46zM270.24 931.97h3.83v14.74H270.24zM275.91 931.97h1.94v14.74H275.91zM281.58 931.97h1.94v14.74H281.58zM285.36 931.97h1.94v14.74H285.36zM300.48 931.97h1.94v14.74H300.48zM311.82 931.97h3.83v14.74H311.82zM321.26 931.97h1.94v14.74H321.26zM326.93 931.97h3.83v14.74H326.93zM334.49 931.97h1.94v14.74H334.49zM345.83 931.97h3.83v14.74H345.83zM353.39 931.97h1.94v14.74H353.39zM357.17 931.97h7.61v14.74H357.17zM54.8 946.71h1.94v14.74H54.8zM68.03 946.71h1.94v14.74H68.03zM71.81 946.71h1.94v14.74H71.81zM75.59 946.71h1.94v14.74H75.59zM85.04 946.71h1.94v14.74H85.04zM102.04 946.71h1.94v14.74H102.04zM109.6 946.71h3.83v14.74H109.6zM126.61 946.71h1.94v14.74H126.61zM130.39 946.71h1.94v14.74H130.39zM134.17 946.71h3.83v14.74H134.17zM143.62 946.71h1.94v14.74H143.62zM147.4 946.71h3.83v14.74H147.4zM156.85 946.71h3.83v14.74H156.85zM175.75 946.71h1.94v14.74H175.75zM179.53 946.71h1.94v14.74H179.53zM192.76 946.71h1.94v14.74H192.76zM198.43 946.71h1.94v14.74H198.43zM202.21 946.71h1.94v14.74H202.21zM205.98 946.71h1.94v14.74H205.98zM221.1 946.71h1.94v14.74H221.1zM224.88 946.71h3.83v14.74H224.88zM232.44 946.71h1.94v14.74H232.44zM251.34 946.71h1.94v14.74H251.34zM258.9 946.71h1.94v14.74H258.9zM262.68 946.71h1.94v14.74H262.68zM266.46 946.71h9.5v14.74H266.46zM281.58 946.71h1.94v14.74H281.58zM285.36 946.71h3.83v14.74H285.36zM292.92 946.71h3.83v14.74H292.92zM300.48 946.71h3.83v14.74H300.48zM306.15 946.71h1.94v14.74H306.15zM313.71 946.71h1.94v14.74H313.71zM317.48 946.71h1.94v14.74H317.48zM321.26 946.71h1.94v14.74H321.26zM325.04 946.71h1.94v14.74H325.04zM328.82 946.71h1.94v14.74H328.82zM340.16 946.71h1.94v14.74H340.16zM343.94 946.71h3.83v14.74H343.94zM357.17 946.71h1.94v14.74H357.17zM368.51 946.71h1.94v14.74H368.51zM35.9 961.45h1.94v14.74H35.9zM45.35 961.45h1.94v14.74H45.35zM64.25 961.45h3.83v14.74H64.25zM73.7 961.45h1.94v14.74H73.7zM83.15 961.45h1.94v14.74H83.15zM90.71 961.45h1.94v14.74H90.71zM94.48 961.45h1.94v14.74H94.48zM105.82 961.45h5.72v14.74H105.82zM124.72 961.45h1.94v14.74H124.72zM128.5 961.45h1.94v14.74H128.5zM139.84 961.45h3.83v14.74H139.84zM153.07 961.45h1.94v14.74H153.07zM160.63 961.45h1.94v14.74H160.63zM168.19 961.45h1.94v14.74H168.19zM173.86 961.45h1.94v14.74H173.86zM177.64 961.45h1.94v14.74H177.64zM194.65 961.45h1.94v14.74H194.65zM198.43 961.45h5.72v14.74H198.43zM209.76 961.45h1.94v14.74H209.76zM213.54 961.45h1.94v14.74H213.54zM221.1 961.45h1.94v14.74H221.1zM224.88 961.45h3.83v14.74H224.88zM230.55 961.45h1.94v14.74H230.55zM238.11 961.45h1.94v14.74H238.11zM247.56 961.45h1.94v14.74H247.56zM266.46 961.45h1.94v14.74H266.46zM270.24 961.45h1.94v14.74H270.24zM283.47 961.45h3.83v14.74H283.47zM292.92 961.45h1.94v14.74H292.92zM298.59 961.45h1.94v14.74H298.59zM302.37 961.45h3.83v14.74H302.37zM334.49 961.45h1.94v14.74H334.49zM340.16 961.45h11.39v14.74H340.16zM353.39 961.45h5.72v14.74H353.39zM366.62 961.45h3.83v14.74H366.62zM45.35 976.19h5.72v14.74H45.35zM62.36 976.19h1.94v14.74H62.36zM71.81 976.19h5.72v14.74H71.81zM83.15 976.19h1.94v14.74H83.15zM86.93 976.19h3.83v14.74H86.93zM94.48 976.19h1.94v14.74H94.48zM100.15 976.19h7.61v14.74H100.15zM115.27 976.19h1.94v14.74H115.27zM124.72 976.19h1.94v14.74H124.72zM128.5 976.19h1.94v14.74H128.5zM134.17 976.19h1.94v14.74H134.17zM141.73 976.19h1.94v14.74H141.73zM145.51 976.19h1.94v14.74H145.51zM156.85 976.19h3.83v14.74H156.85zM166.3 976.19h3.83v14.74H166.3zM175.75 976.19h1.94v14.74H175.75zM179.53 976.19h1.94v14.74H179.53zM183.31 976.19h3.83v14.74H183.31zM190.87 976.19h1.94v14.74H190.87zM194.65 976.19h1.94v14.74H194.65zM198.43 976.19h1.94v14.74H198.43zM207.87 976.19h1.94v14.74H207.87zM213.54 976.19h3.83v14.74H213.54zM221.1 976.19h1.94v14.74H221.1zM243.78 976.19h1.94v14.74H243.78zM249.45 976.19h1.94v14.74H249.45zM255.12 976.19h1.94v14.74H255.12zM266.46 976.19h3.83v14.74H266.46zM274.02 976.19h1.94v14.74H274.02zM285.36 976.19h1.94v14.74H285.36zM317.48 976.19h3.83v14.74H317.48zM338.27 976.19h7.61v14.74H338.27zM349.61 976.19h1.94v14.74H349.61zM357.17 976.19h1.94v14.74H357.17zM364.73 976.19h3.83v14.74H364.73zM35.9 990.93h1.94v14.74H35.9zM39.68 990.93h3.83v14.74H39.68zM45.35 990.93h3.83v14.74H45.35zM56.69 990.93h5.72v14.74H56.69zM69.92 990.93h1.94v14.74H69.92zM75.59 990.93h5.72v14.74H75.59zM88.82 990.93h1.94v14.74H88.82zM94.48 990.93h5.72v14.74H94.48zM103.93 990.93h1.94v14.74H103.93zM128.5 990.93h1.94v14.74H128.5zM134.17 990.93h1.94v14.74H134.17zM137.95 990.93h1.94v14.74H137.95zM145.51 990.93h3.83v14.74H145.51zM153.07 990.93h1.94v14.74H153.07zM156.85 990.93h1.94v14.74H156.85zM168.19 990.93h3.83v14.74H168.19zM175.75 990.93h5.72v14.74H175.75zM183.31 990.93h9.5v14.74H183.31zM200.32 990.93h1.94v14.74H200.32zM204.09 990.93h3.83v14.74H204.09zM215.43 990.93h1.94v14.74H215.43zM219.21 990.93h1.94v14.74H219.21zM226.77 990.93h5.72v14.74H226.77zM234.33 990.93h1.94v14.74H234.33zM238.11 990.93h1.94v14.74H238.11zM251.34 990.93h1.94v14.74H251.34zM257.01 990.93h3.83v14.74H257.01zM268.35 990.93h1.94v14.74H268.35zM283.47 990.93h1.94v14.74H283.47zM287.25 990.93h1.94v14.74H287.25zM294.81 990.93h1.94v14.74H294.81zM300.48 990.93h5.72v14.74H300.48zM313.71 990.93h3.83v14.74H313.71zM321.26 990.93h3.83v14.74H321.26zM326.93 990.93h3.83v14.74H326.93zM345.83 990.93h1.94v14.74H345.83zM349.61 990.93h1.94v14.74H349.61zM359.06 990.93h3.83v14.74H359.06zM366.62 990.93h1.94v14.74H366.62zM41.57 1005.67h1.94v14.74H41.57zM47.24 1005.67h1.94v14.74H47.24zM58.58 1005.67h1.94v14.74H58.58zM71.81 1005.67h1.94v14.74H71.81zM79.37 1005.67h1.94v14.74H79.37zM86.93 1005.67h3.83v14.74H86.93zM94.48 1005.67h1.94v14.74H94.48zM102.04 1005.67h1.94v14.74H102.04zM107.71 1005.67h3.83v14.74H107.71zM113.38 1005.67h7.61v14.74H113.38zM122.83 1005.67h1.94v14.74H122.83zM126.61 1005.67h3.83v14.74H126.61zM134.17 1005.67h3.83v14.74H134.17zM141.73 1005.67h1.94v14.74H141.73zM147.4 1005.67h1.94v14.74H147.4zM156.85 1005.67h1.94v14.74H156.85zM160.63 1005.67h1.94v14.74H160.63zM170.08 1005.67h1.94v14.74H170.08zM175.75 1005.67h1.94v14.74H175.75zM183.31 1005.67h1.94v14.74H183.31zM188.98 1005.67h1.94v14.74H188.98zM209.76 1005.67h1.94v14.74H209.76zM219.21 1005.67h1.94v14.74H219.21zM230.55 1005.67h1.94v14.74H230.55zM238.11 1005.67h1.94v14.74H238.11zM245.67 1005.67h1.94v14.74H245.67zM251.34 1005.67h1.94v14.74H251.34zM255.12 1005.67h3.83v14.74H255.12zM266.46 1005.67h1.94v14.74H266.46zM272.13 1005.67h1.94v14.74H272.13zM275.91 1005.67h1.94v14.74H275.91zM283.47 1005.67h1.94v14.74H283.47zM296.7 1005.67h1.94v14.74H296.7zM300.48 1005.67h1.94v14.74H300.48zM309.93 1005.67h1.94v14.74H309.93zM313.71 1005.67h3.83v14.74H313.71zM340.16 1005.67h1.94v14.74H340.16zM351.5 1005.67h1.94v14.74H351.5zM355.28 1005.67h1.94v14.74H355.28zM366.62 1005.67h3.83v14.74H366.62zM86.93 1020.41h1.94v14.74H86.93zM90.71 1020.41h1.94v14.74H90.71zM107.71 1020.41h1.94v14.74H107.71zM143.62 1020.41h3.83v14.74H143.62zM168.19 1020.41h3.83v14.74H168.19zM177.64 1020.41h1.94v14.74H177.64zM185.2 1020.41h1.94v14.74H185.2zM213.54 1020.41h1.94v14.74H213.54zM222.99 1020.41h3.83v14.74H222.99zM247.56 1020.41h1.94v14.74H247.56zM260.79 1020.41h1.94v14.74H260.79zM347.72 1020.41h1.94v14.74H347.72zM62.36 1035.15h1.94v14.74H62.36zM81.26 1035.15h1.94v14.74H81.26zM111.49 1035.15h5.72v14.74H111.49zM179.53 1035.15h1.94v14.74H179.53zM200.32 1035.15h1.94v14.74H200.32zM228.66 1035.15h1.94v14.74H228.66zM243.78 1035.15h1.94v14.74H243.78zM258.9 1035.15h3.83v14.74H258.9zM300.48 1035.15h1.94v14.74H300.48zM311.82 1035.15h1.94v14.74H311.82zM328.82 1035.15h1.94v14.74H328.82zM334.49 1035.15h1.94v14.74H334.49zM368.51 1035.15h1.94v14.74H368.51zM45.35 1049.9h1.94v14.74H45.35zM62.36 1049.9h1.94v14.74H62.36zM71.81 1049.9h1.94v14.74H71.81zM122.83 1049.9h1.94v14.74H122.83zM173.86 1049.9h1.94v14.74H173.86zM247.56 1049.9h1.94v14.74H247.56zM308.04 1049.9h5.72v14.74H308.04zM81.26 1064.64h1.94v14.74H81.26zM96.37 1064.64h1.94v14.74H96.37zM117.16 1064.64h1.94v14.74H117.16zM126.61 1064.64h1.94v14.74H126.61zM141.73 1064.64h1.94v14.74H141.73zM145.51 1064.64h1.94v14.74H145.51zM156.85 1064.64h1.94v14.74H156.85zM171.97 1064.64h1.94v14.74H171.97zM188.98 1064.64h1.94v14.74H188.98zM202.21 1064.64h1.94v14.74H202.21zM205.98 1064.64h1.94v14.74H205.98zM243.78 1064.64h1.94v14.74H243.78zM247.56 1064.64h1.94v14.74H247.56zM283.47 1064.64h1.94v14.74H283.47zM294.81 1064.64h1.94v14.74H294.81zM330.71 1064.64h1.94v14.74H330.71zM357.17 1064.64h1.94v14.74H357.17zM145.51 1079.38h1.94v14.74H145.51zM289.14 1108.86h1.94v14.74H289.14zM300.48 1108.86h1.94v14.74H300.48zM309.93 1108.86h1.94v14.74H309.93z" fill="#4F7CB2"/>
<path d="M66.14 799.3h1.94v14.74H66.14zM232.44 799.3h1.94v14.74H232.44zM330.71 799.3h1.94v14.74H330.71zM107.71 917.23h1.94v14.74H107.71zM207.87 917.23h1.94v14.74H207.87zM262.68 917.23h1.94v14.74H262.68zM298.59 917.23h1.94v14.74H298.59zM319.37 917.23h1.94v14.74H319.37zM332.6 917.23h1.94v14.74H332.6zM190.87 946.71h1.94v14.74H190.87zM230.55 946.71h1.94v14.74H230.55zM253.23 946.71h1.94v14.74H253.23zM311.82 961.45h1.94v14.74H311.82zM52.91 1020.41h1.94v14.74H52.91zM75.59 1020.41h1.94v14.74H75.59zM100.15 1020.41h1.94v14.74H100.15zM103.93 1020.41h1.94v14.74H103.93zM226.77 1020.41h1.94v14.74H226.77zM232.44 1020.41h1.94v14.74H232.44zM304.26 1020.41h1.94v14.74H304.26zM51.02 1035.15h1.94v14.74H51.02zM107.71 1035.15h1.94v14.74H107.71zM156.85 1035.15h1.94v14.74H156.85zM160.63 1035.15h1.94v14.74H160.63zM177.64 1035.15h1.94v14.74H177.64zM213.54 1035.15h1.94v14.74H213.54zM41.57 1049.9h1.94v14.74H41.57zM115.27 1049.9h1.94v14.74H115.27zM192.76 1049.9h1.94v14.74H192.76zM196.54 1049.9h1.94v14.74H196.54zM224.88 1049.9h1.94v14.74H224.88zM257.01 1049.9h1.94v14.74H257.01zM289.14 1049.9h1.94v14.74H289.14zM43.46 1064.64h1.94v14.74H43.46zM88.82 1064.64h1.94v14.74H88.82zM105.82 1064.64h1.94v14.74H105.82zM120.94 1064.64h1.94v14.74H120.94zM215.43 1064.64h1.94v14.74H215.43zM353.39 1064.64h1.94v14.74H353.39zM64.25 1079.38h1.94v14.74H64.25zM100.15 1079.38h1.94v14.74H100.15zM211.65 1079.38h1.94v14.74H211.65zM330.71 1079.38h1.94v14.74H330.71zM219.21 1094.12h3.83v14.74H219.21zM247.56 1094.12h3.83v14.74H247.56zM260.79 1094.12h1.94v14.74H260.79zM304.26 1094.12h1.94v14.74H304.26zM315.59 1094.12h1.94v14.74H315.59zM336.38 1094.12h1.94v14.74H336.38zM359.06 1094.12h1.94v14.74H359.06zM362.84 1094.12h1.94v14.74H362.84zM68.03 1108.86h1.94v14.74H68.03zM117.16 1108.86h1.94v14.74H117.16zM120.94 1108.86h1.94v14.74H120.94zM151.18 1108.86h1.94v14.74H151.18zM190.87 1108.86h1.94v14.74H190.87zM205.98 1108.86h1.94v14.74H205.98zM245.67 1108.86h1.94v14.74H245.67zM253.23 1108.86h1.94v14.74H253.23zM258.9 1108.86h1.94v14.74H258.9z" fill="#C0DEEC"/>
<path d="M68.03 799.3h1.94v14.74H68.03zM98.26 799.3h1.94v14.74H98.26zM137.95 799.3h1.94v14.74H137.95zM200.32 799.3h1.94v14.74H200.32zM272.13 799.3h1.94v14.74H272.13zM302.37 799.3h1.94v14.74H302.37zM336.38 799.3h1.94v14.74H336.38zM345.83 799.3h1.94v14.74H345.83zM170.08 858.26h1.94v14.74H170.08zM304.26 858.26h1.94v14.74H304.26zM205.98 917.23h1.94v14.74H205.98zM285.36 917.23h1.94v14.74H285.36zM264.57 931.97h1.94v14.74H264.57zM308.04 931.97h1.94v14.74H308.04zM43.46 946.71h1.94v14.74H43.46zM64.25 946.71h1.94v14.74H64.25zM79.37 946.71h1.94v14.74H79.37zM291.03 946.71h1.94v14.74H291.03zM308.04 946.71h1.94v14.74H308.04zM164.41 961.45h3.83v14.74H164.41zM185.2 961.45h1.94v14.74H185.2zM351.5 961.45h1.94v14.74H351.5zM119.05 976.19h1.94v14.74H119.05zM196.54 976.19h1.94v14.74H196.54zM217.32 976.19h1.94v14.74H217.32zM232.44 976.19h1.94v14.74H232.44zM68.03 990.93h1.94v14.74H68.03zM113.38 990.93h1.94v14.74H113.38zM325.04 990.93h1.94v14.74H325.04zM211.65 1005.67h1.94v14.74H211.65zM353.39 1005.67h1.94v14.74H353.39zM360.95 1005.67h1.94v14.74H360.95zM56.69 1020.41h1.94v14.74H56.69zM357.17 1020.41h1.94v14.74H357.17zM105.82 1035.15h1.94v14.74H105.82zM109.6 1035.15h1.94v14.74H109.6zM234.33 1035.15h1.94v14.74H234.33zM275.91 1035.15h1.94v14.74H275.91zM317.48 1035.15h1.94v14.74H317.48zM130.39 1049.9h1.94v14.74H130.39zM134.17 1049.9h1.94v14.74H134.17zM166.3 1049.9h1.94v14.74H166.3zM198.43 1049.9h1.94v14.74H198.43zM328.82 1049.9h1.94v14.74H328.82zM60.47 1064.64h1.94v14.74H60.47zM258.9 1064.64h1.94v14.74H258.9zM285.36 1064.64h1.94v14.74H285.36zM360.95 1064.64h1.94v14.74H360.95zM75.59 1079.38h1.94v14.74H75.59zM107.71 1079.38h1.94v14.74H107.71zM137.95 1079.38h1.94v14.74H137.95zM187.09 1079.38h1.94v14.74H187.09zM217.32 1079.38h1.94v14.74H217.32zM296.7 1094.12h1.94v14.74H296.7zM321.26 1094.12h1.94v14.74H321.26zM194.65 1108.86h1.94v14.74H194.65zM221.1 1108.86h1.94v14.74H221.1zM228.66 1108.86h1.94v14.74H228.66zM338.27 1108.86h1.94v14.74H338.27zM362.84 1108.86h1.94v14.74H362.84z" fill="#A1C9E1"/>
<path d="M71.81 799.3h1.94v14.74H71.81zM132.28 799.3h3.83v14.74H132.28zM181.42 799.3h1.94v14.74H181.42zM190.87 799.3h1.94v14.74H190.87zM326.93 799.3h1.94v14.74H326.93zM219.21 843.52h1.94v14.74H219.21zM319.37 843.52h1.94v14.74H319.37zM41.57 917.23h1.94v14.74H41.57zM111.49 917.23h1.94v14.74H111.49zM204.09 917.23h1.94v14.74H204.09zM105.82 931.97h1.94v14.74H105.82zM119.05 931.97h1.94v14.74H119.05zM134.17 931.97h1.94v14.74H134.17zM143.62 931.97h1.94v14.74H143.62zM171.97 931.97h1.94v14.74H171.97zM51.02 946.71h1.94v14.74H51.02zM105.82 946.71h1.94v14.74H105.82zM122.83 946.71h1.94v14.74H122.83zM234.33 946.71h1.94v14.74H234.33zM279.69 946.71h1.94v14.74H279.69zM342.05 946.71h1.94v14.74H342.05zM60.47 961.45h3.83v14.74H60.47zM98.26 961.45h1.94v14.74H98.26zM211.65 961.45h1.94v14.74H211.65zM219.21 961.45h1.94v14.74H219.21zM202.21 976.19h1.94v14.74H202.21zM92.59 990.93h1.94v14.74H92.59zM245.67 990.93h1.94v14.74H245.67zM291.03 990.93h1.94v14.74H291.03zM353.39 990.93h1.94v14.74H353.39zM43.46 1005.67h1.94v14.74H43.46zM49.13 1005.67h1.94v14.74H49.13zM302.37 1005.67h1.94v14.74H302.37zM115.27 1020.41h1.94v14.74H115.27zM126.61 1020.41h1.94v14.74H126.61zM238.11 1020.41h1.94v14.74H238.11zM270.24 1020.41h1.94v14.74H270.24zM128.5 1035.15h1.94v14.74H128.5zM351.5 1035.15h1.94v14.74H351.5zM107.71 1049.9h1.94v14.74H107.71zM147.4 1049.9h1.94v14.74H147.4zM202.21 1049.9h1.94v14.74H202.21zM232.44 1049.9h1.94v14.74H232.44zM175.75 1064.64h1.94v14.74H175.75zM192.76 1064.64h1.94v14.74H192.76zM204.09 1064.64h1.94v14.74H204.09zM249.45 1064.64h1.94v14.74H249.45zM279.69 1064.64h1.94v14.74H279.69zM308.04 1064.64h1.94v14.74H308.04zM60.47 1079.38h1.94v14.74H60.47zM96.37 1079.38h1.94v14.74H96.37zM151.18 1079.38h1.94v14.74H151.18zM196.54 1079.38h1.94v14.74H196.54zM162.52 1094.12h1.94v14.74H162.52zM241.89 1094.12h1.94v14.74H241.89zM262.68 1094.12h1.94v14.74H262.68zM266.46 1094.12h1.94v14.74H266.46zM306.15 1094.12h1.94v14.74H306.15zM311.82 1094.12h1.94v14.74H311.82zM319.37 1094.12h1.94v14.74H319.37zM200.32 1108.86h1.94v14.74H200.32zM217.32 1108.86h1.94v14.74H217.32zM241.89 1108.86h1.94v14.74H241.89zM268.35 1108.86h3.83v14.74H268.35zM279.69 1108.86h1.94v14.74H279.69zM287.25 1108.86h1.94v14.74H287.25zM302.37 1108.86h1.94v14.74H302.37zM315.59 1108.86h1.94v14.74H315.59zM349.61 1108.86h1.94v14.74H349.61z" fill="#A9CFE4"/>
<path d="M75.59 799.3h1.94v14.74H75.59zM79.37 799.3h1.94v14.74H79.37zM85.04 799.3h1.94v14.74H85.04zM107.71 799.3h1.94v14.74H107.71zM111.49 799.3h1.94v14.74H111.49zM126.61 799.3h1.94v14.74H126.61zM145.51 799.3h1.94v14.74H145.51zM151.18 799.3h1.94v14.74H151.18zM162.52 799.3h1.94v14.74H162.52zM177.64 799.3h1.94v14.74H177.64zM187.09 799.3h1.94v14.74H187.09zM287.25 799.3h1.94v14.74H287.25zM355.28 799.3h3.83v14.74H355.28zM88.82 814.04h1.94v14.74H88.82zM139.84 828.78h1.94v14.74H139.84zM175.75 873h1.94v14.74H175.75zM179.53 902.49h1.94v14.74H179.53zM109.6 917.23h1.94v14.74H109.6zM124.72 917.23h3.83v14.74H124.72zM139.84 917.23h1.94v14.74H139.84zM151.18 917.23h1.94v14.74H151.18zM200.32 917.23h1.94v14.74H200.32zM255.12 917.23h1.94v14.74H255.12zM58.58 946.71h1.94v14.74H58.58zM359.06 946.71h1.94v14.74H359.06zM47.24 961.45h1.94v14.74H47.24zM274.02 961.45h1.94v14.74H274.02zM58.58 976.19h1.94v14.74H58.58zM222.99 976.19h1.94v14.74H222.99zM228.66 976.19h1.94v14.74H228.66zM238.11 976.19h1.94v14.74H238.11zM277.8 976.19h1.94v14.74H277.8zM292.92 976.19h1.94v14.74H292.92zM328.82 976.19h1.94v14.74H328.82zM351.5 976.19h3.83v14.74H351.5zM37.79 990.93h1.94v14.74H37.79zM126.61 990.93h1.94v14.74H126.61zM357.17 990.93h1.94v14.74H357.17zM145.51 1005.67h1.94v14.74H145.51zM200.32 1005.67h1.94v14.74H200.32zM234.33 1005.67h3.83v14.74H234.33zM240 1005.67h1.94v14.74H240zM279.69 1005.67h1.94v14.74H279.69zM325.04 1005.67h1.94v14.74H325.04zM330.71 1005.67h1.94v14.74H330.71zM37.79 1020.41h1.94v14.74H37.79zM47.24 1020.41h1.94v14.74H47.24zM90.71 1035.15h1.94v14.74H90.71zM122.83 1035.15h1.94v14.74H122.83zM134.17 1035.15h1.94v14.74H134.17zM149.29 1035.15h1.94v14.74H149.29zM181.42 1035.15h1.94v14.74H181.42zM230.55 1035.15h1.94v14.74H230.55zM281.58 1035.15h1.94v14.74H281.58zM298.59 1035.15h1.94v14.74H298.59zM336.38 1035.15h1.94v14.74H336.38zM113.38 1049.9h1.94v14.74H113.38zM300.48 1049.9h3.83v14.74H300.48zM323.15 1049.9h1.94v14.74H323.15zM355.28 1049.9h1.94v14.74H355.28zM158.74 1064.64h1.94v14.74H158.74zM332.6 1064.64h1.94v14.74H332.6zM349.61 1064.64h1.94v14.74H349.61zM45.35 1079.38h1.94v14.74H45.35zM49.13 1079.38h3.83v14.74H49.13zM58.58 1079.38h1.94v14.74H58.58zM113.38 1079.38h1.94v14.74H113.38zM153.07 1079.38h1.94v14.74H153.07zM177.64 1079.38h1.94v14.74H177.64zM230.55 1079.38h1.94v14.74H230.55zM247.56 1079.38h1.94v14.74H247.56zM304.26 1079.38h1.94v14.74H304.26zM217.32 1094.12h1.94v14.74H217.32zM230.55 1094.12h1.94v14.74H230.55zM275.91 1094.12h1.94v14.74H275.91zM283.47 1094.12h1.94v14.74H283.47zM332.6 1094.12h1.94v14.74H332.6zM353.39 1094.12h1.94v14.74H353.39zM294.81 1108.86h3.83v14.74H294.81zM332.6 1108.86h1.94v14.74H332.6zM359.06 1108.86h1.94v14.74H359.06z" fill="#82B0D2"/>
<path d="M105.82 799.3h1.94v14.74H105.82zM109.6 799.3h1.94v14.74H109.6zM141.73 799.3h1.94v14.74H141.73zM149.29 799.3h1.94v14.74H149.29zM153.07 799.3h3.83v14.74H153.07zM168.19 799.3h1.94v14.74H168.19zM234.33 799.3h1.94v14.74H234.33zM298.59 799.3h1.94v14.74H298.59zM311.82 799.3h1.94v14.74H311.82zM317.48 799.3h1.94v14.74H317.48zM328.82 799.3h1.94v14.74H328.82zM334.49 799.3h1.94v14.74H334.49zM359.06 799.3h1.94v14.74H359.06zM86.93 814.04h1.94v14.74H86.93zM294.81 814.04h1.94v14.74H294.81zM351.5 814.04h1.94v14.74H351.5zM147.4 858.26h1.94v14.74H147.4zM173.86 858.26h1.94v14.74H173.86zM334.49 887.75h1.94v14.74H334.49zM66.14 917.23h1.94v14.74H66.14zM147.4 917.23h1.94v14.74H147.4zM153.07 917.23h1.94v14.74H153.07zM283.47 917.23h1.94v14.74H283.47zM52.91 931.97h1.94v14.74H52.91zM219.21 931.97h1.94v14.74H219.21zM317.48 931.97h1.94v14.74H317.48zM351.5 931.97h1.94v14.74H351.5zM83.15 946.71h1.94v14.74H83.15zM86.93 946.71h1.94v14.74H86.93zM90.71 946.71h3.83v14.74H90.71zM145.51 946.71h1.94v14.74H145.51zM275.91 946.71h1.94v14.74H275.91zM283.47 946.71h1.94v14.74H283.47zM149.29 961.45h1.94v14.74H149.29zM162.52 961.45h1.94v14.74H162.52zM171.97 961.45h1.94v14.74H171.97zM255.12 961.45h1.94v14.74H255.12zM268.35 961.45h1.94v14.74H268.35zM272.13 961.45h1.94v14.74H272.13zM43.46 976.19h1.94v14.74H43.46zM132.28 976.19h1.94v14.74H132.28zM137.95 976.19h1.94v14.74H137.95zM170.08 976.19h1.94v14.74H170.08zM209.76 976.19h1.94v14.74H209.76zM289.14 976.19h1.94v14.74H289.14zM49.13 990.93h1.94v14.74H49.13zM109.6 990.93h1.94v14.74H109.6zM151.18 990.93h1.94v14.74H151.18zM66.14 1005.67h1.94v14.74H66.14zM153.07 1005.67h1.94v14.74H153.07zM291.03 1005.67h1.94v14.74H291.03zM41.57 1020.41h1.94v14.74H41.57zM62.36 1020.41h1.94v14.74H62.36zM141.73 1020.41h1.94v14.74H141.73zM181.42 1020.41h1.94v14.74H181.42zM190.87 1020.41h1.94v14.74H190.87zM194.65 1020.41h1.94v14.74H194.65zM207.87 1020.41h1.94v14.74H207.87zM241.89 1020.41h1.94v14.74H241.89zM264.57 1020.41h1.94v14.74H264.57zM298.59 1020.41h1.94v14.74H298.59zM71.81 1035.15h1.94v14.74H71.81zM98.26 1035.15h1.94v14.74H98.26zM117.16 1035.15h1.94v14.74H117.16zM124.72 1035.15h1.94v14.74H124.72zM139.84 1035.15h1.94v14.74H139.84zM143.62 1035.15h1.94v14.74H143.62zM224.88 1035.15h1.94v14.74H224.88zM249.45 1035.15h1.94v14.74H249.45zM277.8 1035.15h1.94v14.74H277.8zM308.04 1035.15h1.94v14.74H308.04zM321.26 1035.15h1.94v14.74H321.26zM359.06 1035.15h1.94v14.74H359.06zM37.79 1049.9h1.94v14.74H37.79zM75.59 1049.9h1.94v14.74H75.59zM85.04 1049.9h1.94v14.74H85.04zM92.59 1049.9h1.94v14.74H92.59zM126.61 1049.9h3.83v14.74H126.61zM164.41 1049.9h1.94v14.74H164.41zM234.33 1049.9h1.94v14.74H234.33zM260.79 1049.9h1.94v14.74H260.79zM285.36 1049.9h1.94v14.74H285.36zM359.06 1049.9h1.94v14.74H359.06zM41.57 1064.64h1.94v14.74H41.57zM54.8 1064.64h1.94v14.74H54.8zM71.81 1064.64h1.94v14.74H71.81zM128.5 1064.64h1.94v14.74H128.5zM149.29 1064.64h1.94v14.74H149.29zM185.2 1064.64h1.94v14.74H185.2zM196.54 1064.64h1.94v14.74H196.54zM221.1 1064.64h1.94v14.74H221.1zM230.55 1064.64h1.94v14.74H230.55zM238.11 1064.64h3.83v14.74H238.11zM291.03 1064.64h1.94v14.74H291.03zM306.15 1064.64h1.94v14.74H306.15zM338.27 1064.64h1.94v14.74H338.27zM364.73 1064.64h1.94v14.74H364.73zM35.9 1079.38h1.94v14.74H35.9zM120.94 1079.38h1.94v14.74H120.94zM128.5 1079.38h1.94v14.74H128.5zM170.08 1079.38h1.94v14.74H170.08zM253.23 1079.38h1.94v14.74H253.23zM258.9 1079.38h1.94v14.74H258.9zM245.67 1094.12h1.94v14.74H245.67zM268.35 1094.12h1.94v14.74H268.35zM279.69 1094.12h1.94v14.74H279.69zM238.11 1108.86h1.94v14.74H238.11zM306.15 1108.86h1.94v14.74H306.15zM313.71 1108.86h1.94v14.74H313.71zM321.26 1108.86h1.94v14.74H321.26z" fill="#6C9AC4"/>
<path d="M115.27 799.3h1.94v14.74H115.27zM120.94 799.3h1.94v14.74H120.94zM130.39 799.3h1.94v14.74H130.39zM166.3 799.3h1.94v14.74H166.3zM183.31 799.3h3.83v14.74H183.31zM204.09 799.3h1.94v14.74H204.09zM209.76 799.3h1.94v14.74H209.76zM291.03 799.3h1.94v14.74H291.03zM304.26 799.3h1.94v14.74H304.26zM323.15 799.3h1.94v14.74H323.15zM353.39 799.3h1.94v14.74H353.39zM64.25 843.52h1.94v14.74H64.25zM171.97 858.26h1.94v14.74H171.97zM71.81 873h1.94v14.74H71.81zM86.93 917.23h1.94v14.74H86.93zM94.48 917.23h1.94v14.74H94.48zM132.28 917.23h1.94v14.74H132.28zM170.08 917.23h1.94v14.74H170.08zM309.93 917.23h1.94v14.74H309.93zM338.27 917.23h1.94v14.74H338.27zM79.37 931.97h1.94v14.74H79.37zM149.29 931.97h1.94v14.74H149.29zM156.85 931.97h1.94v14.74H156.85zM192.76 931.97h1.94v14.74H192.76zM209.76 931.97h1.94v14.74H209.76zM251.34 931.97h1.94v14.74H251.34zM323.15 931.97h1.94v14.74H323.15zM117.16 946.71h1.94v14.74H117.16zM332.6 946.71h1.94v14.74H332.6zM122.83 961.45h1.94v14.74H122.83zM158.74 961.45h1.94v14.74H158.74zM260.79 961.45h1.94v14.74H260.79zM315.59 961.45h1.94v14.74H315.59zM66.14 976.19h1.94v14.74H66.14zM236.22 976.19h1.94v14.74H236.22zM364.73 990.93h1.94v14.74H364.73zM69.92 1005.67h1.94v14.74H69.92zM171.97 1005.67h1.94v14.74H171.97zM338.27 1005.67h1.94v14.74H338.27zM359.06 1005.67h1.94v14.74H359.06zM364.73 1005.67h1.94v14.74H364.73zM43.46 1020.41h1.94v14.74H43.46zM58.58 1020.41h1.94v14.74H58.58zM187.09 1020.41h1.94v14.74H187.09zM257.01 1020.41h1.94v14.74H257.01zM362.84 1020.41h1.94v14.74H362.84zM77.48 1035.15h1.94v14.74H77.48zM145.51 1035.15h1.94v14.74H145.51zM198.43 1035.15h1.94v14.74H198.43zM209.76 1035.15h1.94v14.74H209.76zM217.32 1035.15h1.94v14.74H217.32zM226.77 1035.15h1.94v14.74H226.77zM245.67 1035.15h1.94v14.74H245.67zM266.46 1035.15h1.94v14.74H266.46zM274.02 1035.15h1.94v14.74H274.02zM289.14 1035.15h1.94v14.74H289.14zM326.93 1035.15h1.94v14.74H326.93zM156.85 1049.9h1.94v14.74H156.85zM190.87 1049.9h1.94v14.74H190.87zM251.34 1049.9h1.94v14.74H251.34zM277.8 1049.9h1.94v14.74H277.8zM340.16 1049.9h1.94v14.74H340.16zM164.41 1064.64h3.83v14.74H164.41zM170.08 1064.64h1.94v14.74H170.08zM181.42 1064.64h1.94v14.74H181.42zM304.26 1064.64h1.94v14.74H304.26zM52.91 1079.38h1.94v14.74H52.91zM73.7 1079.38h1.94v14.74H73.7zM81.26 1079.38h1.94v14.74H81.26zM160.63 1079.38h1.94v14.74H160.63zM198.43 1079.38h1.94v14.74H198.43zM215.43 1079.38h1.94v14.74H215.43zM221.1 1079.38h1.94v14.74H221.1zM224.88 1079.38h1.94v14.74H224.88zM228.66 1079.38h1.94v14.74H228.66zM255.12 1079.38h1.94v14.74H255.12zM264.57 1079.38h1.94v14.74H264.57zM243.78 1094.12h1.94v14.74H243.78zM253.23 1094.12h1.94v14.74H253.23zM347.72 1094.12h1.94v14.74H347.72zM219.21 1108.86h1.94v14.74H219.21zM240 1108.86h1.94v14.74H240zM260.79 1108.86h1.94v14.74H260.79zM364.73 1108.86h1.94v14.74H364.73z" fill="#74A1C9"/>
<path d="M122.83 799.3h1.94v14.74H122.83zM283.47 799.3h1.94v14.74H283.47zM289.14 799.3h1.94v14.74H289.14zM332.6 799.3h1.94v14.74H332.6zM102.04 814.04h1.94v14.74H102.04zM139.84 814.04h1.94v14.74H139.84zM166.3 814.04h3.83v14.74H166.3zM230.55 814.04h1.94v14.74H230.55zM260.79 814.04h1.94v14.74H260.79zM317.48 814.04h1.94v14.74H317.48zM334.49 814.04h1.94v14.74H334.49zM39.68 828.78h1.94v14.74H39.68zM49.13 828.78h1.94v14.74H49.13zM113.38 828.78h1.94v14.74H113.38zM156.85 828.78h1.94v14.74H156.85zM171.97 828.78h1.94v14.74H171.97zM249.45 828.78h1.94v14.74H249.45zM260.79 828.78h3.83v14.74H260.79zM270.24 828.78h1.94v14.74H270.24zM277.8 828.78h1.94v14.74H277.8zM302.37 828.78h1.94v14.74H302.37zM306.15 828.78h1.94v14.74H306.15zM360.95 828.78h1.94v14.74H360.95zM37.79 843.52h1.94v14.74H37.79zM51.02 843.52h1.94v14.74H51.02zM86.93 843.52h3.83v14.74H86.93zM96.37 843.52h1.94v14.74H96.37zM132.28 843.52h1.94v14.74H132.28zM141.73 843.52h1.94v14.74H141.73zM170.08 843.52h3.83v14.74H170.08zM226.77 843.52h1.94v14.74H226.77zM232.44 843.52h3.83v14.74H232.44zM245.67 843.52h1.94v14.74H245.67zM257.01 843.52h1.94v14.74H257.01zM266.46 843.52h1.94v14.74H266.46zM304.26 843.52h3.83v14.74H304.26zM317.48 843.52h1.94v14.74H317.48zM323.15 843.52h1.94v14.74H323.15zM366.62 843.52h1.94v14.74H366.62zM52.91 858.26h5.72v14.74H52.91zM68.03 858.26h1.94v14.74H68.03zM73.7 858.26h1.94v14.74H73.7zM130.39 858.26h1.94v14.74H130.39zM134.17 858.26h1.94v14.74H134.17zM141.73 858.26h1.94v14.74H141.73zM145.51 858.26h1.94v14.74H145.51zM166.3 858.26h1.94v14.74H166.3zM194.65 858.26h1.94v14.74H194.65zM202.21 858.26h1.94v14.74H202.21zM255.12 858.26h3.83v14.74H255.12zM260.79 858.26h1.94v14.74H260.79zM277.8 858.26h1.94v14.74H277.8zM296.7 858.26h1.94v14.74H296.7zM302.37 858.26h1.94v14.74H302.37zM328.82 858.26h1.94v14.74H328.82zM340.16 858.26h1.94v14.74H340.16zM77.48 873h1.94v14.74H77.48zM141.73 873h1.94v14.74H141.73zM147.4 873h1.94v14.74H147.4zM162.52 873h1.94v14.74H162.52zM205.98 873h3.83v14.74H205.98zM272.13 873h1.94v14.74H272.13zM291.03 873h1.94v14.74H291.03zM296.7 873h1.94v14.74H296.7zM313.71 873h1.94v14.74H313.71zM103.93 887.75h1.94v14.74H103.93zM113.38 887.75h1.94v14.74H113.38zM141.73 887.75h1.94v14.74H141.73zM151.18 887.75h1.94v14.74H151.18zM209.76 887.75h1.94v14.74H209.76zM217.32 887.75h1.94v14.74H217.32zM238.11 887.75h1.94v14.74H238.11zM243.78 887.75h1.94v14.74H243.78zM249.45 887.75h1.94v14.74H249.45zM336.38 887.75h1.94v14.74H336.38zM359.06 887.75h3.83v14.74H359.06zM52.91 902.49h1.94v14.74H52.91zM96.37 902.49h1.94v14.74H96.37zM132.28 902.49h1.94v14.74H132.28zM147.4 902.49h1.94v14.74H147.4zM156.85 902.49h1.94v14.74H156.85zM162.52 902.49h1.94v14.74H162.52zM175.75 902.49h1.94v14.74H175.75zM258.9 902.49h1.94v14.74H258.9zM272.13 902.49h1.94v14.74H272.13zM292.92 902.49h1.94v14.74H292.92zM306.15 902.49h1.94v14.74H306.15zM313.71 902.49h1.94v14.74H313.71zM342.05 902.49h1.94v14.74H342.05zM368.51 902.49h1.94v14.74H368.51zM49.13 917.23h1.94v14.74H49.13zM71.81 917.23h1.94v14.74H71.81zM85.04 917.23h1.94v14.74H85.04zM119.05 917.23h1.94v14.74H119.05zM122.83 917.23h1.94v14.74H122.83zM128.5 917.23h1.94v14.74H128.5zM158.74 917.23h3.83v14.74H158.74zM166.3 917.23h1.94v14.74H166.3zM175.75 917.23h3.83v14.74H175.75zM198.43 917.23h1.94v14.74H198.43zM215.43 917.23h1.94v14.74H215.43zM222.99 917.23h1.94v14.74H222.99zM232.44 917.23h1.94v14.74H232.44zM258.9 917.23h1.94v14.74H258.9zM272.13 917.23h11.39v14.74H272.13zM292.92 917.23h1.94v14.74H292.92zM311.82 917.23h3.83v14.74H311.82zM321.26 917.23h1.94v14.74H321.26zM345.83 917.23h1.94v14.74H345.83zM49.13 931.97h1.94v14.74H49.13zM60.47 931.97h1.94v14.74H60.47zM68.03 931.97h3.83v14.74H68.03zM75.59 931.97h1.94v14.74H75.59zM109.6 931.97h1.94v14.74H109.6zM120.94 931.97h3.83v14.74H120.94zM137.95 931.97h1.94v14.74H137.95zM162.52 931.97h1.94v14.74H162.52zM185.2 931.97h1.94v14.74H185.2zM205.98 931.97h1.94v14.74H205.98zM213.54 931.97h1.94v14.74H213.54zM253.23 931.97h3.83v14.74H253.23zM260.79 931.97h3.83v14.74H260.79zM279.69 931.97h1.94v14.74H279.69zM304.26 931.97h1.94v14.74H304.26zM315.59 931.97h1.94v14.74H315.59zM340.16 931.97h1.94v14.74H340.16zM343.94 931.97h1.94v14.74H343.94zM37.79 946.71h1.94v14.74H37.79zM88.82 946.71h1.94v14.74H88.82zM96.37 946.71h3.83v14.74H96.37zM119.05 946.71h1.94v14.74H119.05zM141.73 946.71h1.94v14.74H141.73zM153.07 946.71h1.94v14.74H153.07zM170.08 946.71h1.94v14.74H170.08zM173.86 946.71h1.94v14.74H173.86zM188.98 946.71h1.94v14.74H188.98zM196.54 946.71h1.94v14.74H196.54zM211.65 946.71h3.83v14.74H211.65zM217.32 946.71h1.94v14.74H217.32zM238.11 946.71h1.94v14.74H238.11zM241.89 946.71h3.83v14.74H241.89zM249.45 946.71h1.94v14.74H249.45zM257.01 946.71h1.94v14.74H257.01zM260.79 946.71h1.94v14.74H260.79zM298.59 946.71h1.94v14.74H298.59zM323.15 946.71h1.94v14.74H323.15zM43.46 961.45h1.94v14.74H43.46zM77.48 961.45h1.94v14.74H77.48zM85.04 961.45h1.94v14.74H85.04zM88.82 961.45h1.94v14.74H88.82zM92.59 961.45h1.94v14.74H92.59zM96.37 961.45h1.94v14.74H96.37zM103.93 961.45h1.94v14.74H103.93zM113.38 961.45h1.94v14.74H113.38zM143.62 961.45h1.94v14.74H143.62zM156.85 961.45h1.94v14.74H156.85zM188.98 961.45h1.94v14.74H188.98zM204.09 961.45h3.83v14.74H204.09zM215.43 961.45h1.94v14.74H215.43zM258.9 961.45h1.94v14.74H258.9zM264.57 961.45h1.94v14.74H264.57zM296.7 961.45h1.94v14.74H296.7zM306.15 961.45h1.94v14.74H306.15zM362.84 961.45h1.94v14.74H362.84zM41.57 976.19h1.94v14.74H41.57zM68.03 976.19h1.94v14.74H68.03zM79.37 976.19h3.83v14.74H79.37zM117.16 976.19h1.94v14.74H117.16zM153.07 976.19h1.94v14.74H153.07zM171.97 976.19h1.94v14.74H171.97zM211.65 976.19h1.94v14.74H211.65zM226.77 976.19h1.94v14.74H226.77zM230.55 976.19h1.94v14.74H230.55zM270.24 976.19h1.94v14.74H270.24zM279.69 976.19h1.94v14.74H279.69zM313.71 976.19h1.94v14.74H313.71zM325.04 976.19h1.94v14.74H325.04zM330.71 976.19h1.94v14.74H330.71zM334.49 976.19h1.94v14.74H334.49zM359.06 976.19h1.94v14.74H359.06zM362.84 976.19h1.94v14.74H362.84zM368.51 976.19h1.94v14.74H368.51zM81.26 990.93h1.94v14.74H81.26zM85.04 990.93h3.83v14.74H85.04zM105.82 990.93h1.94v14.74H105.82zM117.16 990.93h1.94v14.74H117.16zM130.39 990.93h3.83v14.74H130.39zM139.84 990.93h1.94v14.74H139.84zM154.96 990.93h1.94v14.74H154.96zM196.54 990.93h1.94v14.74H196.54zM209.76 990.93h1.94v14.74H209.76zM217.32 990.93h1.94v14.74H217.32zM232.44 990.93h1.94v14.74H232.44zM236.22 990.93h1.94v14.74H236.22zM241.89 990.93h1.94v14.74H241.89zM247.56 990.93h1.94v14.74H247.56zM274.02 990.93h3.83v14.74H274.02zM309.93 990.93h1.94v14.74H309.93zM368.51 990.93h1.94v14.74H368.51zM37.79 1005.67h3.83v14.74H37.79zM52.91 1005.67h1.94v14.74H52.91zM83.15 1005.67h3.83v14.74H83.15zM100.15 1005.67h1.94v14.74H100.15zM130.39 1005.67h1.94v14.74H130.39zM162.52 1005.67h1.94v14.74H162.52zM204.09 1005.67h1.94v14.74H204.09zM249.45 1005.67h1.94v14.74H249.45zM253.23 1005.67h1.94v14.74H253.23zM268.35 1005.67h1.94v14.74H268.35zM287.25 1005.67h1.94v14.74H287.25zM292.92 1005.67h1.94v14.74H292.92zM298.59 1005.67h1.94v14.74H298.59zM332.6 1005.67h1.94v14.74H332.6zM343.94 1005.67h3.83v14.74H343.94zM35.9 1020.41h1.94v14.74H35.9zM39.68 1020.41h1.94v14.74H39.68zM51.02 1020.41h1.94v14.74H51.02zM54.8 1020.41h1.94v14.74H54.8zM66.14 1020.41h1.94v14.74H66.14zM102.04 1020.41h1.94v14.74H102.04zM124.72 1020.41h1.94v14.74H124.72zM128.5 1020.41h3.83v14.74H128.5zM158.74 1020.41h3.83v14.74H158.74zM175.75 1020.41h1.94v14.74H175.75zM179.53 1020.41h1.94v14.74H179.53zM188.98 1020.41h1.94v14.74H188.98zM200.32 1020.41h1.94v14.74H200.32zM209.76 1020.41h1.94v14.74H209.76zM234.33 1020.41h1.94v14.74H234.33zM249.45 1020.41h1.94v14.74H249.45zM253.23 1020.41h3.83v14.74H253.23zM275.91 1020.41h1.94v14.74H275.91zM279.69 1020.41h1.94v14.74H279.69zM300.48 1020.41h1.94v14.74H300.48zM311.82 1020.41h1.94v14.74H311.82zM315.59 1020.41h3.83v14.74H315.59zM330.71 1020.41h1.94v14.74H330.71zM336.38 1020.41h1.94v14.74H336.38zM340.16 1020.41h1.94v14.74H340.16zM343.94 1020.41h1.94v14.74H343.94zM359.06 1020.41h3.83v14.74H359.06zM58.58 1035.15h1.94v14.74H58.58zM83.15 1035.15h1.94v14.74H83.15zM96.37 1035.15h1.94v14.74H96.37zM120.94 1035.15h1.94v14.74H120.94zM130.39 1035.15h1.94v14.74H130.39zM141.73 1035.15h1.94v14.74H141.73zM151.18 1035.15h3.83v14.74H151.18zM164.41 1035.15h5.72v14.74H164.41zM173.86 1035.15h1.94v14.74H173.86zM211.65 1035.15h1.94v14.74H211.65zM251.34 1035.15h1.94v14.74H251.34zM279.69 1035.15h1.94v14.74H279.69zM287.25 1035.15h1.94v14.74H287.25zM292.92 1035.15h1.94v14.74H292.92zM296.7 1035.15h1.94v14.74H296.7zM325.04 1035.15h1.94v14.74H325.04zM355.28 1035.15h3.83v14.74H355.28zM360.95 1035.15h1.94v14.74H360.95zM73.7 1049.9h1.94v14.74H73.7zM79.37 1049.9h1.94v14.74H79.37zM83.15 1049.9h1.94v14.74H83.15zM86.93 1049.9h1.94v14.74H86.93zM98.26 1049.9h1.94v14.74H98.26zM136.06 1049.9h1.94v14.74H136.06zM149.29 1049.9h1.94v14.74H149.29zM181.42 1049.9h1.94v14.74H181.42zM207.87 1049.9h1.94v14.74H207.87zM219.21 1049.9h1.94v14.74H219.21zM268.35 1049.9h3.83v14.74H268.35zM275.91 1049.9h1.94v14.74H275.91zM287.25 1049.9h1.94v14.74H287.25zM294.81 1049.9h1.94v14.74H294.81zM304.26 1049.9h1.94v14.74H304.26zM315.59 1049.9h1.94v14.74H315.59zM319.37 1049.9h1.94v14.74H319.37zM336.38 1049.9h1.94v14.74H336.38zM349.61 1049.9h1.94v14.74H349.61zM39.68 1064.64h1.94v14.74H39.68zM47.24 1064.64h1.94v14.74H47.24zM58.58 1064.64h1.94v14.74H58.58zM77.48 1064.64h1.94v14.74H77.48zM92.59 1064.64h3.83v14.74H92.59zM98.26 1064.64h1.94v14.74H98.26zM183.31 1064.64h1.94v14.74H183.31zM187.09 1064.64h1.94v14.74H187.09zM190.87 1064.64h1.94v14.74H190.87zM207.87 1064.64h1.94v14.74H207.87zM245.67 1064.64h1.94v14.74H245.67zM257.01 1064.64h1.94v14.74H257.01zM272.13 1064.64h1.94v14.74H272.13zM275.91 1064.64h1.94v14.74H275.91zM292.92 1064.64h1.94v14.74H292.92zM302.37 1064.64h1.94v14.74H302.37zM317.48 1064.64h3.83v14.74H317.48zM326.93 1064.64h1.94v14.74H326.93zM340.16 1064.64h1.94v14.74H340.16zM368.51 1064.64h1.94v14.74H368.51zM39.68 1079.38h3.83v14.74H39.68zM47.24 1079.38h1.94v14.74H47.24zM62.36 1079.38h1.94v14.74H62.36zM132.28 1079.38h1.94v14.74H132.28zM141.73 1079.38h1.94v14.74H141.73zM204.09 1079.38h1.94v14.74H204.09zM219.21 1079.38h1.94v14.74H219.21zM226.77 1079.38h1.94v14.74H226.77zM236.22 1079.38h1.94v14.74H236.22zM240 1094.12h1.94v14.74H240zM334.49 1108.86h1.94v14.74H334.49z" fill="#5783B6"/>
<path d="M219.21 799.3h1.94v14.74H219.21zM228.66 799.3h1.94v14.74H228.66zM249.45 799.3h1.94v14.74H249.45zM260.79 799.3h3.83v14.74H260.79zM64.25 1064.64h1.94v14.74H64.25zM198.43 1064.64h1.94v14.74H198.43zM315.59 1079.38h1.94v14.74H315.59zM49.13 1094.12h1.94v14.74H49.13zM68.03 1094.12h1.94v14.74H68.03zM126.61 1094.12h1.94v14.74H126.61zM137.95 1094.12h1.94v14.74H137.95zM153.07 1094.12h1.94v14.74H153.07zM164.41 1094.12h1.94v14.74H164.41zM188.98 1094.12h1.94v14.74H188.98zM56.69 1108.86h1.94v14.74H56.69zM66.14 1108.86h1.94v14.74H66.14zM69.92 1108.86h1.94v14.74H69.92zM86.93 1108.86h1.94v14.74H86.93zM368.51 1108.86h1.94v14.74H368.51z" fill="#E6F5ED"/>
<path d="M221.1 799.3h1.94v14.74H221.1zM251.34 799.3h1.94v14.74H251.34zM132.28 1020.41h1.94v14.74H132.28zM313.71 1020.41h1.94v14.74H313.71zM353.39 1020.41h1.94v14.74H353.39zM73.7 1035.15h1.94v14.74H73.7zM281.58 1049.9h1.94v14.74H281.58zM37.79 1064.64h1.94v14.74H37.79zM232.44 1064.64h1.94v14.74H232.44zM328.82 1064.64h1.94v14.74H328.82zM274.02 1079.38h1.94v14.74H274.02zM283.47 1079.38h1.94v14.74H283.47zM69.92 1094.12h1.94v14.74H69.92zM79.37 1094.12h1.94v14.74H79.37zM94.48 1108.86h1.94v14.74H94.48zM102.04 1108.86h1.94v14.74H102.04zM126.61 1108.86h1.94v14.74H126.61zM132.28 1108.86h1.94v14.74H132.28zM156.85 1108.86h1.94v14.74H156.85zM162.52 1108.86h1.94v14.74H162.52zM170.08 1108.86h1.94v14.74H170.08zM181.42 1108.86h1.94v14.74H181.42zM185.2 1108.86h1.94v14.74H185.2zM204.09 1108.86h1.94v14.74H204.09zM251.34 1108.86h1.94v14.74H251.34z" fill="#E3F4F2"/>
<path d="M222.99 799.3h1.94v14.74H222.99zM247.56 799.3h1.94v14.74H247.56zM270.24 1079.38h1.94v14.74H270.24zM291.03 1079.38h3.83v14.74H291.03zM343.94 1079.38h1.94v14.74H343.94zM364.73 1079.38h1.94v14.74H364.73zM39.68 1094.12h1.94v14.74H39.68zM71.81 1094.12h1.94v14.74H71.81zM117.16 1094.12h1.94v14.74H117.16zM136.06 1094.12h1.94v14.74H136.06zM185.2 1094.12h1.94v14.74H185.2zM198.43 1094.12h1.94v14.74H198.43zM202.21 1094.12h1.94v14.74H202.21zM81.26 1108.86h3.83v14.74H81.26zM90.71 1108.86h1.94v14.74H90.71z" fill="#F9FDCA"/>
<path d="M226.77 799.3h1.94v14.74H226.77zM236.22 799.3h1.94v14.74H236.22zM258.9 799.3h1.94v14.74H258.9z" fill="#FC955E"/>
<path d="M230.55 799.3h1.94v14.74H230.55zM277.8 1079.38h1.94v14.74H277.8zM302.37 1079.38h1.94v14.74H302.37zM311.82 1079.38h1.94v14.74H311.82zM319.37 1079.38h1.94v14.74H319.37zM353.39 1079.38h1.94v14.74H353.39zM139.84 1094.12h1.94v14.74H139.84zM200.32 1094.12h1.94v14.74H200.32zM122.83 1108.86h1.94v14.74H122.83z" fill="#FFFCBA"/>
<path d="M238.11 799.3h1.94v14.74H238.11zM85.04 1020.41h1.94v14.74H85.04zM279.69 1079.38h1.94v14.74H279.69zM360.95 1079.38h1.94v14.74H360.95zM51.02 1094.12h1.94v14.74H51.02zM58.58 1094.12h1.94v14.74H58.58zM83.15 1094.12h1.94v14.74H83.15zM90.71 1094.12h1.94v14.74H90.71zM98.26 1094.12h1.94v14.74H98.26zM111.49 1094.12h3.83v14.74H111.49zM147.4 1094.12h1.94v14.74H147.4zM168.19 1094.12h1.94v14.74H168.19zM177.64 1094.12h1.94v14.74H177.64zM183.31 1094.12h1.94v14.74H183.31zM257.01 1094.12h1.94v14.74H257.01zM41.57 1108.86h1.94v14.74H41.57zM79.37 1108.86h1.94v14.74H79.37zM103.93 1108.86h1.94v14.74H103.93zM168.19 1108.86h1.94v14.74H168.19z" fill="#ECF8E1"/>
<path d="M240 799.3h1.94v14.74H240zM287.25 1079.38h1.94v14.74H287.25zM328.82 1079.38h1.94v14.74H328.82zM115.27 1094.12h1.94v14.74H115.27zM119.05 1094.12h1.94v14.74H119.05zM128.5 1094.12h1.94v14.74H128.5zM145.51 1094.12h1.94v14.74H145.51zM215.43 1094.12h1.94v14.74H215.43zM43.46 1108.86h1.94v14.74H43.46zM92.59 1108.86h1.94v14.74H92.59zM111.49 1108.86h3.83v14.74H111.49zM145.51 1108.86h1.94v14.74H145.51zM175.75 1108.86h1.94v14.74H175.75zM209.76 1108.86h1.94v14.74H209.76z" fill="#F6FBD0"/>
<path d="M241.89 799.3h1.94v14.74H241.89zM298.59 1079.38h1.94v14.74H298.59zM325.04 1079.38h3.83v14.74H325.04zM340.16 1079.38h1.94v14.74H340.16zM215.43 1108.86h1.94v14.74H215.43z" fill="#FFF6B1"/>
<path d="M243.78 799.3h1.94v14.74H243.78zM60.47 1049.9h1.94v14.74H60.47zM321.26 1079.38h1.94v14.74H321.26zM86.93 1094.12h1.94v14.74H86.93zM109.6 1094.12h1.94v14.74H109.6zM120.94 1094.12h1.94v14.74H120.94zM181.42 1094.12h1.94v14.74H181.42zM192.76 1094.12h1.94v14.74H192.76zM258.9 1094.12h1.94v14.74H258.9zM75.59 1108.86h1.94v14.74H75.59zM177.64 1108.86h1.94v14.74H177.64zM187.09 1108.86h1.94v14.74H187.09z" fill="#F0F9DC"/>
<path d="M245.67 799.3h1.94v14.74H245.67zM264.57 799.3h1.94v14.74H264.57zM64.25 1020.41h1.94v14.74H64.25zM153.07 1020.41h1.94v14.74H153.07zM328.82 1020.41h1.94v14.74H328.82zM343.94 1035.15h3.83v14.74H343.94zM103.93 1049.9h1.94v14.74H103.93zM145.51 1049.9h1.94v14.74H145.51zM158.74 1049.9h1.94v14.74H158.74zM213.54 1049.9h1.94v14.74H213.54zM249.45 1049.9h1.94v14.74H249.45zM35.9 1064.64h1.94v14.74H35.9zM86.93 1064.64h1.94v14.74H86.93zM217.32 1064.64h1.94v14.74H217.32zM241.89 1064.64h1.94v14.74H241.89zM336.38 1064.64h1.94v14.74H336.38zM126.61 1079.38h1.94v14.74H126.61zM181.42 1079.38h1.94v14.74H181.42zM94.48 1094.12h1.94v14.74H94.48zM124.72 1094.12h1.94v14.74H124.72zM134.17 1094.12h1.94v14.74H134.17zM209.76 1094.12h1.94v14.74H209.76zM226.77 1094.12h1.94v14.74H226.77zM274.02 1094.12h1.94v14.74H274.02zM313.71 1094.12h1.94v14.74H313.71zM325.04 1094.12h1.94v14.74H325.04zM355.28 1094.12h1.94v14.74H355.28zM62.36 1108.86h1.94v14.74H62.36zM77.48 1108.86h1.94v14.74H77.48zM107.71 1108.86h1.94v14.74H107.71zM119.05 1108.86h1.94v14.74H119.05zM164.41 1108.86h1.94v14.74H164.41zM183.31 1108.86h1.94v14.74H183.31zM232.44 1108.86h1.94v14.74H232.44zM255.12 1108.86h1.94v14.74H255.12zM264.57 1108.86h1.94v14.74H264.57zM342.05 1108.86h1.94v14.74H342.05z" fill="#D0E9F2"/>
<path d="M253.23 799.3h1.94v14.74H253.23zM98.26 1020.41h1.94v14.74H98.26zM306.15 1079.38h1.94v14.74H306.15zM317.48 1079.38h1.94v14.74H317.48zM323.15 1079.38h1.94v14.74H323.15zM41.57 1094.12h1.94v14.74H41.57zM96.37 1094.12h1.94v14.74H96.37zM132.28 1094.12h1.94v14.74H132.28zM154.96 1094.12h1.94v14.74H154.96zM211.65 1094.12h3.83v14.74H211.65zM51.02 1108.86h1.94v14.74H51.02zM54.8 1108.86h1.94v14.74H54.8zM58.58 1108.86h1.94v14.74H58.58zM64.25 1108.86h1.94v14.74H64.25zM71.81 1108.86h1.94v14.74H71.81zM115.27 1108.86h1.94v14.74H115.27zM130.39 1108.86h1.94v14.74H130.39zM136.06 1108.86h1.94v14.74H136.06zM141.73 1108.86h1.94v14.74H141.73zM154.96 1108.86h1.94v14.74H154.96zM166.3 1108.86h1.94v14.74H166.3zM192.76 1108.86h1.94v14.74H192.76zM328.82 1108.86h1.94v14.74H328.82z" fill="#E9F7E7"/>
<path d="M255.12 799.3h1.94v14.74H255.12zM296.7 1079.38h1.94v14.74H296.7zM300.48 1079.38h1.94v14.74H300.48zM345.83 1079.38h1.94v14.74H345.83zM349.61 1079.38h1.94v14.74H349.61zM85.04 1094.12h1.94v14.74H85.04zM143.62 1094.12h1.94v14.74H143.62zM149.29 1094.12h1.94v14.74H149.29zM194.65 1094.12h1.94v14.74H194.65zM105.82 1108.86h1.94v14.74H105.82zM188.98 1108.86h1.94v14.74H188.98z" fill="#FFFFBF"/>
<path d="M257.01 799.3h1.94v14.74H257.01zM266.46 799.3h1.94v14.74H266.46zM58.58 917.23h1.94v14.74H58.58zM168.19 946.71h1.94v14.74H168.19zM171.97 946.71h1.94v14.74H171.97zM185.2 946.71h1.94v14.74H185.2zM257.01 961.45h1.94v14.74H257.01zM111.49 1020.41h1.94v14.74H111.49zM183.31 1020.41h1.94v14.74H183.31zM217.32 1020.41h1.94v14.74H217.32zM323.15 1020.41h1.94v14.74H323.15zM351.5 1020.41h1.94v14.74H351.5zM37.79 1035.15h1.94v14.74H37.79zM43.46 1035.15h1.94v14.74H43.46zM147.4 1035.15h1.94v14.74H147.4zM154.96 1035.15h1.94v14.74H154.96zM315.59 1035.15h1.94v14.74H315.59zM342.05 1035.15h1.94v14.74H342.05zM347.72 1035.15h1.94v14.74H347.72zM124.72 1049.9h1.94v14.74H124.72zM183.31 1049.9h1.94v14.74H183.31zM292.92 1049.9h1.94v14.74H292.92zM360.95 1049.9h1.94v14.74H360.95zM139.84 1064.64h1.94v14.74H139.84zM160.63 1064.64h1.94v14.74H160.63zM168.19 1064.64h1.94v14.74H168.19zM173.86 1064.64h1.94v14.74H173.86zM211.65 1064.64h1.94v14.74H211.65zM289.14 1064.64h1.94v14.74H289.14zM343.94 1064.64h1.94v14.74H343.94zM158.74 1079.38h1.94v14.74H158.74zM162.52 1079.38h1.94v14.74H162.52zM183.31 1079.38h1.94v14.74H183.31zM368.51 1079.38h1.94v14.74H368.51zM43.46 1094.12h1.94v14.74H43.46zM207.87 1094.12h1.94v14.74H207.87zM272.13 1094.12h1.94v14.74H272.13zM281.58 1094.12h1.94v14.74H281.58zM289.14 1094.12h1.94v14.74H289.14zM334.49 1094.12h1.94v14.74H334.49zM37.79 1108.86h1.94v14.74H37.79zM52.91 1108.86h1.94v14.74H52.91zM88.82 1108.86h1.94v14.74H88.82zM137.95 1108.86h1.94v14.74H137.95zM149.29 1108.86h1.94v14.74H149.29zM179.53 1108.86h1.94v14.74H179.53zM234.33 1108.86h1.94v14.74H234.33zM355.28 1108.86h1.94v14.74H355.28z" fill="#C8E3EF"/>
<path d="M270.24 799.3h1.94v14.74H270.24zM296.7 799.3h1.94v14.74H296.7zM92.59 917.23h1.94v14.74H92.59zM102.04 917.23h1.94v14.74H102.04zM162.52 917.23h1.94v14.74H162.52zM171.97 917.23h1.94v14.74H171.97zM289.14 917.23h1.94v14.74H289.14zM325.04 917.23h1.94v14.74H325.04zM73.7 931.97h1.94v14.74H73.7zM160.63 946.71h1.94v14.74H160.63zM68.03 961.45h1.94v14.74H68.03zM228.66 961.45h1.94v14.74H228.66zM251.34 961.45h1.94v14.74H251.34zM281.58 961.45h1.94v14.74H281.58zM360.95 961.45h1.94v14.74H360.95zM364.73 961.45h1.94v14.74H364.73zM69.92 976.19h1.94v14.74H69.92zM311.82 990.93h1.94v14.74H311.82zM96.37 1005.67h1.94v14.74H96.37zM168.19 1005.67h1.94v14.74H168.19zM226.77 1005.67h1.94v14.74H226.77zM277.8 1005.67h1.94v14.74H277.8zM317.48 1005.67h1.94v14.74H317.48zM149.29 1020.41h1.94v14.74H149.29zM173.86 1020.41h1.94v14.74H173.86zM272.13 1020.41h1.94v14.74H272.13zM302.37 1020.41h1.94v14.74H302.37zM325.04 1020.41h1.94v14.74H325.04zM349.61 1020.41h1.94v14.74H349.61zM368.51 1020.41h1.94v14.74H368.51zM86.93 1035.15h1.94v14.74H86.93zM158.74 1035.15h1.94v14.74H158.74zM194.65 1035.15h1.94v14.74H194.65zM241.89 1035.15h1.94v14.74H241.89zM306.15 1035.15h1.94v14.74H306.15zM39.68 1049.9h1.94v14.74H39.68zM64.25 1049.9h1.94v14.74H64.25zM217.32 1049.9h1.94v14.74H217.32zM291.03 1049.9h1.94v14.74H291.03zM296.7 1049.9h1.94v14.74H296.7zM343.94 1049.9h1.94v14.74H343.94zM45.35 1064.64h1.94v14.74H45.35zM130.39 1064.64h3.83v14.74H130.39zM147.4 1064.64h1.94v14.74H147.4zM151.18 1064.64h1.94v14.74H151.18zM219.21 1064.64h1.94v14.74H219.21zM270.24 1064.64h1.94v14.74H270.24zM281.58 1064.64h1.94v14.74H281.58zM355.28 1064.64h1.94v14.74H355.28zM130.39 1079.38h1.94v14.74H130.39zM192.76 1079.38h1.94v14.74H192.76zM213.54 1079.38h1.94v14.74H213.54zM275.91 1079.38h1.94v14.74H275.91zM158.74 1094.12h1.94v14.74H158.74zM222.99 1094.12h3.83v14.74H222.99zM264.57 1094.12h1.94v14.74H264.57zM277.8 1094.12h1.94v14.74H277.8zM285.36 1094.12h3.83v14.74H285.36zM326.93 1094.12h1.94v14.74H326.93zM47.24 1108.86h1.94v14.74H47.24zM73.7 1108.86h1.94v14.74H73.7zM143.62 1108.86h1.94v14.74H143.62zM224.88 1108.86h3.83v14.74H224.88zM230.55 1108.86h1.94v14.74H230.55zM262.68 1108.86h1.94v14.74H262.68zM308.04 1108.86h1.94v14.74H308.04zM323.15 1108.86h1.94v14.74H323.15zM347.72 1108.86h1.94v14.74H347.72z" fill="#B8D9EA"/>
<path d="M302.37 917.23h1.94v14.74H302.37zM275.91 961.45h1.94v14.74H275.91zM204.09 1020.41h1.94v14.74H204.09zM202.21 1035.15h1.94v14.74H202.21zM253.23 1035.15h1.94v14.74H253.23zM319.37 1035.15h1.94v14.74H319.37zM139.84 1049.9h1.94v14.74H139.84zM143.62 1049.9h1.94v14.74H143.62zM241.89 1049.9h1.94v14.74H241.89zM266.46 1049.9h1.94v14.74H266.46zM52.91 1064.64h1.94v14.74H52.91zM79.37 1064.64h1.94v14.74H79.37zM136.06 1064.64h1.94v14.74H136.06zM143.62 1064.64h1.94v14.74H143.62zM154.96 1064.64h1.94v14.74H154.96zM277.8 1064.64h1.94v14.74H277.8zM287.25 1064.64h1.94v14.74H287.25zM136.06 1079.38h1.94v14.74H136.06zM154.96 1079.38h1.94v14.74H154.96zM64.25 1094.12h1.94v14.74H64.25zM73.7 1094.12h1.94v14.74H73.7zM77.48 1094.12h1.94v14.74H77.48zM102.04 1094.12h3.83v14.74H102.04zM160.63 1094.12h1.94v14.74H160.63zM255.12 1094.12h1.94v14.74H255.12zM343.94 1094.12h1.94v14.74H343.94zM45.35 1108.86h1.94v14.74H45.35zM96.37 1108.86h1.94v14.74H96.37zM158.74 1108.86h1.94v14.74H158.74zM213.54 1108.86h1.94v14.74H213.54zM283.47 1108.86h1.94v14.74H283.47z" fill="#D8EEF5"/>
<path d="M245.67 1020.41h1.94v14.74H245.67zM69.92 1035.15h1.94v14.74H69.92zM137.95 1035.15h1.94v14.74H137.95zM264.57 1035.15h1.94v14.74H264.57zM258.9 1049.9h1.94v14.74H258.9zM62.36 1064.64h1.94v14.74H62.36zM296.7 1064.64h1.94v14.74H296.7zM342.05 1064.64h1.94v14.74H342.05zM336.38 1079.38h3.83v14.74H336.38zM60.47 1094.12h1.94v14.74H60.47zM66.14 1094.12h1.94v14.74H66.14zM122.83 1094.12h1.94v14.74H122.83zM156.85 1094.12h1.94v14.74H156.85zM179.53 1094.12h1.94v14.74H179.53zM187.09 1094.12h1.94v14.74H187.09zM190.87 1094.12h1.94v14.74H190.87zM364.73 1094.12h1.94v14.74H364.73zM35.9 1108.86h1.94v14.74H35.9zM100.15 1108.86h1.94v14.74H100.15zM173.86 1108.86h1.94v14.74H173.86zM198.43 1108.86h1.94v14.74H198.43zM236.22 1108.86h1.94v14.74H236.22zM311.82 1108.86h1.94v14.74H311.82z" fill="#E0F3F8"/>
<path d="M268.35 1079.38h1.94v14.74H268.35zM272.13 1079.38h1.94v14.74H272.13zM289.14 1079.38h1.94v14.74H289.14zM308.04 1079.38h1.94v14.74H308.04zM342.05 1079.38h1.94v14.74H342.05zM359.06 1079.38h1.94v14.74H359.06zM47.24 1094.12h1.94v14.74H47.24zM100.15 1094.12h1.94v14.74H100.15zM60.47 1108.86h1.94v14.74H60.47zM85.04 1108.86h1.94v14.74H85.04z" fill="#FEECA3"/>
<path d="M281.58 1079.38h1.94v14.74H281.58zM81.26 1094.12h1.94v14.74H81.26zM153.07 1108.86h1.94v14.74H153.07z" fill="#FEF0A8"/>
<path d="M285.36 1079.38h1.94v14.74H285.36zM294.81 1079.38h1.94v14.74H294.81zM357.17 1079.38h1.94v14.74H357.17zM52.91 1094.12h1.94v14.74H52.91zM171.97 1094.12h1.94v14.74H171.97zM175.75 1094.12h1.94v14.74H175.75zM196.54 1094.12h1.94v14.74H196.54zM128.5 1108.86h1.94v14.74H128.5zM134.17 1108.86h1.94v14.74H134.17zM139.84 1108.86h1.94v14.74H139.84zM196.54 1108.86h1.94v14.74H196.54z" fill="#F3FAD6"/>
<path d="M309.93 1079.38h1.94v14.74H309.93zM313.71 1079.38h1.94v14.74H313.71zM35.9 1094.12h1.94v14.74H35.9zM92.59 1094.12h1.94v14.74H92.59zM130.39 1094.12h1.94v14.74H130.39z" fill="#FEE699"/>
<path d="M332.6 1079.38h1.94v14.74H332.6zM37.79 1094.12h1.94v14.74H37.79zM56.69 1094.12h1.94v14.74H56.69zM75.59 1094.12h1.94v14.74H75.59zM151.18 1094.12h1.94v14.74H151.18zM166.3 1094.12h1.94v14.74H166.3zM170.08 1094.12h1.94v14.74H170.08zM204.09 1094.12h1.94v14.74H204.09zM207.87 1108.86h1.94v14.74H207.87z" fill="#FFF9B6"/>
<path d="M334.49 1079.38h1.94v14.74H334.49zM351.5 1079.38h1.94v14.74H351.5zM355.28 1079.38h1.94v14.74H355.28zM45.35 1094.12h1.94v14.74H45.35zM54.8 1094.12h1.94v14.74H54.8zM88.82 1094.12h1.94v14.74H88.82zM107.71 1094.12h1.94v14.74H107.71zM141.73 1094.12h1.94v14.74H141.73zM147.4 1108.86h1.94v14.74H147.4zM160.63 1108.86h1.94v14.74H160.63zM171.97 1108.86h1.94v14.74H171.97z" fill="#FCFEC5"/>
<path d="M347.72 1079.38h1.94v14.74H347.72z" fill="#FEE99E"/>
<path d="M362.84 1079.38h1.94v14.74H362.84zM366.62 1079.38h1.94v14.74H366.62zM105.82 1094.12h1.94v14.74H105.82zM205.98 1094.12h1.94v14.74H205.98zM39.68 1108.86h1.94v14.74H39.68z" fill="#FFF3AC"/>
<path d="M62.36 1094.12h1.94v14.74H62.36zM173.86 1094.12h1.94v14.74H173.86z" fill="#FEE090"/>
<text x="373.6" y="808.47" font-size="8" fill="#111">B cells naive</text>
<text x="373.6" y="823.21" font-size="8" fill="#111">Mast cells activated</text>
<text x="373.6" y="837.95" font-size="8" fill="#111">Neutrophils</text>
<text x="373.6" y="852.69" font-size="8" fill="#111">T cells CD4 naive</text>
<text x="373.6" y="867.43" font-size="8" fill="#111">T cells follicular helper</text>
<text x="373.6" y="882.17" font-size="8" fill="#111">T cells CD4 memory activated</text>
<text x="373.6" y="896.92" font-size="8" fill="#111">T cells gamma delta</text>
<text x="373.6" y="911.66" font-size="8" fill="#111">Eosinophils</text>
<text x="373.6" y="926.4" font-size="8" fill="#111">NK cells resting</text>
<text x="373.6" y="941.14" font-size="8" fill="#111">B cells memory</text>
<text x="373.6" y="955.88" font-size="8" fill="#111">Plasma cells</text>
<text x="373.6" y="970.62" font-size="8" fill="#111">T cells regulatory (Tregs)</text>
<text x="373.6" y="985.36" font-size="8" fill="#111">NK cells activated</text>
<text x="373.6" y="1000.1" font-size="8" fill="#111">Dendritic cells resting</text>
<text x="373.6" y="1014.84" font-size="8" fill="#111">Dendritic cells activated</text>
<text x="373.6" y="1029.58" font-size="8" fill="#111">Monocytes</text>
<text x="373.6" y="1044.32" font-size="8" fill="#111">Mast cells resting</text>
<text x="373.6" y="1059.07" font-size="8" fill="#111">T cells CD8</text>
<text x="373.6" y="1073.81" font-size="8" fill="#111">Macrophages M1</text>
<text x="373.6" y="1088.55" font-size="8" fill="#111">Macrophages M0</text>
<text x="373.6" y="1103.29" font-size="8" fill="#111">T cells CD4 memory resting</text>
<text x="373.6" y="1118.03" font-size="8" fill="#111">Macrophages M2</text>
<rect x="217.32" y="799.5" width="51.03" height="14.34" fill="none" stroke="#E41A1C" stroke-width="1.6"/>
<rect x="266.85" y="1079.38" width="102.55" height="14.74" fill="none" stroke="#E41A1C" stroke-width="1.6"/>
<rect x="34.6" y="1093.92" width="181.92" height="29.48" fill="none" stroke="#E41A1C" stroke-width="1.6"/>
<line x1="290.8" y1="1079.38" x2="290.8" y2="1094.12" stroke="#E41A1C" stroke-width="1.2"/>
<line x1="321.1" y1="1079.38" x2="321.1" y2="1094.12" stroke="#E41A1C" stroke-width="1.2"/>
<line x1="351.9" y1="1079.38" x2="351.9" y2="1094.12" stroke="#E41A1C" stroke-width="1.2"/>
<path d="M10.4 799.5L10.4 1122.6M10.4 799.5L35.5 799.5M10.4 1122.6L33 1122.6M11.4 885.2L11.4 1096.5M11.4 885.2L28.4 885.2M11.4 1096.5L28.4 1096.5M28.4 807.4L28.4 965M28.4 807.4L35.5 807.4M28.4 1085.4L28.4 1107.8M28.4 1085.4L35.5 1085.4M28.4 1107.8L30.5 1107.8M30.5 1100.4L30.5 1115.3M30.5 1100.4L35.5 1100.4M30.5 1115.3L35.5 1115.3M29.8 888L29.8 960M33.5 830L33.5 1070M32.5 905L32.5 1000M30.8 1000L30.8 1060" stroke="#9A9A9A" stroke-width="0.9" fill="none"/>
<text x="456.3" y="827.6" font-size="8.2" fill="#111">TMECluster</text>
<rect x="463.8" y="832.2" width="8.3" height="7.55" fill="#A6C9E1"/>
<text x="474.4" y="838.5" font-size="8.2" fill="#111">1</text>
<rect x="463.8" y="839.75" width="8.3" height="7.55" fill="#ABD38E"/>
<text x="474.4" y="846.05" font-size="8.2" fill="#111">2</text>
<rect x="463.8" y="847.3" width="8.3" height="7.55" fill="#2770AC"/>
<text x="474.4" y="853.6" font-size="8.2" fill="#111">3</text>
<defs><linearGradient id="hm" x1="0" y1="1" x2="0" y2="0"><stop offset="0" stop-color="rgb(72, 116, 173)"/><stop offset="0.17" stop-color="rgb(145, 191, 219)"/><stop offset="0.33" stop-color="rgb(224, 243, 248)"/><stop offset="0.5" stop-color="rgb(255, 255, 191)"/><stop offset="0.67" stop-color="rgb(254, 224, 144)"/><stop offset="0.83" stop-color="rgb(252, 141, 89)"/><stop offset="1" stop-color="rgb(215, 48, 39)"/></linearGradient></defs>
<rect x="466.1" y="906.7" width="7" height="77.7" fill="url(#hm)"/>
<text x="477.5" y="911.3" font-size="8.2" fill="#111">0.6</text>
<text x="477.5" y="923.75" font-size="8.2" fill="#111">0.5</text>
<text x="477.5" y="936.2" font-size="8.2" fill="#111">0.4</text>
<text x="477.5" y="948.65" font-size="8.2" fill="#111">0.3</text>
<text x="477.5" y="961.1" font-size="8.2" fill="#111">0.2</text>
<text x="477.5" y="973.55" font-size="8.2" fill="#111">0.1</text>
<text x="477.5" y="986" font-size="8.2" fill="#111">0</text><text x="512.3" y="805.6" font-size="21.5" font-weight="bold">F</text>
<line x1="545.4" y1="815" x2="545.4" y2="996.6" stroke="#333" stroke-width="0.9"/>
<line x1="545" y1="996.3" x2="787" y2="996.3" stroke="#333" stroke-width="0.9"/>
<text x="542.7" y="823" font-size="7.8" text-anchor="end" fill="#333" textLength="12.9" lengthAdjust="spacingAndGlyphs">1.00</text>
<line x1="543.6" y1="820.2" x2="545.4" y2="820.2" stroke="#333" stroke-width="0.8"/>
<text x="542.7" y="864.85" font-size="7.8" text-anchor="end" fill="#333" textLength="12.9" lengthAdjust="spacingAndGlyphs">0.75</text>
<line x1="543.6" y1="862.05" x2="545.4" y2="862.05" stroke="#333" stroke-width="0.8"/>
<text x="542.7" y="906.7" font-size="7.8" text-anchor="end" fill="#333" textLength="12.9" lengthAdjust="spacingAndGlyphs">0.50</text>
<line x1="543.6" y1="903.9" x2="545.4" y2="903.9" stroke="#333" stroke-width="0.8"/>
<text x="542.7" y="948.55" font-size="7.8" text-anchor="end" fill="#333" textLength="12.9" lengthAdjust="spacingAndGlyphs">0.25</text>
<line x1="543.6" y1="945.75" x2="545.4" y2="945.75" stroke="#333" stroke-width="0.8"/>
<text x="542.7" y="990.4" font-size="7.8" text-anchor="end" fill="#333" textLength="12.9" lengthAdjust="spacingAndGlyphs">0.00</text>
<line x1="543.6" y1="987.6" x2="545.4" y2="987.6" stroke="#333" stroke-width="0.8"/>
<line x1="555.8" y1="996.3" x2="555.8" y2="998.2" stroke="#333" stroke-width="0.8"/>
<text x="555.8" y="1004.5" font-size="7.8" text-anchor="middle" fill="#333" textLength="3.69" lengthAdjust="spacingAndGlyphs">0</text>
<line x1="629.53" y1="996.3" x2="629.53" y2="998.2" stroke="#333" stroke-width="0.8"/>
<text x="629.53" y="1004.5" font-size="7.8" text-anchor="middle" fill="#333" textLength="14.75" lengthAdjust="spacingAndGlyphs">1000</text>
<line x1="703.26" y1="996.3" x2="703.26" y2="998.2" stroke="#333" stroke-width="0.8"/>
<text x="703.26" y="1004.5" font-size="7.8" text-anchor="middle" fill="#333" textLength="14.75" lengthAdjust="spacingAndGlyphs">2000</text>
<line x1="776.99" y1="996.3" x2="776.99" y2="998.2" stroke="#333" stroke-width="0.8"/>
<text x="776.99" y="1004.5" font-size="7.8" text-anchor="middle" fill="#333" textLength="14.75" lengthAdjust="spacingAndGlyphs">3000</text>
<text x="666.2" y="1013.6" font-size="8.2" text-anchor="middle" fill="#111" textLength="14.6" lengthAdjust="spacingAndGlyphs">Time</text>
<text transform="translate(516.9 906.6) rotate(-90)" font-size="12.6" text-anchor="middle" textLength="100.3" lengthAdjust="spacingAndGlyphs">Survival probability</text>
<path d="M555.8 820.2H562.44V823.55H564.8V828.57H566.86V833.59H568.78V840.29H571.65V845.31H574.31V850.33H576.44V853.68H578.07V858.7H580.13V863.72H581.83V870.42H583.82V875.44H585.59V878.79H587.5V883.81H589.27V890.51H591.19V897.2H593.03V903.9H594.88V908.92H596.72V912.27H598.56V917.29H600.41V920.64H602.99V923.99H606.01V929.01H607.78V934.03H609.7V939.05H611.54V944.08H638.3V965.84H705.25V987.6" fill="none" stroke="#6C95D8" stroke-width="1.1"/>
<path d="M556.41 820.2h3.2M558.01 818.6v3.2M585.9 883.81h3.2M587.5 882.21v3.2M593.28 908.92h3.2M594.88 907.32v3.2M602.12 923.99h3.2M603.72 922.39v3.2M614.66 944.08h3.2M616.26 942.48v3.2M620.56 944.08h3.2M622.16 942.48v3.2M636.7 965.84h3.2M638.3 964.24v3.2" stroke="#6C95D8" stroke-width="0.8"/>
<path d="M555.8 820.2H559.49V826.9H566.86V831.92H568.78V840.29H570.77V853.68H580.35V860.38H591.12V873.77H598.49V890.51H622.67V903.9H653.2V945.75H687.78V945.75" fill="none" stroke="#3DAA3A" stroke-width="1.1"/>
<path d="M557.89 826.9h3.2M559.49 825.3v3.2M580.74 860.38h3.2M582.34 858.78v3.2M583.69 860.38h3.2M585.29 858.78v3.2M588.85 860.38h3.2M590.45 858.78v3.2M595.49 873.77h3.2M597.09 872.17v3.2M601.39 890.51h3.2M602.99 888.91v3.2M622.03 903.9h3.2M623.63 902.3v3.2M626.46 903.9h3.2M628.06 902.3v3.2M645.63 903.9h3.2M647.23 902.3v3.2M649.31 903.9h3.2M650.91 902.3v3.2M686.18 945.75h3.2M687.78 944.15v3.2" stroke="#3DAA3A" stroke-width="0.8"/>
<path d="M555.8 820.2H558.75V823.55H562.44V826.9H565.38V830.24H568.78V836.94H572.76V840.29H576.44V845.31H580.13V853.68H583.96V860.38H587.43V865.4H595.61V870.42H597.38V878.79H599.3V887.16H600.92V895.53H602.77V903.9H604.61V908.92H606.67V913.94H609.62V915.62H611.61V918.97H633.07V923.99H666.62V930.68H715.72V949.94H756.64V949.94" fill="none" stroke="#EE6A62" stroke-width="1.1"/>
<path d="M570.05 836.94h3.2M571.65 835.34v3.2M577.06 845.31h3.2M578.66 843.71v3.2M580.01 853.68h3.2M581.61 852.08v3.2M583.69 860.38h3.2M585.29 858.78v3.2M588.12 865.4h3.2M589.72 863.8v3.2M592.54 865.4h3.2M594.14 863.8v3.2M602.12 903.9h3.2M603.72 902.3v3.2M607.29 913.94h3.2M608.89 912.34v3.2M615.4 918.97h3.2M617 917.37v3.2M622.03 918.97h3.2M623.63 917.37v3.2M624.24 918.97h3.2M625.84 917.37v3.2M626.46 918.97h3.2M628.06 917.37v3.2M629.4 918.97h3.2M631 917.37v3.2M646.36 923.99h3.2M647.96 922.39v3.2M651.52 923.99h3.2M653.12 922.39v3.2M664.79 923.99h3.2M666.39 922.39v3.2M694.29 930.68h3.2M695.89 929.08v3.2M703.87 930.68h3.2M705.47 929.08v3.2M711.24 930.68h3.2M712.84 929.08v3.2M722.3 949.94h3.2M723.9 948.34v3.2M755.04 949.94h3.2M756.64 948.34v3.2" stroke="#EE6A62" stroke-width="0.8"/>
<text x="552.8" y="984.3" font-size="8.6" fill="#111" textLength="79.2" lengthAdjust="spacingAndGlyphs">logrank test, <tspan font-style="italic">p</tspan>=0.0038</text>
<line x1="642" y1="813" x2="648.5" y2="813" stroke="#EE6A62" stroke-width="1"/>
<path d="M643.8 813h2.9M645.25 811.6v1.4" stroke="#EE6A62" stroke-width="0.8"/>
<text x="651.7" y="815.9" font-size="8.8" fill="#111" textLength="25.5" lengthAdjust="spacingAndGlyphs">Cluster 1</text>
<line x1="688.5" y1="813" x2="695" y2="813" stroke="#3DAA3A" stroke-width="1"/>
<path d="M690.3 813h2.9M691.75 811.6v1.4" stroke="#3DAA3A" stroke-width="0.8"/>
<text x="697.9" y="815.9" font-size="8.8" fill="#111" textLength="26.1" lengthAdjust="spacingAndGlyphs">Cluster 2</text>
<line x1="733.5" y1="813" x2="740" y2="813" stroke="#6C95D8" stroke-width="1"/>
<path d="M735.3 813h2.9M736.75 811.6v1.4" stroke="#6C95D8" stroke-width="0.8"/>
<text x="742.9" y="815.9" font-size="8.8" fill="#111" textLength="25.8" lengthAdjust="spacingAndGlyphs">Cluster 3</text>
<text x="582.6" y="1030.6" font-size="7.6" fill="#111" textLength="42.6" lengthAdjust="spacingAndGlyphs">Number at risk</text>
<line x1="578.8" y1="1035.8" x2="578.8" y2="1079.9" stroke="#333" stroke-width="0.9"/>
<line x1="578.5" y1="1079.7" x2="758.5" y2="1079.7" stroke="#333" stroke-width="0.9"/>
<text x="576.5" y="1045.6" font-size="8.6" text-anchor="end" fill="#EE6A62" textLength="23.6" lengthAdjust="spacingAndGlyphs">Cluster1</text>
<line x1="577.5" y1="1042.5" x2="578.8" y2="1042.5" stroke="#333" stroke-width="0.6"/>
<text x="588.4" y="1045.9" font-size="8.8" text-anchor="middle" fill="#111" textLength="7.83" lengthAdjust="spacingAndGlyphs">96</text>
<text x="642.4" y="1045.9" font-size="8.8" text-anchor="middle" fill="#111" textLength="7.83" lengthAdjust="spacingAndGlyphs">15</text>
<text x="697.1" y="1045.9" font-size="8.8" text-anchor="middle" fill="#111" textLength="3.92" lengthAdjust="spacingAndGlyphs">5</text>
<text x="751.8" y="1045.9" font-size="8.8" text-anchor="middle" fill="#111" textLength="3.92" lengthAdjust="spacingAndGlyphs">0</text>
<text x="576.5" y="1060.3" font-size="8.6" text-anchor="end" fill="#3DAA3A" textLength="23.6" lengthAdjust="spacingAndGlyphs">Cluster2</text>
<line x1="577.5" y1="1057.2" x2="578.8" y2="1057.2" stroke="#333" stroke-width="0.6"/>
<text x="588.4" y="1060.6" font-size="8.8" text-anchor="middle" fill="#111" textLength="7.83" lengthAdjust="spacingAndGlyphs">27</text>
<text x="642.4" y="1060.6" font-size="8.8" text-anchor="middle" fill="#111" textLength="3.92" lengthAdjust="spacingAndGlyphs">5</text>
<text x="697.1" y="1060.6" font-size="8.8" text-anchor="middle" fill="#111" textLength="3.92" lengthAdjust="spacingAndGlyphs">0</text>
<text x="751.8" y="1060.6" font-size="8.8" text-anchor="middle" fill="#111" textLength="3.92" lengthAdjust="spacingAndGlyphs">0</text>
<text x="576.5" y="1074.6" font-size="8.6" text-anchor="end" fill="#6C95D8" textLength="23.6" lengthAdjust="spacingAndGlyphs">Cluster3</text>
<line x1="577.5" y1="1071.5" x2="578.8" y2="1071.5" stroke="#333" stroke-width="0.6"/>
<text x="588.4" y="1074.9" font-size="8.8" text-anchor="middle" fill="#111" textLength="7.83" lengthAdjust="spacingAndGlyphs">54</text>
<text x="642.4" y="1074.9" font-size="8.8" text-anchor="middle" fill="#111" textLength="3.92" lengthAdjust="spacingAndGlyphs">3</text>
<text x="697.1" y="1074.9" font-size="8.8" text-anchor="middle" fill="#111" textLength="3.92" lengthAdjust="spacingAndGlyphs">1</text>
<text x="751.8" y="1074.9" font-size="8.8" text-anchor="middle" fill="#111" textLength="3.92" lengthAdjust="spacingAndGlyphs">0</text>
<line x1="588.4" y1="1079.7" x2="588.4" y2="1081.6" stroke="#333" stroke-width="0.7"/>
<text x="588.4" y="1088.3" font-size="7.8" text-anchor="middle" fill="#111" textLength="3.69" lengthAdjust="spacingAndGlyphs">0</text>
<line x1="642.4" y1="1079.7" x2="642.4" y2="1081.6" stroke="#333" stroke-width="0.7"/>
<text x="642.4" y="1088.3" font-size="7.8" text-anchor="middle" fill="#111" textLength="14.75" lengthAdjust="spacingAndGlyphs">1000</text>
<line x1="697.1" y1="1079.7" x2="697.1" y2="1081.6" stroke="#333" stroke-width="0.7"/>
<text x="697.1" y="1088.3" font-size="7.8" text-anchor="middle" fill="#111" textLength="14.75" lengthAdjust="spacingAndGlyphs">2000</text>
<line x1="751.8" y1="1079.7" x2="751.8" y2="1081.6" stroke="#333" stroke-width="0.7"/>
<text x="751.8" y="1088.3" font-size="7.8" text-anchor="middle" fill="#111" textLength="14.75" lengthAdjust="spacingAndGlyphs">3000</text>
<text x="667.3" y="1095" font-size="8.2" text-anchor="middle" fill="#111" textLength="14.6" lengthAdjust="spacingAndGlyphs">Time</text>
<text transform="translate(549.6 1057.8) rotate(-90)" font-size="7.6" text-anchor="middle" fill="#111" textLength="18.4" lengthAdjust="spacingAndGlyphs">Strata</text>
</svg></body></html>
